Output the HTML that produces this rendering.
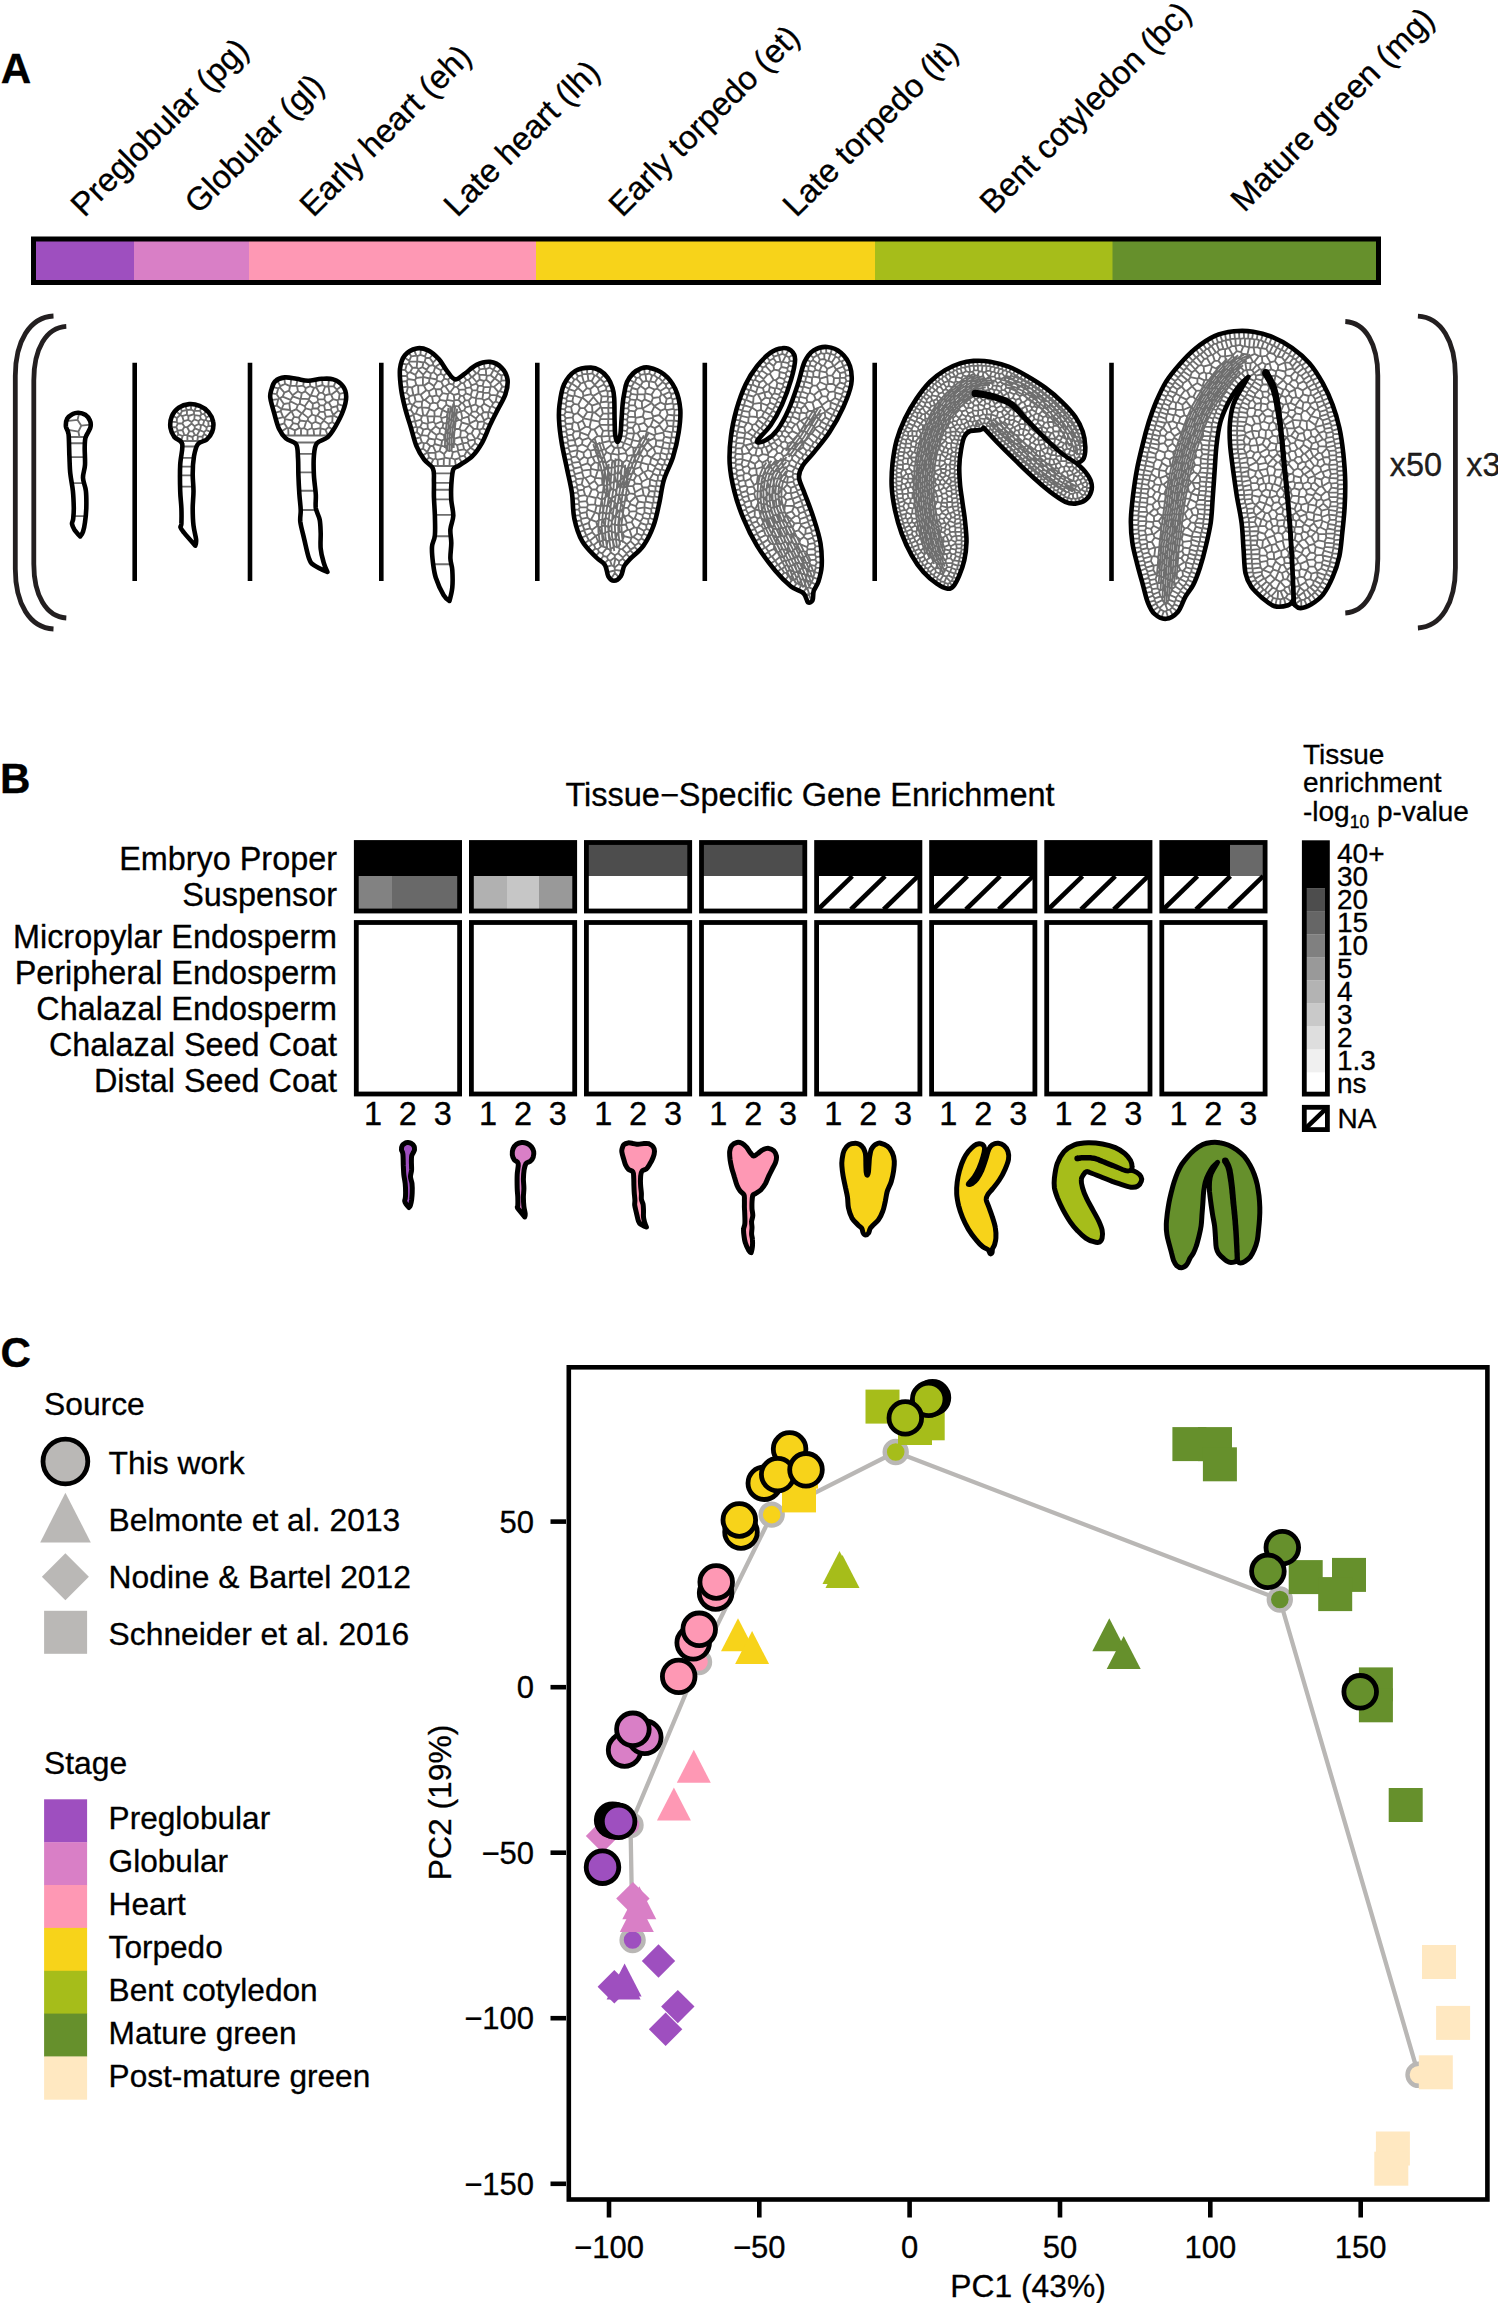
<!DOCTYPE html>
<html lang="en"><head><meta charset="utf-8"><title>Figure</title>
<style>html,body{margin:0;padding:0;background:#fff}svg{display:block}text{font-family:"Liberation Sans", sans-serif;stroke:#000;stroke-width:.3px}</style></head>
<body>
<svg width="1498" height="2303" viewBox="0 0 1498 2303" font-family='"Liberation Sans", sans-serif' fill="#000">
<g id="panelA">
<text x="0.8" y="82.5" font-size="42.2" text-anchor="start" font-weight="bold" >A</text>
<text font-size="32.8" transform="translate(84.3 218.3) rotate(-45)">Preglobular (pg)</text>
<text font-size="32.8" transform="translate(198.3 215.3) rotate(-45)">Globular (gl)</text>
<text font-size="32.8" transform="translate(313.3 218.3) rotate(-45)">Early heart (eh)</text>
<text font-size="32.8" transform="translate(457.3 218.3) rotate(-45)">Late heart (lh)</text>
<text font-size="32.8" transform="translate(622.3 218.3) rotate(-45)">Early torpedo (et)</text>
<text font-size="32.8" transform="translate(796.3 218.3) rotate(-45)">Late torpedo (lt)</text>
<text font-size="32.8" transform="translate(993.3 215.3) rotate(-45)">Bent cotyledon (bc)</text>
<text font-size="32.8" transform="translate(1244.3 213.3) rotate(-45)">Mature green (mg)</text>
<rect x="33.5" y="239" width="101.0" height="43.5" fill="#9e4fbf"/>
<rect x="134.0" y="239" width="115.5" height="43.5" fill="#d97fc6"/>
<rect x="249.0" y="239" width="287.5" height="43.5" fill="#fe98b4"/>
<rect x="536.0" y="239" width="339.5" height="43.5" fill="#f7d31a"/>
<rect x="875.0" y="239" width="238.0" height="43.5" fill="#a6bd1a"/>
<rect x="1112.5" y="239" width="266.5" height="43.5" fill="#66902c"/>
<rect x="33.5" y="239" width="1345" height="43.5" fill="none" stroke="#000" stroke-width="5"/>
<line x1="134.7" y1="362.8" x2="134.7" y2="581" stroke="#000" stroke-width="4.6"/>
<line x1="250.0" y1="362.8" x2="250.0" y2="581" stroke="#000" stroke-width="4.6"/>
<line x1="381.3" y1="362.8" x2="381.3" y2="581" stroke="#000" stroke-width="4.6"/>
<line x1="537.3" y1="362.8" x2="537.3" y2="581" stroke="#000" stroke-width="4.6"/>
<line x1="704.8" y1="362.8" x2="704.8" y2="581" stroke="#000" stroke-width="4.6"/>
<line x1="874.7" y1="362.8" x2="874.7" y2="581" stroke="#000" stroke-width="4.6"/>
<line x1="1111.5" y1="362.8" x2="1111.5" y2="581" stroke="#000" stroke-width="4.6"/>
<path d="M53.5 316.0C29.8 317.2 15.3 341.2 15.3 376.0L15.3 569.0C15.3 603.8 29.8 627.8 53.5 629.0" fill="none" stroke="#231f20" stroke-width="4.8"/>
<path d="M66.3 326.4C46.1 327.5 33.8 349.1 33.8 380.4L33.8 564.0C33.8 595.3 46.1 616.9 66.3 618.0" fill="none" stroke="#231f20" stroke-width="4.8"/>
<path d="M1345.3 321.5C1365.5 322.6 1377.8 344.2 1377.8 375.5L1377.8 559.0C1377.8 590.3 1365.5 611.9 1345.3 613.0" fill="none" stroke="#231f20" stroke-width="4.8"/>
<path d="M1417.9 316.2C1441.2 317.4 1455.4 341.4 1455.4 376.2L1455.4 568.0C1455.4 602.8 1441.2 626.8 1417.9 628.0" fill="none" stroke="#231f20" stroke-width="4.8"/>
<text x="1389.7" y="476.1" font-size="32.4" text-anchor="start" fill="#231f20">x50</text>
<text x="1466.3" y="476.1" font-size="32.4" text-anchor="start" fill="#231f20">x3</text>
<defs>
<pattern id="cells" width="6.4" height="5.6" patternUnits="userSpaceOnUse" patternTransform="rotate(8)"><rect width="6.4" height="5.6" fill="#fff"/><path d="M0 0.7H6.4M0.7 0V5.6" stroke="#6e6e6e" stroke-width="1.4" fill="none"/></pattern>
<path id="e1" d="M68.6 434.5C68.0 429.6 66.2 429.1 65.9 426.5C65.7 423.8 66.1 420.7 67.2 418.7C68.3 416.6 70.8 415.0 72.7 414.0C74.5 413.0 76.4 412.6 78.4 412.7C80.5 412.8 83.3 413.5 85.2 414.7C87.1 416.0 88.9 418.3 89.8 420.2C90.8 422.2 90.9 424.5 90.6 426.5C90.4 428.4 89.2 430.0 88.3 431.9C87.4 433.8 86.0 435.4 85.4 438.0C84.8 440.6 84.8 443.0 84.7 447.5C84.6 452.0 85.3 459.8 85.0 464.9C84.8 469.9 82.8 473.6 83.0 477.9C83.1 482.2 85.4 485.9 85.9 490.9C86.5 496.0 86.4 503.1 86.3 508.3C86.1 513.5 85.6 518.3 85.0 522.2C84.5 526.1 83.8 529.3 83.0 531.7C82.2 534.1 80.2 536.4 80.2 536.4C80.2 536.4 76.0 532.1 74.6 530.0C73.3 527.9 72.3 525.8 72.0 523.9C71.8 522.0 73.0 521.3 73.2 518.7C73.5 516.1 73.8 512.9 73.8 508.3C73.7 503.6 73.5 496.7 72.9 490.9C72.3 485.1 70.9 479.4 70.3 473.6C69.7 467.8 69.7 462.7 69.4 456.2C69.1 449.7 69.1 439.5 68.6 434.5Z"/>
<path id="e2" d="M182.2 444.1C181.3 439.4 176.4 439.9 174.4 437.1C172.5 434.4 170.9 431.0 170.4 427.6C170.0 424.1 170.4 419.6 171.8 416.3C173.2 413.0 175.9 409.6 178.8 407.6C181.7 405.6 185.7 404.4 189.2 404.1C192.7 403.8 196.4 404.6 199.6 405.9C202.8 407.2 206.0 409.3 208.3 411.9C210.5 414.6 212.5 418.2 213.1 421.5C213.8 424.8 213.2 428.9 212.1 431.9C211.0 434.9 208.9 437.7 206.5 439.7C204.2 441.7 199.9 441.3 197.9 444.1C195.8 446.8 194.9 451.3 194.0 456.2C193.2 461.1 192.7 467.8 192.7 473.6C192.6 479.4 193.5 485.1 193.5 490.9C193.5 496.7 192.7 502.5 192.7 508.3C192.7 514.1 192.9 520.4 193.5 525.6C194.1 530.8 195.8 536.2 196.1 539.5C196.4 542.8 195.3 545.6 195.3 545.6C195.3 545.6 186.4 535.6 184.0 532.6C181.5 529.5 180.9 528.8 180.5 527.4C180.1 525.9 181.2 527.1 181.4 523.9C181.5 520.7 181.6 513.8 181.4 508.3C181.2 502.8 180.4 498.2 180.2 490.9C180.0 483.7 179.8 472.7 180.2 464.9C180.5 457.1 183.2 448.7 182.2 444.1Z"/>
<path id="e3" d="M271.3 390.0C272.1 387.3 272.9 383.4 275.2 381.3C277.4 379.2 281.3 377.8 284.8 377.4C288.4 377.0 292.6 378.2 296.5 378.8C300.3 379.3 303.9 380.7 308.1 380.7C312.3 380.7 317.4 379.0 321.6 378.8C325.8 378.6 329.7 378.1 333.2 379.4C336.8 380.6 340.8 383.2 342.9 386.1C345.1 389.0 346.2 392.6 346.2 396.8C346.2 401.0 344.8 406.3 342.9 411.3C341.1 416.3 337.8 422.4 335.2 426.8C332.6 431.2 330.5 434.7 327.4 437.4C324.4 440.2 319.0 440.2 316.8 443.3C314.5 446.3 314.4 450.5 313.9 455.8C313.4 461.2 313.6 468.7 313.9 475.2C314.2 481.6 315.5 489.1 315.8 494.6C316.1 500.0 315.2 503.9 315.8 508.1C316.5 512.3 318.9 515.5 319.7 519.7C320.5 523.9 320.5 528.4 320.7 533.3C320.8 538.1 320.2 543.9 320.7 548.8C321.1 553.6 322.4 558.4 323.6 562.3C324.7 566.2 327.4 572.0 327.4 572.0C327.4 572.0 317.0 567.5 313.9 565.2C310.8 563.0 310.7 562.8 309.0 558.4C307.4 554.1 305.7 545.2 304.2 539.1C302.8 532.9 300.9 526.5 300.3 521.7C299.8 516.8 300.9 514.6 300.7 510.0C300.6 505.5 299.8 500.4 299.4 494.6C299.0 488.7 298.6 481.3 298.4 475.2C298.2 469.1 298.4 462.9 298.0 457.8C297.6 452.6 298.1 447.4 296.1 444.2C294.0 441.0 288.7 441.0 285.8 438.4C283.0 435.8 281.0 432.9 279.0 428.7C277.1 424.5 275.7 418.4 274.2 413.2C272.7 408.1 270.8 401.6 270.3 397.8C269.8 393.9 270.5 392.8 271.3 390.0Z"/>
<path id="e4" d="M400.0 368.7C400.7 363.2 402.1 358.6 404.9 355.2C407.6 351.8 412.6 349.2 416.5 348.4C420.4 347.6 424.4 348.6 428.1 350.3C431.8 352.1 435.5 355.5 438.8 359.0C442.0 362.6 444.7 368.2 447.5 371.6C450.2 375.0 452.3 379.0 455.2 379.4C458.1 379.7 461.3 376.0 464.9 373.6C468.4 371.1 472.3 366.8 476.5 364.8C480.7 362.9 485.9 361.5 490.1 361.9C494.2 362.4 498.8 364.8 501.7 367.8C504.6 370.7 506.8 375.0 507.5 379.4C508.1 383.7 507.2 388.9 505.5 393.9C503.9 398.9 500.4 404.2 497.8 409.4C495.2 414.5 492.6 419.4 490.1 424.9C487.5 430.3 485.2 437.1 482.3 442.3C479.4 447.4 476.5 452.0 472.6 455.8C468.8 459.7 462.3 463.3 459.1 465.5C455.9 467.8 454.6 466.2 453.3 469.4C452.0 472.6 451.7 479.7 451.3 484.9C451.0 490.0 451.0 495.2 451.3 500.4C451.7 505.5 453.4 511.0 453.3 515.8C453.1 520.7 450.7 524.9 450.4 529.4C450.0 533.9 451.3 538.1 451.3 543.0C451.3 547.8 450.2 553.9 450.4 558.4C450.5 563.0 452.0 565.2 452.3 570.1C452.6 574.9 452.8 582.3 452.3 587.5C451.8 592.6 449.4 601.0 449.4 601.0C449.4 601.0 445.9 599.1 443.6 595.2C441.3 591.3 437.6 583.3 435.8 577.8C434.1 572.3 433.6 567.5 432.9 562.3C432.3 557.1 431.7 551.3 432.0 546.8C432.3 542.3 434.4 540.4 434.9 535.2C435.4 530.0 435.0 522.3 434.9 515.8C434.7 509.4 434.1 502.3 433.9 496.5C433.8 490.7 434.1 485.7 433.9 481.0C433.8 476.3 434.6 472.0 432.9 468.4C431.3 464.9 427.0 463.4 424.2 459.7C421.5 456.0 418.7 451.6 416.5 446.2C414.2 440.7 412.6 433.2 410.7 426.8C408.7 420.3 406.5 413.9 404.9 407.4C403.3 401.0 401.8 394.5 401.0 388.1C400.2 381.6 399.4 374.2 400.0 368.7Z"/>
<path id="e5" d="M559.5 404.9C560.3 398.8 561.4 390.1 564.0 384.5C566.7 378.8 571.0 373.7 575.4 370.9C579.8 368.0 586.6 367.7 590.7 367.6C594.8 367.5 597.1 368.8 600.0 370.5C602.9 372.2 605.7 374.9 607.8 377.8C609.9 380.7 611.4 384.6 612.5 388.0C613.6 391.4 613.9 392.8 614.2 398.1C614.6 403.4 614.4 413.9 614.6 420.0C614.8 426.1 614.7 431.3 615.2 435.0C615.7 438.7 616.6 442.0 617.5 442.0C618.4 442.0 619.6 438.7 620.3 435.0C621.0 431.3 621.1 425.3 621.5 420.0C621.9 414.7 622.2 408.1 622.7 403.4C623.2 398.7 623.8 395.6 624.5 392.0C625.2 388.4 625.6 385.1 627.0 382.0C628.4 378.9 630.8 375.7 633.0 373.5C635.2 371.3 637.4 370.0 640.0 369.0C642.6 368.0 644.4 366.7 648.4 367.6C652.4 368.5 659.4 370.7 663.9 374.3C668.4 377.8 672.5 383.1 675.3 389.0C678.0 394.9 679.7 402.3 680.3 409.4C680.8 416.6 679.9 424.2 678.7 432.1C677.5 440.1 675.4 449.2 673.0 457.1C670.5 465.0 666.2 472.2 663.9 479.8C661.6 487.4 661.1 494.9 659.4 502.5C657.7 510.1 656.3 518.0 653.7 525.2C651.1 532.4 647.5 539.9 643.5 545.6C639.5 551.3 633.1 555.8 629.9 559.2C626.7 562.6 625.7 563.2 624.2 566.0C622.7 568.9 622.5 573.8 620.8 576.3C619.1 578.7 616.1 580.8 614.0 580.8C611.9 580.8 609.8 578.9 608.3 576.3C606.8 573.6 607.0 568.1 604.9 564.9C602.8 561.7 599.6 560.9 595.8 557.0C592.0 553.0 585.8 547.5 582.2 541.1C578.6 534.7 576.0 526.3 574.3 518.4C572.6 510.4 573.1 501.4 572.0 493.4C570.9 485.5 569.2 479.0 567.4 470.7C565.7 462.4 563.2 451.8 561.8 443.5C560.4 435.2 559.4 427.2 559.1 420.8C558.7 414.4 558.7 411.0 559.5 404.9Z"/>
<path id="e6" d="M781.9 348.2C785.3 347.8 788.8 348.5 791.0 350.4C793.2 352.3 795.1 354.6 795.1 359.5C795.1 364.4 793.2 372.4 791.0 379.9C788.8 387.5 785.3 397.3 781.9 404.9C778.5 412.5 774.7 419.3 770.6 425.3C766.4 431.4 757.7 438.8 757.0 441.2C756.2 443.7 762.6 442.0 766.0 440.1C769.5 438.2 773.6 435.0 777.4 429.9C781.2 424.8 785.3 417.0 788.7 409.4C792.1 401.9 795.2 392.4 797.8 384.5C800.5 376.5 802.0 367.4 804.6 361.8C807.3 356.1 809.9 352.9 813.7 350.4C817.5 348.0 822.8 346.6 827.3 347.0C831.9 347.4 837.2 349.5 840.9 352.7C844.7 355.9 848.3 361.0 850.0 366.3C851.7 371.6 852.3 377.7 851.2 384.5C850.0 391.3 846.8 399.2 843.2 407.2C839.6 415.1 834.5 424.6 829.6 432.1C824.7 439.7 818.3 446.9 813.7 452.6C809.2 458.2 804.8 462.0 802.4 466.2C799.9 470.3 798.6 473.0 799.0 477.5C799.3 482.1 802.2 486.6 804.6 493.4C807.1 500.2 811.1 510.1 813.7 518.4C816.4 526.7 819.2 535.4 820.5 543.4C821.8 551.3 822.0 559.6 821.7 566.0C821.3 572.5 819.6 577.8 818.3 581.9C816.9 586.1 814.7 588.0 813.7 591.0C812.8 594.0 813.5 598.2 812.6 600.1C811.6 602.0 809.6 603.5 808.0 602.4C806.5 601.2 806.3 595.9 803.5 593.3C800.7 590.6 795.7 590.3 791.0 586.5C786.3 582.7 780.8 577.4 775.1 570.6C769.5 563.8 762.3 554.3 757.0 545.6C751.7 536.9 747.1 527.5 743.4 518.4C739.6 509.3 736.5 500.2 734.3 491.1C732.0 482.1 730.3 473.0 729.7 463.9C729.2 454.8 729.7 445.8 730.9 436.7C732.0 427.6 734.1 418.1 736.5 409.4C739.0 400.7 742.2 391.7 745.6 384.5C749.0 377.3 752.8 371.6 757.0 366.3C761.1 361.0 766.4 355.7 770.6 352.7C774.7 349.7 778.5 348.5 781.9 348.2Z"/>
<path id="e7" d="M973.5 360.9C978.5 360.6 984.3 360.7 990.2 361.7C996.0 362.7 1002.4 364.4 1008.5 366.7C1014.6 369.1 1020.8 372.4 1026.9 375.9C1033.0 379.4 1039.4 383.3 1045.2 387.6C1051.1 391.9 1056.9 396.9 1061.9 401.8C1066.9 406.6 1071.8 411.8 1075.3 416.8C1078.8 421.8 1081.1 426.8 1082.8 431.8C1084.5 436.8 1085.1 442.4 1085.3 446.8C1085.4 451.3 1085.0 455.7 1083.6 458.5C1082.2 461.3 1076.9 463.5 1076.9 463.5C1076.9 463.5 1082.9 468.8 1085.3 471.9C1087.7 474.9 1090.2 478.5 1091.1 481.9C1092.1 485.2 1092.1 488.8 1091.1 491.9C1090.2 494.9 1087.9 498.3 1085.3 500.2C1082.6 502.2 1078.6 503.3 1075.3 503.6C1071.9 503.8 1069.4 503.8 1065.3 501.9C1061.1 499.9 1055.5 495.9 1050.2 491.9C1045.0 487.8 1039.4 483.0 1033.6 477.7C1027.7 472.4 1021.3 466.2 1015.2 460.2C1009.1 454.2 1002.1 447.2 996.8 441.8C991.6 436.4 983.5 427.6 983.5 427.6C983.5 427.6 982.4 429.6 980.1 430.1C977.9 430.7 972.8 429.9 970.1 431.0C967.5 432.1 965.8 433.6 964.3 436.8C962.8 440.0 961.8 445.2 961.0 450.2C960.1 455.2 959.4 461.0 959.3 466.8C959.1 472.7 959.6 479.1 960.1 485.2C960.7 491.3 961.8 497.4 962.6 503.6C963.5 509.7 964.5 515.5 965.1 521.9C965.8 528.3 966.6 535.6 966.5 541.9C966.3 548.3 965.5 554.7 964.3 560.3C963.1 565.9 961.1 571.0 959.3 575.3C957.5 579.6 955.4 583.9 953.4 586.2C951.5 588.4 950.4 589.1 947.6 588.7C944.8 588.3 940.8 586.5 936.8 583.7C932.7 580.9 927.6 576.7 923.4 572.0C919.2 567.3 915.3 561.7 911.7 555.3C908.1 548.9 904.5 541.1 901.7 533.6C898.9 526.1 896.7 518.0 895.0 510.2C893.4 502.5 892.1 494.7 891.7 486.9C891.3 479.1 891.7 471.3 892.5 463.5C893.4 455.7 894.6 447.7 896.7 440.1C898.8 432.6 901.7 425.4 905.0 418.5C908.4 411.5 912.6 404.5 916.7 398.4C920.9 392.3 925.4 386.5 930.1 381.7C934.8 377.0 940.1 373.1 945.1 370.1C950.1 367.0 955.4 364.9 960.1 363.4C964.8 361.8 968.5 361.2 973.5 360.9Z"/>
<path id="e8" d="M1233.9 331.3C1240.4 330.6 1246.8 330.7 1253.3 331.7C1259.7 332.7 1266.2 334.4 1272.6 337.1C1279.1 339.8 1285.8 343.4 1292.0 347.8C1298.1 352.1 1304.2 357.3 1309.4 363.2C1314.6 369.2 1319.1 376.6 1323.0 383.6C1326.8 390.5 1329.9 397.4 1332.6 404.9C1335.4 412.3 1337.6 420.0 1339.4 428.1C1341.2 436.2 1342.3 444.5 1343.3 453.3C1344.2 462.0 1345.0 471.3 1345.2 480.4C1345.4 489.4 1345.1 498.8 1344.6 507.5C1344.1 516.2 1343.2 524.6 1342.3 532.6C1341.4 540.7 1341.0 548.4 1339.4 555.9C1337.8 563.3 1335.4 570.7 1332.6 577.2C1329.9 583.6 1326.5 590.1 1323.0 594.6C1319.4 599.1 1315.0 602.0 1311.3 604.3C1307.6 606.5 1303.4 608.0 1300.7 608.1C1297.9 608.3 1296.2 606.5 1294.9 605.2C1293.6 603.9 1292.9 600.4 1292.9 600.4C1292.9 600.4 1291.2 604.3 1288.1 605.2C1285.0 606.2 1278.7 607.3 1274.6 606.2C1270.4 605.1 1266.8 601.7 1262.9 598.5C1259.1 595.2 1254.2 591.0 1251.3 586.8C1248.4 582.6 1246.8 579.4 1245.5 573.3C1244.2 567.2 1244.2 558.4 1243.6 550.1C1242.9 541.7 1242.8 532.0 1241.6 523.0C1240.5 513.9 1238.3 504.9 1236.8 495.8C1235.4 486.8 1234.1 477.5 1232.9 468.7C1231.8 460.0 1230.5 451.3 1230.0 443.6C1229.5 435.8 1229.4 429.1 1230.0 422.3C1230.7 415.5 1231.3 409.7 1233.9 402.9C1236.5 396.1 1243.1 386.0 1245.5 381.6C1247.9 377.3 1248.4 376.8 1248.4 376.8C1248.4 376.8 1241.2 383.1 1237.8 387.4C1234.4 391.8 1231.0 397.1 1228.1 402.9C1225.2 408.7 1222.3 415.2 1220.3 422.3C1218.4 429.4 1217.4 437.1 1216.5 445.5C1215.5 453.9 1215.2 463.6 1214.5 472.6C1213.9 481.7 1213.2 491.3 1212.6 499.7C1212.0 508.1 1211.8 515.2 1210.7 523.0C1209.5 530.7 1207.6 538.8 1205.8 546.2C1204.1 553.6 1202.1 561.0 1200.0 567.5C1197.9 573.9 1195.7 580.1 1193.2 584.9C1190.8 589.7 1188.1 592.0 1185.5 596.5C1182.9 601.0 1181.0 608.3 1177.8 612.0C1174.5 615.7 1170.0 618.5 1166.1 618.8C1162.3 619.1 1157.6 616.7 1154.5 613.9C1151.5 611.2 1149.7 607.2 1147.8 602.3C1145.8 597.5 1144.7 591.4 1142.9 584.9C1141.1 578.4 1138.9 570.7 1137.1 563.6C1135.3 556.5 1133.3 549.7 1132.3 542.3C1131.2 534.9 1130.7 527.1 1130.9 519.1C1131.1 511.0 1132.2 502.3 1133.2 493.9C1134.3 485.5 1135.5 477.1 1137.1 468.7C1138.7 460.4 1141.0 451.3 1142.9 443.6C1144.8 435.8 1146.5 429.4 1148.7 422.3C1151.0 415.2 1153.6 407.8 1156.5 401.0C1159.4 394.2 1162.3 387.8 1166.1 381.6C1170.0 375.5 1174.9 369.7 1179.7 364.2C1184.5 358.7 1189.4 353.4 1195.2 348.7C1201.0 344.0 1208.1 339.0 1214.5 336.1C1221.0 333.2 1227.4 332.0 1233.9 331.3Z"/>
</defs>
<use href="#e1" fill="#fff"/>
<path d="M67.1 429.6l11.3 2M79.5 437l-1.1-5.4M79.2 412.8l-1.6 7.1M90.7 424.6l-9.4 1.1M77.6 419.9l3.7 5.8M66.3 421.1l11.3-1.2M78.4 431.6l2.9-5.9M68.8 437l16.9 0M69.1 443.2l15.7 0M69.5 457.1l15.5 0M71.7 483.1l12.3 0M73.5 516.1l12.3 0" fill="none" stroke="#6e6e6e" stroke-width="1.85"/>
<use href="#e1" fill="none" stroke="#000" stroke-width="4.6" stroke-linejoin="round"/>
<use href="#e2" fill="#fff"/>
<path d="M206.8 410.5l-2.7 3.4M210.6 415.2l-4.2 2.3M206.4 417.5l-2.3-3.6M212.8 420.1l-4.6 1.4M206.4 417.5l-.6 2.4M208.2 421.5l-2.4-1.6M213.3 426.5l-4.7-.7M208.2 421.5l.4 4.3M202.1 407.1l-2.2 3.6M204.1 413.9l-2.5 .2M199.9 410.7l1.7 3.4M196.7 404.9l-2.2 5.9M199.9 410.7l-5.4 .1M170.5 427.7l5.8-.7M172.1 433.1l5.4-2.1M176.3 427l1.4 3.6M177.5 431l.2-.4M190.9 404.1l.2 5.4M194.5 410.8l-.5 .3M191.1 409.5l2.9 1.6M211.9 432.4l-5.6-2.3M208.6 425.8l-1.9 1.6M206.3 430.1l.4-2.7M205.8 419.9l-1.5 .6M204.3 420.5l-1.3 4.2M206.7 427.4l-3.7-2.7M200.1 415.9l-5.4-.7M200.1 415.9l.7 3.2M198.5 421l2.3-1.9M198.5 421l-4.2-1.6M194.3 419.4l.4-4.2M201.6 414.1l-1.5 1.8M194 411.1l0 3M194 414.1l.7 1.1M204.3 420.5l-3.5-1.4M203 424.7l-2 .7M198.7 424l2.3 1.4M198.7 424l-.2-3M179.8 406.9l2.2 4.2M185 404.9l1.8 5.1M186.8 410l-4.8 1.1M191.1 409.5l-4.1 .6M186.8 410l.2 .1M175.3 410.8l4.9 3.9M182 411.1l-1.8 3.6M178.4 434.4l4.2 1.6M178.4 434.4l-2.9 3.8M182.6 436l-1.4 5M177.5 431l.9 3.4M203.1 441l-.7-4.4M197.3 441l.7-4.6M198 436.4l4.4 .2M206.3 430.1l-2.2 1.9M201 425.4l-.9 4.9M200.1 430.3l4 1.7M208.9 437.3l-4.7-3.2M202.4 436.6l1.8-2.5M204.2 434.1l-.1-2.1M193 441l-.5-4M187.4 441l0-5.6M187.4 435.4l5.1 1.6M177.7 430.6l4.8-.6M182.6 436l1.7-1.2M182.5 430l1.8 4.8M187.4 435.4l-.1-.2M184.3 434.8l3 .4M172.2 415.6l4.7 2.4M180.2 414.7l.1 .2M180.3 414.9l-3.4 3.1M170.5 421.7l6.3 .5M176.9 418l-.1 4.2M176.3 427l1.5-3.5M176.8 422.2l1 1.3M197 435.2l2.7-4.8M197 435.2l-2.2-.4M194.8 434.8l-2-3.7M199.7 430.4l-4.8-2M194.9 428.4l-2.1 2.7M198 436.4l-1-1.2M200.1 430.3l-.4 .1M192.5 437l2.3-2.2M189.3 431.3l-2 3.9M189.3 431.3l3.5-.2M194.5 426.1l.4 2.3M198.7 424l-4.2 2.1M187 410.1l-.1 4.6M180.3 414.9l1.9 1.2M182.2 416.1l4.7-1.4M194 414.1l-5.6 1.9M188.4 416l-1.5-1.3M182.3 423.4l1.4-2.3M182.3 423.4l2.2 3.4M183.7 421.1l4.7-1.2M184.5 426.8l2.7 .5M187.2 427.3l4.4-3.8M188.4 419.9l3.1 2.2M191.5 422.1l.1 1.4M177.8 423.5l4.5-.1M182.2 416.1l1.5 5M182.5 430l2-3.2M188.4 416l0 3.9M189.3 431.3l-2.1-4M194.5 426.1l-2.9-2.6M194.3 419.4l-2.8 2.7M180.4 441l23.7 0M182.4 446.5l14.1 0M180.9 457.9l12.9 0M180.1 466.6l12.8 0M180 475.3l12.7 0M180.1 486.6l13.3 0" fill="none" stroke="#6e6e6e" stroke-width="1.85"/>
<use href="#e2" fill="none" stroke="#000" stroke-width="4.6" stroke-linejoin="round"/>
<use href="#e3" fill="#fff"/>
<path d="M342.4 385.6l-5.5 4M336.1 380.6l-2.4 5.7M333.7 386.3l3.2 3.3M270.7 400.2l7.6-1.1M272.4 406.8l4.3-1.3M276.7 405.5l1.6-6.4M345.8 392.4l-6.2 1.4M336.9 389.6l0 .8M339.6 393.8l-2.7-3.4M278.3 388.3l-1.7 5.9M278.3 388.3l-6.1-1.4M276.6 394.2l-6.2-1.1M278.3 399.1l1-.9M279.3 398.2l-2.7-4M284.3 377.5l.7 6.4M276.9 380l3.5 6.1M280.4 386.1l4.6-2.2M278.3 388.3l1.5-.9M280.4 386.1l-.6 1.3M295 430.4l-5.2-2.6M295 430.4l-.4 5.1M288.5 435.5l-.3-7.3M289.8 427.8l-1.6 .4M293 423.2l-3.2 4.6M293 423.2l5.1 1M295 430.4l4.4-2.5M299.4 427.9l-1.3-3.7M298.1 424.2l1.9-3.7M300 420.5l-1.1-2.9M293 423.2l-1.1-2.8M291.9 420.4l2.2-3.6M294.1 416.8l4.8 .8M291.6 411.4l2.5 5.4M291.6 411.4l-.5-.1M285 419.2l6.9 1.2M285 419.2l-.5-1.2M291.1 411.3l-6.6 6.7M274.2 413.1l6.5-1.9M275.8 419.2l7.3-2.1M283.1 417.1l-2.4-5.9M276.7 405.5l4.7 3.6M280.7 411.2l.7-2.1M284.3 423.3l2.9 4.5M284.3 423.3l-6.5 2.2M287.2 427.8l-6.5 4.1M285 419.2l-.7 4.1M288.2 428.2l-1-.4M283.1 417.1l1.4 .9M282.6 396.6l1.8-4M282.6 396.6l7.9 3.3M284.4 392.6l4.7-1.9M289.1 390.7l3.5 4.5M290.5 399.9l2.2-3.5M292.7 396.4l-.1-1.2M279.3 398.2l.6 0M279.9 398.2l2.7-1.6M279.8 387.4l4.6 5.2M285 383.9l5 2.3M290 386.2l-.9 4.5M300.8 398.6l8.1 .6M300.8 398.6l.9-5.3M308.9 399.2l1.4-3.4M310.3 395.8l-5.1-4.4M305.2 391.4l-3.5 1.9M292.6 395.2l5.3-4M300.3 399.1l.5-.5M300.3 399.1l-7.6-2.7M301.7 393.3l-3.8-2.1M301 428.8l3.1-.6M301 428.8l0 6.7M304.1 428.2l3.4 1.8M307.5 430l-.1 5.5M299.4 427.9l1.6 .9M306.3 421.3l-6.3-.8M306.3 421.3l-2.2 6.9M311.9 428.2l-4.4 1.8M311.9 428.2l-.1-4.4M311.8 423.8l-4.1-3.3M306.3 421.3l1.4-.8M314.2 435.5l-.7-6.2M320 435.5l.6-7.1M313.5 429.3l6.9-1.2M320.6 428.4l-.2-.3M311.9 428.2l1.6 1.1M315.6 421.8l-3.8 2M320.7 424.1l-.3 4M315.6 421.8l5.1 2.3M296.3 409.2l5.3 4.1M296.3 409.2l1.5-4.2M299.8 403.7l5 2.6M299.8 403.7l-2 1.3M304.8 406.3l.9 2.1M305.7 408.4l-3.4 4.7M302.3 413.1l-.7 .2M291.6 411.4l4.7-2.2M298.9 417.6l2.7-4.3M300.3 399.1l-.5 4.6M309 400.2l-.1-1M309 400.2l-4.2 6.1M290.5 401.3l7.3 3.7M290.5 401.3l0-1.4M307.7 420.5l.5-2.6M308.2 417.9l-5.9-4.8M289.3 403.2l.8 6.8M289.3 403.2l-5.5 .8M290.1 410l-8.5-1M283.8 404l-2.2 5M291.1 411.3l-1-1.3M290.5 401.3l-1.2 1.9M279.9 398.2l3.9 5.8M281.4 409.1l.2-.1M339.6 393.8l-.7 5.4M336.9 390.4l-5.7 4.3M331.2 394.7l1.8 4.5M333 399.2l4.6 1.2M338.9 399.2l-1.3 1.2M338.9 399.2l7.1 .3M290.5 385.9l5.7-.2M290.5 385.9l.8-8M296.2 385.7l1.5-6.7M290 386.2l.5-.3M297.9 391.2l-.8-4.8M297.1 386.4l-.9-.7M316.4 386.9l6.2-1.9M322.6 385l-.7-6.2M316.4 386.9l-.7-7.2M303.2 385.6l2.5 2.5M303.2 385.6l.7-5.3M305.7 388.1l4.5-2M309.7 380.6l.5 5.5M297.1 386.4l6.1-.8M305.2 391.4l.5-3.3M329.7 394l-1.2-7.6M329.7 394l-4.6 1.3M325.1 395.3l-2.4-2.5M322.7 392.8l2.5-6.3M325.2 386.5l3.1-.2M328.5 386.4l-.2-.1M333.7 386.3l-5.2 .1M331.2 394.7l-1.5-.7M322.6 385l2.6 1.5M329 378.6l-.7 7.7M319.3 392.8l-2.5 3.9M319.3 392.8l-3.2-5.5M314.1 387.8l-3.3 7.8M314.1 387.8l2-.5M310.8 395.6l6 1.1M316.4 386.9l-.3 .4M322.7 392.8l-3.4 0M310.2 386.1l3.9 1.7M310.3 395.8l.5-.2M325.5 429.7l3.3-2.6M325.5 429.7l2.3 5.8M328.8 427.1l4.5 2.8M320.6 428.4l4.9 1.3M316.8 396.7l1.3 2.7M325.1 395.3l-.8 3.9M324.3 399.2l-6.2 .2M309 400.2l3.9 3.5M312.9 403.7l4.6-1.9M317.5 401.8l.6-2.4M325.1 410.2l-1-4.8M325.1 410.2l5.7-.5M330.8 409.7l.9-2.2M331.7 407.5l-2.9-5M324.1 405.4l2.2-2.9M328.8 402.5l-2.5 0M324.3 399.2l2 3.3M319.8 405.3l-2.3-3.5M319.8 405.3l4.3 .1M333 399.2l-4.2 3.3M332.3 422.2l.3-6.2M332.3 422.2l-3.7 1.7M332.6 416l-6.7 .9M328.6 423.9l-4.7-3.2M325.9 416.9l-2 3M323.9 420.7l0-.8M333.2 415.4l-.6 .6M333.2 415.4l6.5 3.2M336.4 424.7l-4.1-2.5M328.8 427.1l-.2-3.2M324.3 411.6l1.6 5.3M325.1 410.2l-.8 1.4M333.3 415l-2.5-5.3M333.2 415.4l.1-.4M320.7 424.1l3.2-3.4M337 406.2l1.1 4.4M337 406.2l1.1-2M338.1 404.2l6.4 2.2M338.1 410.6l4.4 1.8M333.3 415l4.8-4.4M331.7 407.5l5.3-1.3M337.6 400.4l.5 3.8M315.6 415.9l-3.5-1.4M315.6 415.9l1.7-.4M317.3 415.5l2.5-3.7M312.1 414.5l-.9-4.6M317.9 408.5l1.9 3.3M317.9 408.5l-5.3-.1M312.6 408.4l-1.4 1.5M315.6 421.8l0-5.9M308.2 417.9l3.9-3.4M323.9 419.9l-6.6-4.4M324.3 411.6l-4.5 .2M305.7 408.4l5.5 1.5M319.8 405.3l-1.9 3.2M312.9 403.7l-.3 4.7M283.1 435.5l46.2 0M294.3 442.5l23.2 0M297.8 453.9l16.3 0M298.3 472.3l15.5 0M299.1 490.7l16.4 0M300.7 510l15.6 0" fill="none" stroke="#6e6e6e" stroke-width="1.85"/>
<use href="#e3" fill="none" stroke="#000" stroke-width="4.6" stroke-linejoin="round"/>
<use href="#e4" fill="#fff"/>
<path d="M413.9 349.2l2.4 6.4M408.4 352l2.8 4.3M416.3 355.6l-5.1 .7M403.6 356.9l5.6 3.9M411.2 356.3l-2 4.5M407.7 386.6l-6.8 1M407.7 386.6l.3 .3M408 386.9l-1.5 5.7M406.5 392.6l-4.7 .8M407.7 386.6l-.9-5.6M406.8 381l-6.5 .9M401 363.3l5.7 1.2M400 369.5l5.2 .7M405.2 370.2l1.5-5.7M503.4 398.9l-6.5-3.5M500.8 403.9l-5.1-2.4M495.7 401.5l1.2-6.1M483.1 440.8l-5.9-2.8M485.4 435.8l-5.5-2.8M479.9 433l-2.7 5M425.4 461l3.6-3.6M430.5 465.4l2.8-5.9M429 457.4l4.3 2.1M479.8 446.5l-4.7-3.3M476.3 451.6l-5.5-3.7M470.8 447.9l4.3-4.7M490.1 361.9l-.5 5.8M496.7 364.1l-3.3 5.6M493.4 369.7l-3.8-2M507.3 386.8l-5-.3M505.7 393.4l-5.9-2.2M502.3 386.5l-2.5 4.7M496.9 395.4l0 0M496.9 395.4l1.4-3.5M499.8 391.2l-1.5 .7M416.4 426.9l-5.3 1.3M416.4 426.9l-1.4-5.6M409.3 422.5l5.7-1.3M415 421.3l0-.1M407.7 417.3l5.8-2.5M415 421.2l-1.5-6.4M410.8 409.9l3 4.3M405.8 410.8l5-.9M413.8 414.2l-.3 .6M433.4 353.9l-3.7 4.1M437.7 357.9l-4.6 4.7M433.1 362.6l-3.4-4.6M406.8 381l1-2M399.9 376l7-.2M407.8 379l-.9-3.2M405.2 370.2l2.5 3M406.9 375.8l.8-2.6M415 380.1l1.2-2.1M415 380.1l-7.2-1.1M410.1 372.2l5.3 2.6M407.7 373.2l2.4-1M416.2 378l-.8-3.2M441.5 362.6l-6.3 4.4M435.2 367l0 0M433.1 362.6l-.1 2.4M435.2 367l-2.2-2M420.9 348.2l-.5 6.6M416.3 355.6l1.1 .6M420.4 354.8l-3 1.4M427.7 350.1l-2.8 6.3M420.4 354.8l4.5 1.6M429.7 358l-3.9-.2M424.9 356.4l.9 1.4M429.5 365.8l3.5-.8M429.5 365.8l-4.9-4.1M425.8 357.8l-1.2 3.9M422.4 367.2l1-4.7M422.4 367.2l4.2 2.4M426.6 369.6l2.9-3.8M423.4 362.5l1.2-.8M412.5 367.9l4.2-.4M412.5 367.9l-3.6-4.7M416.7 367.5l.5-6.1M409.5 361.7l7.7-.4M409.5 361.7l-.6 1.5M417.2 361.3l0 .1M418.5 370.1l-3.1 4.7M418.4 369l-1.7-1.5M418.4 369l.1 1.1M410.1 372.2l2.4-4.3M406.7 364.5l2.2-1.3M423.4 362.5l-6.2-1.1M422.4 367.2l-4 1.8M417.4 356.2l-.2 5.1M409.2 360.8l.3 .9M501.9 368l-4.3 4.1M493.4 369.7l.1 .3M497.6 372.1l-4.1-2.1M495.7 401.5l-2.6 1.6M497.7 409.5l-5.8-3.3M493.1 403.1l-1.2 3.1M422.9 385.1l1 .5M422.9 385.1l-4.8 .6M426.3 390.2l-2.4-4.6M420.7 394.8l5.6-4.6M420.7 394.8l-2.2-.8M418.5 394l-.4-8.3M415 380.1l1.3 4.8M408 386.9l3.9 .6M411.9 387.5l4.4-2.6M422.9 385.1l0-8M416.2 378l6.7-.9M416.3 384.9l1.8 .8M406.5 392.6l3.3 3.5M403 399.3l5.4-.9M409.8 396.1l-1.4 2.3M411.9 387.5l1.5 7.5M409.8 396.1l3.6-1.1M418.5 394l-4.1 1.3M413.4 395l1 .3M404.4 405.6l5.7-2.1M408.4 398.4l1.7 5.1M410.8 409.9l1.8-5M410.1 403.5l2.5 1.4M426.3 390.2l2.5 1M428.8 391.2l.9 4.2M420.7 394.8l2.6 5.2M429.7 395.4l-4.7 4.6M423.3 400l1.7 0M432 396.7l1.1 5.9M432 396.7l4.6-1.4M439.9 399.9l-2.7 3.4M439.9 399.9l-.6-2.8M437.2 403.3l-4.1-.7M439.3 397.1l-2.7-1.8M429.7 395.4l2.3 1.3M430.3 404l-5.3-4M430.3 404l2.8-1.4M438.5 407.7l-4.2 3.5M429.5 409.1l4.8 2.1M438.5 407.7l-1.3-4.4M429.5 409.1l-.5-1.1M429 408l1.3-4M464.1 410.4l-3.1 .9M461 411.4l0-.1M462.3 418.3l-1.3-6.9M462.3 418.3l6.1-1.7M464.1 410.4l5.4 4.5M469.5 414.9l-1.1 1.7M418.5 450.6l4.6-2M416.1 445.2l5.8-2.9M423.1 448.6l.8-5.2M421.9 442.3l2 1.1M414.1 439l6.1-1.6M421.9 442.3l-1.7-4.9M433 445.9l-2.7 .1M433 445.9l2.8 6.3M430.3 446l-3 6M435.8 452.2l-.3 .4M435.5 452.6l-7.4 .4M428.1 453l-.7-.5M427.4 452.5l-.1-.5M426.6 442.8l-2.7 .6M423.1 448.6l4.2 3.4M426.6 442.8l3.7 3.2M435.7 458.5l-.2-5.9M433.3 459.5l2.4-1M429 457.4l-.9-4.4M421.7 456.1l5.7-3.6M437.6 459.7l6.3-1.2M437.6 459.7l.3 6.3M443.9 458.5l-.2 7.5M435.7 458.5l1.9 1.2M461 411.4l-6.5 2.4M460.9 420.4l1.4-2.1M460.9 420.4l-2.1-.5M458.8 419.9l-4.3-6.1M454.7 421.9l4.1-2M454 427.3l1.7 1.5M455.7 428.8l3.7 .2M460.9 420.4l.8 2.1M454 427.3l.7-5.4M459.4 429l2.3-6.5M477.2 438l-2.1 .8M475.1 443.2l-.5-3.6M475.1 438.8l-.5 .8M435.2 367l5.6 3.2M440.8 370.2l3.9-2.5M426.6 369.6l.1 1.3M418.5 370.1l4.7 4.5M426.7 370.9l-3.5 3.7M422.9 377.1l.2-.3M423.2 374.6l-.1 2.2M429 382.4l-5.1 3.2M429 382.4l.5-3.9M423.1 376.8l6.4 1.7M494.9 378.4l3-5M494.9 378.4l4.8 3.7M501.4 380.7l-1.5 1.4M501.4 380.7l.2-5.1M501.6 375.6l-3.7-2.2M499.9 382.1l-.2 0M497.6 372.1l.3 1.3M493.5 370l-2.9 5.2M490.6 375.2l4.1 3.2M494.7 378.4l.2 0M507.6 380.4l-6.2 .3M502.3 386.5l-2.4-4.4M505.7 373.6l-4.1 2M498.3 391.9l-4.4-5M493.9 386.9l5.8-4.8M477.4 364.5l2.4 4.8M483.6 362.4l1.2 6.2M479.8 369.3l5-.7M489.6 367.7l-3.8 1.4M490.6 375.2l-3.8 .7M486.8 375.9l-.6-.8M486.2 375.1l-.4-6M484.8 368.6l1 .5M470.5 406.1l-1.8-5.7M470.5 406.1l-4.9 1.2M465.6 407.3l-2.8-4.3M468.7 400.4l-3.5-.1M465.2 400.3l-2.4 2.7M439.9 399.9l6.1 1.1M442.1 409.4l4.3-4.7M438.5 407.7l3.6 1.7M446 401l.4 3.7M442.6 393.2l-3.3 3.9M442.6 393.2l5.4 .9M448 394.1l-.9 5.8M446 401l1.1-1.1M413 404.9l2.6-3.6M413 404.9l5.1 3.1M415.6 401.3l6.5 .3M418.1 408l3.6-.8M421.7 407.2l.4-5.6M414.4 395.3l1.2 6M412.6 404.9l.4 0M415.9 413.5l-2.1 .7M415.9 413.5l2.2-5.5M423.3 400l-1.2 1.6M422 407.4l7 .6M422 407.4l-.3-.2M461.7 422.5l7.6 2.2M468.4 416.6l1.4 6.8M469.8 423.4l-.5 1.3M476 418.4l-5.7-3.9M476 418.4l3.4-3.9M479.4 414.5l-2.9-3.2M476.5 411.3l-4.5 .5M470.3 414.5l1.7-2.7M469.8 423.4l6.4-3.2M469.5 414.9l.8-.4M476.2 420.2l-.2-1.8M475.6 404.4l-4.9 1.8M475.6 404.4l2.8 2.2M478.4 406.6l-1.9 4.7M470.7 406.2l1.3 5.6M464.1 410.4l1.5-3.1M470.5 406.1l.2 .1M422 407.4l1.2 8.1M429.5 409.1l-3.2 6.4M426.3 415.5l-3.1 0M415.9 413.5l6 2.8M423.2 415.5l-1.3 .8M415 421.3l5.9-1.7M421.9 416.3l-1 3.3M439.5 451.1l4.5 3M439.5 451.1l-3.7 1.1M443.9 458.5l.8-.8M444 454.1l.7 3.6M449.5 466l.3-7.3M444.7 457.7l5.1 1M447.7 412.6l-1.1 4.1M447.7 412.6l4.1-1.5M451.8 411.1l2.4 2.7M454.2 413.8l-3.3 5.8M446.6 416.7l3.1 3.2M450.9 419.6l-1.2 .3M442.1 409.4l.2 .5M446.4 404.7l5.7 3.4M452.1 408.1l-.3 3M442.3 409.9l5.4 2.7M454.7 421.9l-3.8-2.3M454.5 413.8l-.3 0M464.9 430.5l-4 .1M464.9 430.5l3.4 3.3M460.9 430.6l-.7 6.4M468.3 433.8l-1.6 3.3M466.7 437.1l-5.4 .7M460.2 437l1.1 .8M469.3 424.7l0 0M459.4 429l1.5 1.6M469.3 424.7l-4.4 5.8M469.3 424.7l4.5 4.3M471.6 433.3l2.2-4.3M471.6 433.3l-3.3 .5M455.7 428.8l-3.4 6.6M452.8 437l-.5-1.6M454.6 438.7l-1.8-1.7M454.6 438.7l5.6-1.7M471.6 433.3l3.5 5.5M468.7 440.5l5.9-.9M468.7 440.5l-2-3.4M448.3 444.2l3.9 .4M448.3 444.2l-2.6 2.6M445.7 446.8l1.2 3.6M446.9 450.4l4.6 .3M452.2 444.6l-.7 6.1M446 439.7l6.8-2.7M448.3 444.2l-2.3-4.5M454.6 438.7l-.4 4.5M452.2 444.6l2-1.4M461.3 437.8l1.4 5.5M454.2 443.2l2.9 2M462.7 443.3l-5.6 1.9M448 379.6l1.3 4M448 379.6l3.3-3M454.9 379.3l-1.7 5.4M453.2 384.7l-3.9-1.1M461.2 383l-4.1 4.2M461.2 383l-3.1-4.4M454.4 386.7l2.7 .5M454.4 386.7l-1.2-2M450.1 392.5l4.3-5.8M445.3 386.3l4-2.7M449.7 392.6l-4.4-6.3M449.7 392.6l.4-.1M442.6 393.2l-1.7-4.2M448 394.1l1.7-1.5M445.3 386.3l-2-.3M440.9 389l2.4-3M436.6 395.3l-.9-6M440.9 389l-5.2 .3M428.8 391.2l5.2-3M429 382.4l4.9 3.6M433.9 386l.1 2.2M435.7 389.3l-1.7-1.1M426.7 370.9l4.2 2.6M429.5 378.5l.6-.4M430.1 378.1l.8-4.6M435.2 367l-1.5 5.1M433.7 372.1l-2.8 1.4M496.9 395.4l-6.6-.5M493.1 403.1l-4.3-4.8M488.8 398.3l1.5-3.4M465.2 400.3l-1.9-4.5M470.7 395.1l-4.8-1.8M471.7 397.1l-1-2M471.7 397.1l-3 3.3M463.3 395.8l2.6-2.5M457.1 387.2l1.9 2.6M459 389.8l-.3 3.9M450.1 392.5l3.7 2.5M453.8 395l4.9-1.3M459 389.8l6.2-.5M465.9 393.3l-.7-4M463.3 395.8l-3-.2M460.3 395.6l-1.6-1.9M479.4 429.9l-2.3-1.3M479.4 429.9l3.3-1.5M477.1 428.6l.9-6.6M482.7 428.4l1.8-5.6M478 422l5.8-.7M483.8 421.3l.7 1.5M479.9 433l-.5-3.1M473.8 429l3.3-.4M487.7 430.4l-5-2M476.2 420.2l1.8 1.8M490 425.1l-5.5-2.3M479.4 414.5l1.9 0M481.3 414.5l2.8 5.9M484.1 420.4l-.3 .9M492.4 419.9l-4.1-2.2M488.3 417.7l-4.2 2.7M483.6 412.2l4.6 0M483.6 412.2l-2.3-5.8M484 403.6l6.2 3.6M484 403.6l-2.7 2.8M490.2 407.2l-1.3 4.4M488.9 411.6l-.7 .6M481.3 414.5l2.3-2.3M488.3 417.7l-.1-5.5M478.4 406.6l2.9-.2M483.9 400.4l4.9-2.1M483.9 400.4l.1 3.2M491.9 406.2l-1.7 1M495.1 414.7l-6.2-3.1M426.6 442.8l2.3-4.3M428.9 438.5l-.9-2.6M420.2 437.4l.6-1.7M428 435.9l-6.4-.7M420.8 435.7l.8-.5M412.6 433.7l4.4-1.5M420.8 435.7l-3.8-3.5M416.4 426.9l1 .6M417 432.2l.4-4.7M445.7 446.8l-4.5-1.1M446.9 450.4l-2.9 3.7M439.5 451.1l1.5-5.2M441.2 445.7l-.2 .2M433 445.9l1.7-1.9M441 445.9l-6.3-1.9M428.9 438.5l6 1.1M434.7 444l.2-4.4M449.8 458.7l1.7-.7M451.5 450.7l1.3 1.5M452.8 452.2l-1.3 5.8M455.9 466l-1-6.5M462.4 463.4l-3.2-5.3M454.9 459.5l4.3-1.4M454.9 459.5l-3.4-1.5M468.7 440.5l-1.1 2.1M462.7 443.3l.1 .1M467.6 442.6l-4.8 .8M470.8 447.9l-.4 0M467.6 442.6l2.8 5.3M465.9 388.2l4.6-.9M465.9 388.2l-2.2-5.1M463.7 383.1l2.7-3.1M470.5 387.3l.9-2M471.4 385.3l-2.9-5.4M466.4 380l2.1-.1M472.3 390.3l-1.8-3M470.7 395.1l1.6-4.8M465.2 389.3l.7-1.1M461.2 383l2.5 .1M462.8 375.1l3.6 4.9M467.6 371.5l3.9 5.6M471.5 377.1l-3 2.8M441.4 381.9l-4.1-1M441.4 381.9l2.9-3.2M437.4 375.6l-.8 3.9M437.4 375.6l3.4-1.9M437.3 380.9l-.7-1.4M444.3 378.7l-.5-3.2M440.8 373.7l3 1.8M443.3 386l-1.9-4.1M433.9 386l3.4-5.1M448 379.6l-3.7-.9M430.1 378.1l6.5 1.4M433.7 372.1l3.7 3.5M440.8 370.2l0 3.5M448 372.3l-4.2 3.2M483.9 400.4l-1.5-1.5M489.2 392.9l-5.9-.1M490.3 394.9l-1.1-2M482.4 398.9l.9-6.1M475.6 404.4l.5-6M482.4 398.9l-6.3-.5M471.7 397.1l4.1 1M476.1 398.4l-.3-.3M454.1 405.9l-.3-4.8M454.1 405.9l4.4 .5M458.5 406.4l2.9-3.4M453.8 401.1l.6-.7M454.4 400.4l4.1-.5M461.4 403l-2.9-3.1M447.1 399.9l6.7 1.2M452.1 408.1l2-2.2M461 411.3l-2.5-4.9M462.8 403l-1.4 0M453.8 395l.6 5.4M460.3 395.6l-1.8 4.3M427.9 428.5l-.4-4.6M427.9 428.5l-4.6 1.1M427.5 423.9l-5.2-1.3M423.3 429.6l-3.3-2.6M422.3 422.6l-2.3 4.4M428 435.9l2.6-5.1M421.6 435.2l1.7-5.6M430.6 430.8l-2.7-2.3M426.3 415.5l1.1 .9M427.4 416.4l1 6.4M420.9 419.6l1.4 3M428.4 422.8l-.9 1.1M417.4 427.5l2.6-.5M441.7 421.3l-6.2 2.7M441.7 421.3l-.2-3.2M440.4 416.7l1.1 1.4M440.4 416.7l-5.7-.5M434.7 416.2l-.3 .2M434.4 416.4l-.6 5.5M433.8 421.9l1.7 2.1M442.3 409.9l-1.9 6.8M446.6 416.7l-5.1 1.4M434.3 411.2l.4 5M427.4 416.4l7 0M428.4 422.8l5.4-.9M458.2 450.4l5.9-1.1M458.2 450.4l-.5 .8M457.7 451.2l2.3 5.5M460 456.7l4.4-1M464.4 455.7l2.4-4.7M464.1 449.3l2.7 1.7M466.8 451l0 0M462.8 443.4l1.3 5.9M457.1 445.2l1.1 5.2M452.8 452.2l4.9-1M459.2 458.1l.8-1.4M467.3 460.2l-2.9-4.5M472.2 456.3l-5.4-5.3M470.4 447.9l-3.6 3.1M475.8 398.1l2.2-6.5M483.3 392.8l-.5-.6M482.8 392.2l-4.8-.6M472.3 390.3l4.8 0M476.4 383.7l1.8 2.1M471.4 385.3l5-1.6M478.2 385.8l-1.1 4.5M477.1 390.3l.9 1.3M450.1 427.1l-2.9 3.3M450.1 427.1l-2.2-4.1M447.2 430.4l-4.7-2.9M447.9 423l-4.5 .3M443.4 423.3l-.9 4.2M452.3 435.4l-5.1-3.3M454 427.3l-3.9-.2M447.2 432.1l0-1.7M449.7 419.9l-1.8 3.1M441.7 421.3l1.7 2M435.5 424l.1 2.4M442.5 427.5l-2.6 1.5M439.9 429l-4.3-2.6M430.6 430.8l.2-.1M430.8 430.7l4.8-4.3M490.4 383.3l.6 3.1M490.4 383.3l-4.1-3.6M486.3 379.7l-2.3 1.3M484 381l-1.4 4.8M483.8 387.2l-1.2-1.4M483.8 387.2l6.7-.2M491 386.4l-.5 .6M493.9 386.9l-2.9-.5M494.7 378.4l-4.3 4.9M486.8 375.9l-.5 3.8M482.8 392.2l1-5M478.2 385.8l4.4 0M489.2 392.9l1.3-5.9M479.7 379.6l-3.1 2.4M479.7 379.6l-.4-4.9M476.6 382l-4.3-5M472.3 377l4-3.7M479.3 374.7l-1.6-1.6M476.3 373.3l1.4-.2M476.4 383.7l.2-1.7M484 381l-4.3-1.4M486.2 375.1l-6.9-.4M471.5 377.1l.8-.1M471.6 368.1l4.7 5.2M479.8 369.3l-2.1 3.8M439.6 433.1l-3.1 1.9M439.6 433.1l4.4 2M444 435.1l.4 3.9M436.1 438.5l6 2.1M436.1 438.5l.4-3.5M444.4 439l-2.3 1.6M439.9 429l-.3 4.1M430.8 430.7l5.7 4.3M447.2 432.1l-3.2 3M446 439.7l-1.6-.7M434.9 439.6l1.2-1.1M441.2 445.7l.9-5.1M431.2 466l27.1 0M433.9 473.3l18.4 0M434 482.9l17.5 0M433.9 489.7l17.2 0M434 499.4l17.3 0M434.8 514.9l18.5 0M434.7 536.2l16 0M433.2 564.2l18.1 0M457.1 408.6l-3.1 27.5l-.3 11.9M455.2 406.1l-3.4 29.8l-.2 14.1M453.3 403.6l-3.7 32.1l-.2 16.3M450.8 405.7l-3.4 29.9l-.2 14.4M448.4 407.8l-3.2 27.6l-.3 12.7" fill="none" stroke="#6e6e6e" stroke-width="1.85"/>
<use href="#e4" fill="none" stroke="#000" stroke-width="4.6" stroke-linejoin="round"/>
<use href="#e5" fill="#fff"/>
<path d="M587.1 367.7l.1 6.2M580.7 368.7l1.8 5.7M587.2 373.9l-4.7 .5M610.7 579.3l4.1-6.4M619.4 577.9l-4.6-5M653.7 525.3l-5.5-1.9M651.5 530.8l-5.1-1.9M648.2 523.4l-2 1.5M646.4 528.9l-.2-4M610.9 459.5l-5 3.5M613.9 461.2l-3-1.7M607 468l-1.1-5M613.9 461.2l1 5.2M607 468l7.3-.8M614.3 467.2l.6-.8M618.8 459.1l4.4 3.4M618.8 459.1l-4.9 2.1M623.2 462.5l-.5 3.2M614.9 466.4l7.8-.7M578 376.1l3.9-.8M578 376.1l-1.5 3.1M581.9 375.3l2.1 7.1M576.5 379.2l4.3 4.3M584 382.4l-3.2 1.1M574.6 371.4l3.4 4.7M582.5 374.4l-.6 .9M650.3 368.1l-1.1 5.5M644.1 367.5l.7 6.6M644.8 374.1l.7 .4M649.2 373.6l-3.7 .9M644.8 374.1l-4.2 .8M640.6 374.9l-3.2-4.7M655.3 520.1l-5.5-2.1M648.2 523.4l.1-4.2M649.8 518l-1.5 1.2M661 452.8l5.8 1.9M661 452.8l1.1-5M662.1 447.8l6.5 1.1M668.6 448.9l0 4.3M668.6 453.2l-1.8 1.5M675.2 449.1l-6-.7M669.2 448.4l-.6 .5M673.6 455l-5-1.8M671.8 460.5l-5-1.6M666.8 458.9l0-4.2M676.4 444.1l-5.7-1.5M677.7 438l-6-.8M671.7 437.2l-.8 .8M670.9 438l-.2 4.6M669.2 448.4l.5-5M670.7 442.6l-1 .8M598.4 470l0-6.9M598.4 470l3.8 .9M605.9 463l-3.7-2.1M598.4 463.1l3.8-2.2M607 468l-.1 .3M602.2 470.9l4.7-2.6M614.3 467.2l1.5 6.2M615.8 473.4l-1.2 1.2M614.6 474.6l-4.6 0M606.9 468.3l3.1 6.3M598.4 463.1l-3.4-.8M597.8 470.3l-6.8-1.5M597.8 470.3l.6-.3M591 468.8l-.2-2.8M595 462.3l-4.2 3.7M592.7 457.3l-1.3-.5M592.7 457.3l2.3 5M590.8 466l-3.3-2.7M587.5 463.3l.4-4.8M587.9 458.5l3.5-1.7M587.5 447l.4 1.9M587.5 447l4-6.3M596 444.3l-4.3-3.5M591.5 440.7l.2 .1M595.7 449.3l-5.3 1.4M595.7 449.3l.3-5M590.4 450.7l-2.5-1.8M587.9 448.9l-4.5 3.8M587.9 458.5l-3.8-1.7M591.4 456.8l-1-6.1M584.1 456.8l-.7-4.1M579.6 460.2l4.5-3.4M587.5 463.3l-6.4 2.4M579.6 460.2l-.2 1.6M581.1 465.7l-1.7-3.9M615.8 473.4l3.8-.2M622.7 465.7l.2 .4M622.9 466.1l-3.3 7.1M606.6 452.1l-1.3-2.4M606.6 452.1l-4.7 6.9M601.9 459l-4.2-4M604.5 449.2l-6.3 2.2M604.5 449.2l.8 .5M597.7 455l.5-3.6M602.2 460.9l-.3-1.9M610.9 459.5l-.1-5.3M610.8 454.2l-4.2-2.1M592.7 457.3l5-2.3M602.4 442.9l-6.4 1.4M595.7 449.3l2.5 2.1M602.4 442.9l2.1 6.3M610.8 454.2l1-.5M611.3 444.9l-6 4.8M611.3 444.9l3.3 3.1M614.6 448l-2.8 5.7M618.8 459.1l-.3-4.3M611.8 453.7l6.7 1.1M618.5 454.8l.6-.6M619.1 454.2l6.7-1M623.2 462.5l3.2-2.5M626.4 460l1-4.2M625.8 453.2l1.6 2.6M567.2 393.1l-5.7-.6M567.2 393.1l1.8-3.9M569 389.2l-.1-.6M568.9 388.6l-5.5-2.6M584.4 382.5l4-2M584 382.4l.4 .1M587.2 373.9l.4 .3M588.4 380.5l-.8-6.3M593.2 367.8l-.8 5.6M592.4 373.4l-4.8 .8M573.3 396.4l-.9 4.9M573.3 396.4l-5.2-1.4M572.4 401.3l-5.4-.4M568.1 395l-1.9 3.6M567 400.9l-.8-2.3M567.2 393.1l.9 1.9M560.6 397.6l5.6 1M565.5 403.8l-5.7-.8M565.5 403.8l1.5-2.9M569 389.2l5.8 1.9M573.3 396.4l1.2-.9M574.5 395.5l.3-4.4M578 387.8l0 .2M580.8 383.5l-2.8 4.3M584.4 382.5l2.5 5.7M586.9 388.2l-4.1 4.1M578 388l4.8 4.3M662 372.9l-2.9 5M666.8 376.8l-4.3 4.5M662.5 381.3l-3.4-3.4M614.6 570.5l.3-.7M614.8 572.9l-.2-2.4M614.9 569.8l7.7 1.2M656.8 514.4l-5.4-1.5M658 508.9l-5.7-1.2M652.3 507.7l-1.1 1.1M651.4 512.9l-.2-4.1M649.8 518l.2-3.8M651.4 512.9l-1.4 1.3M626.4 460l5.9 3.2M633.9 455.1l1.5 6.1M633.9 455.1l-.3-.2M633.6 454.9l-6.2 .9M635.4 461.2l-3.1 2M626.5 468.7l5.5-1.6M622.9 466.1l3.6 2.6M632.3 463.2l-.3 3.9M626.5 468.7l1 6.1M634.1 473l-6.6 1.8M634.1 473l.1-3.6M632 467.1l2.2 2.3M636.4 475.5l-2.6 4.8M635 483.5l-1.2-3.2M639 475.6l-2.6-.1M639 475.6l3 6.2M635 483.5l6.1 .7M642 481.8l-.9 2.4M666.8 458.9l-2 1.4M669.3 466.6l-4.8-2.6M664.8 460.3l-.3 3.7M576.5 487l-5.4 .9M576.5 487l1.7 3.5M578.2 490.5l-.7 2M577.5 492.5l-5.5 .8M579.2 496.1l-1.7-3.6M579.2 496.1l6-.9M585.2 495.2l-1.7-5.5M583.5 489.7l-5.3 .8M577.9 498.5l1.3-2.4M577.9 498.5l-5.4 0M567.4 442.5l.9-1.8M568.3 440.7l-1.6-4M567.4 442.5l-5.7 .5M566.7 436.7l-5.8 1.1M568.9 446.4l-1.5-3.9M568.2 447.9l-5.4 1M568.2 447.9l.7-1.5M597.7 435.8l-6 5M594.3 429.5l-3.2-.2M597.7 435.8l-3.4-6.3M588.6 437.8l-.4-2.5M588.6 437.8l2.9 2.9M588.2 435.3l2.9-6M588.6 437.8l-6 2.4M587.5 447l-5.5-2.6M582 444.4l.6-4.2M576.4 456.3l1.3-5.8M576.4 456.3l-4.7 1.1M571.7 457.4l-2.1-4.1M577.4 450.2l.3 .3M577.4 450.2l-7.3 1.7M570.1 451.9l-.5 1.4M579.6 460.2l-3.2-3.9M583.4 452.7l-5.7-2.2M577.4 446.6l4.6-2.2M577.4 446.6l0 3.6M577.4 446.6l-1.7-1.6M568.9 446.4l6.8-1.4M568.2 447.9l1.9 4M581.1 465.7l-.2 1.1M590.4 469.7l.6-.9M590.4 469.7l-8 1M580.9 466.8l1.5 3.9M580.9 466.8l-6.9 1.7M582.4 470.7l-.3 1.5M582.1 472.2l-7.1 2M575 474.2l-1.8-4.1M573.2 470.1l.8-1.6M660.3 497.6l-5.9-1.3M659.3 503l-5.8-.6M654.4 496.3l-.9 .8M653.5 497.1l0 5.3M652.3 507.7l.3-4.6M652.6 503.1l.9-.7M571.9 383.5l-.5 .1M571.9 383.5l2.4-3.8M571.4 383.6l-5.2-3.1M574.3 379.7l-4-4.5M574.8 391.1l3.2-3.1M578 387.8l-6.1-4.3M568.9 388.6l2.5-5M576.5 379.2l-2.2 .5M623.5 487.5l2.9-.8M623.5 487.5l-4.2-1.8M626.7 486.3l.2-7.6M626.7 486.3l-.3 .4M623.7 477.2l2.3 .2M623.7 477.2l-5.8 5.1M617.9 482.3l1.4 3.4M626.9 478.7l-.9-1.3M629.6 493.4l-3 2.4M621.9 494.3l4.7 1.5M629.6 493.4l-3.2-6.7M621.9 494.3l1.6-6.8M619.3 495.6l2.6-1.3M617 494.9l2.3 .7M617 494.9l-1.5-4.7M615.5 490.2l3.8-4.5M633.8 480.3l-6.9-1.6M633.1 485.9l1.9-2.4M633.1 485.9l-6.4 .4M627.5 474.8l-1.5 2.6M619.6 473.2l4.1 4M614.6 474.6l1.2 6.8M615.8 481.4l2.1 .9M636.4 475.5l-2.3-2.5M582.8 392.3l.6 3.6M586.9 388.2l3.4 .8M590.3 389l.7 5.2M591 394.2l-7.6 1.7M574.5 395.5l7.3 2.6M581.8 398.1l.8-.4M583.4 395.9l-.8 1.8M602.4 442.9l.1-.3M597.7 435.8l3.6 .7M601.3 436.5l.1 .1M602.5 442.6l-1.1-6M591 394.2l2.4 1.7M593.4 395.9l0 1.1M582.6 397.7l5.9 5.1M593.4 397l-4.9 5.8M680.4 415.3l-6.2 .1M680.2 409.3l-5.7 .5M674.5 409.8l-.3 5.6M679.5 403.3l-5.9 1.2M673.6 404.5l-.2 4.3M674.5 409.8l-1.1-1M656.4 370.1l-2.3 5M659.1 377.9l-1.5 .1M657.6 378l-3.5-2.9M649.2 373.6l2.9 2M654.1 375.1l-2 .5M678.6 432.7l-5.7-1.3M671.7 437.2l0-4.8M672.9 431.4l-1.2 1M586.4 535.6l2.5 4.7M586.4 535.6l-5.8 2.4M588.9 540.3l-5 3.5M586.4 535.5l-2.3-5.1M584.1 530.4l-5.8 2.1M586.4 535.5l0 .1M646.2 541.4l-4.7-2.9M642.9 546.4l-4.4-3.5M638.5 542.9l.1-2.4M641.5 538.5l-2.9 2M634.7 547.1l-4.2 2.5M634.7 547.1l.2-1.7M634.9 545.4l-4.4-4.3M630.5 549.6l-3.7-4.8M630.5 541.1l-3.6 3.1M626.8 544.8l.1-.6M638.8 551l-4.1-3.9M634.6 554.9l-4.3-4.5M630.3 550.4l.2-.8M638.5 542.9l-3.6 2.5M631.2 538l-.7 3.1M631.2 538l-7.1-1.8M624.1 536.2l-1.9 4.5M622.2 540.7l4.7 3.5M586.4 535.5l6-3.2M584.3 529.9l-.2 .5M584.3 529.9l5.9-1.5M592.4 532.3l-.3-2.5M590.2 528.4l1.9 1.4M615.3 507.7l3.2 3.2M611.4 508.9l3.9-1.2M611.4 508.9l-.9 3.4M614.5 516.1l-4-3.8M614.5 516.1l1.2-.3M618.5 510.9l-2.8 4.9M646.2 524.9l-5.6-1.9M648.3 519.2l-5.4-1.4M642.9 517.8l-2.5 3.7M640.6 523l-.2-1.5M650 514.2l-5.5-1.5M651.2 508.8l-6.7-1.4M644.5 512.7l0-5.3M642.9 517.8l-.4-2.8M644.5 512.7l-2 2.3M662.1 447.8l0-.1M669.7 443.4l-6.1-1.2M663.6 442.2l-1.5 5.5M634.2 469.4l6-2.4M635.4 461.2l5.7 1.5M641.1 462.7l-.9 4.3M639.4 454l-5.5 1.1M639.4 454l3.7 3M643.1 457l-1.9 5.6M641.1 462.7l.1-.1M639 475.6l4.1-3.4M640.2 467l2.9 5.2M633.1 485.9l2 6.4M629.6 493.4l4.9 .6M635.1 492.3l-.6 1.7M661.2 492.4l-5.8-1.5M656.4 485.8l-.8 .8M656.4 485.8l5.8 1M655.6 486.6l-.2 4.3M654.4 496.3l.3-4.8M654.7 491.5l.7-.6M581.7 484.3l1.4-6M581.7 484.3l-4.3 .8M583.1 478.3l-6.8 .9M577.4 485.1l-2-3.9M576.3 479.2l-.9 2M584.5 487.4l-1 2.3M576.5 487l.9-1.9M584.5 487.4l-2.8-3.1M574.5 475.5l.5-1.3M583.8 477.6l-1.7-5.4M574.5 475.5l1.8 3.7M583.8 477.6l-.7 .7M570 482.3l5.4-1.1M574.5 475.5l-5.8 1.3M585.3 478l4.3 6.2M585.3 478l5.4-2.5M589.6 484.2l4.9-3.3M590.7 475.5l4.5 2.4M595.2 477.9l-.7 3M583.8 477.6l1.5 .4M584.5 487.4l4.7-1.3M589.2 486.1l.4-1.9M590.4 469.7l.3 5.8M597.8 470.3l-2.4 7.6M595.4 477.9l-.2 0M609.6 484.3l.7-1.1M609.6 484.3l-5.2 1.5M610.3 483.2l-2.5-5.5M604.4 485.8l-2-1.2M602.4 484.6l-.4-6.1M607.8 477.7l-4.7-.2M603.1 477.5l-1.1 1M615.8 481.4l-5.5 1.8M611.6 489l3.9 1.2M611.6 489l-2-4.7M604.2 492.1l.2-6.3M607.1 494.6l-2.9-2.5M611.6 489l-4.5 5.6M610 474.6l-2.2 3.1M595.4 477.9l6.6 .6M598.2 485.8l4.2-1.2M594.5 480.9l3.7 4.9M602.2 470.9l.9 6.6M598.2 485.8l-1.9 3.7M604.2 492.1l-5.7 .6M598.5 492.7l-2.2-3.2M589.2 486.1l2.6 3.3M591.8 489.4l4.5 .1M581.4 518.9l6.2-1.2M581.4 518.9l-.6 1.5M580.8 520.4l1.6 4.5M588.8 522.9l1.3-3.1M588.8 522.9l-6.1 2.2M582.7 525.1l-.3-.2M587.6 517.7l2.5 2.1M575 521.5l5.8-1.1M576.6 527.3l5.8-2.4M590.2 528.4l-1.4-5.5M584.3 529.9l-1.6-4.8M581.4 518.9l-1.8-3.7M573.8 515.9l5.8-.7M601.3 436.5l1.8-5.7M594.3 429.5l5.3-3.9M599.6 425.6l3.5 5.2M560.1 432.2l5.9-.8M566.7 436.7l.7-1.3M567.4 435.4l-1.4-4M565.1 426l-5.6 .7M565.1 426l.9-2.2M566 423.8l-1.2-3.1M564.8 420.7l-5.7 .4M566.8 429.6l-.8 1.8M566.8 429.6l-1.7-3.6M572.5 423.5l-6.5 .3M572.5 423.5l-.4 5.4M572.1 428.9l-5.3 .7M565.8 418.2l-1 2.5M564.1 415.2l1.7 3M558.8 414.9l5.3 .3M579.8 430.6l-2.1-7.5M585.5 426.7l-5.7 3.9M585.5 426.7l-3-6.2M577.7 423.1l4.8-2.6M565.8 418.2l6.9-.8M572.5 423.5l1.3-1.6M573.8 421.9l-1.1-4.5M579.5 437.4l-4.8 2.7M579.5 437.4l.8-5M572.5 434.7l1.8-3.4M572.5 434.7l2 5.3M574.5 440l.2 .1M574.3 431.3l5.3-.3M580.3 432.4l-.7-1.4M575.7 445l-1-4.9M582.6 440.2l-3.1-2.8M588.2 435.3l-7.9-2.9M572.1 428.9l2.2 2.4M567.4 435.4l5.1-.7M568.3 440.7l6.2-.7M577.7 423.1l-3.9-1.2M579.8 430.6l-.2 .4M591.1 429.3l-1.6-2M585.5 426.7l4 .6M572.4 462.8l-.5 1.2M572.4 462.8l-1.4-3.6M571.9 464l-5.5 2M571 459.2l-5.9 .6M579.4 461.8l-7 1M574 468.5l-2.1-4.5M571.7 457.4l-.7 1.8M573.2 470.1l-5.7 .9M569.6 453.3l-5.6 1.7M579.4 501.8l-.8 2M572.8 504.5l5.8-.7M577.9 498.5l1.5 3.3M572.4 401.3l1.5 2.5M581.8 398.1l-3.5 6.5M573.9 403.8l4.4 .8M588.6 403.1l-.1-.3M584.4 408.2l-4.4-.2M584.4 408.2l4.2-5.1M578.3 404.6l1.7 3.4M591.1 420l-1.6 7.3M591.1 420l-.1-.1M582.5 420.5l.9-2.2M591 419.9l-7.6-1.6M573.9 414.4l3.7-1.2M577.6 413.2l5.7 4.8M572.7 417.4l1.2-3M583.4 418.3l-.1-.3M577.6 413.2l2.4-5.2M584.4 408.2l2.8 3.7M583.3 418l3.9-6.1M611.3 444.9l0-2.2M602.5 442.6l7.1-1.6M611.3 442.7l-1.7-1.7M590.3 389l4.5-3.8M593.4 395.9l5.8-3.4M599.2 392.5l0-.3M599.2 392.2l-1.5-4.5M594.8 385.2l2.9 2.5M628.5 403.1l.8 2M629.3 405.1l5.5 .3M630.3 399.4l-1.8 3.7M630.3 399.4l5.2 .8M634.8 405.4l.7-5.2M633.6 454.9l-.3-7.1M639.4 454l.6-7M633.3 447.8l6.7-.8M680 421.6l-6-1.1M674.2 415.4l-.1 .1M674 420.5l.1-5M676.7 392.5l-5.4 1.5M673.9 386.3l-4.7 3M671.3 394l-2-2M669.2 389.3l.1 2.7M634.9 382.2l1.6-4M639.4 377.4l-2.9 .8M639.4 377.4l3.3 4.6M634.9 382.2l5.6 3.6M640.5 385.8l2.2-3.8M634.1 382.5l.8-.3M634.1 382.5l-2.5 4.2M637.4 389.5l3.2-3.6M637.4 389.5l-5.4-1.5M631.6 386.7l.4 1.3M640.5 385.8l.1 .1M640.6 374.9l-1.2 2.5M645.5 374.5l.8 6.3M642.7 382l3.6-1.2M631.2 393.8l-.9-2.2M631.2 393.8l6.1 1.1M632 388l-1.7 3.6M637.4 389.5l.3 4.8M637.3 394.9l.4-.6M629.3 397.4l1 2M631.2 393.8l-1.9 3.6M635.5 400.2l1.4-1.2M637.3 394.9l-.4 4.1M637.1 408.6l5-.5M642.1 408.1l-.2-6.5M634.8 405.4l2.3 3.2M636.9 399l5 2.6M626.8 544.8l-4.6 4.3M620.3 541.3l-1.7 6.2M618.6 547.5l1.3 1.6M622.2 540.7l-1.9 .6M619.9 549.1l2.3 0M630.3 550.4l-3.7 2.9M622.2 549.1l4.4 4.2M630.8 558.3l-4.3-4.2M626.5 554.1l.1-.8M588.9 540.3l1.1 .3M592.4 532.3l3.3 3.5M590 540.6l5.7-4.6M595.7 535.8l0 .2M642.5 515l-5.6-2.1M640.4 521.5l-5.7-3.1M634.7 518.4l2.2-5.5M620.9 502.5l.1 0M620.9 502.5l-1.6-6.9M626.6 495.8l.5 4.5M621 502.5l6.1-2.2M634.5 494l1.2 2.5M635.7 496.5l-5.9 5.7M627.1 500.3l2.7 1.9M616.6 504l-1.3 3.7M611.4 508.9l-3.3-3.8M616.6 504l-5.8-4.7M608.1 505.1l2.7-5.8M617 494.9l-6.2 3.8M607.1 494.6l.4 1.4M607.5 496l3.3 2.7M616.6 504l4.3-1.5M610.8 498.7l0 .6M648.9 536.3l-5.1-2.6M641.5 538.5l.2-3M643.8 533.7l-2.1 1.8M646.4 528.9l-2.5 1.9M643.8 533.7l.1-2.9M640.6 523l-2.6 4.4M643.9 530.8l-5.9-3.4M632 537.3l1.3-.3M632 537.3l-2.4-7.2M633.3 537l3.7-3.6M637 533.4l0-5.5M629.6 530.1l4.8-2.8M634.4 527.3l2.6 .6M638.6 540.5l-5.3-3.5M631.2 538l.8-.7M622.7 532.9l5.1-3.3M627.8 529.6l1.8 .5M624.1 536.2l-1.4-3.3M641.7 535.5l-4.7-2.1M638 527.4l-1 .5M633.2 519l1.5-.6M631.7 522.1l1.5-3.1M631.7 522.1l2.7 5.2M614.9 569.8l-.3-2.4M614.6 567.4l4.3-3.3M624 566.5l-5.1-2.4M611.7 565.3l-1.5-4.6M611.7 565.3l-5.8 1.7M603.9 563.7l4.2-3.8M610.2 560.7l-2.1-.8M595.7 535.8l5.1-2.4M595.7 536l2.4 5.5M599.7 542.1l-1.6-.6M603.9 539.7l-1.4-5.9M603.9 539.7l-4.2 2.4M600.8 533.4l1.7 .4M631.7 522.1l-4.9 .8M627.8 529.6l-1.9-5.1M626.8 522.9l-.9 1.6M635.9 506.1l1 2.5M635.9 506.1l2.4-4.6M636.9 508.6l7.6-1.2M638.3 501.5l6.4 1.1M644.7 502.6l-.2 4.8M629.8 502.2l.4 2M630.2 504.2l5.7 1.9M636 496.7l-.3-.2M636 496.7l2.3 4.8M644.5 507.4l0 0M636.9 512.9l-.7-1.7M636.2 511.2l.7-2.6M645.7 501.5l6.9 1.6M645.7 501.5l-1 1.1M661 452.8l-.9 .9M664.8 460.3l-4.5-2M660.1 453.7l.2 4.6M647.1 455.1l4.2 2.5M647.1 455.1l.2-3.4M647.3 451.7l5.4-4.1M651.3 457.6l.1 0M651.4 457.6l4.2-4.4M655.6 453.2l-2.3-5.5M653.3 447.7l-.6-.1M642.9 446.5l4.4 5.2M642.9 446.5l-2.2-.2M643.1 457l4-1.9M640 447l.7-.7M642.9 446.5l5-3.9M647.9 442.6l4.8 5M657.7 460.7l-6.3-3.1M660.3 458.3l-2.6 2.4M660.1 453.7l-4.5-.5M662.1 447.7l-6.4-1.9M655.7 445.8l-2.4 1.9M655.7 445.8l.5-5.5M663.6 442.2l-.7-1.7M656.2 440.3l6.7 .2M670.9 438l-6.5-1.4M662.9 440.5l1.5-3.9M664.5 430.8l7.2 1.6M663.9 431.1l.6-.3M663.9 431.1l-.7 1.5M663.2 432.6l1.2 4M649.8 485.5l5.8 1.1M649.8 485.5l.1-6.1M656.4 485.8l.1-4.5M649.9 479.4l6.6 1.9M663.4 481.5l-5.7-1.2M657.7 480.3l-1.2 1M647.9 487.5l1.7 3.5M647.9 487.5l-5.4-.2M642.5 487.3l-.2 .7M642.3 488l1.4 7.2M649.6 491l-2 5M643.7 495.2l2.4 1.6M647.6 496l-1.5 .8M649.8 485.5l-1.9 2M654.7 491.5l-5.1-.5M641.1 484.2l1.4 3.1M635.1 492.3l7.2-4.3M636 496.7l7.7-1.5M653.5 497.1l-5.9-1.1M645.7 501.5l.4-4.7M598.5 492.7l-1.4 4.5M607.5 496l-5.6 3.7M597.1 497.2l4.8 2.5M603.1 506.3l-.9-.6M603.1 506.3l5-1.2M601.9 499.7l.3 6M578.7 509.3l1.7 4M578.7 509.3l1.2-2.1M579.9 507.2l7.2 .1M580.4 513.3l6.1-1.1M586.5 512.2l1.1-2.5M587.6 509.7l-.5-2.4M573.2 510l5.5-.7M579.6 515.2l.8-1.9M578.6 503.8l1.3 3.4M587.6 517.7l-1.1-5.5M595 512.3l0 .1M595 512.3l-7.4-2.6M590.1 519.8l.8-.1M595 512.4l-4.1 7.3M599.6 425.6l.3-.8M608.5 425l-.3-.3M608.5 425l-.2 5.3M603.1 430.8l5.2-.5M608.2 424.7l-8.3 .1M591.1 420l8.1 1.6M599.2 421.6l.7 3.2M588.6 403.1l3.4 2.5M593.4 397l5.2 6.3M598.6 403.3l-6.6 2.3M587.2 411.9l5.3 .4M592 405.6l.5 6.7M591 419.9l1.7-7.4M592.5 412.3l.2 .2M571.1 406.9l1.1 5.8M571.1 406.9l-4.5-.5M572.2 412.7l-6.4-.8M566.6 406.4l-1.7 3M564.9 409.4l.9 2.5M573.9 403.8l-2.8 3.1M573.9 414.4l-1.7-1.7M565.5 403.8l1.1 2.6M564.1 415.2l1.7-3.3M559.1 408.7l5.8 .7M601.4 436.6l7.3-.8M609.6 441l-.1-4.4M608.7 435.8l.8 .8M608.3 430.3l.4 .5M608.7 435.8l0-5M600.2 379l-5.5 5.9M600.2 379l-3.8-3.5M596.4 375.5l-1.8 .1M594.6 375.6l-3 5.6M591.6 381.2l3.1 3.7M599.7 370.3l-3.3 5.2M592.4 373.4l2.2 2.2M588.4 380.5l3.2 .7M594.8 385.2l-.1-.3M606.2 390.2l-7 2M606.2 390.2l.1-3.2M597.7 387.7l6-3.2M606.3 387l-2.6-2.5M599.2 392.5l2.4 3.9M599.7 403.6l-1.1-.3M599.7 403.6l1.1-1.2M600.8 402.4l.8-6M607.6 391.5l.1 4.8M607.6 391.5l5.6-1.1M607.7 396.3l.5 .5M608.2 396.8l5.9-.2M601.6 396.4l6.1-.1M606.2 390.2l1.4 1.3M606.3 387l5-2.5M607.5 401.5l.7-4.7M607.5 401.5l-6.7 .9M631.6 386.7l-5.6-2.1M630.3 391.6l-5.6-.5M629.3 397.4l-5.6-.9M622.8 402.1l5.7 1M608.4 407.6l.2-5M608.4 407.6l6.1 .3M608.6 402.6l5.8-.6M607.5 401.5l1.1 1.1M659.4 425.4l-4.6 2.7M663.9 431.1l-4.5-5.7M663.2 432.6l-7.5 1.6M654.8 428.1l.9 6.1M611.3 442.7l5.1-2.2M614.6 448l3-.5M617.7 441.9l-.1 5.6M619.1 454.2l-.7-6.2M617.6 447.5l.8 .5M667.8 425.9l5.3 .5M667.8 425.9l-1.6-5.4M666.2 420.5l7.5 .2M673.7 420.7l-.5 5.6M673.2 426.3l-.1 .1M664.5 430.8l3.3-4.9M672.9 431.4l.2-5M679.4 426.7l-6.2-.4M674 420.5l-.3 .2M590 540.6l2.1 3.7M598.1 541.5l-4.1 3.4M592.1 544.3l1.9 .6M592.1 544.3l-4.6 4M627.8 507.9l-4.4 0M627.8 507.9l1.9 3.8M629.7 511.7l-1.3 3.3M621.4 510.6l3.2 6M621.4 510.6l2-2.7M624.6 516.6l3.8-1.6M621 502.5l2.4 5.4M630.2 504.2l-2.4 3.7M636.2 511.2l-6.5 .5M633.2 519l-4.8-4M618.5 510.9l2.9-.3M615.7 515.8l4.6 2.8M624.4 516.9l-4.1 1.7M624.4 516.9l.2-.3M624.4 516.9l2.4 6M619.1 561.1l3.7-2.3M619.1 561.1l-3.7-2.6M618.1 553.3l4.8 4.1M618.1 553.3l-3.2 1.9M622.9 557.4l-.1 1.4M614.9 555.2l-.2 2.4M615.4 558.5l-.7-.9M626.7 562.5l-3.9-3.7M618.9 564.1l.2-3M614.6 567.4l-.9-.9M613.7 566.5l1.7-8M626.5 554.1l-3.6 3.3M619.9 549.1l-1.8 4.2M609.8 549.7l1 2.8M609.8 549.7l4.5-3.3M618.6 547.5l-4.3-1.1M610.8 552.5l4.1 2.7M606.9 556.9l1.2 3M606.9 556.9l3.9-4.4M610.2 560.7l4.5-3.1M613.7 566.5l-2-1.2M592.1 529.8l5.1-3.7M590.9 519.7l5.4 2.2M597.2 526.1l-.9-4.2M600.8 533.4l-1.5-6.1M597.2 526.1l2.1 1.2M620.3 518.6l-1.7 6.8M614.5 516.1l-2.8 5.2M611.7 521.3l.4 2.8M612.1 524.1l6.5 1.3M622.7 532.9l-3-1.1M625.9 524.5l-7.2 1M619.7 531.8l-1-6.3M618.6 525.4l.1 .1M598.7 513.9l.5 5.7M598.7 513.9l4.4-2M603.1 511.9l2.8 2.2M605.9 514.1l0 3.6M605.9 517.7l-2.9 2.5M603 520.2l-3.8-.6M595 512.4l3.7 1.5M596.3 521.9l2.9-2.3M596.5 505.7l5.7 0M595 512.3l1.5-6.6M603.1 506.3l0 5.6M610.5 512.3l-4.6 1.8M611.7 521.3l-5.8-3.6M612.1 524.1l-3.1 3.3M604.5 525.3l4.5 2.1M604.5 525.3l-1.5-5.1M599.3 527.3l5.2-2M665 476.6l-5.2-2.1M657.7 480.3l.3-4.7M659.8 474.5l-1.8 1.1M642 481.8l5.7-3.1M643.1 472.2l1 .1M644.1 472.3l3.6 6.4M649.9 479.4l-.1-.1M647.7 478.7l2.1 .6M658 475.6l-4.9-1.9M649.8 479.3l3.3-5.6M595 504.3l.8-6.3M595 504.3l-7 .6M595.8 498l-6.8-1.9M586.7 501.1l1.3 3.8M586.7 501.1l.9-4.4M587.6 496.7l1.4-.6M597.1 497.2l-1.3 .8M596.5 505.7l-1.5-1.4M587.1 507.3l.9-2.4M591.8 489.4l-2.8 6.7M579.4 501.8l7.3-.7M585.2 495.2l2.4 1.5M627.9 422.3l7.4-.2M635.7 417.8l-.4 4.3M626.9 419.7l1 2.6M635.7 417.8l-.5-.6M626.9 419.7l1.5-3M628.4 416.7l6.8 .5M592.7 412.5l2 0M599.7 403.6l1 3.4M594.7 412.5l6-5.5M608.2 407.8l-6.6-.1M608.2 407.8l.2-.2M601.6 407.7l-.9-.7M608.3 413.7l.2 5.1M608.3 413.7l-5.4-.1M602.9 413.6l-2.6 3.5M608.5 418.8l-.3 .4M608.2 419.2l-7.8-.3M600.4 418.9l-.1-1.8M608.5 413.5l-.2 .2M608.5 413.5l6-.3M614.6 419.1l-6.1-.3M608.2 407.8l.3 5.7M601.6 407.7l1.3 5.9M594.7 412.5l5.6 4.6M614.7 424.7l-6.2 .3M608.2 424.7l0-5.5M599.2 421.6l1.2-2.7M609.5 436.6l5.8-1.1M608.7 430.8l6.2-.2M600.3 379l3.5 3.2M600.3 379l4.3-4.9M603.8 382.2l5.1-2.7M600.2 379l.1 0M603.7 384.5l.1-2.3M636.5 378.2l-4.2-3.9M634.1 382.5l-5.4-3.6M635.7 417.8l7.1-1.3M642.8 416.5l1.3-5.3M642.1 408.1l.6 .4M637.1 408.6l-2.2 2.8M635.2 417.2l-.3-5.8M642.7 408.5l1.4 2.7M666.2 420.5l-1-1M674.1 415.5l-6.4-.8M665.2 419.5l2.5-4.8M673.4 408.8l-6.8 1.4M667.7 414.7l-1.1-4.5M665.4 404.4l1.3-5.6M665.4 404.4l7.1-1M666.7 398.8l4.3-1.1M672.5 403.4l.2-4.1M672.7 399.3l-1.7-1.6M663.4 394.9l3.3 3.9M669.3 392l-5.9 2.9M671.3 394l-.3 3.7M678.3 397.7l-5.6 1.6M673.6 404.5l-1.1-1.1M660.5 402.4l4.7 2.2M660.5 402.4l-6.2 3.6M654.3 406l.1 .3M654.4 406.3l6.4 4.4M660.8 410.7l4.4-1.8M665.2 404.6l0 4.3M651.5 412.7l2.9-6.4M651.5 412.7l-7.4-1.5M642.7 408.5l8.8-5.5M651.5 403l2.8 3M666.6 410.2l-1.4-1.3M665.4 404.4l-.2 .2M663.4 394.9l-1.9-.5M660.5 402.4l-.9-5.3M659.6 397.1l1.9-2.7M653.2 419.4l-.4-1.5M653.2 419.4l6.4 4.3M659.2 415l4.8 4.6M659.2 415l-6 1.5M653.2 416.5l-.4 1.4M659.6 423.7l4.4-4.1M644.8 419.4l-.6 3.4M644.2 422.8l3.7 4.5M650.5 426.2l-2.6 1.1M650.5 426.2l2.7-6.8M644.8 419.4l8-1.5M659.4 425.4l.2-1.7M654.8 428.1l-4.3-1.9M660.8 410.7l-1.6 4.3M665.2 419.5l-1.2 .1M651.5 412.7l1.7 3.8M642.8 416.5l2 2.9M645.3 437.4l1.4-5.4M645.3 437.4l2.8 3.8M646.7 432l7.9 3.4M648.1 441.2l6.4-3M654.5 438.2l.1-2.8M647.9 442.6l.2-1.4M640.7 446.3l-1.6-4.9M639.1 441.4l1.4-2.8M640.5 438.6l4.8-1.2M646.4 431.2l.3 .8M646.4 431.2l1.5-3.9M655.7 434.2l-1.1 1.2M656.2 440.3l-1.7-2.1M625.8 453.2l.1-2M633.3 447.8l-2.3-1.5M625.9 451.2l5.1-4.9M618.4 448l3.9-.7M625.9 451.2l-3.6-3.9M618.7 440.5l5.3 2.6M622.3 447.3l1.7-4.2M644.6 394.3l.1 5M644.6 394.3l.8-1M645.4 393.3l6.2 1.5M644.7 399.3l6.7 3M651.6 394.8l1.3 3.2M651.4 402.3l1.5-4.3M637.7 394.3l6.9 0M641.9 401.6l2.8-2.3M640.6 385.9l4.8 3.7M645.4 389.6l0 3.7M651.5 403l-.1-.7M659.6 397.1l-6.7 .9M606.9 556.9l-3.5-.9M603.4 556l-3.5 4.5M614.6 570.5l-7.5 1.9M594 544.9l1.4 3.6M591.1 552.2l4.3-3.7M608.3 531.5l.6-.9M608.3 531.5l2 8.2M608.9 530.6l8.2 3M617.1 533.6l-1.3 5.1M615.8 538.7l-3 1.5M612.8 540.2l-2.5-.5M602.5 533.8l5.8-2.3M609 527.4l-.1 3.2M607.6 541.2l-3.7-1.5M607.6 541.2l2.7-1.5M619.7 531.8l-2.6 1.8M620.3 541.3l-4.5-2.6M614.3 546.4l-1.5-6.2M657.7 460.7l.1 2.6M664.5 464l-1.9 1.3M657.8 463.3l4.8 2M667.1 471.5l-5.2-2.2M662.6 465.3l-.7 4M659.8 474.5l.6-4.3M661.9 469.3l-1.5 .9M647.8 470.2l4.9 1.8M647.8 470.2l.5-5.5M650 463.7l5.1 2.7M650 463.7l-1.7 1M652.7 472l2.6-3.9M655.1 466.4l.2 1.7M644.1 472.3l3.7-2.1M653.1 473.7l-.4-1.7M641.2 462.6l7.1 2.1M657.8 463.3l-2.7 3.1M651.3 457.6l-1.3 6.1M660.4 470.2l-5.1-2.1M627.3 414.4l2-3.7M627.3 414.4l-5.4-.9M622.3 408.3l5.7 0M628 408.3l1.3 2.4M628.4 416.7l-1.1-2.3M634.9 411.4l-5.6-.7M626.9 419.7l-5.3-.5M629.3 405.1l-1.3 3.2M621.2 425.3l5.6-.3M620.9 430.1l5.7 1.1M626.6 431.2l1.5-3.7M626.8 425l1.3 2.5M627.9 422.3l-1.1 2.7M620.1 435.9l5.7 .8M627.4 433.1l-.8-1.9M625.8 436.7l1.6-3.6M669.2 389.3l-3-2.1M661.5 394.4l-1.2-3.4M660.3 391l5.9-3.8M670.7 381.4l-4.8 3M662.5 381.3l.1 .8M662.6 382.1l3.3 2.3M665.9 384.4l.3 2.8M654.7 389.6l2.6-1M654.7 389.6l-5.7-2.6M655 382.4l-4.8-1.1M655 382.4l2.5 4.4M657.5 386.8l-.2 1.8M649 387l0-5.1M650.2 381.3l-1.2 .6M660.3 391l-3-2.4M651.6 394.8l3.1-5.2M645.4 389.6l3.6-2.6M657.6 378l-2.6 4.4M652.1 375.6l-1.9 5.7M662.6 382.1l-5.1 4.7M646.3 380.8l2.7 1.1M634.3 433.4l3.2-.1M634.3 433.4l-1.6-5.6M637.5 433.3l2.7-2.5M640.2 430.8l-1.8-6.1M632.7 427.8l3.2-4.4M638.4 424.7l-2.5-1.3M628.1 427.5l4.6 .3M627.4 433.1l6.7 .5M634.1 433.6l.2-.2M640.5 438.6l-3-5.3M646.4 431.2l-6.2-.4M644.2 422.8l-5.8 1.9M635.3 422.1l.6 1.3M626.3 437.8l-2.1 5.2M626.3 437.8l6.1 2.2M624.2 443l6.6 2.5M630.8 445.5l1.6-5.3M632.4 440l0 .2M625.8 436.7l.5 1.1M624 443.1l.2-.1M634.1 433.6l-1.7 6.4M631 446.3l-.2-.8M639.1 441.4l-6.7-1.2M597.8 549.4l1.3 2.8M597.8 549.4l3.5-3.3M599.1 552.2l3.2 1.1M602.3 553.3l4.4-5.2M601.3 546.1l5.1 1.5M606.4 547.6l.3 .5M595.4 556.6l3.7-4.4M595.4 548.5l2.4 .9M599.7 542.1l1.6 4M603.4 556l-1.1-2.7M609.8 549.7l-3.1-1.6M607.6 541.2l-1.2 6.4M628.3 467.6l-1.7 22.8l-4 24.9l-1.2 10.3l.5 9.1l1.1 8M625.2 464.7l-1.9 25.3l-4 24.8l-1.2 10.7l.5 9.6l1.5 10.3M622.1 461.7l-2.1 27.7l-4 24.9l-1.2 11.1l.5 10l1.9 12.8M618.9 458.6l-2.1 30.4l-4 24.8l-1.3 11.4l.5 10.6l2.3 15.2M615.6 458.4l-2.1 30.3l-4 24.7l-1.3 11.7l.5 11.1l2.3 15.3M612.2 461.2l-2 27.1l-4 24.6l-1.2 11.9l.4 11.6l2 13.1M608.7 463.9l-1.8 24l-3.9 24.6l-1.3 12.1l.5 12l1.5 11M605.2 466.7l-1.6 20.8l-3.9 24.5l-1.3 12.3l0 7.2l1.7 14.1M599 442.2l7.7 23.3l2 10.2l2 13.5M594.7 438.9l6 17.2l3.1 10.1l2 10.1l2.5 17.1M593.3 444.1l7.6 22.8l3.9 23.3M649.1 438.2l-6.8 12l-5.2 10.4l-4.7 11.9l-6.2 17.7M649.2 432.1l-9.5 16.7l-5.3 10.6l-4.8 12.1l-7.7 21.9M643.9 435.4l-6.9 12l-5.4 10.8l-4.8 12.2l-6.2 17.8" fill="none" stroke="#6e6e6e" stroke-width="1.85"/>
<use href="#e5" fill="none" stroke="#000" stroke-width="4.6" stroke-linejoin="round"/>
<use href="#e6" fill="#fff"/>
<path d="M821.8 562.4l-4.9 .1M821.5 568.2l-5.6-.6M816.9 562.5l-1.7 3.3M815.9 567.6l-.7-1.8M850.5 387.5l-5.3-1.7M849.1 392.5l-5.5-1.2M845.2 385.8l-2.2 3.3M843.6 391.3l-.6-2.2M851.6 381.2l-5.1-.3M845.2 385.8l-.5-2M846.5 380.9l-1.8 2.9M811.8 601.3l-3.2-7.4M808.6 593.9l-3.3 2M846.3 358.7l-4.8 2.9M849.1 363.8l-5.8 2.4M843.3 366.2l-1.8-4.6M851.7 375.3l-5.5 .5M846.5 380.9l-1.4-3.1M846.2 375.8l-1.1 2M793.2 588l3.3-4.5M798.7 590.6l2.2-5.1M800.9 585.5l-1.5-1.9M796.5 583.5l2.9 .1M788.6 584.4l3.7-4.5M792.3 579.9l2 .4M796.5 583.5l-2.2-3.2M816.9 562.5l-1.6-2.8M815.3 559.7l.9-2.7M821.8 556.4l-5.6 .6M815.9 567.6l-1.3 3.5M820.5 573.9l-5.5-1.9M814.6 571.1l.4 .9M844.7 383.8l-4.9-1.3M839.8 382.5l-.1-4.3M845.1 377.8l-5 0M839.7 378.2l.4-.4M776.3 349.5l2.2 5.6M770.7 352.6l3.3 4.1M774 356.7l4.5-1.6M768.7 427.8l-4.5-3.7M772.2 423l-5.2-3M764.2 424.1l2.8-4.1M758.2 419.9l5.5 4.3M763.7 424.2l.5-.1M758.2 419.9l0-1.6M767 420l-.1-.3M758.2 418.3l3.8-1.7M766.9 419.7l-4.9-3.1M802.7 592.6l3.8-4.7M800.9 585.5l3.7 .5M804.6 586l1.9 1.9M808.6 593.9l.4-.4M809 593.5l-1.7-5.5M806.5 587.9l.8 .1M799.4 583.6l1.7-3.9M794.3 580.3l4.1-4.4M801.1 579.7l-2.7-3.8M808.4 570.6l-1.5 4.2M808.4 570.6l-.4-.9M806.9 574.8l-8.5-2M798 572.2l.4 .6M798 572.2l4.5-5.1M802.5 567.1l5.5 2.6M808.4 570.6l6.2 .5M815.2 565.8l-5-1M808 569.7l2.2-4.9M815.3 559.7l-4.9 .5M810.4 560.2l-1.1 2.6M810.2 564.8l-.9-2M794.4 572.3l-4.9-2.7M794.4 572.3l-3.8 4.7M789.5 569.6l-3.1 3.5M786.4 573.1l1.8 3.3M790.6 577l-2.4-.6M792.3 579.9l-1.7-2.9M798.4 572.8l0 3.1M798 572.2l-.8-.3M797.2 571.9l-2.8 .4M784.4 580.6l3.8-4.2M786.4 573.1l-2.1-.4M784.3 572.7l-3.8 4M839.8 382.5l-3.7 3.9M839.7 378.2l-5.7-.4M834 377.8l-.6 6.2M833.4 384l2.7 2.4M843 389.1l-6.9-2.3M836.1 386.8l0-.4M737.6 431.8l1.3-5.3M737.6 431.8l7.5 1.5M738.9 426.5l5.3 .9M744.2 427.4l1.3 5.3M745.1 433.3l.4-.6M737.2 437.5l7.1 .3M744.3 437.8l.8-4.5M736.5 436.1l.7 1.4M736.5 436.1l1.1-4.3M737.6 431.8l0 0M752.1 428.6l-4.5 3.8M747.6 432.4l-2.1 .3M746.9 423.1l1.3-.6M752.2 425l-4-2.5M746.9 423.1l-2.7 4.3M752.2 425l-.1 3.6M737.6 431.8l-5.7-1.8M738.9 426.5l-.4-.6M738.5 425.9l-5.7-.9M746.9 423.1l-6.9-2.4M738.5 425.9l1.5-5.2M751.9 455.4l-2.2 5.7M749.3 461.4l.4-.3M742.9 459.6l-.4-.7M742.9 459.6l6.4 1.8M749 452.8l2.9 2.6M749 452.8l-6.3 1.6M742.7 454.4l-.2 4.5M750.1 468.8l-2.2-2.9M747.9 465.9l1.4-4.5M750.1 468.8l5.2-.8M749.7 461.1l5.2 2.8M754.9 463.9l.4 4.1M756.7 474.7l-5.4 1.3M748.4 473.3l2.9 2.7M748.4 473.3l1.7-4.5M756.7 474.7l-.4-5.7M755.3 468l1 1M748.4 473.3l-3.9 0M744.5 473.3l-1.2 1.9M751.3 476l-.9 2.9M750.4 478.9l-5.1 2.3M743.3 475.2l.5 4.9M745.3 481.2l-1.5-1.1M754 485l-3.6-6.1M753.3 486.5l.7-1.5M747.7 487.3l5.6-.8M747.7 487.3l-1.9-1.7M745.3 481.2l.5 4.4M737.5 476l-.6 2.5M737.5 476l5.8-.8M736.9 478.5l2.2 2.8M743.8 480.1l-4.7 1.2M754.9 528.9l-5.7 2.5M754.9 528.9l.1-.7M747.2 527.1l4.7-3.1M751.9 524l3.1 4.2M742.6 497.3l-1.8-3M742.6 497.3l5.4-1.4M746.7 491l1.8 3.6M746.7 491l-5.4 1.6M741.3 492.6l-.5 1.7M748 495.9l.5-1.3M735.5 495.9l5.3-1.6M742.3 499l-5.1 2.4M742.3 499l.3-1.7M754.1 493.6l-5.6 1M755.4 490.9l-1.3 2.7M753.3 486.5l2.1 4.4M747.7 487.3l-1 3.7M751.5 506.2l-.5-4.9M751.5 506.2l-5.2 1.6M746.3 507.8l-2.1-3.2M749.6 500.7l1.4 .6M749.6 500.7l-4.8 1.7M744.8 502.4l-.6 2.2M755.3 509.5l-.5 .7M755.3 509.5l-.1-.2M754.8 510.2l-6.7 3.2M745.9 509.6l2.2 3.8M755.2 509.3l-3.7-3.1M745.9 509.6l.4-1.8M745.9 509.6l-5.3 1.7M738.7 506.1l5.5-1.5M754.1 493.6l1.6 5.4M755.7 499l-4.7 2.3M748 495.9l1.6 4.8M742.3 499l2.5 3.4M820.4 347.6l.7 5.5M826 347l.3 5.8M821.1 353.1l3.2 .9M826.3 352.8l-2 1.2M821.1 353.1l-3.4 2.3M824.3 354l.1 5M824.4 359l-4.5 .6M819.9 359.6l-2.2-4.2M826.3 352.8l4.1 1.2M830.4 354l.3-.1M830.7 353.9l1.3-5.9M836.1 369.4l3.9 3.8M836.1 369.4l7.1-2.9M840 373.2l4.9-1.2M843.2 366.5l2.2 4.2M845.4 370.7l-.5 1.3M840.1 377.8l-.1-4.6M832.1 375.6l4-6.2M832.1 375.6l1.9 2.2M836.1 369.4l0 0M843.3 366.2l-.1 .3M839.8 361l-5.9 5.1M836.1 369.4l-2.2-3.3M841.5 361.6l-1.7-.6M846.2 375.8l-1.3-3.8M850.9 369.6l-5.5 1.1M762.3 360.2l4.2 3.9M766.3 356.3l3.3 4.2M766.5 364.1l2.6-1.5M769.1 362.6l.5-2.1M762.7 367.6l-4.2-3.2M765.7 366.2l-3 1.4M765.7 366.2l.8-2.1M774 356.7l-.5 1.8M773.5 358.5l-3.9 2M771 371.9l3.1-2.2M773.5 366l.6 3.7M765.7 366.2l5.3 5.7M773.5 366l-4.4-3.4M773.5 366l2.8-3.9M776.3 362.1l-2.8-3.6M776.3 362.1l4.1-.4M778.5 355.1l.4 .1M780.4 361.7l-1.5-6.5M782.3 348.1l.1 5.7M778.9 355.2l3.5-1.4M782.4 353.8l3.3 1.5M785.7 355.3l3.3-6.1M778.8 370.5l2.6-3.5M774.1 369.7l4.7 .8M780.4 361.7l1 .6M781.4 367l0-4.7M785.7 355.3l.1 .3M785.8 355.6l-3.2 6.3M781.4 362.3l1.2-.4M774.5 393.3l4.6 1.3M774.5 393.3l-2.4 1.7M772.1 395l-.5 2.2M771.6 397.2l5.3 2.8M776.9 400l2.8-3.4M779.1 394.6l.6 2M769.9 386.8l-1.2 4.6M768.7 391.4l3.4 3.6M775.1 388.7l-5.2-1.9M775.1 388.7l-.6 4.6M784.2 379.2l.5 2.5M784.7 381.7l-1.8 2.4M779.1 377.3l-3.3 3M779.1 377.3l5.1 1.9M775.8 380.3l1.5 2.5M782.9 384.1l-5.6-1.3M779.7 372l-.6 5.3M779.7 372l5.9 1.4M784.2 379.2l2.3-3M785.6 373.4l.9 2.8M786.5 376.2l5.2 1.4M784.7 381.7l5.5 1.1M805.2 381.6l-.8 .6M806.1 376.9l-.9 4.7M800.5 375.2l5.6 1.7M799.1 380.4l5.3 1.8M772.8 410.6l-3.1 4.1M772.8 410.6l4.9 2.9M769.7 414.7l.1 .6M769.8 415.3l5.2 3.1M766.9 419.7l2.9-4.4M785.4 427.4l-4.6-2.7M785.4 427.4l2-1.4M783.6 419.8l4.5 3.2M788.1 423l-.7 3M792.9 441.4l.1-1.5M795.2 444.3l-2.3-2.9M795.2 444.3l8.1-2.5M803.3 441.8l-5.3-7.1M798 434.7l-5 5.2M777.7 429.5l4.5 2.5M785.4 427.4l-.5 3M782.2 432l2.7-1.6M774 457.4l2.4 3.5M782 460.4l-5.6 .5M782 460.4l1.2-1.3M783.4 456.3l-.2 2.8M783.4 456.3l-2.3-2.9M774 457.4l3.5-4.5M781.1 453.4l-3.6-.5M768.3 453.4l4.4-4.4M768.3 453.4l-2.5-6.2M772.7 449l-2.4-4.1M765.8 447.2l4.5-2.3M756.9 411.1l4.1-1.3M752 407.5l4.9 3.6M752 407.5l1.4-3.7M753.4 403.8l7.5-1M760.9 402.8l.1 .2M761 403l0 6.8M756.9 411.1l0 5.9M758.2 418.3l-1.3-1.3M762 416.6l2.1-4.6M761 409.8l3.1 2.2M769.7 414.7l-4.8-2.9M764.9 411.8l-.8 .2M769.9 402.7l-2.5 2.6M769.9 402.7l5.1 2.2M772.6 409.9l-4.9-2.7M772.6 409.9l2.5-4M767.7 407.2l-.3-1.9M775.1 405.9l-.1-1M777.3 401.7l-2.3 3.2M776.9 400l.4 1.7M769.9 398.6l0 4.1M769.9 398.6l1.7-1.4M764.9 411.8l2.8-4.6M772.8 410.6l-.2-.7M780.2 408.7l-5.1-2.8M761 403l6.4 2.3M807.3 588l1.7-.7M809 593.5l4.3 .1M809 587.3l5.3 2.3M813.6 577.7l-.3-.5M813.6 577.7l-2.1 4.7M813.3 577.2l-6.2-2.1M811.5 582.4l-.3 .1M811.2 582.5l-5.1-2.7M807.1 575.1l-1.3 4.2M806.1 579.8l-.3-.5M819.1 579.3l-5.5-1.6M815 572l-1.7 5.2M816.9 585l-5.4-2.6M806.9 574.8l.2 .3M809 587.3l2.2-4.8M804.6 586l1.5-6.2M801.1 579.7l4.7-.4M797.2 571.9l-2.5-7.6M789.5 569.6l-.6-3M794.7 564.3l-5.8 2.3M821.5 551.5l-5.7 .2M816.2 557l-1.4-2.5M815.8 551.7l-1 2.8M810.4 560.2l-2.3-5.2M814.8 554.5l-6.7 .5M751.7 536.3l5.4-2.4M754.9 528.9l2.3 4.5M757.2 533.4l-.1 .5M759.7 537.8l-2.6-3.9M759.7 537.8l-.1 .8M759.6 538.6l-5 3M759.6 538.6l2.8 4.5M762.4 543.1l-5.2 2.9M788.9 566.6l-2.1-1.7M784.3 572.7l-2.4-3.7M781.9 569l4.9-4.1M839.6 400.4l-4.5-2.4M839.6 400.4l2.5-4.3M842.1 396.1l-.5-1.7M841.6 394.4l-6.3-1.7M835.3 392.7l-.2 5.3M847.1 397.9l-5-1.8M843.6 391.3l-2 3.1M834.4 391.3l1.7-4.5M834.4 391.3l.9 1.4M807 376.3l-.9 .6M807 376.3l5.1 1.4M805.2 381.6l6.5 2M811.7 383.6l.4-5.9M819.8 371.1l-.8 6.4M819.8 371.1l-.2-.3M819.6 370.8l-4.1-1M815.5 369.8l-2.3 2.2M813.2 372l.2 4.6M819 377.5l-5.6-.9M807.5 371.5l.9-.8M813.2 372l-4.8-1.3M807 376.3l.5-4.8M812.1 377.7l1.3-1.1M797.5 385.5l5.4 1.8M804.4 382.2l-.8 4.5M802.9 387.3l.7-.6M820.9 546.1l-5.3 .3M815.8 551.7l-1.4-2.7M815.6 546.4l-1.2 2.6M834.9 410.2l.4-.2M834.9 410.2l-2 4.7M840.6 412.7l-5.3-2.7M838.1 417.6l-5.2-2.7M782 460.4l1 6.7M776.4 460.9l-.8 2.4M775.6 463.3l3.2 6M778.8 469.3l4.2-2.2M778.3 494.6l3.4-5.9M783.5 488.7l-1.8 0M783.5 488.7l2.9 4.2M786.4 492.9l-2.8 4M778.3 494.6l1.1 2.3M783.6 496.9l-4.2 0M755.7 499l2 .9M760.8 491.4l.8 5.7M755.4 490.9l5.4 .5M761.6 497.1l-3.9 2.8M755.2 509.3l3.3-7.2M757.7 499.9l.8 2.2M761.3 511.1l.8-.3M755.3 509.5l6 1.6M762.1 510.8l2-5.8M758.5 502.1l5.6 2.9M771.5 508.1l-.9 2.3M765.5 512.3l5.1-1.9M762.1 510.8l3.4 1.5M771.5 508.1l-5.4-4.2M764.1 505l2-1.1M772 499.9l-1-5.2M772 499.9l-5.3 2M766.7 501.9l-1.8-3.9M764.9 498l3.4-3.8M771 494.7l-2.7-.5M761.6 497.1l3.3 .9M766.1 503.9l.6-2M760.8 491.4l2.7-2.1M765.3 489.4l-1.8-.1M765.3 489.4l3 4.8M755.5 455l1.3-6.4M755.5 455l-3.6 .4M749.1 450.9l-.1 1.9M749.1 450.9l4-4M753.1 446.9l3.7 1.7M740 420.7l-.2-.3M739.8 420.4l-5.9-.8M736.2 459.6l-1.4-2.2M736.2 459.6l-.9 3.4M735.3 463l-5.6-.4M734.8 457.4l-5.3 .6M735.3 467.8l.9-3.3M735.3 467.8l1.9 2.8M736.2 464.5l5.2 0M737.2 470.6l5.2-.9M741.4 464.5l1.6 2.8M742.4 469.7l.6-2.4M735.3 463l.9 1.5M730.1 468.7l5.2-.9M736.1 473.5l-5.3 .4M736.1 473.5l1.1-2.9M742.9 459.6l-1.5 4.9M742.5 458.9l-6.3 .7M744.5 473.3l-2.1-3.6M736.1 473.5l1.4 2.5M747.9 465.9l-4.9 1.4M765.3 472.9l-.2-4M765.3 472.9l7 1.6M765.1 468.9l5.1-2.7M770.2 466.2l4 5.5M774.2 471.7l-1.9 2.8M770.4 465.6l5.2-2.3M770.2 466.2l.2-.6M778.8 469.3l-.5 1M774.2 471.7l4.1-1.4M783 467.1l3.2 .8M787.4 470.7l-1.2-2.8M785.7 474.8l1.7-4.1M785.7 474.8l-4.1 .8M778.3 470.3l3.3 5.3M769 486.4l-1.9-5.4M769 486.4l4.5 .5M773.5 486.9l.7-.6M774.2 486.3l-.9-8M767.1 481l5.9-3M773 478l.3 .3M765.3 489.4l3.7-3M773.9 492.6l-.4-5.7M773.9 492.6l-2.9 2.1M778.3 485.8l-4.1 .5M781.7 488.7l-3.4-2.9M778.3 494.6l-4.4-2M780.1 478.9l-6.8-.6M780.7 480.3l-.6-1.4M780.7 480.3l-2.4 5.5M780.1 478.9l1.5-3.3M772.3 474.5l.7 3.5M761.2 484.2l3.6-4.1M761.2 484.2l-4.4-.8M756.8 483.4l1.1-7.8M764.8 480.1l-1.9-4.3M762.9 475.8l-5-.2M763.5 489.3l-2.3-5.1M767.1 481l-2.3-.9M754 485l2.8-1.6M756.7 474.7l1.2 .9M765.3 472.9l-2.4 2.9M762.7 466.8l-6.4 2.2M765.1 468.9l-2.4-2.1M758.2 456.6l4.3-2.5M758.2 456.6l.9 3.7M759.1 460.3l3.3 2.3M762.4 462.6l5.2-2.9M762.5 454.1l5.4 .9M767.6 459.7l1.2-3M767.9 455l.9 1.7M761.4 448.5l-3.1-.7M761.4 448.5l1.1 5.6M756.8 448.6l1.5-.8M755.5 455l2.7 1.6M754.9 463.9l4.2-3.6M762.7 466.8l-.3-4.2M770.4 465.6l-2.8-5.9M764.3 446.7l1.5 .5M761.4 448.5l2.9-1.8M768.3 453.4l-.4 1.6M774 457.4l-5.2-.7M775.8 449.5l1.7 3.4M775.8 449.5l-3.1-.5M732.8 485l5.5-.8M734.1 490.5l5.4-1.1M738.3 484.2l1.9 2.8M739.5 489.4l.7-2.4M739.1 481.3l-.8 2.9M736.9 478.5l-5.1 1.6M741.3 492.6l-1.8-3.2M745.8 485.6l-5.6 1.4M744.7 521.7l5.6-1.7M742.8 516.9l5-2.4M747.8 514.5l2.8 3.7M750.3 520l.3-1.8M751.9 524l.2-.8M752.1 523.2l-1.8-3.2M748.1 513.4l-.3 1.1M754.8 510.2l-.1 6.4M754.7 516.6l-4.1 1.6M817.7 355.4l-.5-.1M817.2 355.3l-3-5.1M808.4 366.6l0 4.1M815.5 369.8l-.9-2.9M808.4 366.6l1.5-1.2M814.6 366.9l-4.7-1.5M821.7 365.8l-3.3-3M821.7 365.8l-2.1 5M818.4 362.8l-1.4 .3M814.6 366.9l2.4-3.8M834.7 355.2l3.1-4.7M834.7 355.2l.8 1.5M835.5 356.7l3 1.3M838.5 358l3.9-4M830.7 353.9l4 1.3M839.8 361l-1.3-3M833.5 365.9l-1.8-3.4M833.5 365.9l-6.2 2.9M831.7 362.5l-3.4-1.9M827.3 368.8l-3.2-3.4M824.1 365.4l2.5-4.6M826.6 360.8l1.7-.2M833.9 366.1l-.4-.2M835.5 356.7l-3.8 5.8M827.7 375.7l-1.4-3.3M827.7 375.7l4.4-.1M826.3 372.4l1-3.6M830.4 354l-2.1 6.6M826.3 372.4l-6.5-1.3M821.7 365.8l2.4-.4M819.9 359.6l-1.5 3.2M824.4 359l2.2 1.8M775.1 388.7l1.3-.8M776.4 387.9l.9-5.1M775.8 380.3l-2.1-.4M769.9 386.8l-1.1-2.2M768.8 384.6l4.9-4.7M779.7 372l-.9-1.5M771 371.9l-1 2M773.7 379.9l-3.7-6M762.7 367.6l-.7 3.1M762 370.7l5.5 3.9M770 373.9l-2.5 .7M738.2 403.8l5.7 1.5M736.8 408.5l5.5 2.2M742.3 410.7l1.6-5.4M744 405.2l-.1 .1M744 405.2l1.3-5M745.3 400.2l-5.2-2M749.3 411.8l-6.9-1M749.3 411.8l.3 4.5M749.6 416.3l-1 1.4M748.6 417.7l-7.4-1.9M742.4 410.8l-1.3 4.7M741.1 415.5l.1 .3M751.7 407.7l-2.4 4.1M751.7 407.7l-7.7-2.5M742.3 410.7l.1 .1M752 407.5l-.3 .2M756.9 417l-7.3-.7M758.2 419.9l-2.8 4M752.2 425l3.2-1.1M748.2 422.5l.4-4.8M739.8 420.4l1.4-4.6M735.3 414.1l5.8 1.4M745.3 400.2l.9-.4M753.4 403.8l-.3-.7M753.1 403.1l-6.9-3.3M769.9 398.6l-4.3-1M760.9 402.8l.5-2.1M765.6 397.6l-4.2 3.1M768.7 391.4l-4.4 1.1M765.6 397.6l-1.3-5.1M749.3 390.3l-1.4 4.7M749.3 390.3l-5.2-2.4M747.9 395l-.3 .2M747.6 395.2l-5.6-2.3M753.1 403.1l.5-6.4M753.6 396.7l-5.7-1.7M746.2 399.8l1.4-4.6M788.9 357.2l-3.1-1.6M788.9 357.2l.9 3.6M782.6 361.9l5.7 1.2M789.8 360.8l-1.5 2.3M783.4 386.6l-2.4 3.2M783.4 386.6l4.9 1.8M781.3 391.4l-.3-1.6M781.3 391.4l5.2 2.2M782.9 384.1l.5 2.5M776.4 387.9l4.6 1.9M779.1 394.6l2.2-3.2M784.6 398.7l-4.9-2.1M777.3 401.7l5.2 1.8M795.2 408l-4.8-2.4M792.2 401l5.6 1.5M795.2 408l1.6-1M797.8 402.5l-1 4.5M798 434.7l.1-.6M788.9 433.4l-.4 2.3M793 439.9l-4.5-4.2M788.9 433.4l3.4-2.2M798.1 434.1l-5.8-2.9M787.4 426l4.6 2.5M784.9 430.4l4 3M792 428.5l.3 2.7M770.3 444.9l.1-.4M770.4 444.5l4-2.2M775.8 449.5l2.1-3.4M777.9 446.1l-3.5-3.8M807.6 549.3l6.8-.3M808.1 555l-.8-.5M807.6 549.3l-.9 2.3M807.3 554.5l-.6-2.9M762.5 543.1l2.4 4.4M764.9 547.5l-4.5 3.4M762.4 543.1l.1 0M759.7 537.8l6-2.6M757.2 533.4l6.3-3.7M763.5 529.7l2.2 5.5M776.7 572.5l4.3-3.7M773.4 568.5l4.2-3.9M781 568.8l-2.7-4M777.6 564.6l.7 .2M781.9 569l-.9-.2M775.2 560.8l0 0M769.8 563.9l5.4-3.1M775.2 560.8l2.4 3.8M830.4 407.8l-4.7 3.5M834.9 410.2l-4.5-2.4M832.9 414.9l-.4 .2M832.5 415.1l-6.8-3.8M811.9 531l5.3-1.4M811.9 531l-.7 1.8M811.2 532.8l1.9 3.3M813.1 536.1l5.5-1.3M809.8 526.7l-4.1 1.9M805.4 533.8l.3-5.2M805.4 533.8l5.8-1M809.8 526.7l2.1 4.3M816.4 449.3l-4.6-3.2M819.6 445.5l-4.1-3.7M811.8 446.1l1.8-3.7M815.5 441.8l-1.9 .6M808.6 437.6l.7-2.6M808.6 437.6l5 4.8M817.5 438.1l-5.7-4.3M817.5 438.1l-2 3.7M809.3 435l2.5-1.2M811.8 446.1l-1 .4M808.6 437.6l-4.6 4.4M810.8 446.5l-6.8-4.5M800.1 431.8l-2 2.3M803.3 441.8l.5 .3M804.1 430.7l5.2 4.3M804.1 430.7l-4 1.1M803.8 442.1l.2-.1M792.2 476.5l-4.3 .7M787.9 477.2l-2.2-2.4M792.2 476.5l1.1-2.9M787.4 470.7l5.1 1.1M792.5 471.8l.8 1.8M837.6 405.1l.1 .1M837.6 405.1l2-4.7M837.7 405.2l5.2 2.6M839.6 400.4l5.5 2.5M830.4 407.8l.3-5.4M830.7 402.4l6.9 2.7M835.3 410l2.4-4.8M835.1 398l-4.9 3.4M839.6 400.4l0 0M830.2 401.4l.5 1M827.2 424.7l2.5-4.9M827.2 424.7l5.4 2.6M835.2 422.8l-5.2-3.1M829.7 419.8l.3-.1M827.2 424.7l-2.1 4.1M829.6 432.2l-4.5-3.4M827.2 424.7l0 0M832.5 415.1l-2.5 4.6M809.8 526.7l.2-.4M815.6 524.2l-5.6 2.1M806.6 516.9l1.6 3.9M806.6 516.9l-6.7 2.2M799.9 519.1l-.1 3.7M808.2 520.8l-.3 1.1M807.9 521.9l-7 2.3M799.8 522.8l1.1 1.4M812.3 514.1l-5.5 2.2M806.8 516.3l-.2 .6M814.1 519.5l-5.9 1.3M810 526.3l-2.1-4.4M805.7 528.6l-4.7-3.2M801 525.4l-.1-1.2M791.2 520.1l-4 3.4M791.2 520.1l3.3 3.4M792.5 527.5l2-4M792.5 527.5l-5.4-1.3M787.1 526.2l.1-2.7M794.5 523.5l5.3-.7M798.2 516.2l1.7 2.9M798.2 516.2l-3-.2M791.2 520.1l0-.9M795.2 516l-4 3.2M795.2 516l-3.2-4.6M791.2 519.2l-5.2-4.7M792 511.4l-6.2 2.2M785.8 513.6l.2 .9M787.2 523.5l-3.6-3.2M786 514.5l-2.4 5.8M793.1 534.3l7.2 5.3M793.1 534.3l1.5-2.7M794.6 531.6l3.8-1.2M798.4 530.4l5.6 5.1M800.3 539.6l3.5-2.5M804 535.5l-.2 1.6M798.9 543.7l1.4-4.1M797.2 545l1.7-1.3M791.9 535l1.2-.7M791.9 535l-.6 7.4M797.2 545l-5.9-2.6M792.5 527.5l2.1 4.1M801 525.4l-2.6 5M805.4 533.8l-1.4 1.7M785.8 513.6l-1.5-1.3M794 506.6l-.2-.6M793.8 506l-8.9-.4M794 506.6l-2 4.8M784.9 505.6l-.6 6.7M779.8 521.2l3.8-.9M777.9 514.7l1.5-1.7M777.9 514.7l1.9 6.5M784.3 512.3l-4.9 .7M764.7 520.2l-4.6-2.7M764.7 520.2l-3.4 5.6M761.3 525.8l-1.5-.3M759.8 525.5l-2.8-4.1M757 521.4l.6-2.8M757.6 518.6l2.5-1.1M763.6 529l-.1 .7M755 528.2l4.8-2.7M763.6 529l-2.3-3.2M752.1 523.2l4.9-1.8M754.7 516.6l2.9 2M761.3 511.1l-1.2 6.4M761.5 435.6l-4.6-3.6M764.8 432.2l-3.9-4.1M756.9 432l2.8-3.8M759.7 428.2l1.2-.1M764.3 446.7l-1.2-5.3M770.4 444.5l-3.2-5.1M774.4 442.3l.4-1.5M771.1 436.5l3.7 4.3M763.7 424.2l-2.8 3.9M755.4 423.9l4.3 4.3M752.1 428.6l3.8 3.6M755.9 432.2l1-.2M752.1 443.5l0 0M752.1 443.5l-1.4-3.9M752.1 443.5l4.9-1.7M750.7 439.6l2.6-3.3M753.6 436.2l-.3 .1M753.6 436.2l4.4 3.4M749.1 450.9l-3.7-5.5M745.4 445.4l6.7-1.9M753.1 446.9l-1-3.4M744.6 438.4l-1.1 5.2M744.6 438.4l6.1 1.2M744.1 444.9l-.6-1.3M745.4 445.4l-1.3-.5M758.3 447.8l0-5.4M744.3 437.8l.3 .6M747.6 432.4l5.7 3.9M755.9 432.2l-2.3 4M742.6 454.4l-6.6-.8M742.6 454.4l-1-6M741.6 448.4l-5.6-.1M736 448.3l-.7 4.2M735.3 452.5l.7 1.1M742.7 454.4l-.1 0M734.8 457.4l1.2-3.8M744.1 444.9l-2.5 3.5M729.6 452.3l5.7 .2M735.5 447.5l1.1-4.7M735.5 447.5l-5.6-.7M730.4 441.2l5.5 .6M735.9 441.8l.7 1M743.5 443.6l-6.9-.8M736 448.3l-.5-.8M737.2 437.5l-1.3 4.3M736.5 436.1l-5.5-.4M813.4 357.6l-4.2-3.2M813.4 357.6l-.4 2.6M813 360.2l-2.7 1.6M810.3 361.8l-4.3-2.8M817.2 355.3l-3.8 2.3M817 363.1l-4-2.9M809.9 365.4l.4-3.6M808.4 366.6l-5-1.6M789.8 360.8l5.2 .3M788.9 357.2l5.1-3M762 370.7l-2.5 1.5M759.5 372.2l-4.5-3.3M767.5 374.6l-3.9 4.4M768.8 384.6l-1.9-.4M766.9 384.2l-3.4-4M763.5 380.2l.1-1.2M759.5 372.2l-.6 3M763.6 379l-4.7-3.8M752 373.2l4.2 3.3M758.9 375.2l-2.7 1.3M766.9 384.2l-3.9 4M764.3 392.5l-.2-.1M763 388.2l1.1 4.2M761.4 400.7l-3.6-6.4M764.1 392.4l-6.3 1.9M753.6 396.7l2.9-2.9M756.5 393.8l1.3 .5M788.9 365.7l5.3 1.2M788.9 365.7l-1.6 2.5M787.3 368.2l.4 2.6M787.7 370.8l5.3 1.5M788.3 363.1l.6 2.6M781.4 367l5.9 1.2M785.6 373.4l2.1-2.6M807.5 371.5l-5.8-.9M794 395.9l5.2 1.9M797.8 402.5l1.1-.9M799.2 397.8l-.3 3.8M800.8 420.9l5 5M804.1 430.7l1.7-4.8M800.1 431.8l-3.3-7.8M800.8 420.9l-1.2-.3M799.6 420.6l-2.8 3.4M792 428.5l3.3-4.2M796.8 424l-1.5 .3M788.1 423l2.3-1.5M795.3 424.3l-4.9-2.8M785.7 415.8l5.3 1.9M791 417.7l-.6 3.8M825.1 428.8l-.8 .3M826.4 436.7l-4.5-3.4M824.3 429.1l-2.4 4.2M818.3 437.9l2.5-4.4M818.3 437.9l4.8 3.1M820.8 433.5l1.1-.2M817.5 438.1l.8-.2M811.8 433.8l3.2-4.9M820.8 433.5l-5.8-4.6M777.9 446.1l2.3-.7M781.1 453.4l2.5-4.6M780.2 445.4l3.4 3.4M795.2 444.3l-.1 4M795.1 448.3l-6.9 .8M788.2 449.1l-1-.9M792.9 441.4l-5.1 2.1M787.8 443.5l-.6 4.7M783.4 456.3l5.2-2.4M788.2 449.1l.4 4.8M787.2 448.2l-3.6 .6M794.7 564.3l.9-1.9M802.5 567.1l-.2-2.9M795.6 562.4l6.7 1.8M809.3 562.8l-5.8-.2M807.3 554.5l-4.2 3.6M803.1 558.1l.4 4.5M802.3 564.2l1.2-1.6M788.5 543.7l-.9 6.6M787.6 550.3l-5.7-1.5M785 542l3.5 1.7M785 542l-4.4 2.3M781.9 548.8l-1.3-4.5M803.1 558.1l-5.2-1.7M806.7 551.6l-6.7-.4M800 551.2l-2.1 5.2M807.6 549.3l-.5-2.2M798.9 543.7l8.2 3.4M797.2 545l-.2 1.9M800 551.2l-3-4.3M764.7 520.2l2.1-.6M763.6 529l6.6-2.3M770.2 526.7l-3.4-7.1M773.3 515.5l-2.7-5.1M765.5 512.3l1.7 6.8M773.3 515.5l-1.3 2.1M772 517.6l-4.8 1.5M766.8 519.6l.4-.5M767.9 539.6l2.8 4M767.9 539.6l.1-3.1M768 536.5l3.9-2M771.9 534.5l5 3.4M776.9 537.9l-.3 5M770.7 543.6l3.4 1.1M774.1 544.7l2.5-1.8M765.8 547.7l-.9-.2M765.8 547.7l4.9-4.1M762.5 543.1l5.4-3.5M765.7 535.2l2.3 1.3M834.4 391.3l-5.4 .8M828.6 400.6l1.6 .8M828.6 400.6l-1.6-3.9M829 392.1l-2 4.6M827.9 383.8l-1.3 1.2M827.9 383.8l-.7-7.3M826.6 385l-6.8-3M827.2 376.5l-7.2 2.2M820 378.7l-.2 3.3M833.4 384l-5.5-.2M829 392.1l-3-3.6M826 388.5l.6-3.5M827.7 375.7l-.5 .8M819 377.5l1 1.2M825.7 411.3l-.4 0M825.3 411.3l-.6 1.2M829.7 419.8l-4.3-2.4M825.4 417.4l-.7-4.9M808.4 544.1l-1.1-4.5M808.4 544.1l5.8-.9M807.3 539.6l5.3-1.9M812.6 537.7l2.2 4M814.2 543.2l.6-1.5M807.1 547.1l1.3-3M803.8 537.1l3.5 2.5M815.6 546.4l-1.4-3.2M813.1 536.1l-.5 1.6M819.9 539.9l-5.1 1.8M786.4 492.9l4.2 .2M786.4 500.1l-2.8-3.2M786.4 500.1l5.6-1.6M792 498.5l-1.1-5.2M790.6 493.1l.3 .2M799 496.1l-6.6 2.8M799 496.1l2.3 4.6M801.3 500.7l-.1 .2M801.2 500.9l-7 2.9M792.4 498.9l1.8 4.9M802.9 505.8l5.8-1.6M802.9 505.8l-1.7-4.9M806.6 498.7l-5.3 2M792 498.5l.4 .4M786.4 500.1l-1.5 5.5M784.9 505.6l0 0M793.8 506l.4-2.2M799.6 513.3l4.9-1.6M799.6 513.3l-2.4-5.2M797.2 508.1l5.6-1.9M802.8 506.2l1.9 5M804.5 511.7l.2-.5M798.2 516.2l1.4-2.9M806.8 516.3l-2.3-4.6M794 506.6l3.2 1.5M802.9 505.8l-.1 .4M810.4 508.9l-5.7 2.3M787.1 526.2l-1.6 1.7M791.9 535l-4.6-.8M785.5 527.9l1.8 6.3M791.3 542.4l-2.8 1.3M785 542l-.9-5.6M787.3 534.2l-3.2 2.2M780.6 544.3l-4-1.4M776.9 537.9l3.6-2.3M784.1 536.4l-3.6-.8M781.2 504.4l-5.1 2.7M781.2 504.4l-2.5-5.8M773.9 501l4.8-2.4M773.9 501l.4 5.6M774.3 506.6l1.8 .5M784.9 505.6l-3.7-1.2M779.4 513l-3.3-5.9M779.4 496.9l-.7 1.7M772 499.9l1.9 1.1M771.5 508.1l2.8-1.5M773.3 515.5l4.6-.8M763.5 380.2l-3.9 2.2M756.2 376.5l-1 3.2M759.6 382.4l-4.4-2.7M763 388.2l-4.7-1.3M759.6 382.4l-1.3 4.5M748.9 378.2l4.5 2.5M753.4 380.7l1.8-1M799.2 397.8l1-1M795.8 390.6l5 1.9M800.2 396.8l.6-4.3M802.9 387.3l-.7 4.3M800.8 392.5l1.4-.9M799.7 413.9l-.6 5.7M799.7 413.9l-5-2.2M799.1 419.6l-6.6-3M792.5 416.6l.4-3.4M792.9 413.2l1.8-1.5M801.3 412.5l5 .9M806.6 417.2l-.3-3.8M806.6 417.2l-5.8 3.7M801.3 412.5l-1.6 1.4M799.6 420.6l-.5-1M801 408.6l.3 3.9M796.8 407l4.2 1.6M795.2 408l-.5 3.7M791 417.7l1.5-1.1M788.1 410.8l4.8 2.4M819.2 425.8l-4.2 2.2M819.2 425.8l2.1-4.2M815 428l-3.7-4.1M815.8 416.5l5.4 4.8M815.8 416.5l-4.1 4.1M811.7 420.6l-.4 3.3M821.3 421.6l-.1-.3M824.3 429.1l-5.1-3.3M815 428.9l0-.9M827.2 424.7l-5.9-3.1M805.8 425.9l5.5-2M825.4 417.4l-4.2 3.9M824.7 412.5l-8.8 3.4M815.9 415.9l-.1 .6M806.6 417.2l5.1 3.4M785 441.3l-3.3 1M785 441.3l.5-3.8M781.7 442.3l-3-3.6M785.5 437.5l-3.6-2.3M781.9 435.2l-2.9 1.8M779 437l-.3 1.7M780.2 445.4l1.5-3.1M787.8 443.5l-2.8-2.2M788.5 435.7l-3 1.8M774.8 440.8l3.9-2.1M782.2 432l-.3 3.2M774.7 433.1l4.3 3.9M774 548.8l2.6 3.4M774 548.8l-5.5 2.7M776.6 552.2l-4.6 4.4M768.5 551.5l-.1 .5M768.4 552l2.7 4.4M771.1 556.4l.9 .2M778.2 552.7l-1.6-.5M778.2 552.7l3.7-3.9M774.1 544.7l-.1 4.1M765.8 547.7l2.7 3.8M775.2 560.8l5.3-4.4M775.2 560.8l-3.2-4.2M780.5 556.4l-2.3-3.7M763.4 555.3l5-3.3M766.8 559.9l4.3-3.5M794.5 558l0-.1M794.5 558l-8.8 2.9M794.5 557.9l-3-5.8M783.6 557.7l1.3 2.6M783.6 557.7l4.4-6.7M788 551l3.5 1.1M784.9 560.3l.8 .6M795.6 562.4l-1.1-4.4M797.9 556.4l-3.4 1.5M786.8 564.9l-1.1-4M797 546.9l-5.5 5.2M780.5 556.4l3.1 1.3M778.3 564.8l6.6-4.5M787.6 550.3l.4 .7M779.3 529.5l2-1.7M779.3 529.5l-6.1-.8M781.3 527.8l-1.6-6.3M773.2 528.7l-.7-1.2M772.5 527.5l2.5-5M779.7 521.5l-4.7 1M785.5 527.9l-4.2-.1M780.5 535.6l-1.2-6.1M771.9 534.5l1.3-5.8M779.8 521.2l-.1 .3M770.2 526.7l2.3 .8M772 517.6l3 4.9M826 388.5l-6.3 1.9M827 396.7l-4.9-.6M822.1 396.1l-2.4-5.7M795.1 448.3l1.7 2.4M803.8 442.1l-.7 5.1M796.8 450.7l1.5 0M803.1 447.2l-4.8 3.5M786.2 467.9l2.9-3.1M783.2 459.1l6.3 2.5M789.1 464.8l.4-3.2M792.5 471.8l2.4-4.2M789.1 464.8l5.8 2.8M788.6 453.9l3.8 2.4M796.8 450.7l-1.7 3.9M792.4 456.3l2.7-1.7M789.5 461.6l2.3-2M792.4 456.3l-.6 3.3M812.8 453.7l-3.7-3.8M809.5 457.4l-4.2-3.4M805.3 454l1.3-3.2M809.1 449.9l-2.5 .9M810.8 446.5l-1.7 3.4M803.1 447.2l3.5 3.6M798.3 450.7l5.1 4.1M803.4 454.8l1.9-.8M793.3 473.6l5.7 .7M794.9 467.6l0 0M800.2 470.2l-5.3-2.6M791.8 459.6l5 3.4M794.9 467.6l1.9-4.6M756.1 392.3l1.7-5.1M756.1 392.3l-5.7-2.5M757.8 387.2l-5.1-2.6M750.4 389.8l1-4.5M751.4 385.3l1.3-.7M756.5 393.8l-.4-1.5M758.3 386.9l-.5 .3M749.3 390.3l1.1-.5M753.4 380.7l-.7 3.9M746.2 383.4l5.2 1.9M811.7 383.6l1 1.8M803.6 386.7l6.7 1.9M810.3 388.6l2.4-3.2M819.8 382l-3.2 3.6M812.7 385.4l3.9 .2M819.7 390.4l-.1 0M816.6 385.6l3 4.8M800.2 396.8l6.3 1.6M802.2 391.6l6 2.4M806.5 398.4l1.7-4.4M819.6 390.4l-5.6 4.6M810.3 388.6l-.4 4.2M814 395l-4.1-2.2M808.2 394l1.7-1.2M801.8 458.2l3.7 3.8M801.8 458.2l-1.9 .5M799.9 458.7l-2.3 4M802.7 465.7l-5.1-3M803.4 454.8l-1.6 3.4M795.1 454.6l4.8 4.1M796.8 463l.8-.3M792.2 476.5l1.9 3.2M794.1 479.7l5.1-.8M796.9 491.6l.4-.9M796.9 491.6l2.2 4.2M797.3 490.7l5.4-2.2M799.1 495.8l5.4-2.6M790.9 493.3l6-1.7M799 496.1l.1-.3M798.9 401.6l6.2 2.5M806.5 398.4l.8 3.4M807.3 401.8l-2.2 2.3M801 408.6l4-3.3M805.1 404.1l-.1 1.2M806.3 413.4l2.3-2.4M805 405.3l3.6 5.7M815.9 415.9l-2.2-5M813.7 410.9l-5.1 .1M795 486.1l.1-.3M795 486.1l-4.1 1.8M795.1 485.8l-1.9-4.2M793.2 481.6l-6.1 1.2M790.9 487.9l-3.9-3M787 484.9l0-2M787 482.9l.1-.1M800.6 483.5l-5.5 2.3M797.3 490.7l-2.3-4.6M790.6 493.1l.3-5.2M794.1 479.7l-.9 1.9M787.9 477.2l-.8 5.6M783.5 488.7l3.5-3.8M780.7 480.3l6.3 2.6M812.5 402.5l1.9 6.8M812.5 402.5l3.2-3M818.4 399.9l-2.7-.4M818.4 399.9l3.7 5.2M814.4 409.3l7.5-2.9M822.1 405.1l-.2 1.3M807.3 401.8l5.2 .7M813.7 410.9l.7-1.6M814 395l1.7 4.5M822.1 396.1l-3.7 3.8M828.6 400.6l-6.5 4.5M825.3 411.3l-3.4-4.9M786.5 475.6l-3.4 5.9l-1.4 6.6l-.3 8.2l.3 4.2l1.7 8l3.8 9.2l23.7 47.7l3.8 9.3M786.2 471.1l-4.7 6.5l-2.1 6.2l-1 8.2l0 4.4l1 8.8l1.2 4.2l3.9 9.6l21.5 43.1l6.9 16.2M786.2 466.6l-5.1 6.2l-2.2 3.4l-2.5 7l-1 8.6l0 4.7l1.1 9.3l1.2 4.6l4.1 9.8l23.7 47.8l5.5 14M786.3 461.9l-7.7 9.1l-2.4 3.8l-1.6 3.7l-1.8 8.5l-.4 4.7l.3 9.8l.8 4.9l1.3 4.9l4.2 10.2l23.8 47.8l6.3 16.6M786.5 457.1l-10.3 12.2l-2.6 4.1l-1.9 4.1l-1.9 9.1l-.4 5l.4 10.3l.8 5.1l3.3 10.5l26.2 53.1l7.3 19.3M781.6 458.2l-7.9 9.5l-2.8 4.2l-2.1 4.9l-2 9.3l-.4 5.5l.4 10.5l.8 5.4l3.6 11.2l26.2 53.1l6 15.9M776.5 459.4l-5 6.2l-3.2 4.9l-2.2 5l-1.3 4.9l-1.4 11.2l.4 10.7l.9 5.7l1.7 6.3l4.5 10.9l23.7 47.9l4.9 12.4M771.4 460.7l-5.8 8.4l-2.4 5.5l-1.5 5.8l-1.3 10.4l0 5.9l1.3 11.8l1.9 6.9l4.5 11.1l21.7 43.5l5.7 13.1M766.4 462.4l-3.4 5.3l-2.6 5.9l-2.4 11l-.6 12.1l1.3 12.2l2 7.5l4.7 11.3l21.7 43.6l4.2 9.3M821.5 414.2l-15.4 24.9l-13.2 17.3M820.9 409.5l-17.3 28l-15 19.4M818.3 407.9l-17.2 27.9l-14.8 19.2M813.9 409.5l-15.3 24.6l-12.8 16.7" fill="none" stroke="#6e6e6e" stroke-width="1.85"/>
<use href="#e6" fill="none" stroke="#000" stroke-width="4.6" stroke-linejoin="round"/>
<use href="#e7" fill="#fff"/>
<path d="M981.7 360.8l-.2 4.5M981.5 365.3l-3.6 .4M977.9 365.7l-.1 0M977.1 360.8l.7 4.9M981.5 365.3l.9 .6M986 361.2l-.4 4.5M982.4 365.9l3.2-.2M1080.8 450.2l4.5-.1M1080.8 450.2l-.5-.7M1080.3 449.5l.4-3.4M1080.7 446.1l4.5-.7M1057.6 397.7l-2.6 3.7M1054.7 395.2l-3.3 3.2M1051.4 398.4l3 2.9M1055 401.4l-.6-.1M1091.5 483.2l-4.1 .5M1091.8 488l-4.7-.2M1087.4 483.7l-.8 3.3M1087.1 487.8l-.5-.8M1062 500.1l2.6-3.5M1058.5 497.9l2.6-4M1061.1 493.9l3.2 1.6M1064.6 496.6l-.3-1.1M898.8 525l4.4-1.4M900 528.8l4.5-1.1M904.5 527.7l-1.3-4.1M909.3 525.6l-4.5 2.3M909.3 525.6l2 2.3M911.3 527.9l.1 1.5M911.4 529.4l-5 2.1M904.8 527.9l1 3.2M905.8 531.1l.6 .4M904.5 527.7l.3 .2M901.6 533.4l4.2-2.3M902.8 536.5l5.1-1.1M907.9 535.4l-1.5-3.9M956 364.8l1.4 4.2M960.3 363.3l1.1 4.4M957.4 369l3.2-.3M961.4 367.7l-.8 1M983.3 427.9l-.9-4.2M984.3 422.9l-1.9 .8M984.6 428.9l2.6-3.2M984.3 422.9l2.2 1.1M987.2 425.7l-.7-1.7M1031.2 383.5l2.6 2.6M1031.2 383.5l3.1-3.2M1036.9 381.9l-1.9 4.1M1033.8 386.1l1.2-.1M1044.6 387.1l-2.9 3.6M1048.1 389.8l-3.1 3.5M1041.7 390.7l2.4 2.6M1045 393.3l-.9 0M1031.2 383.5l-.9 0M1030.1 377.8l-2 3.7M1030.3 383.5l-2.2-2M1069.9 410l-3.3 3.2M1072.7 413.3l-3.6 2.6M1069.1 415.9l-2.5-2.7M1084.9 441.6l-4.7 0M1080.7 446.1l-1-1.2M1080.2 441.6l-.5 3.3M1057.2 404l-2.2-2.6M1057.2 404l.3 .1M1057.5 404.1l3.8-3M1041.3 478.8l-2.7 3.4M1041.3 478.8l2.5 1.2M1041.6 484.9l2.7-3.2M1043.8 480l.5 1.7M1046.6 477.3l2.8 .9M1046.6 477.3l-2.8 2.7M1047.4 482.8l-3.1-1.1M1047.4 482.8l2.4-3.4M1049.8 479.4l-.4-1.2M1047.8 484.2l3 1.3M1047.4 482.8l.4 1.4M1052.9 481.1l-3.1-1.7M1052.9 481.1l.3 .9M1053.2 482l-2.4 3.5M1047.8 484.2l-2.7 3.6M1048.3 490.4l3.1-3.4M1050.8 485.5l.6 1.5M1067.8 497.8l-3.2-1.2M1066.6 502.5l1.2-4.7M1040.7 477.2l-2.1-1M1038.6 476.2l-3.1 3.2M1041.3 478.8l-.6-1.6M1087.1 487.8l-.6 3.1M1086.5 490.9l4.3 2M1080.8 450.2l-.7 3.5M1080.1 453.7l4.7 1M1074.4 490.7l2.1-5.2M1074.4 490.7l-4.5-2.4M1076.5 485.5l-5.5 .5M1071 486l-1.2 1.8M1069.8 487.8l.1 .5M903.2 523.6l.3-.5M903.5 523.1l-1.4-3.5M897.6 520.8l4.5-1.2M892.5 495.8l4.3-.4M893.2 500.2l4.4-1.1M897.6 499.1l.2-.5M896.8 495.4l1 3.2M964.4 362.2l1.1 4.8M961.4 367.7l3.5-.1M965.5 367l-.6 .6M957.4 369l-.9 1.1M956.5 370.1l-2.3 .3M951.7 366.6l2.5 3.8M956.5 370.1l1.5 3.8M960.6 368.7l1.3 4.4M958 373.9l3.9-.8M937.4 433.3l3 .6M940.4 433.9l3-4.3M937 432.1l2-3.8M939 428.3l3.8 .5M937.4 433.3l-.4-1.2M943.4 429.6l-.6-.8M974.8 430.3l.3-4.2M971.5 430.6l-1.3-4.1M975.1 426.1l-2.1-.9M973 425.2l-2.8 1.3M982.4 423.7l-.7-.1M984.7 419.1l-4.9-.8M979.8 418.3l-.4 1.4M984.7 419.1l-.4 3.8M979.4 419.7l2.3 3.9M962.8 429.8l2.7-1.9M966.3 428l-.8-.1M962.8 429.8l-.2 1.8M966.3 428l2 3.9M962.6 431.6l3.2 2.7M1007.2 444.7l.9 2.2M1004.6 449.7l3.5-2.8M1007.2 444.7l-2.1-.8M1005.1 443.9l-3.2 3.1M1012.9 435.6l-4.6 2.2M1012.9 435.6l2 4.1M1010 441.4l3.3 1.2M1014.9 439.7l-1.6 2.9M1010 441.4l-2-3.3M1008 438.1l.3-.3M1008.1 453.2l2.8-3.1M1008.1 446.9l2 .8M1010.9 450.1l-.8-2.4M1014.6 420.7l-2.3 4.4M1012.3 425.1l-3.1-1M1009.2 424.1l.3-3.8M1014.6 420.7l-.5-1M1014.1 419.7l-4.6 .6M1005.4 419.1l-1.9-2.8M1005.4 419.1l-1.1 2.8M1003.5 416.3l-4.3 1.8M999.2 418.1l1.5 5.5M1000.7 423.6l3.6-1.7M1007.6 424.8l-3.3-2.9M1007.6 424.8l1.6-.7M1009.5 420.3l-1.4-1.3M1008.1 419l-2.7 .1M1033.8 386.1l-1.9 2.5M1030.3 383.5l-2.3 4.7M1031.9 388.6l-3.9-.4M1037.7 394.5l3.1-3.9M1037.7 394.5l-3-2.8M1034.7 391.7l2.6-3.6M1040.8 390.6l-2.4-2.5M1038.4 388.1l-1.1 0M1031.9 388.6l1.6 3.1M1033.5 391.7l1.2 0M1035 386l2.3 2.1M1041.7 390.7l-.9-.1M1040.7 384.4l-2.3 3.7M1003.3 397.8l-.2-.3M1003.3 396l-.2 1.5M1003.3 397.8l6 .9M1007.5 393.1l-4.2 2.9M1007.5 393.1l.4 0M1007.9 393.1l1.4 5.6M1003 401.8l.3-4M1009.7 401.5l-3 1.7M1003 401.8l3.7 1.4M1009.7 401.5l.3-2.2M1009.3 398.7l.7 .6M1054.4 401.3l-4.1 3.7M1050.3 405l-1.7-3.3M1051.4 398.4l-.7-.1M1048.6 401.7l2.1-3.4M1051.2 392.2l-2.6 4M1050.7 398.3l-2.1-2.1M1045 393.3l2.8 2.8M1048.6 396.2l-.8-.1M1047.8 396.1l-4.2 4.4M1044.1 393.3l-2.6 3.7M1043.6 400.5l-2.1-3.5M1037.7 394.5l.2 1.6M1041.5 397l-3.6-.9M1079.7 424.4l-4 2.3M1077.8 420.8l-4 2.4M1073.8 423.2l-.2 1.1M1075.7 426.7l-2.1-2.4M1075.5 417.1l-3.9 2M1069.1 415.9l0 1M1069.1 416.9l2.5 2.2M1073.8 423.2l-2.3-2.5M1071.6 419.1l-.1 1.6M1067.1 407l-3.2 3.4M1066.6 413.2l-.5-.1M1063.9 410.4l2.2 2.7M1070.3 458l.4-2.4M1070.7 455.6l3.1-.8M1073.8 454.8l1.7 3.6M1070.3 458l2.7 2.2M1073 460.2l2.5-1.8M1074.9 452.6l-1.1 2.2M1079.5 454.3l-.3 2.3M1079.5 454.3l-4.6-1.7M1079.2 456.6l-2.8 1.9M1076.4 458.5l-.9-.1M1037.6 402.1l-1.5-4.2M1036.1 397.9l-.5 0M1035.6 397.9l-4.4 3.5M1037.6 402.1l-3 1.6M1034.6 403.7l-3.4-2.3M1057.2 404l-3.1 4M1050.3 405l0 .3M1054.1 408l-3.8-2.7M1028.8 433.2l-4.4 3.1M1028.8 433.2l3.5 2.7M1032.3 435.9l-2.9 4M1029.4 439.9l-4.6-1.4M1024.8 438.5l-.4-2.2M1007.6 424.8l-1 2.5M1006.6 427.3l3.4 2.4M1012.3 425.1l1 2M1010 429.7l3.3-2.6M1022.8 434.8l1.6 1.5M1022.8 434.8l1.1-5.5M1028.7 431l.1 2.2M1028.7 431l-4.5-1.9M1024.2 429.1l-.3 .2M1040.7 477.2l2.5-2.3M1046.6 477.3l-1.1-2.1M1045.5 475.2l-2.3-.3M1056.5 483.9l-3.3-1.9M1052.9 481.1l2.8-3.1M1059.4 480.9l-.2-1.2M1059.4 480.9l-2.9 3M1055.7 478l3.5 1.7M1051.3 475.2l3.5-.4M1051.3 475.2l-2.8-4.3M1053.5 469.7l2.1 4.1M1053.5 469.7l-2.2-.5M1055.6 473.8l-.8 1M1051.3 469.2l-2.8 1.7M1049.4 478.2l1.9-3M1055.7 478l-.9-3.2M1059.1 472.8l2.1 1M1061.8 475.5l-.6-1.7M1059.2 479.7l2.6-4.2M1059.1 472.8l-3.5 1M1055.3 495.7l2.7-3.7M1061.1 493.9l-.3-.6M1060.8 493.3l-2.8-1.3M947.3 507.7l.1 .1M947.3 507.7l-.5-4.9M952.4 503l-.1 3.5M952.4 503l-.6-1M946.8 502.8l.7-.9M947.5 501.9l4.3 .1M947.4 507.8l4.9-1.3M1086.5 490.9l-1.2 .8M1088.6 496.7l-3.8-2.5M1084.8 494.2l.5-2.5M1083.5 477.5l3.8-2.9M1083.5 477.5l0 .2M1089.7 478.4l-4 2.3M1083.5 477.7l2.2 3M1087.4 483.7l-1.7-2M1085.7 481.7l0-1M1077.4 485.5l3.8-2M1077.4 485.5l3 4.4M1083.6 486.8l-2.1 2.8M1083.6 486.8l-1.7-3.1M1081.9 483.7l-.7-.2M1081.5 489.6l-1.1 .3M1076.7 485.3l.7 .2M1076.7 485.3l-.2 .2M1079.2 492.2l1.2-2.3M1077 493l2.2-.8M1075 492.4l2 .6M1075 492.4l-.6-1.7M1086.6 487l-3-.2M1085.3 491.7l-3.8-2.1M1085.7 481.7l-3.8 2M1080.4 480.1l.8 3.4M1080.4 480.1l3.1-2.4M1084.8 494.2l-2.3 1.2M1082.5 495.4l-3.3-3.2M1069.9 493.7l-1.8 4M1069.9 493.7l3 .4M1072.9 494.1l.2 4.1M1068.1 497.7l3.5 1.5M1071.6 499.2l1.5-1M1067.8 497.8l.3-.1M1064.3 495.5l2.2-3.4M1068.4 491.8l-1.9 .3M1068.4 491.8l1.5 1.9M1068.4 491.8l1.5-3.5M1075 492.4l-2.1 1.7M1077 493l.6 5.1M1075.6 499l2-.9M1075.6 499l-2.5-.8M1071 503.6l.6-4.4M1075.6 503.5l0-4.5M1082.2 496.7l-3.5 1.7M1082.2 496.7l2.6 3.8M1078.7 498.4l1.6 4.2M1077.6 498.1l1.1 .3M1082.5 495.4l-.3 1.3M914.9 550.8l4-1.9M921 550.5l-2.1-1.6M916.2 554.2l1.4 .5M914.9 550.8l1.3 3.4M921 550.5l.3 1.6M921.3 552.1l-3.7 2.6M955.7 582.8l-3.6-2.2M957.8 578.6l-4.3-1.3M953.5 577.3l-.6 .4M952.1 580.6l.8-2.9M894.7 508.6l4.3-.9M895.5 512.4l4.5-.7M900 511.7l.3-.7M899 507.7l1.3 3.3M892 491.3l4.2-.4M896.8 495.4l.8-1.3M896.2 490.9l1.4 3.2M916.3 421l-1 .7M915.3 421.7l-5-2.5M910.2 418.6l.1 .6M910.2 418.6l2.1-3.3M916.3 421l1.1-2.9M912.3 415.3l4.9 2.5M917.4 418.1l-.2-.3M927.6 384.3l3.5 3.3M925.1 387.2l2.9 3.5M931.1 387.6l-1.9 3M928 390.7l1.2-.1M930.4 381.4l3.5 2.8M933.9 384.2l-1.6 3.1M932.3 387.3l-1.2 .3M935.5 390.3l-3.2-3M932.1 393.1l3.4-2.8M932.1 393.1l-2.9-2.5M921.8 391.4l3.8 2.3M928 390.7l-2.2 3M925.6 393.7l.2 0M940.6 373l2.6 3.7M937 375.7l2.9 3.5M939.9 379.2l1.8-.3M943.2 376.7l-1.5 2.2M935.2 384l2.8 3.3M935.2 384l1.6-2.2M936.8 381.8l1.3-.3M938.1 381.5l3.1 3.4M938 387.3l2.4-.7M941.2 384.9l-.8 1.7M935.5 390.3l.8 0M933.9 384.2l1.3-.2M936.3 390.3l1.7-3M934 378.1l2.8 3.7M939.9 379.2l-1.8 2.3M932.6 428.9l.7-1.4M937 432.1l-4.4-3.2M939 428.3l-1.2-2.3M933.3 427.5l4.5-1.5M968.5 361.4l.9 4.8M965.5 367l3.8-.7M969.4 366.2l-.1 .1M973.3 360.9l.1 4.8M969.4 366.2l4-.5M977.8 365.7l-4 .3M973.4 365.7l.4 .3M916.5 443.1l3.5 .6M920 443.7l2.3-4.3M915.6 441.6l.9 1.5M915.6 441.6l3.2-4M918.8 437.6l.5 0M919.3 437.6l3 1.8M931.9 436.4l.9 4M931.9 436.4l3.9-1.1M935.8 435.3l2.3 4.9M938.1 440.2l-2.7 1.6M935.4 441.8l-2.6-1.4M941.1 434.8l-.2 3.9M941.1 434.8l4.1 .6M940.9 438.7l4.4 1.7M945.2 435.4l1.3 2.2M945.3 440.4l1.2-2.8M938.1 440.2l.2 0M940.4 433.9l.7 .9M937.4 433.3l-1.6 2M938.3 440.2l2.6-1.5M946.3 432.5l-1.1 2.9M944.7 429.8l1.6 2.7M944.7 429.8l-1.3-.2M941.1 444.5l4.2-3.7M941.1 444.5l-2.8-4.3M945.3 440.8l0-.4M935.2 445.5l-1.2 1.2M936.4 450.6l-2.4-3.9M935.2 445.5l4.7 .5M936.4 450.6l3.1-1.2M939.5 449.4l.4-3.4M935.4 441.8l-.2 3.7M941.1 444.5l-.1 .7M939.9 446l1.1-.8M959.3 466.1l-4.3-.7M959.3 469.8l-4.3 .2M955 470l-1-1.2M954 468.8l1-3.4M942.1 493.9l3.9-.7M942.1 493.9l-2.1-3.4M940 490.5l3.8-3M946 493.2l.8-2M946.8 491.2l-.6-2.3M943.8 487.5l2.4 1.4M954.5 436.1l-3.7-1M954.5 436.1l-.1 3M952.1 440.7l2.3-1.6M952.1 440.7l-2.7-3.7M949.4 437l1.4-1.9M955.6 431.4l-4.9 .6M950.4 432.4l.3-.4M955.6 435.2l0-3.8M955.6 435.2l-1.1 .9M950.4 432.4l.4 2.7M946.5 437.6l2.9-.6M951 443.3l.7-.6M951 443.3l-3.7-.5M951.7 442.7l.4-2M947.3 442.8l-2-2M946.3 432.5l4.1-.1M1000.5 423.9l3.3 4.4M1000.5 423.9l.2-.3M1006.6 427.3l-2.2 1.1M1003.8 428.3l.6 .1M1010 429.7l-.1 1.7M1007.6 432.9l2.3-1.5M1007.6 432.9l-2.1-.7M1004.4 428.4l1.1 3.8M1007.2 444.7l2.8-3.3M1008 438.1l-.1 0M1005.1 443.9l-.9-2.2M1007.9 438.1l-3.7 3.6M999.1 444.2l2.7-3.3M1004.2 441.7l-2.4-.8M1018 439l-3.1 .7M1013.3 442.6l.4 .9M1021.2 441.9l-3.2-2.9M1021.2 441.9l-1.1 2.1M1020.1 444l-6.4-.5M1010.1 447.7l3.4-3.3M1013.7 443.5l-.2 .9M1013.3 450.9l2.7-2.5M1013.3 450.9l1 2.4M1014.3 453.3l1.5 .8M1015.8 454.1l3.4-2.9M1016 448.4l2.6 .3M1019.2 451.2l-.6-2.5M1010.9 450.1l2.4 .8M1013.5 444.4l2.5 4M1010.9 456l3.4-2.7M1020.4 446.6l-.3-2.6M1020.4 446.6l-1.8 2.1M982.3 410.1l2.2-1.7M982.3 410.1l-3.4 0M984 406.1l-4.9-2M984.5 408.4l-.5-2.3M979.1 404.1l-1.3 1.4M978.9 410.1l-1.1-4.6M979.1 404.1l.1-.8M979.2 403.3l3.4-3.2M984 406.1l1.5-2.7M985.5 403.4l-1-3.3M982.6 400.1l1.9 0M976.4 399.3l2.8 4M976.4 399.3l3.1-2.4M982.6 400.1l-3.1-3.2M1010.4 388.2l-4.1-.7M1010.4 388.2l-.9 4M1007.9 393.1l1.6-.9M1007.5 393.1l-3-3.1M1004.5 390l1.8-2.5M989.2 376.7l-3.7 2.5M989.2 376.7l-3.9-4.7M982.8 376.2l2.5 3M982.8 376.2l.5-3.9M985.3 379.2l.2 0M983.3 372.3l2-.3M989.8 376.7l2.2 5.2M991.5 382.8l.5-.9M989.8 376.7l-.6 0M987.4 384l4.1-1.2M987.4 384l-1.9-4.8M978.5 377.7l-.1 1.9M981.3 381.6l-2.9-2M981.3 381.6l4-2.4M978.5 377.7l4.3-1.5M982.4 385.6l5-1.5M987.4 384l0 .1M981.5 385.1l-.2-3.5M981.5 385.1l.9 .5M981.9 371.4l.5-5.5M981.9 371.4l1.4 .9M985.6 365.7l.8 .5M986.4 366.2l-.1 4.8M986.3 371l-1 1M979.2 416.4l.6 1.9M984.7 419.1l1.1-1M983.2 414.2l2.6 1M983.2 414.2l-4 2.2M985.8 418.1l0-2.9M986.5 424l3.8-3.8M985.8 418.1l4.5 2.1M982.3 410.1l.9 4.1M984.5 408.4l2.1 .8M986.6 409.2l.4 5.1M985.8 415.2l1.2-.9M989.1 403.9l1.5 2.5M985.5 403.4l3.6 .5M986.6 409.2l2.4-.6M990.6 406.4l-1.6 2.2M1003.5 416.3l.1-.1M1009.9 415.3l-1.8 3.7M1009.9 415.3l-1.8-2.1M1003.6 416.2l4.5-3M1003.8 428.3l-3.5 2.6M1000.3 430.9l-2.3-1.1M997.7 425l2.8-1.1M997.7 425l-.7 .9M998 429.8l-1-3.9M1010.4 388.2l1.2-1M1007.5 382.1l-.7 .1M1006.8 382.2l-1.8 1.6M1006.3 387.5l-1.3-3.7M1007.5 382.1l4.4 2.5M1011.9 384.6l-.3 2.6M1004.2 377.5l-3.5 1.3M999.5 378l1.2 .8M999.5 378l-.4-4M1004.6 376.5l-.4 1M1004.6 376.5l-2.5-3.2M999.1 374l3-.7M993.6 366.7l.8-4.2M993.6 366.7l-2.9 .3M990.4 361.8l-1 4M990.7 367l-1.3-1.2M986.4 366.2l3-.4M990.1 370.6l-3.8 .4M990.1 370.6l.6-3.6M1005.8 370.5l1.2-4.3M1005.8 370.5l-2.6-.1M1003.3 364.9l-1.4 4.1M1003.2 370.4l-1.3-1.4M1011.3 367.8l-2 3.9M1007.4 371.9l1.9-.2M1007.4 371.9l-1.6-1.4M1002.1 373.3l1.1-2.9M1004.6 376.5l1.5-.8M1006.1 375.7l1.3-3.8M1019.7 398.3l-3.9 1.6M1019.7 398.3l.2-2M1019.9 396.3l-4-3M1015.8 399.9l-3-2.1M1012.8 397.8l1.4-3.5M1015.9 393.3l-1.7 1M1009.5 392.2l4.7 2.1M1010 399.3l2.8-1.5M1011.6 387.2l4.9 3.2M1016.5 390.4l-.6 2.9M1024.4 379.7l1.8-4.2M1024.4 379.7l-1.6 0M1022.8 379.7l-2.1-1.9M1020.7 377.8l2.2-4.1M1028.1 381.5l-1.5 .1M1026.6 381.6l-2.2-1.9M1016.8 375.5l2.6-3.7M1019 377.8l-2.2-2.3M1019 377.8l1.7 0M1039.4 403l4.2-2.3M1039.4 403l.1 3.8M1039.5 406.8l2.9 2.1M1043.8 400.9l-.2-.2M1043.8 400.9l1.5 6.3M1045.3 407.2l-2.9 1.7M1037.9 396.1l-1.8 1.8M1043.6 400.5l0 .2M1037.6 402.1l1.8 .9M1048.6 401.7l-4.8-.8M1050.3 405.3l-3.1 2.2M1047.2 407.5l-1.9-.3M1081.6 428.5l-4.1 1.6M1075.7 426.7l0 1.7M1077.5 430.1l-1.8-1.7M1067.9 422.8l3.6-2.1M1073.6 424.3l-4.2 2.4M1067.9 422.8l.1 3.5M1068 426.3l1.4 .4M1075.7 428.4l-4 1.8M1069.4 426.7l2.3 3.5M1063.9 410.4l-.3-.1M1064.1 403.9l-3 3.3M1063.6 410.3l-2.5-3.1M1057.5 404.1l3 3.1M1060.5 407.2l.6 0M1060.2 416.7l.9 5.1M1060.2 416.7l.1-.3M1060.3 416.4l2.8-.1M1063.1 416.3l2.8 3M1065.8 420.5l.1-1.2M1065.8 420.5l-3.5 1.7M1062.3 422.2l-1.2-.4M1066.1 413.1l-3 3.2M1063.6 410.3l-4.5 3.4M1059.1 413.7l1.2 2.7M1069.1 416.9l-3.2 2.4M1067.9 422.8l-2.1-2.3M1060.6 441.6l3.9 1.7M1057 446l3.6-4.4M1057.6 447.2l-.6-1.2M1057.6 447.2l4.4-.2M1062 447l2.5-3.7M1069 453.8l1.7 1.8M1074.9 452.6l-.1-.5M1069 453.8l1.2-3.8M1070.2 450l4.6 2.1M1080.3 449.5l-4.1-.1M1080.1 453.7l-.6 .6M1076.2 449.4l-1.4 2.7M1062 447l2.2 3.4M1064.2 450.4l-.1 .1M1057.2 450l.4-2.8M1057.2 450l2.9 1.9M1060.1 451.9l4-1.4M1070.3 458l-3.7 1.6M1065.6 454.6l-.5 .8M1069 453.8l-3.4 .8M1066.6 459.6l-1.5-4.2M1021.8 454.1l3.6 2.7M1021.8 454.1l-2.5 2.7M1025.4 456.8l-3.3 3.1M1019.3 456.8l.6 2.1M1019.9 458.9l2.2 1M1021.7 453.1l.1 1M1021.7 453.1l-2.5-1.9M1016.5 455.8l-.7-1.7M1016.5 455.8l2.8 1M1016.8 461.8l3.1-2.9M1014.1 459.1l2.4-3.3M1025.3 462.8l2.8-3.9M1022.7 461.7l2.6 1.1M1022.7 461.7l-.6-1.8M1025.4 456.8l1.4 0M1026.8 456.8l1.3 2.1M1055.6 464.4l3.8-1.8M1055.6 464.4l.6 3.2M1059.4 462.6l2 3.8M1061.4 466.4l-2.8 2.5M1056.2 467.6l2.4 1.3M1051.5 465.1l-.2 4.1M1054.5 464l1.1 .4M1051.5 465.1l3-1.1M1053.5 469.7l2.7-2.1M1059.1 472.8l-.5-3.9M1028.5 392.7l2.7 1.2M1028.5 392.7l-3.5 2.6M1025 395.3l2.3 4.1M1031.2 393.9l.2 1.2M1031.4 395.1l-2.9 4.4M1027.3 399.4l1.2 .1M1028 388.2l-.6 .3M1027.4 388.5l1.1 4.2M1033.5 391.7l-2.3 2.2M1023 394.6l-3.1 1.7M1021.7 402l-2-3.7M1024.1 402.3l-2.4-.3M1023 394.6l2 .7M1024.1 402.3l3.2-2.9M1035.6 397.9l-4.2-2.8M1031 401.4l.2 0M1031 401.4l-2.5-1.9M1039.5 406.8l-2.3 .9M1034.6 403.7l-.2 2.6M1034.4 406.3l2.8 1.4M1034.4 406.3l-2.4 1.2M1037.2 407.7l-1.4 4.3M1035.8 412l-4-2.5M1031.8 409.5l.2-2M1031 401.4l-1.2 4.1M1032 407.5l-2.2-2M1024.1 402.3l1.8 4M1025.9 406.3l0 .1M1025.9 406.4l3.9-.9M1042.4 408.9l-.3 2.2M1042.1 411.1l-3 3.1M1035.8 412l.4 1.3M1036.2 413.3l2.9 .9M1031.8 409.5l-2.7 2.1M1036.2 413.3l-2.8 2.3M1033.4 415.6l-2-.2M1031.4 415.4l-2.3-3.8M1025.9 406.4l1.7 5M1029.1 411.6l-1.5-.2M1008.3 437.8l-.7-4.9M1012.9 435.6l.5-1.1M1009.9 431.4l3.4 2.6M1013.4 434.5l-.1-.5M1018 439l.7-3.6M1013.4 434.5l5.3 .9M1022.9 441.2l1.9-2.7M1022.9 441.2l-1.7 .7M1022.8 434.8l-3.1-.2M1018.7 435.4l1-.8M951.8 502l.6-3.5M948.1 496.3l-1.4 2.1M948.1 496.3l2.7 .2M946.7 498.4l.8 3.5M950.8 496.5l1.6 2M1048.5 470.9l-.1-.1M1051.5 465.1l-2.2-1.2M1046.6 464.8l2.7-.9M1046.6 464.8l-.3 .4M1048.4 470.8l-2.1-5.6M1045.5 475.2l2.4-4.2M1048.4 470.8l-.5 .2M1063.7 489.5l2.2-3.2M1063.7 489.5l-.7 .1M1063 489.6l-3.1-2.3M1059.9 487.3l3.3-4.3M1065.9 486.3l-.9-2.3M1065 484l-1.7-1M1063.3 483l-.1 0M1066.5 492.1l-2.8-2.6M1069.8 487.8l-3.9-1.5M1060.8 493.3l2.2-3.7M1070.2 481.3l.8 4.7M1070 481.2l.2 .1M1070 481.2l-5 2.8M1070 481.2l-2.3-4M1065.4 477.6l2.3-.4M1065.4 477.6l-2.1 5.4M1065.4 477.6l-3.6-2.1M1059.4 480.9l3.8 2.1M1057.4 490.7l1.9-3.3M1057.4 490.7l-3-.7M1054.4 490l-.9-2.2M1053.5 487.8l3.2-2.8M1056.7 485l2.6 2.4M1058 492l-.6-1.3M1059.9 487.3l-.6 .1M1052 493.2l2.4-3.2M1051.4 487l2.1 .8M1056.5 483.9l.2 1.1M966.1 532.5l-4.7 .1M966.4 536.5l-4.6 .5M961.4 532.6l-.5 3.1M961.8 537l-.9-1.3M964.9 519.6l-4.2 .6M960.7 520.2l-.6 2.8M960.1 523l.9 1.3M965.4 524.4l-4.4-.1M960.9 531.8l-5.6 0M960.9 531.8l.4-3M961.3 528.8l-.9-1.2M960.4 527.6l-4.9 .1M955.5 527.7l-.4 3.9M955.1 531.6l.2 .2M956.3 536.1l4.6-.4M955.8 535.7l-.5-3.9M956.3 536.1l-.5-.4M961.4 532.6l-.5-.8M965.7 528l-4.4 .8M961 524.3l-.6 3.3M964.3 515l-4.5 .8M960.7 520.2l-1.2-1.5M959.8 515.8l-.3 2.9M1079.2 456.6l3.5 3.2M1061.4 466.4l2.7 .7M1061.2 473.8l3.2-2.8M1064.4 471l-.3-3.9M1067.7 477.2l.6-1M1068.3 476.2l-1.5-4.4M1064.4 471l2.4 .8M914.3 550.5l-1.4-3.4M914.3 550.5l-3.9 2.4M908.3 548.8l4-2M912.3 546.8l.6 .3M914.9 550.8l-.6-.3M918.1 544.9l.8 4M918.1 544.9l-5.2 2.2M916.2 554.2l-3.9 2.2M906.2 544.5l4.5-1.7M911.3 543.1l-.6-.3M911.3 543.1l1 3.7M914.6 560.1l3.8-2.3M917.6 554.7l.8 3.1M917.2 564l3.2-2.6M918.4 557.8l1.1 .6M919.5 558.4l.9 3M923.1 564.9l-3.6 2.3M923.1 564.9l-1.1-2.9M922 562l-1.6-.6M921.3 552.1l3 2.1M919.5 558.4l4.4-2.1M924.3 554.2l-.4 2.1M922 562l3.4-2.5M923.9 556.3l1.5 3.2M953.1 586.6l-3.2-3.8M952.1 580.6l-1.7 1.1M949.9 582.8l.5-1.1M947.9 588.7l.1-4.8M949.9 582.8l-1.9 1.1M950.1 571.8l1.6-3.8M950.1 571.8l4.5 1.8M951.7 568l4.3 1.7M956 569.7l-.8 3.5M954.6 573.6l.6-.4M949.6 572.2l.5-.4M949.6 572.2l-4.2-2.8M951.5 567.3l.2 .7M951.5 567.3l-4.1-.5M947.4 566.8l-2 2.6M948.3 575.4l1.3-3.2M952.9 577.7l-4.6-2.3M953.5 577.3l1.1-3.7M957.2 569l-1.2 .7M961.1 570.9l-3.9-1.9M959.5 574.9l-4.3-1.7M908.5 422l-4.5-1.4M908.5 422l.3 1.4M908.8 423.4l-2.1 2.8M902.4 424.2l4.3 2M910.2 418.6l-4.1-2.2M910.3 419.2l-1.8 2.8M914 425.2l1.3-3.5M914 425.2l-.6 .4M913.4 425.6l-4.6-2.2M906.8 427l4.8 2.2M906.8 427l-.1-.8M913.4 425.6l-1.8 3.6M905 430.2l-4.2-2.1M905 430.2l1.8-3.2M905 430.2l.1 .4M899.2 432.3l4 1.3M903.2 433.6l1.9-3M911.6 429.2l.2 1M911.8 430.2l-3.7 2M905.1 430.6l3 1.6M916.5 435.8l-3.3 .5M916.5 435.8l.2-4.3M916.7 431.5l-4.3-.6M912.4 430.9l-.1 4.8M913.2 436.3l-.9-.6M915.6 441.6l-2.7-.6M912.9 441l.3-4.7M918.8 437.6l-2.3-1.8M918.6 430.1l.2 .1M918.8 430.2l2.3 3.4M921.1 433.6l-1.8 4M918.6 430.1l-1.9 1.4M917.8 427.5l.8 2.6M914 425.2l3.8 2.3M911.8 430.2l.6 .7M902 437.8l.4 1.1M902 437.8l1.6-2.9M902.4 438.9l3.7 1M903.6 434.9l4.6 1.2M906.1 439.9l1.8-1.4M907.9 438.5l.4-2.2M908.3 436.3l-.1-.2M897.8 436.3l4.2 1.5M896.7 440.3l4.2 1.4M900.9 441.7l1.5-2.8M903.2 433.6l.4 1.3M908.1 432.2l.1 3.9M912.3 435.7l-4 .6M912.9 441l-1 .5M911.9 441.5l-4-3M896 482.4l.6-1M891.6 482.7l4.4-.3M896.6 481.4l-.5-3M896.1 478.4l-4.5-.2M932.8 440.4l-3.6 3.2M931.5 436.3l-5.6 4.4M925.9 440.7l.5 1.2M931.5 436.3l.4 .1M926.4 441.9l2.8 1.7M933.2 446.8l-3.5-2M934 446.7l-.8 .1M929.2 443.6l.5 1.2M911.7 534.1l2.3 3.3M911.7 534.1l-3.7 1.3M908 535.4l.6 3.3M914 537.5l0-.1M914 537.5l-4.4 1.9M908.6 538.7l1 .7M911.4 529.4l1.3 1.8M907.9 535.4l.1 0M912.7 531.2l-1 2.9M904.6 540.9l4-2.2M911.3 543.1l4.2-2M910.7 542.8l-1.1-3.4M915.5 541.1l-1.5-3.6M912.7 531.2l3.2 .2M914 537.4l3.2-2M915.9 531.4l1.3 4M899 507.7l.6-1.4M893.8 504.1l4.6-.6M899.6 506.3l-1.2-2.8M897.6 499.1l1.2 3.7M898.4 503.5l.4-.7M891.7 486.7l4.5 .1M896.2 490.9l.7-1.3M896.9 489.6l-.7-2.8M896 482.4l1 3.2M896.2 486.8l.8-1.2M914.5 411l-4.4-2M914.5 411l0 .5M914.5 411.5l-2.3 3.3M908.2 412.3l4 2.5M912.3 415.3l-.1-.5M917.5 413.3l-.3 4.5M917.5 413.3l-3-1.8M916.2 408l-.1-.3M916.2 408l-1.7 3M912.4 405.1l3.7 2.6M922.8 407.9l-2.9 2.1M922.8 407.9l2.9 5M922.2 414.2l-2.5-2M922.2 414.2l2.7-.4M919.9 410l-.2 2.2M924.9 413.8l.8-.9M923 407.2l-.2 .7M923 407.2l-4.2-2.9M916.1 407.7l2.7-3.4M916.2 408l3.7 2M917.5 413.3l2.2-1.1M919.9 417.8l-2.5 .3M919.9 417.8l2.3-3.6M936.3 390.3l2.7 3.3M939 393.6l-.9 2.3M932.1 395.3l5.4 1.1M932.1 393.1l0 2.2M938.1 395.9l-.6 .5M926.3 412.8l-.6 .1M929.8 409.5l-3.5 3.3M923 407.2l1.8-1.4M929.8 409.5l-.1-1.1M924.8 405.8l4.9 2.6M933.5 412l2.4-3.9M933.5 412l-3.7-2.5M934.3 405.4l1.6 2.7M934.3 405.4l-3.1 .8M931.2 406.2l-1.5 2.2M932.1 395.3l-1.3 1.4M925.8 393.7l4 3M930.8 396.7l-1 0M944.2 370.6l2.3 4M943.2 376.7l2-.3M946.5 374.6l-1.3 1.8M941.7 378.9l2.4 3.7M941.2 384.9l2.5-1.2M943.7 383.7l.4-1.1M945.2 376.4l3.2 4.4M944.1 382.6l4.3-1.8M940.4 386.6l2.9 3.9M939 393.6l3.6-1.2M943.3 390.5l-.7 1.9M942.6 392.4l2.9 3.2M938.1 395.9l4.9 3.7M943 399.6l1.6-.5M944.6 399.1l.9-3.5M939.7 410.2l3.3-.2M938.5 408.4l1.2 1.8M940.6 404.2l-2.1 4.2M940.6 404.2l4.4 2.5M943 410l2-3.3M952.1 412.5l-3.5-1.7M949.6 416.4l2.5-3.9M949.6 416.4l-4-2.2M948.6 410.8l-3 3.4M934.9 422l1.1 .1M934.9 422l-2.3 2.4M932.6 424.4l.7 3.1M937.8 426l.2-.6M938 425.4l-2-3.3M938.6 418.1l1.7-2.7M938.6 418.1l-3.5-1.5M940.3 415.4l-1.6-2.8M938.7 412.6l-4.8 .5M935.1 416.6l-1.3-3.3M933.9 413.1l-.1 .2M932.8 419.4l2.3-2.8M934.9 422l-2.1-2.6M938.8 419.1l-2.8 3M938.8 419.1l-.2-1M943 410l1.8 4.2M944.2 414.9l.6-.7M939.7 410.2l-1 2.4M944.2 414.9l-3.9 .5M935.9 408.1l2.6 .3M933.5 412l.4 1.1M926.3 412.8l3.7 2.8M930 415.6l3.8-2.3M966.6 380.7l-4.3 .3M961.1 382.9l1.2-1.9M961.1 382.9l.3 2.6M961.4 385.5l4.6 1.8M966 387.3l.6-.4M966.6 380.7l.5 .4M967.1 381.1l-.5 5.8M925.6 430.4l2.6-1.8M925.6 430.4l-.3 2.8M925.3 433.2l.4 .7M925.7 433.9l5 1.3M930.7 435.2l.7-5.8M931.4 429.4l-3.2-.8M923 428.8l2.6 1.6M918.8 430.2l4.2-1.4M921.1 433.6l4.2-.4M924.1 439.4l1.6-5.5M922.3 439.4l1.8 0M925.9 440.7l-1.8-1.3M931.5 436.3l-.8-1.1M932.6 428.9l-1.2 .5M930 415.6l-.3 2.9M932.8 419.4l-2.4-.1M930.4 419.3l-.7-.8M932.6 424.4l-3.1-1.4M930.4 419.3l-.9 3.7M924.9 413.8l.5 4.8M929.7 418.5l-4.3 .1M928.2 428.6l-.9-4.3M929.5 423l-2.2 1.3M947.4 452.6l-4.8-.5M947.4 452.6l1-3.5M942.6 452.1l2-4.6M948.4 449.1l-2.8-1.8M945.6 447.3l-1 .2M939.5 449.4l2.9 2.8M941 445.2l3.6 2.3M942.4 452.2l.2-.1M951 443.3l.3 4.2M947.3 442.8l-1.7 4.5M951.3 447.5l-.5 .8M950.8 448.3l-2.4 .8M950.8 448.3l1.9 3.6M952.7 451.9l-2.3 2.7M947.4 452.6l.8 1.4M948.2 454l2.2 .6M952.7 451.9l2.7 .3M956.1 452.9l-.7-.7M955.4 456.6l-.2 .2M955.4 456.6l.7-3.7M955.2 456.8l-4-.8M950.4 454.6l.8 1.4M950.1 459.2l1.1-3.2M950.1 459.2l-4.4-.3M948.2 454l-2.6 3.6M945.7 458.9l-.1-1.3M942.4 452.2l-.8 2M945.6 457.6l-4-3.4M936.4 450.6l-.8 2.6M935.6 453.2l.8 1M941.6 454.2l-1.2 .7M936.4 454.2l4 .7M954.7 464.8l-5-.5M954.7 464.8l.7-3.6M955.4 461.2l-.5-.7M954.9 460.5l-3.9 .1M951 460.6l-1.3 3.7M959.6 461.3l-4.2-.1M955 465.4l-.3-.6M960 457.3l-4.6-.7M955.2 456.8l-.3 3.7M950.1 459.2l.9 1.4M950.7 468.8l-1.5-4.2M950.7 468.8l-1.2 1.5M949.5 470.3l-3.1-.1M949.2 464.6l-2.6-.2M946.6 464.4l-1.1 4.6M946.4 470.2l-.9-1.2M954 468.8l-3.3 0M949.7 464.3l-.5 .3M941.4 472.5l3.6 1M945 473.5l1.4-3.3M941.4 472.5l-.9-3.7M940.5 468.8l5 .2M949.8 485.5l.8 .5M949.6 484.8l.2 .7M955.1 485.1l-4.5 .9M951.5 481.4l3.2 .1M951.5 481.4l-1.9 3.4M955.1 485.1l.4-2.5M955.5 482.6l-.8-1.1M949.5 470.3l.9 2.9M955 470l-.6 3.4M950.4 473.2l4 .2M933.4 469.5l-3.9-2.2M933.4 469.5l1.6-4.2M935 465.3l-.3-.6M934.7 464.7l-3.7-1.2M929.5 467.3l-.2-2M929.3 465.3l1.7-1.8M929.7 444.8l-2.7 4.1M933.2 446.8l-2.7 5M930.5 451.8l-3.5-2.9M936.6 484.6l-3 3.6M936.6 484.6l1.7 .3M938.3 484.9l1 5.3M939.3 490.2l-3.5 1M933.6 488.2l2.2 3M946.2 488.9l3.6-3.4M949.6 484.8l-3.9-2.3M943.8 487.5l-.5-2.6M945.7 482.5l-2.4 2.4M939.3 490.2l.7 .3M938.3 484.9l1.7-.9M943.3 484.9l-3.3-.9M950.4 473.2l-1.9 3.2M945 473.5l.9 2M945.9 475.5l2.6 .9M945.7 482.5l0-.1M949.4 477.8l-.2-.1M951.5 481.4l-2.1-3.6M949.2 477.7l-3.5 4.7M926.1 470l3.4-2.7M926.1 470l2.3 3.6M933.4 469.5l.2 .8M928.4 473.6l5.2-3.3M939.4 475.1l3.4 2.9M939.4 475.1l-.7 .2M938.7 475.3l-1.4 3.8M937.3 479.1l2.8 1.6M940.1 480.7l2.6-1.8M942.8 478l-.1 .9M941.4 472.5l-2 2.6M945.9 475.5l-3.1 2.5M935.5 473.3l-.6-2M940.5 468.8l-5.6 2.5M940.5 468.8l0 0M935.5 473.3l3.2 2M945.7 482.4l-3-3.5M940 484l.1-3.3M949.2 477.7l-.7-1.3M930.7 480.4l1.8 2M930.7 480.4l1.2-3.4M931.9 477l1.1-.2M933 476.8l3 2.7M936 479.5l-1.1 2.8M934.9 482.3l-2.4 .1M933.6 470.3l1.3 1M928.4 474.5l0-.9M928.4 474.5l3.5 2.5M935.5 473.3l-2.5 3.5M937.3 479.1l-1.3 .4M936.6 484.6l-1.7-2.3M931.9 487.8l1.7 .4M930.9 485.4l1.6-3M930.9 485.4l1 2.4M897.8 498.6l4.9-.8M897.6 494.1l4.9-.4M902.7 497.8l.3-3.6M902.5 493.7l.5 .5M974.7 420.6l1.8 .6M974.7 420.6l-2.1 1.6M975.1 426.1l.3-.1M973 425.2l-.4-3M976.5 421.2l-.8 3.9M975.4 426l.3-.9M980.4 430l-1.6-3.7M981.7 423.6l-2.1 1.4M978.8 426.3l.8-1.3M962.8 429.8l-3-2.4M960.4 433l-4.1-2.4M962.6 431.6l-2.2 1.4M956.3 430.6l0-.3M956.3 430.3l3.5-2.9M956.7 421.3l2.5-2.8M959.2 418.5l1.9 1.3M956.7 421.3l.5 2.9M961.1 419.8l.8 4M961.9 423.8l-2.1 1.7M957.2 424.2l2.6 1.3M965.5 427.9l-1.7-3.7M963.8 424.2l-1.9-.4M959.8 427.4l0-1.9M950.1 428.2l3.7-1.6M950.1 428.2l-1.7-1M947.9 425.2l.5 2M947.9 425.2l2.6-2.8M950.5 422.4l1.4 0M951.9 422.4l2 3.8M953.9 426.2l-.1 .4M956.3 430.3l-2.5-3.7M956.3 430.6l-.7 .8M950.7 432l-.6-3.8M944.7 429.8l3.7-2.6M953.4 420.9l-.4-2.9M949.7 416.7l3.3 1.3M948.4 419.6l1.3-2.9M948.4 419.6l2.1 2.8M953.4 420.9l-1.5 1.5M957.2 424.2l-3.3 2M953.4 420.9l3.3 .4M958.5 439.8l4.4 .9M958.5 439.8l.3-3.5M958.8 436.3l1-.7M959.8 435.6l4.2 1.9M957.9 440.3l.6-.5M954.4 439.1l3.5 1.2M955.6 435.2l3.2 1.1M960.4 433l-.6 2.6M966.3 428l2.8-1.7M969.1 426.3l1.1 .2M957 444.2l.3-.2M957 444.2l-.8 3.5M957.3 444l4.6 1.1M956.4 448.2l-.2-.5M956.4 448.2l4.7 1.1M951.7 442.7l5.3 1.5M957.9 440.3l-.6 3.7M951.3 447.5l4.9 .2M955.4 452.2l1-4M956.1 452.9l4.4 0M1003.3 434.3l-2.6-1.2M1003.3 434.3l.4 2.1M1003.7 436.4l-2.7 2.4M1000.7 433.1l-2.6 2.6M1001 438.8l-2.1-1M998.9 437.8l-.8-2.1M1005.5 432.2l-2.2 2.1M1000.3 430.9l.4 2.2M1007.9 438.1l-4.2-1.7M1001.8 440.9l-.8-2.1M996.5 435.1l-1.2-2.8M996.5 435.1l1.6 .6M995.3 432.3l2.7-2.5M995.9 440.8l3-3M979.2 416.4l-1.1-.9M978.9 410.1l-.7 .8M978.1 415.5l.1-4.6M1000.7 378.8l0 2.8M1006.8 382.2l-2.6-4.7M1005 383.8l-1.7 .2M1000.7 381.6l2.6 2.4M996 378.7l-.8 1.9M995.2 380.6l2.4 2.7M999.5 378l-3.5 .7M1000.7 381.6l-3.1 1.7M1001.7 390.2l-.6-3.4M1001.7 390.2l-1.1 1.3M1000.1 391.6l.5-.1M1000.1 391.6l-3.7-2.1M1001.1 386.8l-3.9-1.3M996.4 389.5l.3-3.6M996.7 385.9l.5-.4M1004.5 390l-2.8 .2M1003.3 384l-2.2 2.8M1003.3 396l-2.7-4.5M997.7 394.5l1 3.1M997.7 394.5l2.4-2.9M998.7 397.6l4.4-.1M997.6 383.3l-.4 2.2M993.1 385.4l3.6 .5M993.1 385.4l-1.6-2.6M992 381.9l3.2-1.3M989.8 376.7l0 0M996 378.7l-1.4-2.2M994.6 376.5l-4.8 .2M990.1 370.6l1.4 1.4M989.8 376.7l1.7-4.7M1025.9 406.3l-4.4 2.6M1021.7 402l-3.6 3.5M1018.1 405.5l1.2 2.6M1021.5 408.9l-2.2-.8M1015.8 399.9l-.3 3.5M1018.1 405.5l-1.1-.3M1015.5 403.4l1.5 1.8M1009.7 401.5l1.3 1.4M1015.5 403.4l-4.5-.5M991.3 414.4l-.1 .1M991.3 414.4l5.6 2M991.2 414.5l-.5 5.7M997.1 417.1l-.2-.7M997.1 417.1l-2.5 3M994.6 420.1l-3.3 .4M991.3 420.5l-.6-.3M987 414.3l4.2 .2M989 408.6l2.9 3.8M991.9 412.4l-.6 2M991.9 412.4l4.3-2.8M998.1 411.9l-1.9-2.3M998.1 411.9l-1.2 4.5M990.3 420.2l.4 0M999.2 418.1l-2.1-1M1003.6 416.2l-1.9-4.3M998.1 411.9l3.6 0M997.7 425l-3.1-4.9M997 425.9l-1.2 .2M991.9 424.5l3.9 1.6M991.9 424.5l-.6-4M989.7 426.6l2.2-2.1M987.2 425.7l2.5 .9M996.2 408.3l-1.8-2.2M996.2 408.3l4.9-2.6M998.4 401.9l2.8 1.3M998.4 401.9l-3.6 2.2M994.8 404.1l-.4 2M1001.2 403.2l-.1 2.5M990.6 406.4l3.8-.3M996.2 409.6l0-1.3M1003 401.8l-1.8 1.4M997.7 399l1-1.4M997.7 399l.7 2.9M1004 408.6l-.1 .7M1004 408.6l2.3-1.7M1003.9 409.3l4.2 3.5M1006.3 406.9l4.7 1.3M1008.1 412.8l3.3-4M1011.4 408.8l-.4-.6M1001.1 405.7l2.9 2.9M1001.7 411.9l2.2-2.6M1006.7 403.2l-.4 3.7M1008.1 413.2l0-.4M1011 402.9l0 5.3M1017 405.2l-5.1 3.7M1011.9 408.9l-.5-.1M993.5 431.8l-1-2M993.5 431.8l-3 3.3M992.5 429.8l-2.1-.8M990.4 429l-3 2.9M995.3 432.3l-1.8-.5M995.8 426.1l-3.3 3.7M996.5 435.1l-3.7 2.5M989.7 426.6l.7 2.4M975.4 426l3.4 .3M1019 377.8l-2.3 4.4M1022.8 379.7l-1.7 3.1M1016.7 382.2l4.4 .6M1010.2 377.9l-.2-.6M1010.2 377.9l3.2 1.3M1010 377.3l1.7-3.6M1013.4 379.2l2.2-3.7M1015.6 375.5l-2.2-1.9M1013.4 373.6l-1.7 .1M1007.5 382.1l2.7-4.2M1006.1 375.7l3.9 1.6M1011.9 384.6l2.7-2.1M1014.6 382.5l-1.2-3.3M1009.3 371.7l2.4 2M1016.7 382.2l-.8 .4M1014.6 382.5l1.3 .1M1016.8 375.5l-1.2 0M1015 369.5l-1.6 4.1M1083.1 432.9l-4.2 1M1077.5 430.1l-.1 2M1078.9 433.9l-1.5-1.8M1062.3 422.2l1.4 4.2M1068 426.3l-2 1M1066 427.3l-2.3-.9M1054.1 408l.3 1.6M1060.5 407.2l-3.7 3.8M1054.4 409.6l2.4 1.4M1059.1 413.7l-1.5-1M1056.8 411l.8 1.7M1057.8 425.6l.9-2.5M1057.8 425.6l-3.9 .3M1058.7 423.1l-3.7-3.4M1053.9 425.9l-.8-3.9M1053.1 422l1.7-2.3M1055 419.7l-.2 0M1059.7 428.1l4-1.7M1061.1 421.8l-2.4 1.3M1059.7 428.1l-1.9-2.5M1060.2 416.7l-5.2 3M1052.9 416.8l4.7-4.1M1052.9 416.8l1.9 2.9M1054.8 444.7l2.2 1.3M1054.8 444.7l-.5-1.1M1054.3 443.6l.8-4.8M1055.1 438.8l.4-.3M1060.6 441.6l-.3-.7M1060.3 440.9l-4.7-2.4M1055.6 438.5l-.1 0M1064.5 443.3l1.1-.2M1064.2 450.4l2.9-1.8M1065.6 443.1l1.5 5.5M1064.1 450.5l1.5 4.1M1070.2 450l-.2-.6M1067.1 448.6l2.9 .8M1059.6 462l-3.5-3.6M1059.6 462l1.6-1.2M1061.2 460.8l-.1-4.7M1056.6 456.4l-.5 2M1056.6 456.4l3.9-.7M1060.5 455.7l.6 .4M1053.4 459.8l2.7-1.4M1054.5 464l-1.1-4.2M1059.4 462.6l.2-.6M1066.7 462.5l-.6 3.1M1066.7 462.5l-.6-1.4M1066.1 465.6l-2 1.5M1066.1 461.1l-4.9-.3M1066.1 461.1l.5-1.5M1065.1 455.4l-4 .7M1056.7 450.4l.5-.4M1055.7 455.1l.9 1.3M1056.7 450.4l-1 4.7M1060.1 451.9l.4 3.8M962.5 503l-4.2 .4M958.3 503.4l-.6 2.8M963.1 507.2l-4.6 .4M957.7 506.2l.8 1.4M952.5 506.8l5.2-.6M952.3 506.5l.2 .3M957.3 502.2l-4.9 .8M957.3 502.2l1 1.2M1056.7 450.4l-4.2 .4M1054.8 444.7l-4.6 3.6M1050.2 448.3l2.3 2.5M1055.7 455.1l-4.5-.3M1052.5 450.8l-1.3 4M1054.3 443.6l-5.2-1.2M1050.2 448.3l-1.8-.3M1048.4 448l.7-5.6M1049.4 438.5l5.7 .3M1049.4 438.5l-.8 3.2M1049.1 442.4l-.5-.7M1036.3 462.8l3.9 1.9M1036.3 462.8l0-2.2M1036.3 460.6l3.5-2.2M1040.2 464.7l1.7-3.7M1041.9 461l-2.1-2.6M1024.2 429.1l1.2-4.6M1028.7 431l1.8-1.9M1025.4 424.5l2.8-.1M1028.2 424.4l2.3 4.7M1035.8 432.2l-4.3-3.2M1032.5 435.9l3.3-3.7M1032.5 435.9l-.2 0M1030.5 429.1l1-.1M1014.3 427.5l1.3 2.6M1014.3 427.5l4.6-3.1M1015.6 430.1l2.8 .6M1018.4 430.7l2.1-2M1018.9 424.4l1.6 4.3M1013.3 427.1l1 .4M1013.3 434l2.3-3.9M1018.7 422.6l.4 1.3M1019.1 423.9l-.2 .5M1014.6 420.7l4.1 1.9M1019.7 434.6l-1.3-3.9M1023.9 429.3l-3.4-.6M1025.3 424.4l-6.2-.5M1025.4 424.5l-.1-.1M957.1 495.1l-.6 2.8M957.1 495.1l4.2-.7M957.6 499.3l-1.1-1.4M957.6 499.3l4.3-.6M957.3 502.2l.3-2.9M952.4 498.5l4.1-.6M1022.7 461.7l-2.7 3.1M1026.1 464.7l-.8-1.9M1026.1 464.7l-3.1 3.1M959.8 482l-4.3 .6M955.1 485.1l1 1.4M956.1 486.5l4.1-.2M955.9 493.5l-3.7 .5M955.9 493.5l.5-2.7M956.4 490.8l-1-1.3M955.4 489.5l-3.5 .2M952.2 494l-1.1-3.1M951.1 490.9l.8-1.2M950.8 496.5l1.4-2.5M957.1 495.1l-1.2-1.6M960.7 490.2l-4.3 .6M956.1 486.5l-.7 3M950.6 486l1.3 3.7M946.8 491.2l4.3-.3M948.1 496.3l-2.1-3.1M942.1 511.7l-.1 1.2M942.1 511.7l5.1-2.7M942 512.9l4 2.3M946 515.2l2.9-2.1M947.2 509l1.7 4.1M1040.3 465l-2.7 3.3M1040.3 465l2.5 1.6M1042.8 466.6l.1 3.5M1037.6 468.3l2.4 3.1M1042.9 470.1l-1.3 1.2M1041.6 471.3l-1.6 .1M1044.4 460.9l-2.5 .1M1040.2 464.7l.1 .3M1046.6 464.8l-2.2-3.9M1046.3 465.2l-3.5 1.4M1047.9 471l-5-.9M1043.2 474.9l-1.6-3.6M1038.6 476.2l-1-2.2M1037.6 474l2.4-2.6M959.3 511.8l-.4 2.8M959.3 511.8l-1.3-1.6M958 510.2l-4.1 .7M958.9 514.6l-3.4 .3M955.5 514.9l-2.1-3.1M953.4 511.8l.5-.9M963.7 510.8l-4.4 1M959.8 515.8l-.9-1.2M958.5 507.6l-.5 2.6M952.5 506.8l1.4 4.1M947.4 507.8l-.2 1.2M949.9 513.4l-1-.3M949.9 513.4l3.5-1.6M939.3 515.4l.6 2.9M936.3 514.1l3 1.3M933 515.8l3.3-1.7M933 515.8l.9 3.7M933.9 519.5l3.2 1.4M937.1 520.9l1.4-.4M939.9 518.3l-1.4 2.2M951.8 537.1l-2.5-3.1M955.8 535.7l-4 1.4M955.1 531.6l-4.8 .5M950.3 532.1l-1 1.9M923.8 547.7l-1.6-3.9M921 550.5l2.8-2.8M918.1 544.9l.1-.2M922.2 543.8l-4 .9M915.5 541.1l1.1 .6M918.2 544.7l-1.6-3M919.6 536.2l-2.4-.8M919.6 536.2l.8 1.6M916.6 541.7l3.8-3.9M936.3 545.8l1-5.8M937.3 540l-3.5-1.4M933.8 538.6l-1.7 .3M935.3 546l-4.1-2.9M935.3 546l1-.2M931.2 543.1l.9-4.2M926.7 553.2l2.8 1.1M926.7 553.2l.6-5M929.5 554.3l3.1-3.7M927.3 548.2l.9-.7M928.2 547.5l4.1 1.7M932.3 549.2l.3 1.4M926.6 560.1l-1.2-.6M931.1 556.8l-1.6-2.5M931.1 556.8l-4.5 3.3M924.3 554.2l2.4-1M923.8 547.7l3.5 .5M931.1 556.8l1.1 .5M932.2 557.3l2.8-2.2M935.1 552.3l-.1 2.8M935.1 552.3l-2.5-1.7M935.3 546l-3 3.2M931.2 543.1l-2.7 1.5M928.5 544.6l-.3 2.9M948.3 575.4l-2.1 1.2M950.4 581.7l-4.1-4.3M946.2 576.6l.1 .8M942.6 558l3.1 1.8M942.6 558l-2.7 1.1M939.9 559.1l.8 4.4M945.7 559.8l0 2.8M945.7 562.6l-3.5 1.7M940.7 563.5l1.5 .8M947.4 566.8l-1.5-4M945.9 562.8l-.2-.2M945.4 569.4l-.2 .1M942.2 564.3l-.1 3.2M942.1 567.5l3.1 2M917.9 474.2l-3.7 3.5M917.9 474.2l2.7 3.9M914.2 477.7l4.7 3.8M920.6 478.1l-1.7 3.4M918 473.3l-.1 .9M921.9 472.3l-3.9 1M924.2 476.9l-3.6 1.2M921.9 472.3l2.3 4.6M921.4 446.6l-1.4 1.8M921.4 446.6l1.9-.2M923.3 446.4l2.9 2.5M920.3 450.4l-.3-2M920.3 450.4l3.5 2.3M923.8 452.7l2.4-3.8M920 443.7l1.4 2.9M926.4 441.9l-3.1 4.5M927 448.9l-.8 0M905.7 518l.2-4.1M905.7 518l-3.4 1.2M905.9 513.9l-4.9 1.1M902.3 519.2l-1.4-3.8M900.9 515.4l.1-.4M896.6 516.8l4.3-1.4M902.1 519.6l.2-.4M900 511.7l1 3.3M903.5 523.1l4.1-.7M905.7 518l1.8 1.3M907.5 519.3l.1 3.1M909.3 525.6l-.2-1.9M909.1 523.7l-1.5-1.3M907.5 519.3l3.7-2.2M911.2 517.1l-.2-2.7M905.9 513.9l1-1.3M906.9 512.6l4.1 1.8M900.3 511l4.6-1.2M899.6 506.3l3.5-.2M903.1 506.1l1.8 3.7M906.9 512.6l-.5-2.1M904.9 509.8l1.5 .7M901.6 481.3l-5 .1M901.6 481.3l.9 2.3M897 485.6l4-.2M902.5 483.6l-1.5 1.8M896.9 489.6l4.6-.1M901 485.4l.5 4.1M902.5 493.7l-.4-3.6M901.5 489.5l.6 .6M918.8 404.3l0-.2M918.8 404.1l-4-2.8M933.4 400.7l3.3-1.6M933.4 400.7l1.3 3.9M936.7 399.1l2.5 3.8M934.7 404.6l4.5-1.7M930.8 396.7l1.4 3.6M932.2 400.3l1.2 .4M937.5 396.4l-.8 2.7M934.3 405.4l.4-.8M932.2 400.3l-2.8 2.3M931.2 406.2l-1.8-3.6M943 399.6l-2.9 3.6M940.1 403.2l-.9-.3M940.6 404.2l-.5-1M925.4 403.1l1.2-1M925.4 403.1l-4.3-2.3M926.6 402.1l0-2.4M926.6 399.7l-2.9-2.6M921.1 400.8l-.1-.6M921 400.2l1.9-2.9M922.9 397.3l.8-.2M924.8 405.8l.6-2.7M929.4 402.6l-2.8-.5M918.8 404.1l2.3-3.3M929.8 396.7l-3.2 3M925.6 393.7l-1.9 3.4M917 398l4 2.2M919.4 394.6l3.5 2.7M961.1 382.9l-5.5-1.6M962.3 381l-.8-2.6M956 376.9l5.5 1.5M956 376.9l-.1 .1M955.9 377l-.3 4.3M961.4 385.5l-2.8 2.9M955.6 381.3l-1.4 1.5M954.2 382.8l0 2.8M954.2 385.6l4.4 2.8M948.9 385.9l-2.6 1.3M948.9 385.9l2.9 1.4M951.8 387.3l-.4 3.1M946.3 387.2l-.6 1.9M945.7 389.1l3.5 2.1M949.2 391.2l2.2-.8M943.7 383.7l2.6 3.5M948.7 380.9l.2 5M948.4 380.8l.3 .1M954.2 385.6l-2.4 1.7M948.8 380.9l5.4 1.9M948.7 380.9l.1 0M943.3 390.5l2.4-1.4M945.5 395.6l2.4-.7M947.9 394.9l1.3-3.7M941.2 420.7l-.1 3.1M941.2 420.7l3.3-.9M945.2 420.3l-.7-.5M945.2 420.3l.6 3.8M945.8 424.1l-2.8 1.2M943 425.3l-1.9-1.5M938.8 419.1l2.4 1.6M938 425.4l3.1-1.6M944.2 414.9l.3 4.9M949.7 416.7l-.1-.3M948.4 419.6l-3.2 .7M945.6 414.2l-.8 0M947.9 425.2l-2.1-1.1M942.8 428.8l.2-3.5M977.1 375.8l-1.8-.2M977.1 375.8l2.1-4.3M975.3 375.6l-2.6-3.9M979.2 371.5l-1.2-1.1M978 370.4l-4 0M974 370.4l-1.3 1.3M975.8 381.7l2.6-2.1M978.5 377.7l-1.4-1.9M972.1 380.3l.1-2.1M975.8 381.7l-3.7-1.4M972.2 378.2l3.1-2.6M981.9 371.4l-2.7 .1M977.9 365.7l.1 4.7M973.8 366l.2 4.4M969.3 366.3l.9 5.6M970.2 371.9l2.5-.2M982.4 385.6l.8 4.2M983.2 389.8l-3.2 2.2M980 392l-3.1-4.5M981.5 385.1l-4.6 1.2M976.9 387.5l0-1.2M970.9 381.2l-3.8-.1M970.9 381.2l.3 4.8M966.6 386.9l3.8 0M971.2 386l-.8 .9M972.1 380.3l-1.2 .9M975.8 381.7l.6 4.1M971.2 386l5.2-.2M976.9 386.3l-.5-.5M980 392l-.4 1.4M979.6 393.4l-4.1 .1M976.9 387.5l-3.1 3.2M975.5 393.5l-1.7-2.8M970.4 386.9l1.4 3.5M973.8 390.7l-2-.3M962.5 373.5l.6 1.8M962.5 373.5l3.4-2.3M963.1 375.3l3.8 1.3M965.9 371.2l3.6 1.2M966.9 376.6l2.1-1.5M969.5 372.4l-.5 2.7M956 376.9l2-3M961.9 373.1l.6 .4M961.5 378.4l1.6-3.1M964.9 367.6l1 3.6M966.6 380.7l.3-4.1M970.2 371.9l-.7 .5M972.2 378.2l-3.2-3.1M927.2 424.3l-2.7-4.5M927.2 424.3l-4.4 1.1M922.8 425.4l-1.9-1.4M923.2 420l1.3-.2M923.2 420l-2.3 3.9M920.9 423.9l0 .1M927.3 424.3l-.1 0M925.4 418.6l-.9 1.2M923 428.8l-.2-3.4M917.8 427.5l3.1-3.5M919.9 417.8l3.3 2.2M916.3 421l4.6 2.9M920 448.4l-4.4-.8M916.5 443.1l-1.1 4.1M915.4 447.2l.2 .4M945.3 463.4l-5.1 3.5M945.3 463.4l-.8-2.4M944.5 461l-4.6-.7M939.2 465.8l.5-5.4M939.2 465.8l1 1.1M939.7 460.4l.2-.1M940.5 468.8l-.3-1.9M946.6 464.4l-1.3-1M945.7 458.9l-1.2 2.1M940.4 454.9l-.5 5.4M934.7 464.7l1.3-4.6M935 465.3l4.2 .5M936 460.1l3.7 .3M935 459.1l1 1M935 459.1l1.4-4.9M955.3 478.3l4.3-.3M955.3 478.3l-.9-1.3M954.4 477l.4-2.9M954.8 474.1l4.6 0M954.7 481.5l.6-3.2M949.4 477.8l5-.8M954.4 473.4l.4 .7M928.3 458.9l2.1 .2M928.3 458.9l-2.3-4.1M926 454.8l4.5-2.8M930.8 458.9l-.4 .2M930.8 458.9l.9-5.8M931.7 453.1l-1.2-1.1M924.8 463.4l-.1-1.9M924.7 461.5l3.6-2.6M929.3 465.3l-4.5-1.9M931 463.5l-.6-4.4M921.3 457l.6 2.5M924.7 461.5l-2.8-2M924.2 454.2l1.8 .6M924.2 454.2l-2.9 2.8M924.2 454.2l-.4-1.5M930.5 451.8l0 .2M935 459.1l-4.2-.2M935.6 453.2l-3.9-.1M924.3 464.1l-5.2 1.7M924.3 464.1l.6 5.6M924.9 469.7l-1.8 .6M923.1 470.3l-3.8-3.2M919.3 467.1l-.2-1.3M917.4 464.3l1.7 1.5M917.3 462.7l.1 1.6M924.8 463.4l-.5 .7M917.3 462.7l4.6-3.2M926.1 470l-1.2-.3M921.9 472.3l1.2-2M925.4 477.2l-1.2-.3M928.4 474.5l-3 2.7M916.6 471.4l2.7-4.3M918 473.3l-1.4-1.9M910.7 498.8l-2.2-1M910.7 498.8l-.4 4M908.5 497.8l-4.3 2.7M910.3 502.8l-2 1.3M908.3 504.1l-3.2-1.4M905.1 502.7l-.9-1.7M904.2 500.5l0 .5M903 494.2l4.5-.5M907.5 493.7l1 4.1M902.7 497.8l1.5 2.7M903.1 506.1l2-3.4M908.9 507.6l-2.5 2.9M908.9 507.6l-.6-3.5M898.8 502.8l5.4-1.8M912.6 497.9l-1.9 .9M912.6 497.9l-.1-4.9M907.5 493.7l1-1M908.5 492.7l4 .3M978 423.1l-1.8 1.5M978 423.1l.3 .4M978.3 423.5l-2.1 1.1M976.5 421.2l.7-.1M977.2 421.1l.8 2M975.7 425.1l.5-.5M979.4 419.7l-2.2 1.4M979.6 425l-1.3-1.5M953 418l3-2.4M959.2 418.5l-.1-.6M956 415.6l3.1 2.3M952.1 412.5l.8-.2M952.9 412.3l2.7 1.3M956 415.6l-.4-2M961.1 419.8l4.4-1M963.8 424.2l3.7-2.6M965.5 418.8l2 2.8M969.1 426.3l-1.5-4.6M972.6 422.2l-2.7-1.3M969.9 420.9l-2.3 .8M967.6 421.7l-.1-.1M955.6 413.6l3.9-3.7M959.1 417.9l3-3.7M959.5 409.9l2.3 1.6M962.1 414.2l-.3-2.7M965.5 418.8l.5-2.3M962.1 414.2l3.9 2.3M973.9 416.6l.3-.5M973.9 416.6l-2.8 .8M974.2 416.1l-1.8-4.2M971.1 417.4l-3.3-2.2M972.4 411.9l-4.2 1.4M968.2 413.3l-.4 1.9M974.7 420.6l-.8-4M978.1 415.5l-3.9 .6M969.9 420.9l1.2-3.5M978.2 410.9l-5.2-.5M973 410.4l-.6 1.5M966 416.5l1.8-1.3M966 410.2l2.2 3.1M966 410.2l-4.2 1.3M994.8 404.1l-2.4-4.4M989.1 403.9l1.6-3.6M990.7 400.3l1.7-.6M984.5 400.1l1.5-1.9M990.7 400.3l-4.7-2.1M997.7 399l-4.6-.4M993.1 398.6l-.7 1.1M983.2 389.8l2.6 .8M979.6 393.4l.4 .9M980 394.3l5.5 1.5M985.8 390.6l-.3 5.2M979.5 396.9l.5-2.6M986 398.2l.1-1.6M985.5 395.8l.6 .8M997.8 373.1l1.5-4.2M997.8 373.1l-1.9 .1M995.9 373.2l-1.7-1.5M994.2 371.7l.8-3.8M995 367.9l2.9-.4M997.9 367.5l1.4 1.4M999.1 374l-1.3-.9M1001.9 369l-2.6-.1M994.6 376.5l1.3-3.3M991.5 372l2.7-.3M993.6 366.7l1.4 1.2M998.9 363.6l-1 3.9M1031.4 415.4l-2.8 2.8M1027.6 411.4l-2.2 1.6M1028.6 418.2l-2.5-.5M1025.4 413l.7 4.7M1021.5 408.9l1.6 3.6M1025.4 413l-2.3-.5M1030.8 422.2l-2.6 2.2M1028.6 418.2l2.2 4M1025.3 424.4l-.9-5.4M1026.1 417.7l-1.7 1.3M1018.7 422.6l2.5-4M1024.4 419l-3.2-.4M1013.9 411.2l3.7-.3M1013.9 411.2l-.4 4.4M1017.6 410.9l1.7 4.4M1014.5 416.8l-1-1.2M1014.5 416.8l4.8-1.3M1019.3 415.5l0-.2M1011.9 408.9l2 2.3M1019.3 408.1l-1.7 2.8M1009.9 415.3l3.6 .3M1023.1 412.5l-3.8 2.8M1014.1 419.7l.4-2.9M1021.2 418.6l-1.9-3.1M1022.2 385.1l-3.7 2.7M1022.2 385.1l2.2 .7M1024.4 385.8l1.3 2.3M1025.7 388.1l-3 2.8M1022.7 390.9l-4.4-1.9M1018.3 389l.2-1.2M1015.9 382.6l2.6 5.2M1021.1 382.8l1.1 2.3M1026.6 381.6l-2.2 4.2M1027.4 388.5l-1.7-.4M1023 394.6l-.3-3.7M1016.5 390.4l1.8-1.4M1084.1 436.9l-4.4 1.4M1078.9 433.9l-.5 2.7M1078.4 436.6l1.3 1.7M1080.2 441.6l-.8-1.2M1079.4 440.4l.3-2.1M1052.3 416.5l-1.5-4.3M1052.3 416.5l-4.2 1.7M1048.1 418.2l-2-2.1M1049 411.7l1.8 .5M1049 411.7l-2.8 2.4M1046.2 414.1l-.1 2M1052.9 416.8l-.6-.3M1054.4 409.6l-3.6 2.6M1053.1 422l-5.5 0M1047.6 422l.5-3.8M1044.6 422.8l3-.7M1047.6 422l0 .1M1043.1 417.2l3-1.1M1043.1 417.2l-.8 3.2M1042.3 420.4l2.3 2.4M1047.2 407.5l1.8 4.2M1042.1 411.1l4.1 3M1039.2 414.4l-.1-.2M1039.2 414.4l3.9 2.8M1049.4 438.5l-.6-1M1048.8 437.5l2.3-4.3M1055.5 438.5l-2.9-5.9M1051.1 433.2l1.5-.6M1047.6 422.1l1.9 4.9M1053.9 425.9l-1.3 1.7M1052.6 427.6l-3.1-.6M1029.5 474l2.6-3.6M1032.2 476.5l3.4-3M1035.6 473.5l-1.2-2.5M1032.1 470.4l2.3 .6M1037.6 474l-2-.5M1036.6 468.3l1 0M1036.6 468.3l-2.2 2.7M1031 463l-2.7 2.3M1031 463l2.9 1.8M1033.9 464.8l.1 .8M1034 465.6l-2.8 3M1028.3 465.3l.9 2.6M1029.2 467.9l2 .7M1030.7 460l-2.6-1.1M1030.7 460l.3 3M1026.1 464.7l2.2 .6M1033.3 458.5l-2.6 1.5M1036.3 460.6l-3-2.1M1036.3 462.8l-2.4 2M1036.6 468.3l-2.6-2.7M1032.1 470.4l-.9-1.8M1026.2 470.8l3-2.9M1048.4 448l-.4 .2M1051.2 454.8l-.4 .3M1048 448.2l-.7 4.7M1050.8 455.1l-3.5-2.2M1053.4 459.8l-3.3-1.2M1050.8 455.1l-.7 3.5M1049.3 463.9l.7-5.2M1044.4 460.9l1.8-2.2M1050 458.7l-3.8 0M1050 458.7l.1-.1M1044.7 442.1l3.9-.4M1044.7 442.1l-.8 1.8M1048 448.2l-1.9-.5M1046.1 447.7l-2.2-3.8M1043.9 443.9l-3.8 1.1M1040.1 445l-1.2-.8M1044.7 442.1l-1.5-2.4M1043.2 439.7l-4.5 .9M1038.9 444.2l-.2-3.6M1038.7 440.6l-1.1-1.3M1036 439.2l1.6 .1M1036 439.2l-3.1 3.5M1038.9 444.2l-2.6 1.1M1036.3 445.3l-3.4-2.6M1032.5 435.9l3.5 3.3M1029.4 439.9l1.3 3.1M1030.7 443l2.2-.3M949 529.4l1.3 2.7M955.5 527.7l-1-1.7M949 529.4l1.1-2.5M950.1 526.9l4.4-.9M960.1 523l-5.2 1M954.5 526l.4-2M931.8 494l3.8-2.4M931.8 494l1.3 3.3M933.1 497.3l4.1-.9M935.6 491.6l1.6 4.8M932 499.8l1.1-2.5M932 499.8l-5.1-2.5M929 493.1l-2.1 4.2M929 493.1l2.8 .9M946.7 498.4l-4 .3M946.8 502.8l-5.4-.3M941.4 502.5l1.3-3.8M942.1 493.9l-.8 1.8M942.7 498.7l-1.4-3M935.8 491.2l-.2 .4M937.2 496.4l.3 .2M941.3 495.7l-3.8 .9M931.9 487.8l-3.8 3.2M929 493.1l-1-2.1M928.1 491l-.1 0M929.8 503.9l2.2-3.9M932 499.8l0 .2M929.8 503.9l-4.7-1.2M926.9 497.3l-.9 .4M926 497.7l-1.2 4.3M925.1 502.7l-.3-.7M966 549.6l-4.3-.3M966.3 545.3l-4.3-.1M961.7 549.3l-.6-1M962 545.2l-.9 3.1M965.4 554.4l-4.4-1.2M961.7 549.3l-.9 3.6M961 553.2l-.2-.3M920.5 515.2l.6-.8M924.4 514.3l-3.3 .1M922.3 520.5l-1.8-5.3M922.3 520.5l1.5 .1M924.4 514.3l2.2 3.7M923.8 520.6l2.8-2.6M930.2 513.1l-4.4-.8M924.4 514.3l1.4-2M931.1 515.2l-.9-2.1M931.1 515.2l-3.2 2.8M927.9 518l-1.3 0M938.5 520.5l2.3 3.5M937.1 520.9l-1.8 3.7M935.3 524.6l1.4 2.5M936.7 527.1l3.7-1.1M940.8 524l-.4 2M1066.8 471.8l2.6-1.5M1066.1 465.6l3.1 1.9M1069.2 467.5l.2 2.8M1068.3 476.2l4.7-2M1069.4 470.3l2.7 1.4M1073 474.2l-.9-2.5M933.8 538.6l1.5-4.7M932.6 532.1l2.7 1.8M932.6 532.1l-2.7 1.4M932.1 538.9l-.4-.3M931.7 538.6l-1.8-5.1M923 542.8l-1.7-4.5M923 542.8l2.8-.4M925.8 542.4l1.3-3.5M921.3 538.3l4.2-1.4M925.5 536.9l1.6 2M922.2 543.8l.8-1M920.4 537.8l.9 .5M928.5 544.6l-2.7-2.2M931.7 538.6l-4.6 .3M919.6 536.2l2-3.3M926.2 532.8l-.7 4.1M921.6 532.9l4.6-.1M926.2 532.8l.4-.3M929.9 533.5l-3.3-1M940.3 568.8l0 4.9M940.3 568.8l1.8-1.3M945.2 569.5l-2.3 5.2M940.3 573.7l2.6 1M946.2 576.6l-2.9-1.3M943.3 575.3l-.4-.6M891.9 470.4l4.2-.2M896.1 470.2l1.1-2M892.3 465.8l4.4 .4M897.2 468.2l-.5-2M896.1 478.4l.8-1.4M896.9 477l-.6-2.4M896.3 474.6l-4.6-.5M897.2 473l-.9 1.6M897.2 473l-1.1-2.8M897.6 464.5l-.9 1.7M897.6 464.5l-.5-2.5M892.8 461.1l4.3 .9M912.8 478.4l-4.4 .2M912.8 478.4l.7-.7M913.5 477.7l-2.1-4.4M908.4 478.6l-.4-4.3M908 474.3l3.4-1M904.1 458.2l-.9-2.3M904.1 458.2l-1.7 2.3M903.2 455.9l-4.5-.2M902.4 460.5l-3.9-.5M898.5 460l-.7-2.5M898.7 455.7l-.9 1.8M893.3 457.2l4.5 .3M897.1 462l1.4-2M898.7 455.7l-.6-2.1M898.1 453.6l-4.1-.8M911.9 441.5l-1.1 2.1M906.1 439.9l.1 3.6M906.2 443.5l4.6 .1M915.4 447.2l-3.9-.7M910.8 443.6l.7 2.9M898.1 453.6l1.2-2M894.7 448.6l4.2 1.3M899.3 451.6l-.4-1.7M903.2 455.9l1.2-3.5M899.3 451.6l5.1 .8M908 458.7l2-1.3M910 457.4l-2.9-4.5M908 458.7l-3.9-.5M907.1 452.9l-2.6-.5M904.4 452.4l.1 0M917 530.4l3.2 .2M917 530.4l-.1-3.6M920.2 530.6l1.9-3.4M916.9 526.8l3-1.5M919.9 525.3l2.2 1.9M915.9 531.4l1.1-1M921.6 532.9l-1.4-2.3M911.3 527.9l3.6-2.2M914.9 525.7l2 1.1M923.2 527.2l3.4 4.4M926.6 532.5l0-.9M923.2 527.2l-1.1 0M923.2 527.2l2.7-2.8M923.8 520.6l2.1 3.8M919.8 521.9l.1 3.4M922.3 520.5l-2.5 1.4M911.9 522.1l.5-3.8M911.9 522.1l2.8 1.2M912.4 518.3l3.9 .3M914.7 523.3l2.8-2.3M916.3 518.6l1.2 2.4M909.1 523.7l2.8-1.6M911.2 517.1l1.2 1.2M914.9 525.7l-.2-2.4M919.8 521.9l-2.3-.9M917.4 516.2l3.1-1M917.4 516.2l-1.1 2.4M955.2 376.7l-4.4 .8M955.2 376.7l-2.4-4.3M950.8 377.5l-1.9-3.4M952.8 372.4l-2.9 .1M949.9 372.5l-1 1.6M955.9 377l-.7-.3M948.8 380.9l2-3.4M954.2 370.4l-1.4 2M946.5 374.6l2.4-.5M948.2 368.3l1.7 4.2M948.6 410.8l-.6-3.4M945 406.7l.4-.1M945.4 406.6l2.6 .8M944.6 399.1l1.8 1.6M945.4 406.6l1-5.9M947.9 394.9l3.7 2M951.6 396.9l-2.4 3.9M946.4 400.7l2.8 .1M966.6 408.8l-2.9-3.6M963.7 405.2l-3.6 1.7M966 410.2l.6-1.4M959.5 409.9l-.3-1M960.1 406.9l-.9 2M971.8 390.4l-1.4 1.6M966 387.3l-.3 3.1M970.4 392l-3.7-.1M965.7 390.4l1 1.5M958.6 389.2l-4.7 3.4M958.6 389.2l2 3M960.6 392.2l0 1.5M960.6 393.7l-2 2.2M958.6 395.9l-4.5-.4M954.1 395.5l-.2-2.9M958.6 388.4l0 .8M951.4 390.4l2.5 2.2M965.7 390.4l-5.1 1.8M963.9 395.9l-3.3-2.2M963.9 395.9l2.2-1.1M966.1 394.8l.6-2.9M963.6 400.5l.3-4.6M963.6 400.5l-3.7-.1M959.9 400.4l-1.3-4.5M958 401.9l-2.4 .1M953.3 396.5l2.3 5.5M953.3 396.5l.8-1M959.9 400.4l-1.9 1.5M951.6 396.9l1.7-.4M902.5 483.6l2.5 .6M902.1 490.1l4.5-2.2M906.6 487.9l-1.6-3.7M908.5 492.7l-.9-4.3M906.6 487.9l1 .5M902.4 477.8l5.2 1.6M907.6 479.4l.1 2.6M901.6 481.3l.8-3.5M907.7 482l-2.7 2.2M973 410.4l-.6-2M966.6 408.8l1.9-1.2M972.4 408.4l-3.9-.8M977.8 405.5l-3.7-.1M972.4 408.4l1.7-3M963.7 405.2l.8-2.9M960.1 406.9l-2.1-5M963.6 400.5l.5 .4M964.1 400.9l.4 1.4M968.5 407.6l.1-3.6M964.5 402.3l4.1 1.7M988.6 389.5l0 0M988.6 389.5l3.1-.9M988.6 389.5l2.2 4.8M991.7 388.6l2.8 1.8M994.5 390.4l-.8 3.9M990.8 394.3l1.9 .7M993.7 394.3l-1 .7M987.4 384.1l1.2 5.4M985.8 390.6l2.8-1.1M993.1 385.4l-1.4 3.2M986.1 396.6l4.7-2.3M996.4 389.5l-1.9 .9M997.7 394.5l-4-.2M993.1 398.6l-.4-3.6M1079.4 440.4l-4.2 .9M1079.7 444.9l-3.8 .4M1075.2 441.3l.7 4M1076.2 449.4l-1.1-3.2M1075.9 445.3l-.8 .9M1070 449.4l1.8-3.1M1075.1 446.2l-3.3 .1M1065.7 443l-.1 .1M1065.7 443l5.1 1.4M1070.8 444.4l1 1.9M1074 437.1l-1.1 2.5M1074 437.1l-.9-3.1M1067.9 438.6l0-4.7M1067.9 438.6l5 1M1072.9 439.6l0 0M1067.9 433.9l3.4-1.3M1071.3 432.6l1.8 1.4M1075.2 441.3l-2.3-1.7M1078.4 436.6l-4.4 .5M1077.4 432.1l-4.3 1.9M1066.8 439.5l1.1-.9M1065.7 443l1.1-3.5M1070.8 444.4l2.1-4.8M1066 427.3l-.7 5.1M1065.3 432.4l2.6 1.5M1071.7 430.2l-.4 2.4M1064.7 432.6l-2.3 4.4M1064.7 432.6l-5.5-1.6M1058.7 435.2l-.1-3.7M1058.7 435.2l3.5 1.9M1062.2 437.1l.2-.1M1059.2 431l-.6 .5M1066.8 439.5l-4.4-2.5M1065.3 432.4l-.6 .2M1059.7 428.1l-.5 2.9M1052.6 432.6l1-1.3M1053.6 431.3l5 .2M1055.6 438.5l3.1-3.3M1060.3 440.9l1.9-3.8M1053.6 431.3l-1-3.7M1036 432.2l3.3 1.9M1035.8 432.2l.2 0M1037.6 439.3l2-4.4M1039.3 434.1l.3 .8M1043.2 439.7l.7-2.8M1039.6 434.9l4.3 2M1048.8 437.5l-3.5-1.3M1045.3 436.2l-1.4 .7M1031.2 422.2l3.3 2.9M1031.2 422.2l3.3-3.1M1034.5 419.1l3.5 1.1M1034.5 425.1l.3 .1M1034.8 425.2l2.9-2.3M1037.7 422.9l.5-2.4M1038 420.2l.2 .3M1030.8 422.2l.4 0M1031.5 429l3-3.9M1033.4 415.6l1.1 3.5M1039.2 414.4l-1.2 5.8M1036 432.2l1.4-3.4M1037.4 428.8l-2.6-3.6M1042.3 420.4l-4.1 .1M1039.9 450.8l.2 5.8M1039.9 450.8l1.3-.8M1041.5 450l-.3 0M1041.5 450l3.5 4M1040.1 456.6l4.3-1.1M1045 454l-.6 1.5M1046.1 447.7l-4.6 2.3M1040.1 445l1.1 5M1047.3 452.9l-2.3 1.1M1039.8 458.4l.1-1.5M1039.9 456.9l.2-.3M1046.2 458.7l-1.8-3.2M1022.9 441.2l4.1 4.3M1020.4 446.6l2.8 1.1M1023.2 447.7l3.8-2.2M1021.7 453.1l2.6-2.2M1023.2 447.7l1.1 3.2M1039.9 456.9l-4.3-1.7M1039.9 450.8l-3.1-.1M1036.8 450.7l-1.2 4.5M1036.3 445.3l-1.5 3.9M1036.8 450.7l-2-1.5M1033.3 458.5l.6-2.4M1033.9 456.1l1.7-.9M954.9 524l-.4-1M959.5 518.7l-3.9 .6M954.5 523l1.1-3.7M955.5 514.9l-1.2 2.6M955.6 519.3l-1.3-1.8M949.9 513.4l1.5 4M954.3 517.5l-2.9-.1M945.8 517.1l3.6 2.9M945.8 517.1l-2.4 1.9M943.4 519l1.5 3.8M949.4 520l0 .9M949.4 520.9l-2 2.5M944.9 522.8l1.5 .8M947.4 523.4l-1 .2M951.4 517.4l-2 2.6M946 515.2l-.2 1.9M939.3 515.4l2.7-2.5M939.9 518.3l3.5 .7M940.8 524l4.1-1.2M954.5 523l-5.1-2.1M950.1 526.9l-2.7-3.5M940.4 526l1.3 1.6M941.7 527.6l3 0M944.7 527.6l1.7-4M945.8 529.3l-1.1-1.7M949 529.4l-3.2-.1M930.2 513.1l.8-2.6M925.8 512.3l-.5-3.2M925.3 509.1l3.2-.9M928.5 508.2l2.5 2.3M925.3 509.1l-2.3-1.7M929.8 503.9l.1 .3M923 507.4l2.1-4.7M928.5 508.2l1.4-4M937.7 501.9l3.2 .9M937.7 501.9l-.9 .3M936.8 502.2l-2.4 4.6M940.9 502.8l.4 3M941.3 505.8l-1.3 2.5M940 508.3l-4.4 .7M934.4 506.8l.4 1.7M935.6 509l-.8-.5M937.5 496.6l.2 5.3M941.4 502.5l-.5 .3M932 500l4.8 2.2M929.9 504.2l4.5 2.6M947.3 507.7l-6-1.9M942.1 511.7l-2.1-3.4M936.3 514.1l-.7-5.1M931 510.5l3.8-2M933 515.8l-1.9-.6M921.8 483.4l.8 3M921.8 483.4l4.7-2.5M922.6 486.4l3.6 .2M926.2 486.6l1.5-2.1M927.7 484.5l-1-3.5M926.7 481l-.2-.1M917.9 488.4l-1.7-4M918.9 481.6l-2.7 2.8M918.4 488.6l-.5-.2M918.4 488.6l3.6-1.1M918.9 481.6l2.9 1.8M922 487.5l.6-1.1M918.9 481.5l0 .1M925.4 477.2l1.1 3.7M923.8 491.5l4.2-.5M923.8 491.5l-1.8-4M928.1 491l-1.9-4.4M930.9 485.4l-3.2-.9M930.7 480.4l-4 .6M922.6 492.9l.4 3M922.6 492.9l-3.2-.5M923 495.9l-3 1.8M919.4 492.4l-2.1 2M920 497.7l-2.4-1.6M917.3 494.4l.3 1.7M923.8 491.5l-1.2 1.4M926 497.7l-3-1.8M918.4 488.6l1 3.8M920.1 500.8l4.7 1.2M920.1 500.8l-.1-3.1M917.9 488.4l-4.1 2.4M913.4 492.4l.4-1.6M913.4 492.4l3.9 2M913.4 492.4l-.9 .6M914.7 498.8l2.9-2.7M914.7 498.8l-2.1-.9M908.9 507.6l3.7 .9M911 514.4l1.1-.8M912.1 513.6l.5-5.1M917.4 516.2l-2.2-2.7M912.1 513.6l3.1-.1M955.6 543.6l-.2-1.6M955.6 543.6l.5 .7M956.1 544.3l5.3-.1M955.4 542l1.3-1.7M956.7 540.3l4.6-.2M961.4 544.2l.4-3.3M961.8 540.9l-.5-.8M962 545.2l-.6-1M961.1 548.3l-4.3-.2M956.8 548.1l-.7-3.8M951.8 537.1l-.6 2.9M956.3 536.1l.4 4.2M951.2 540l4.2 2M961.8 537l-.5 3.1M966.5 541.1l-4.7-.2M956.8 548.1l-1.1 1.6M960.8 552.9l-4.7-.8M955.7 549.7l.4 2.4M964.7 558.4l-5-1M963.8 562.2l-4.8-1.1M959 561.1l.7-3.7M961 553.2l-1.4 4M959.7 557.4l-.1-.2M941.7 527.6l-1 4.3M945.8 529.3l-1.7 3.2M940.7 531.9l3.4 .6M936.7 527.1l-.4 1.2M936.3 528.3l2.7 4.4M940.7 531.9l-1.7 .8M936.3 528.3l-3.3 1.2M933 529.5l-.4 2.6M935.3 533.9l3.7-1.1M939 532.8l0-.1M937.5 539.9l2.3-3M937.3 540l.2-.1M939 532.8l.8 4.1M943.8 541.5l4.8-.3M943.8 541.5l-.6-3.9M943.2 537.6l2.8-2.3M948.7 541.1l-.1 .1M948.7 541.1l-2.6-5.8M946.1 535.3l-.1 0M937.5 539.9l5.2 2.8M942.7 542.7l1.1-1.2M939.8 536.9l3.4 .7M944.1 532.5l1.9 2.8M951.2 540l-2.5 1.1M949.3 534l-3.2 1.3M1077 463.5l-4.4-1M1078.5 464.9l-3.4 3M1072.3 466.1l2 1.8M1072.3 466.1l0-3.2M1075.1 467.9l-.8 0M1072.3 462.9l.3-.4M1073 460.2l-.4 2.3M1076.4 458.5l2.2 4.2M1072.1 471.7l2.2-3.8M1069.2 467.5l3.1-1.4M1066.7 462.5l5.6 .4M1073 474.2l.5 .3M1075.1 467.9l2.8 3.5M1073.5 474.5l4.4-3.1M1083.5 477.5l-2.8-3.1M1084.8 471.3l-4.1 2.8M1080.7 474.4l0-.3M1081.3 467.6l-2.7 3.9M1080.7 474.1l-2.1-2.6M1078.6 471.5l-.7-.1M940.3 568.8l-4.2-.9M940.7 563.5l-3.3 .6M936.1 567.9l1.3-3.8M938.8 558.7l-4.1 2.2M938.8 558.7l1.1 .4M937.4 564.1l-2.7-3.2M932.2 557.3l1.5 3.5M938 556l.8 2.7M935 555.1l3 .9M933.7 560.8l1 .1M923.1 564.9l1.7 .6M926.6 560.1l1.1 2.7M924.8 565.5l2.9-2.7M933.7 560.8l-2.7 3.2M927.7 562.8l3.3 1.2M939.1 585.1l1.8-3.8M942.8 587.1l2.2-4.2M940.9 581.3l3.6 .7M945 582.9l-.5-.9M937.6 579.2l2.7 .9M940.3 580.1l.6 1.2M935.1 582.5l2.5-3.3M948 583.9l-3-1M940.3 580.1l3-4.8M946.3 577.4l-1.8 4.6M936.9 577.5l3.2-3.8M936.9 577.5l-2.3-.9M934.6 576.6l-.8-1.8M933.8 574.8l2.1-2.8M935.9 572l4.2 1.7M937.6 579.2l-.7-1.7M940.3 573.7l-.2 0M931.7 579.8l2.9-3.2M928.4 577l2.6-3.1M931 573.9l2.8 .9M936.1 567.9l-1.1 .6M935 568.5l.9 3.5M910.1 457.4l.3 .1M910.1 457.4l2.8-4.9M910.4 457.5l5.6-.2M912.9 452.5l1.6-.2M914.5 452.3l2.6 1.9M916 457.3l1.5-1.9M917.1 454.2l.4 1.2M910.3 450.5l2.6 2M907.1 452.9l3.2-2.4M910 457.4l.1 0M912.5 461.4l-2.1-3.9M912.5 461.4l3.7 .1M916.2 461.5l-.2-4.2M911.5 446.5l-1.5 1.7M910.3 450.5l-.3-2.3M915.6 447.6l-1.1 4.7M920.3 450.4l-3.2 3.8M917.3 462.7l-1.1-1.2M921.3 457l-3.8-1.6M912.5 461.4l-2 3.5M917.4 464.3l-3.1 1.9M910.5 464.9l3.8 1.3M916.6 471.4l-2.3-.6M914.3 466.2l0 4.6M914.2 477.7l-.7 0M911.4 473.3l.9-1.8M914.3 470.8l-2 .7M897.2 468.2l5.6 1.4M897.2 473l3.6-.3M902.8 469.6l-2 3.1M907.6 479.4l.8-.8M908 474.3l-1.5-.7M902.4 477.8l-.1-.2M906.5 473.6l-4.2 4M896.9 477l5.2 .4M900.8 472.7l1.3 4.7M902.1 477.4l.2 .2M900.6 447.3l3.9 1.1M900.6 447.3l-.9-2M901.1 442.9l4.5 1.3M901.1 442.9l-1.4 2.4M905.6 444.2l-.1 3.1M905.5 447.3l-1 1.1M904.5 452.4l0-4M898.9 449.9l1.7-2.6M895.5 444.9l4.2 .4M906.2 443.5l-.6 .7M900.9 441.7l.2 1.2M910 448.2l-4.5-.9M927 524.5l2.3 3M927 524.5l3.2-2.9M932.7 524.4l-1.6-2.7M932.7 524.4l-1.9 3M930.8 527.4l-1.5 .1M931.1 521.7l-.9-.1M926.6 531.6l2.7-4.1M925.9 524.4l1.1 .1M927.9 518l2.3 3.6M933.9 519.5l-2.8 2.2M935.3 524.6l-2.6-.2M933 529.5l-2.2-2.1M950.9 402.9l-.9 3.6M950.9 402.9l4.5-.8M955.4 402.1l-.6 5.1M950 406.5l3.3 1.4M953.3 407.9l1.5-.7M949.2 400.8l1.7 2.1M948 407.4l2-.9M955.6 402l-.2 .1M959.2 408.9l-4.4-1.7M952.9 412.3l.4-4.4M910.5 486.9l-.4-3.7M910.5 486.9l1.6 .5M912.1 487.4l3.7-3M915.8 484.4l-3.4-2.3M912.4 482.1l-2.3 1.1M907.6 488.4l2.9-1.5M907.7 482l2.4 1.2M913.8 490.8l-1.7-3.4M916.2 484.4l-.4 0M912.8 478.4l-.4 3.7M971.3 396.3l-1.6 1M971.3 396.3l2.1 .1M973.4 396.4l2.2 2.8M969.7 397.3l-.5 1.3M969.2 398.6l2 3.8M975.6 399.2l-3 3.6M972.6 402.8l-1.4-.4M970.4 392l.9 4.3M966.1 394.8l3.6 2.5M975.5 393.5l-2.1 2.9M976.4 399.3l-.8-.1M964.1 400.9l5.1-2.3M968.6 404l2.6-1.6M974.1 405.4l-1.5-2.6M1042.1 431.3l3.4 1.4M1042.1 431.3l-.4-3.9M1041.7 427.4l.4-.7M1047.1 428.9l0 2.4M1047.1 428.9l-4.6-2.4M1042.5 426.5l-.4 .2M1047.1 431.3l-1.6 1.4M1039.3 434.1l2.8-2.8M1045.3 436.2l.2-3.5M1037.4 428.8l4.3-1.4M1037.7 422.9l4.4 3.8M1051.1 433.2l-4-1.9M1049.5 427l-2.4 1.9M1044.6 422.8l-2.1 3.7M1033.6 449.3l-3 3.7M1033.6 449.3l-4.3-3.8M1029.3 445.5l-.7 .3M1028.6 445.8l-1.3 5.7M1027.3 451.5l1.3 1.7M1028.6 453.2l2-.2M1034.8 449.2l-1.2 .1M1033.9 456.1l-3.3-3.1M1030.7 443l-1.4 2.5M1027 445.5l1.6 .3M1024.3 450.9l3 .6M1026.8 456.8l1.8-3.6M912.6 508.5l1.7-.9M910.3 502.8l3.5 .9M914.3 507.6l-.5-3.9M914.7 498.8l1.2 2.9M913.8 503.7l2.1-2M920.1 500.8l-1.8 1.4M915.9 501.7l2.4 .5M956.1 552.1l-1.2 1.9M959.6 557.2l-3.7-1M954.9 554l1 2.2M947.3 558.3l3.1-.2M947.3 558.3l-.8-3.9M946.5 554.4l3.4-1.9M949.9 552.5l1.7 1.7M951.6 554.2l-1.2 3.9M952.6 564l5.1 1.6M952.6 564l-.2-.9M952.4 563.1l.6-2.3M958.8 561.2l-4.9-.8M958.8 561.2l-.5 4M953 560.8l.9-.4M958.3 565.2l-.6 .4M957.2 569l.5-3.4M951.5 567.3l1.1-3.3M945.9 562.8l6.5 .3M945.7 559.8l1.6-1.5M950.4 558.1l2.6 2.7M959 561.1l-.2 .1M955.9 556.2l-2 4.2M962.7 566.1l-4.4-.9M954.9 554l-3.3 .2M942.6 558l.1-4.3M946.5 554.4l-2.8-1.2M942.7 553.7l1-.5M938 556l2.4-2.9M942.7 553.7l-2.3-.6M935.1 552.3l3.6-1.7M940.4 553.1l-1.7-2.5M936.3 545.8l2.7 1.7M938.7 550.6l.3-3.1M942.7 542.7l-.3 3.5M939 547.5l3.4-1.3M951 548.6l-1.3 1.9M951 548.6l-.3-2.4M949.7 550.5l-4.7-1.2M950.7 546.2l-1.7-1.4M949 544.8l-5 2.3M944 547.1l1 2.2M955.7 549.7l-4.7-1.1M949.9 552.5l-.2-2M955.6 543.6l-4.9 2.6M943.7 553.2l1.3-3.9M948.6 541.2l.4 3.6M942.4 546.2l1.6 .9M1074 475.4l3.8 1.4M1074 475.4l-.6 5.1M1075.4 481.7l2.9-2.4M1075.4 481.7l-2-1.2M1078.3 479.3l-.5-2.5M1073.5 474.5l.5 .9M1080.7 474.4l-2.9 2.4M1070.2 481.3l3.2-.8M1076.7 485.3l-1.3-3.6M1080.4 480.1l-2.1-.8M935 568.5l-.8-.1M931 573.9l-.7-2M930.3 571.9l3.9-3.5M931 564l.3 1.6M934.2 568.4l-2.9-2.8M907.7 463.7l1.9 1.5M907.7 463.7l-4.3 .5M909.6 465.2l-.6 3M909 468.2l-3.9 2.2M903.4 464.2l-.5 .7M902.9 464.9l0 4.7M902.9 469.6l2.2 .8M908 458.7l-.3 5M910.5 464.9l-.9 .3M902.4 460.5l1 3.7M912.3 471.5l-3.3-3.3M906.5 473.6l-1.4-3.2M897.6 464.5l5.3 .4M902.8 469.6l.1 0M917 510.8l-1.7-2.9M917 510.8l3 .4M915.3 507.9l3.9-2.1M920 511.2l2.4-3.6M922.4 507.6l-3.2-1.8M915.2 513.5l1.8-2.7M914.3 507.6l1 .3M921.1 514.4l-1.1-3.2M918.3 502.2l.9 3.6M923 507.4l-.6 .2M928.5 571l-.7-2.3M928.5 571l-3.6 2.6M927.8 568.7l-2.3-1.1M922.5 570.9l3-3.3M930.3 571.9l-1.8-.9M931.3 565.6l-3.5 3.1M924.8 565.5l.7 2.1M925.4 554l-4.6-15.3l-2.7-12l-2-11.8l-1.9-17.5l-.5-11.8l1-17.5l1.7-12.3l2.5-11.6l3.4-11.4l4.3-11l5.1-10.2l5.8-8.7l9.2-10.3l10.3-8.9l8.3-5.6l8.6-4.2M929.7 559.1l-3.7-10l-4.5-16.9l-3.2-17.4l-1.9-17.3l-.5-11.9l1-17.3l1.6-12.1l2.5-11.4l5.3-16.5l4.5-10.4l5.2-9.1l5.9-7.9l9.8-9.9l10.4-8.3l8.3-4.9l4.4-1.8l4.4-1.2M934.1 564l-5.9-15.3l-3.1-11.2l-3.7-17.3l-2.3-17.3l-1-17l.5-11.8l2-17.2l2.5-11.6l5.2-16.2l4.5-10.2l5.1-9l5.9-7.9l6.1-6.3l6.4-5.8l10.7-7.8l8.4-4l4.3-1.1l4.7-.6M938.5 568.7l-6.4-15.3l-4.9-16.4l-3.6-17.2l-2.3-17l-1-17l.4-11.4l2.1-17.2l2.4-11.3l5.2-16.1l4.5-10.2l5-8.7l8.5-10.7l6.2-5.9l6.5-5.5l10.8-6.8l4-1.8l4-1l9.6-.8M943 573.2l-8.8-20.5l-3.4-10.7l-4-16.9l-2.7-17l-1.4-16.7l-.1-11.3l1.5-17l3.3-16.6l5.1-15.9l6.6-14.3l5.2-7.9l8.7-9.6l9.6-8.3l10.4-6.6l7.2-2.6l7.8-.7l6.4 .1M945 572.3l-8.7-20.4l-3.4-10.5l-4-16.7l-2.7-16.8l-1.3-16.6l-.1-11.1l1.5-16.7l3.2-16.4l5-15.7l6.5-14.1l5-7.5l8.5-9.4l9.4-8.1l10-6.4l6.7-2.4l7.5-.7l6.4 .1M944.8 566.5l-6.4-15.3l-4.8-15.8l-3.5-16.8l-2.3-16.5l-.9-16.3l.4-11l2-16.5l2.3-10.7l5-15.4l4.1-9.6l4.6-8l7.9-9.8l12-10.8l9.7-6.2l6.1-2.1l9-.7M944.7 560.8l-4.3-10.4l-4.7-15.5l-3.5-16.6l-2.2-16.4l-.9-16.1l.4-10.8l2-16.4l2.2-10.4l4.9-15.2l4.1-9.4l4.4-7.8l5-6.5l8.4-8.5l9.2-7.3l8.9-4.9l7.1-1.2M944.7 555.3l-3.9-10.7l-4.2-15.7l-2.2-11l-2.2-16.2l-.7-10.7l-.1-10.5l1.4-16.1l1.9-10.6l2.6-10.1l5.3-14.7l4.2-8.4l4.5-6.8l7.8-8.7l8.8-7.6l8.9-5.7l4.8-1.7M945 550l-3.6-11l-3.8-16l-1.9-10.9l-1.8-15.9l-.4-10.5l.4-10.4l1.1-10.6l1.8-10.4l2.6-9.9l3.3-9.9l3.9-8.9l4.2-7.3l4.6-6.1l8-8.1l8.8-7l5.7-3.4M1010.3 375.4l7.8 2.6l4.7 2.1l9.2 5.3l9.1 6.5l12.4 10.4l10.7 11.3l8.8 11.4l6.3 11.4l2.9 7.3M1003.4 376.8l13.6 4.2l8.9 4.4l13.2 8.9l12.1 10.2l10.7 11.3l8.5 11.2l4.3 7.3l3.2 6.9l2 5.4l.5 3.8M996.8 378.4l14.6 4l8.8 3.5l12.7 7.9l8.4 6.4l7.7 6.6l7.1 7.3l6.4 7.5l7.4 10.7l3.7 7l3.2 8.2l.4 3.9l-.3 3.8M1001.2 382.9l13.5 4.1l8 4l12.6 8.5l11.5 9.7l10.2 10.7l8 10.5l4 6.9l3 6.4l1.7 4.5l.3 2.4M1005.3 387.2l8.3 2.7l7.5 3.8l12.2 8.3l11.3 9.5l6.8 6.9l8.7 10.5l4.3 6.6l5.3 10.9M999.4 419.8l33.8 31.7l11.6 10.3l14 10.8l6.7 4.4l7.7 4.1M993.1 418.3l37.9 35.6l11.8 10.4l17.5 13.2l15.6 8.6M986.8 416.8l42 39.4l15.6 13.6l14.2 10.4l7.5 4.5l12.5 6.3M988.8 423l41.9 39.4l11.7 9.9l14.5 10.6l16 8.8M990.9 429.3l33.6 31.6l12.2 10.8l14.8 11.4l7.4 4.8l8.2 4.5" fill="none" stroke="#6e6e6e" stroke-width="1.85"/>
<use href="#e7" fill="none" stroke="#000" stroke-width="4.6" stroke-linejoin="round"/>
<use href="#e8" fill="#fff"/>
<path d="M1131.4 510.3l7.3 .9M1131.8 506.1l7.4 .7M1139.2 506.8l-.5 4.4M1138.7 511.2l.2 .5M1138.9 511.7l8.1 .2M1147 511.9l-.7-4.6M1139.2 506.8l.1-.1M1146.3 507.3l-7-.6M1272.1 336.9l-2.8 6.7M1269.3 343.6l-.9 .2M1267.8 335.3l-3 6.5M1264.8 341.8l3.6 2M1226.1 340l-1.3-7.2M1219.7 334.2l2.6 6.8M1226.1 340l-.5 .4M1222.3 341l3.3-.6M1164.2 400.5l-6.5-2.4M1164.2 400.5l-.3 3M1155.9 402.2l6.5 2.7M1163.9 403.5l-1.5 1.4M1165.6 399l.5-2.7M1165.6 399l-1.4 1.5M1166.1 396.3l-6.3-2.8M1138.3 515.2l.4 .8M1138.3 515.2l-7.3 .3M1138.7 516l-.6 4.1M1130.9 520l7.2 .1M1138.9 511.7l-.6 3.5M1130.9 524.9l7.2 .1M1138.1 525l.6-3.8M1138.7 521.2l-.6-1.1M1138.7 521.2l7.7-.1M1138.7 516l7.4 1M1146.1 517l.3 4.1M1147 511.9l.9 1.3M1146.1 517l1.8-3.8M1133.3 548.1l7-.7M1132.6 544.4l6.8-2.2M1140.3 547.4l.5-2.6M1139.4 542.2l1.4 2.6M1131.8 538.6l7.2 .1M1139 538.7l.5 1.1M1139.4 542.2l.1-2.4M1131.1 529.9l7.2-.5M1138.1 525l.5 1.1M1138.3 529.4l.3-3.3M1146.6 521.3l-.2-.2M1146.6 521.3l-1.1 4.4M1138.6 526.1l6.9-.4M1156.5 615.5l4-6.1M1161.4 618l2.4-6.7M1160.5 609.4l3.3 1.9M1140.3 547.4l1 2.1M1141.2 550.9l.1-1.4M1141.2 550.9l-6.6 2.8M1244.1 338.2l-3.7 .6M1244.1 338.2l-.4-7.3M1239 330.9l.3 7.4M1240.4 338.8l-1.1-.5M1263 333.8l-2 6.5M1264.8 341.8l-1.1 .1M1261 340.3l2.7 1.6M1269.3 343.6l3.6 2M1276.6 338.9l-2.9 6.7M1273.7 345.6l-.8 0M1281.1 341.1l-4 6.6M1273.7 345.6l3.4 2.1M1215.6 335.7l2.4 6.8M1222.3 341l-1 .9M1218 342.5l3.3-.6M1151.5 439.2l-7.1-1.6M1151.5 439.2l-.8 4.1M1143.5 441.4l6.8 2.3M1150.7 443.3l-.4 .4M1148.9 448.1l-6.7-1.6M1148.9 448.1l.9-1.1M1149.8 447l.5-3.3M1158.3 440.5l1.3-4.4M1158.3 440.5l-6.4-1.8M1159.6 436.1l-6.9-1.6M1151.9 438.7l.6-4M1152.7 434.5l-.2 .2M1151.5 439.2l.4-.5M1145.6 433.2l6.9 1.5M1147 428.1l6.6 2.6M1153.6 430.7l-.9 3.8M1147.7 452.7l-.5 4.3M1147.7 452.7l-6.7-1.5M1147.2 457l-7.2-1.5M1148.9 448.1l-.2 3.4M1148.7 451.5l-1 1.2M1153.9 463.1l-.4 4.1M1153.9 463.1l-7.3-2.3M1153.5 467.2l-8-1.5M1145.5 465.7l.7-4.5M1146.6 460.8l-.4 .4M1139 459.9l7.2 1.3M1145.4 465.8l-7.4-1.6M1145.4 465.8l.1-.1M1148.7 451.5l7.1 2.4M1147.3 457.2l-.1-.2M1147.3 457.2l8.3 .5M1155.8 453.9l-.2 3.8M1147.3 457.2l-.7 3.6M1153.9 463.1l2.5-3.7M1155.6 457.7l.8 1.7M1132.9 496.7l7.4 .5M1132.4 501l7.1 1.5M1139.5 502.5l.3-.4M1140.3 497.2l.2 .4M1139.8 502.1l.7-4.5M1160.5 435.4l-.9 .7M1153.6 430.7l1.1-1.2M1160.5 435.4l-.7-3.8M1159.8 431.6l-5.1-2.1M1148.1 424.1l7.1 1.7M1155.2 425.8l-.5 3.7M1141.2 550.9l1.6 3M1135.6 557.6l6.8-1.5M1142.8 553.9l-.4 2.2M1138.3 529.4l.6 1.3M1131.4 534.5l7.1-1.1M1138.9 530.7l-.4 2.7M1139 538.7l.5-2.9M1138.5 533.4l1 2.4M1152.2 611.3l6-4.2M1149.8 607.2l6.4-3.6M1156.2 603.6l2 3.5M1160.5 609.4l-.7-1.6M1159.8 607.8l-1.6-.7M1226.1 340l3.9-.5M1229.6 331.9l.7 7.3M1230.3 339.2l-.3 .3M1234.2 331.3l.7 7.3M1230.3 339.2l4.6-.6M1239.3 338.3l-3.9 .5M1234.9 338.6l.5 .2M1257.8 332.5l-1 6.7M1261 340.3l-1.8 .1M1256.8 339.2l2.4 1.2M1158.9 469.7l3.2-6.7M1158.9 469.7l-5-1.3M1153.9 468.4l-.4-1.2M1156.4 459.4l5 1.3M1162.1 463l-.7-2.3M1140.3 497.2l.6-4.2M1140.9 493l-7.5-.7M1139.3 506.7l.2-4.2M1164.4 443.2l3.3 3.9M1164.4 443.2l-5 .8M1167.7 447.1l.1 3.3M1159.4 444l-.4 .6M1159 444.6l-.8 5M1158.2 449.6l.1 .6M1158.3 450.2l6.5 2.4M1167.8 450.4l-3 2.2M1166.2 439.5l-1.8 3.7M1166.2 439.5l6.3 .4M1172.6 443.6l-.1-3.7M1172.6 443.6l-4.9 3.5M1164.9 436l1.3 3.5M1164.9 436l-4.4-.6M1158.3 440.5l1.1 3.5M1150.7 443.3l8.3 1.3M1149.8 447l8.4 2.6M1155.8 453.9l2.5-3.7M1164.8 457.5l-3.4 3.2M1164.8 457.5l0-4.9M1176 446.7l4.6-3.8M1176 446.7l.1 2.8M1180.6 442.9l4.3 3.1M1184.9 446l-3.2 5.4M1181.7 451.4l-5.6-1.9M1167.8 450.4l5.2 1.8M1172.6 443.6l3.4 3.1M1173 452.2l3.1-2.7M1207.4 473l-.2 .2M1214.4 474l-7-1M1206.8 478l7.4-.1M1206.8 478l-.2-.5M1206.6 477.5l.6-4.3M1207.6 468.1l0 .1M1207.4 473l.2-4.8M1201 468l6.6 .1M1201 468l-1.4 4.3M1207.2 473.2l-7.6-.9M1164.1 508.3l-4.1-1.2M1164.1 508.3l-.6 6.5M1160 507.1l-3 2.9M1157 510l1.2 3.7M1158.2 513.7l4.2 2M1163.5 514.8l-1.1 .9M1171.5 514.5l-8 .3M1171.5 514.5l.7-1.1M1172.2 513.4l-.1-3M1169.2 505.8l2.9 4.6M1168.4 505.7l-4.3 2.6M1169.2 505.8l-.8-.1M1149.2 513.2l4.7 3.4M1149.2 513.2l4.7-4.2M1153.9 516.6l4.3-2.9M1153.9 509l3.1 1M1243.2 486.5l7.3-1.6M1243.2 486.5l0 3M1243.2 489.5l.7 1.1M1243.9 490.6l7.6-1M1250.5 484.9l1 4.7M1206.8 478l-.2 3.7M1206.6 481.7l-.3 .3M1206.6 477.5l-6.8-.7M1206.3 482l-6-.6M1200.3 481.4l-.5-4.6M1196.5 504.3l8.3 .6M1204.8 504.9l.2 .3M1195.7 507l.8-2.7M1197.8 509.3l6.8 0M1195.7 507l2.1 2.3M1205 505.2l-.4 4.1M1197.8 509.3l.3 4.4M1204.6 514.1l-.3 .5M1204.6 514.1l.1-4.5M1204.6 509.3l.1 .3M1204.3 514.6l-6.2-.9M1192.9 514.9l-2.2-5.6M1192.9 514.9l4 .6M1190.7 509.3l5-2.3M1196.9 515.5l1.2-1.8M1246.1 507.1l.2-2.4M1246.1 507.1l-6.8 2.2M1238.4 504.7l6.7-1.6M1245.1 503.1l1.2 1.6M1212.2 505.5l-7.2-.3M1204.7 509.6l7.2 .3M1204.6 514.1l7 .9M1307.4 361.1l-5.5 4.3M1310.5 364.6l-5.5 4.6M1305 369.2l-1.7-.9M1301.9 365.4l1.4 2.9M1289.2 345.8l-4.3 6M1284.7 343.1l-3.1 6.6M1284.9 351.8l-3.3-2.1M1277.1 347.7l0 0M1277.1 347.7l4 2.1M1281.6 349.7l-.5 .1M1160.1 539.3l.4-.2M1159.6 546.7l.5-7.4M1159.6 546.7l7.7-.3M1167.3 546.4l1.3-3M1168.6 543.4l-.8-2.5M1160.5 539.1l7.3 1.8M1160.1 539.3l-5.5-1.6M1160.5 539.1l2.7-6.8M1154.6 537.7l-1.1-3.2M1153.5 534.5l6.3-5.1M1159.8 529.4l3.4 2.9M1170.2 535.1l-2.4 5.8M1170.2 535.1l-3.2-3M1163.2 532.3l3.8-.2M1174.1 543.5l-5.5-.1M1174.1 543.5l1.9-4.6M1170.2 535.1l2.4-.1M1176 538.9l-3.4-3.9M1148.5 552.6l2.7 3.7M1148.5 552.6l-5.7 1.3M1142.4 556.1l1.4 2.3M1151.2 556.3l-7.4 2.1M1136.7 562.1l7-1.5M1143.7 560.6l.1-2.2M1146.9 543.6l1-1.6M1146.9 543.6l.4 4.5M1147.9 542l3.8-.2M1151.7 541.8l3.1 5.5M1154.8 547.3l-6 2.2M1147.3 548.1l1.5 1.4M1139.5 539.8l6.7-.4M1140.8 544.8l6.1-1.2M1146.2 539.4l1.7 2.6M1141.3 549.5l6-1.4M1159.4 546.9l-4.1 .7M1155.3 547.6l-.5-.3M1159.6 546.7l-.2 .2M1154.6 537.7l-2.9 4.1M1148.5 552.6l.3-3.1M1146.4 535.1l6.1-1.2M1146.4 535.1l-.4-.4M1146 534.7l-1.1-4.1M1151 528.9l1.5 5M1151 528.9l-4.6-1M1146.4 527.9l-1.5 2.7M1146.2 539.4l.2-4.3M1153.5 534.5l-1-.6M1139.5 535.8l6.5-1.1M1138.9 530.7l6-.1M1145.5 525.7l.9 2.2M1344 460.8l-6.6 1.4M1343.7 457l-7.1-.3M1337.4 462.2l-1.3-2.5M1336.6 456.7l-.5 3M1343.1 451.9l-6.6 .9M1336.5 452.8l-.5 2.3M1336.6 456.7l-.6-1.6M1339.5 428.5l-7 2.2M1338.5 424.3l-6.9 1.5M1332.5 430.7l-1.2-3M1331.6 425.8l-.3 1.9M1274.2 559l-.5-6.2M1279.7 550.4l-6 2.4M1275.3 559.9l-1.1-.9M1275.3 559.9l6.2-3.5M1279.7 550.4l1.5 .6M1281.2 551l.3 5.4M1279.7 550.4l-4.1-6.6M1281.2 551l3.5-2M1276.7 542.3l-1.1 1.5M1276.7 542.3l5.9-1.6M1284.7 549l-2.1-8.3M1337.6 507.3l7 1.4M1337.6 507.3l-.9 3.9M1344.3 512.2l-7.3 0M1336.7 511.2l.3 1M1335.7 525.8l7.2 1.2M1335.7 525.8l-1 4M1342.5 530.7l-7.4 0M1334.7 529.8l.4 .9M1335.5 525.2l.9-3.8M1343.5 521.8l-7.1-.4M1335.5 525.2l.2 .6M1342 535.8l-7.1-1.4M1335.1 530.7l-.5 2.8M1334.9 534.4l-.3-.9M1317.5 589.6l-2.5 2.2M1317.9 588.1l-.4 1.5M1313.1 584.5l4.8 3.6M1313.1 584.5l-3.1 2.7M1310 587.2l5 4.6M1317.5 589.6l5.9 4.4M1320.2 597.7l-5.3-5.4M1315 591.8l-.1 .5M1316.2 601l-4.3-6M1314.9 592.3l-3 2.7M1312 603.8l-3.7-6M1308.3 597.8l2.6-2.7M1311.9 595l-1 .1M1307.4 606.3l-3.2-6.6M1308.3 597.8l-2.1 .2M1304.2 599.7l2-1.7M1301.3 608.1l-.1-8.1M1304.2 599.7l-3 .3M1253.3 331.7l-1.2 6.8M1256.8 339.2l-2.3 .4M1252.1 338.5l2.4 1.1M1230 339.5l1.9 6.6M1225.6 340.4l2.2 7.7M1227.8 348.1l1.1 .1M1231.9 346.1l-3 2.1M1221.3 341.9l2.1 6.9M1227.8 348.1l-2.7 1.2M1223.4 348.8l1.7 .5M1211 337.9l3 6M1210.9 346.3l.6-.1M1206.2 340.7l4.7 5.6M1211.5 346.2l2.5-2.3M1218 342.5l-1.5 1.2M1214 343.9l2.5-.2M1223.4 348.8l-4.4 1.2M1216.5 343.7l2.5 6.3M1180.6 442.9l-.2-1.1M1172.5 439.9l1.8-2M1180.4 441.8l-6.1-3.9M1164.8 457.5l4.8 2M1173 452.2l.9 4.2M1169.6 459.5l4.3-3.1M1168.7 480.1l-2.3-4.5M1168.7 480.1l-5.1 4.4M1166.4 475.6l-6.4 2.5M1160 478.1l1.8 6M1163.6 484.5l-1.8-.4M1167.8 466.6l2.7-1.1M1167.8 466.6l-2.2 4.5M1165.6 471.1l1.3 2.9M1166.9 474l7.5-1M1175.5 470.4l-1.1 2.6M1175.5 470.4l-2.9-4.2M1172.6 466.2l-2.1-.7M1169.6 459.5l.9 6M1162.1 463l5.7 3.6M1158.9 469.7l.4 .5M1159.3 470.2l6.3 .9M1159.3 470.2l-.5 7M1158.8 477.2l1.2 .9M1166.4 475.6l.5-1.6M1170.8 480.7l-2.1-.6M1170.8 480.7l4.6-2.9M1175.4 477.8l-1-4.8M1164.8 501.1l-6.2 .6M1164.8 501.1l1.4-5.1M1166.2 496l-2-2.2M1158.6 501.7l-.8-.6M1157.8 501.1l2.9-7.5M1164.2 493.8l-3.5-.2M1160 507.1l-1.4-5.4M1168.4 505.7l-3.6-4.6M1169.2 505.8l4.5-4.8M1169.6 496l4.1 5M1169.6 496l-3.4 0M1152.4 504.6l3.7-3.6M1152.4 504.6l-4.6-.4M1156.1 501l-3.5-4.2M1147.8 504.2l-.6-1.3M1147.2 502.9l.2-4.5M1152.6 496.8l-3.9-.1M1148.7 496.7l-1.3 1.7M1157.8 501.1l-1.7-.1M1153.9 509l-1.5-4.4M1146.3 507.3l1.5-3.1M1147.9 513.2l1.3 0M1139.8 502.1l7.4 .8M1140.5 497.6l6.9 .8M1140.9 493l.1-.1M1147.5 493.8l-6.5-.9M1147.5 493.8l1.2 2.9M1154.8 484.4l-3 3.9M1154.8 484.4l5.5 .8M1160.3 485.2l-1.9 6.5M1151.8 488.3l3.6 3.6M1155.4 491.9l3-.2M1166.6 488.2l-2.4 5.6M1166.6 488.2l-3-3.7M1160.7 493.6l-2.3-1.9M1161.8 484.1l-1.5 1.1M1152.6 496.8l2.8-4.9M1167.4 432.5l-4.3-4.9M1164.9 436l2.5-3.5M1159.8 431.6l3.2-3.9M1163.1 427.6l-.1 .1M1155.2 425.8l.6-.7M1163 427.7l-7.2-2.6M1149.7 419.3l6.9 2.8M1150.9 415.6l6.8 2M1157.7 417.6l-.3 3.5M1156.6 422.1l.8-1M1155.8 425.1l.8-3M1152.7 410.5l6.5 2.6M1159.2 413.1l-.4 3.1M1158.8 416.2l-1.1 1.4M1158.8 416.2l7.1 2.6M1165.5 423l-8.1-1.9M1166.8 422.1l-1.3 .9M1165.9 418.8l.9 3.3M1165.5 423l-2.4 4.6M1165.9 418.8l1.1-4.4M1159.2 413.1l.9-.9M1167 414.4l-6.9-2.2M1154.3 406.3l6.8 2.5M1160.1 412.2l1-3.4M1162.4 404.9l-.5 3M1161.9 407.9l-.8 .9M1173.9 456.4l1.9 1.1M1172.6 466.2l4.1-4.2M1176.7 462l-.9-4.5M1234.6 481.2l7.2-.3M1235.3 486l7-1M1242.3 485l.1-3.1M1242.4 481.9l-.6-1M1206.6 481.7l7.2 1.3M1205.8 486.6l.5-4.6M1206.2 487.2l-.4-.6M1206.2 487.2l7.4-.6M1206 491.2l7.2 .9M1206 491.2l.2-4M1236 491l7.2-1.5M1243.2 486.5l-.9-1.5M1270.2 490.8l1.4-.8M1271.6 490l5.2 2.1M1269.5 497l.7-6.2M1269.5 497l1.5 .6M1271 497.6l6-2.3M1276.8 492.1l.2 3.2M1192.6 482.7l6.5 .3M1192.6 482.7l2.5 6M1199.1 483l1.1 3.2M1200.2 486.2l-1.6 2.8M1198.6 489l-3.5-.3M1205.8 486.6l-5.6-.4M1200.3 481.4l-1.2 1.6M1199.6 472.3l-1.8 1.8M1199.8 476.8l-2-2.4M1197.8 474.1l0 .3M1195.1 464.9l-2.5 3.8M1192.6 468.7l1.4 3.3M1199.9 465.3l1.1 2.7M1199.9 465.3l-4.8-.4M1197.8 474.1l-3.8-2.1M1192.6 482.7l-.7-.5M1197.8 474.4l-5.9 7.8M1243.9 490.6l.2 4.2M1236.7 495l7.4-.2M1204.8 504.9l.4-3.9M1205.2 501l7.3 0M1255.8 505l0-.2M1255.8 504.8l-2.8-1.9M1253 502.9l-6.7 1.8M1246.1 507.1l1.1 1.7M1255.8 505l-2 3.3M1247.2 508.8l6.6-.5M1240 513l7-.4M1247.2 508.8l-.2 3.8M1259.2 501.7l6.4 2M1259.2 501.7l.4-4.7M1261.8 494.7l-2.2 2.3M1261.8 494.7l5.8 2.9M1267.6 497.6l-2 6.1M1265.9 489.4l4.3 1.4M1269.5 497l-1.9 .6M1261.7 492.1l.1 2.6M1261.7 492.1l4.2-2.7M1251.6 498.9l-6.7 .8M1251.6 498.9l.9-3.6M1252.5 495.3l-.5-1M1252 494.3l-7.7 .8M1244.3 495.1l0 3.8M1244.9 499.7l-.6-.8M1245.1 503.1l-.2-3.4M1253 502.9l-1.4-4M1259.6 497l-7.1-1.7M1255.8 504.8l3.4-3.1M1252.5 490.8l-.5 3.5M1252.5 490.8l6.2-1.7M1258.7 489.1l3 3M1244.1 494.8l.2 .3M1251.5 489.6l1 1.2M1237.6 500.2l6.7-1.3M1321.2 395.9l0 .1M1321.2 396l1.7 4.5M1321.2 395.9l6.8-2.4M1322.9 400.5l6.8-2.9M1333.2 406.4l-6.6 2.3M1326.6 408.7l-1.9-3.9M1324.7 404.8l6.7-3.1M1325.7 388.9l-6.3 3.3M1319.4 392.2l1.8 3.7M1323.6 384.8l-6.4 3.8M1319.4 392.2l-.8-.5M1317.2 388.6l1.4 3.1M1316.6 402.7l6.3-1.8M1316.6 402.7l1.6 5.1M1318.2 407.8l6.3-3.2M1322.9 400.9l1.6 3.7M1324.7 404.8l-.2-.2M1326.4 409.9l-6.7 1.9M1326.6 408.7l-.2 1.2M1317.7 409.4l2 2.4M1317.7 409.4l.5-1.6M1322.9 400.5l0 .4M1326.4 409.9l1.3 2.8M1327.7 412.7l7.2-1.3M1151 528.9l2.5-3.2M1159.8 529.4l-.1-.5M1159.7 528.9l-6.2-3.2M1146.6 521.3l6.5 .8M1153.5 525.7l-.4-3.6M1153.9 516.6l.2 4.3M1153.1 522.1l1-1.2M1178.8 521l.9-6.4M1178.8 521l-6.2-1.2M1172.2 513.4l7.5 1.2M1171.5 514.5l.4 4.4M1172.6 519.8l-.7-.9M1175.3 527.8l1 3.4M1175.3 527.8l4.9-5.1M1176.3 531.2l6.2 1.2M1180.2 522.7l.4 .1M1180.6 522.8l3.9 5.8M1184.5 528.6l-2 3.8M1172.1 526l-3.4 1.3M1167 532.1l1.7-4.8M1172.6 535l3.7-3.8M1172.1 526l3.2 1.8M1172.1 526l.5-6.2M1178.8 521l1.4 1.7M1176 538.9l5.6 0M1181.6 538.9l1.4-4.9M1183 534l-.5-1.6M1190.9 522.3l-3.4 5.4M1190.9 522.3l-1.8-2.8M1189.1 519.5l-2.1-.9M1187.5 527.7l-3 .9M1187 518.6l-6.4 4.2M1193 532.1l-1.2 4.4M1187.5 527.7l5.5 4.4M1191.8 536.5l-8.8-2.5M1199.2 542.2l-7.7-2.5M1199.2 542.2l.7-.8M1191.5 539.7l.3-3M1191.8 536.7l8.4 .5M1200.2 537.2l-.3 4.2M1337.4 462.2l-.5 2.2M1336.9 464.4l.7 1.9M1337.6 466.3l6.9 .4M1341.2 437.9l-7.1 1.7M1340.6 434l-7.2 .2M1334.1 439.6l-1.3-2.7M1332.8 436.9l.6-2.7M1332.5 430.7l-.1 1.1M1332.4 431.8l1 2.4M1265.6 503.7l0 0M1271 497.6l2.7 5.4M1273.7 503l-2.3 3.4M1271.4 506.4l-5.8-2.7M1283.6 525.9l.9-6.1M1284.5 519.8l-6.9 .9M1278.8 526.7l4.8-.8M1278.8 526.7l-1.7-1.4M1277.6 520.7l-.5 4.6M1273.7 503l4.9-.8M1277 495.3l2.6 2.4M1278.6 502.2l1-4.5M1264.7 533.9l1.6 4M1264.7 533.9l3.1-4.5M1266.7 538.1l-.4-.2M1266.7 538.1l7.3-2.6M1271.2 529.1l-3.4 .3M1271.2 529.1l3.5 4.8M1274.7 533.9l-.7 1.6M1272.7 526.4l4.4-1.1M1272.7 526.4l-1.5 2.7M1278.8 526.7l-.4 6M1278.4 532.7l-3.7 1.2M1258 539.6l-.8-4.3M1258 539.6l4.9 .8M1262.9 540.4l3.4-2.5M1264.7 533.9l-5.9-1.9M1257.2 535.3l1.6-3.3M1258.3 526.9l.1 4.1M1259.7 525.9l-1.4 1M1265.5 526.2l2.3 3.2M1265.5 526.2l-5.8-.3M1258.4 531l.4 1M1260.7 567.5l-8 1.2M1260.7 567.5l1.9 2.4M1262.6 569.9l-.8 1.9M1261.8 571.8l-8.4 1.4M1252.7 568.7l0 3.4M1252.7 572.1l.7 1.1M1245.5 573.2l7.2-1.1M1252.3 568.1l.4 .6M1244.8 568.5l7.5-.4M1271.9 551.3l-4.5 1.7M1271.9 551.3l-.3-6.2M1267.4 553l-3.3-5.1M1264.1 547.9l6.4-3.2M1271.6 545.1l-1.1-.4M1275.6 543.8l-4 1.3M1273.7 552.8l-1.8-1.5M1266.7 538.1l3.8 6.6M1262.3 547.6l1.8 .3M1262.3 547.6l.6-7.2M1276.7 542.3l-2.7-6.8M1156.2 603.6l0-.5M1147.8 602.4l6.8-1.8M1156.2 603.1l-1.6-2.5M1146.4 598.3l6.6-2.6M1153 595.7l1.7 2.6M1154.6 600.6l.1-2.3M1191.8 536.5l0 .2M1181.6 538.9l1.3 2.9M1191.5 539.7l-.6 1.1M1190.9 540.8l-8 1M1345.3 488.6l-7.4 .7M1345.3 484.4l-7.2 .2M1337.9 489.3l-.4-.8M1338.1 484.6l-.6 3.9M1345.2 493.8l-7.2-.1M1337.9 489.3l-.4 3.3M1338 493.7l-.5-1.1M1286.2 549.1l-1.5-.1M1289 552.7l-1.2 4M1289 552.7l-2.8-3.6M1281.5 556.4l2.4 1.6M1283.9 558l3.9-1.3M1299.3 519.5l5 4M1299.6 516.6l-.3 2.9M1299.6 516.6l6.5-2.4M1306.1 514.2l1.1 4.8M1307.2 519l-2.9 4.5M1293.4 552.6l-4.4 .1M1286.2 549.1l3.9-3.2M1293.4 552.6l1.9-2.3M1290.1 545.9l4.9 2.2M1295.3 550.3l-.3-2.2M1308.9 566.7l-2.1-5.8M1308.9 566.7l5.7-.1M1316 562.4l-1.4 4.2M1316 562.4l-1.7-3M1314.3 559.4l-7.2 .7M1306.8 560.9l.3-.8M1329 514.7l7.4 .8M1329 514.7l.9 5.1M1329.9 519.8l5.8 0M1335.7 519.8l.9-3.7M1336.6 516.1l-.2-.6M1337 512.2l-.6 3.3M1328.8 514.4l.1-4.5M1336.7 511.2l-7.8-1.3M1328.8 514.4l.2 .3M1336.4 521.4l-.7-1.6M1343.9 517.3l-7.3-1.2M1341.6 539.7l-7.2 .4M1334.9 534.4l-1.1 4.4M1334.4 540.1l-.6-1.3M1341.1 545l-7.1-1M1334 544l-.2-.7M1334.4 540.1l-.6 3.2M1167.3 546.4l1.2 3M1159.4 546.9l2.1 6.3M1168.5 549.4l-3.7 4.7M1161.5 553.2l3.3 .9M1137.7 566.1l7.1-1.3M1143.7 560.6l1.4 2.2M1144.8 564.8l.3-2M1253.4 573.2l0 2.7M1253.4 575.9l-6.5 2.5M1283.9 558l.8 5.1M1284.7 563.1l-1.1 1.6M1275.3 559.9l.4 1.6M1275.7 561.5l5 3.8M1283.6 564.7l-2.9 .6M1275 579.1l.4 0M1275 579.1l-4.5-4.3M1275.4 579.1l3.2-7.4M1270.5 574.8l0-1.9M1270.5 572.9l2.8-3.3M1273.3 569.6l5 1.6M1278.3 571.2l.3 .5M1272.6 567.1l-4.7-1.5M1272.6 567.1l.7 2.5M1263 569.8l7.5 3.1M1267.9 565.6l-4.9 4.2M1275.7 561.5l-3.1 5.6M1280.7 565.3l-2.4 5.9M1264.1 578.2l-2.1-3.4M1264.1 578.2l-6.5 4.5M1262 574.8l-6.7 3.8M1257.6 582.7l-.3-.1M1257.3 582.6l-1.9-2.5M1255.3 578.6l.1 1.5M1265.2 578.8l5.3-4M1265.2 578.8l-1.1-.6M1261.8 571.8l.2 3M1263 569.8l-.4 .1M1253.4 575.9l1.9 2.7M1248.8 582.9l6.6-2.8M1252 587.8l5.3-5.2M1307.1 570.6l-3.2 6.8M1307.1 570.6l4.4 3.1M1303.9 577.4l2.1 2.7M1306 580.1l4.4-1M1310.4 579.1l1.1-5.4M1310 587.2l-1.4 .1M1310.9 595.1l-4-5.2M1308.6 587.3l-1.7 2.6M1306 580.1l-.5 2.2M1313.1 584.5l.6-3.5M1310.4 579.1l3.3 1.9M1308.6 587.3l-3.1-5M1306.2 598l-2.5-5.8M1303.7 592.2l.4-1.3M1306.9 589.9l-2.8 1M1304.1 590.9l-4.1-3.4M1300 587.5l-3.2 6.7M1303.7 592.2l-5.2 3.8M1298.5 596l-1.7-1.8M1244.1 338.2l.9 .4M1248.5 331.1l-.3 7.2M1245 338.6l3.2-.3M1252.1 338.5l-2.3 .5M1248.2 338.3l1.6 .7M1215.3 459.6l-7.4-.2M1207.9 459.4l.6-4.8M1208.5 454.6l7.1 1.1M1208.8 450.5l7.2-.1M1208.8 450.5l-.5 3.7M1208.5 454.6l-.2-.4M1172.4 372.9l5.8 4.6M1175.5 369.1l5.6 5M1181.1 374.1l-.2 .7M1178.2 377.5l2.7-2.7M1178.3 365.8l5.6 4.4M1181.1 374.1l2.5-2.6M1183.9 370.2l-.3 1.3M1163.9 403.5l5.1 2.1M1165.6 399l6.2 3M1171.8 402l-2.8 3.6M1194 472l-5 3.5M1191.5 482.2l.4 0M1191.5 482.2l-2.2-2.2M1189.3 480l-.3-4.5M1179.1 507.4l2.6 5.9M1179.1 507.4l0-.1M1179.1 507.3l4.6-2.3M1184.7 513.6l-3-.3M1184.7 513.6l3.8-4.6M1183.7 505l3.4 1.4M1188.5 509l-1.4-2.6M1172.1 510.4l7-3M1179.7 514.6l2-1.3M1173.7 501l2-.3M1175.7 500.7l3.4 6.6M1182.4 500.2l-5.9-.2M1182.4 500.2l1.3 4.8M1175.7 500.7l.8-.7M1187 518.6l-2.3-5M1190.7 509.3l-2.2-.3M1192.9 514.9l-3.8 4.6M1184.2 498.3l5.7 .6M1190.1 499.4l-.2-.5M1190.1 499.4l-3 7M1182.4 500.2l1.8-1.9M1190.1 499.4l6.1 3M1196.5 504.3l-.3-1.9M1145.4 465.8l-.9 4.3M1153.9 468.4l-2.2 3.5M1144.5 470.1l7.2 1.8M1141 492.9l.2-4.1M1141.2 488.8l-7.1-1.5M1149.4 480.3l.8-4.7M1149.4 480.3l4.3 1M1156.8 477.5l-3.1 3.8M1156.8 477.5l-5.2-3.4M1151.6 474.1l-1.4 1.5M1158.8 477.2l-2 .3M1154.8 484.4l-1.1-3.1M1151.7 471.9l-.1 2.2M1174.3 437.9l.2-1.8M1167.4 432.5l3.2-.6M1174.5 436.1l-3.9-4.2M1168.1 422.5l-1.3-.4M1168.1 422.5l3.2 7.2M1170.6 431.9l.7-2.2M1187.8 486.8l1.1 4.6M1187.8 486.8l-4.6-.8M1188.9 491.4l-6.1 1.8M1183.2 486l-2.5 6.1M1182.8 493.2l-2.1-1.1M1191.3 493.2l3.8-4.5M1191.3 493.2l-2.4-1.8M1191.5 482.2l-3.7 4.6M1189.9 498.9l1.5-5.5M1191.3 493.2l.1 .2M1184.2 498.3l-1.4-5.1M1196.2 502.4l1.8-2.4M1191.4 493.4l6.6 2.1M1198 500l0-4.5M1205.2 501l-.4-1M1198 500l6.8 0M1212.8 496.9l-7.4-.9M1204.8 500l.6-4M1209 445.5l-.4 4.6M1209 445.5l-7.1-.7M1208.6 450.1l-7.1-1.1M1201.5 449l.4-4.2M1181.7 451.4l1.3 4.1M1175.8 457.5l7.1-1.9M1183 455.5l-.1 .1M1184.9 446l1-.1M1190.5 451.2l-4.6-5.3M1190.5 451.2l-3.3 4.7M1183 455.5l4.2 .4M1207.7 463.3l.1-3.7M1207.7 463.3l-6.8 .3M1207.8 459.6l-7.2-1.2M1200.9 463.6l-.3-5.2M1208 463.8l7.1 .2M1208 463.8l-.3-.5M1207.9 459.4l-.1 .2M1207.6 468.1l.4-4.3M1199.9 465.3l1-1.7M1202.5 454.2l-2.2 3.7M1202.5 454.2l-1.5-4.5M1194.9 450.7l6.1-1M1194.9 450.7l1.5 6.5M1196.4 457.2l3.9 .7M1200.6 458.4l-.3-.5M1208.3 454.2l-5.8 0M1201.5 449l-.5 .7M1208.8 450.5l-.2-.4M1194.7 450.5l.2 .2M1190.5 451.2l4.2-.7M1187.2 455.9l2.9 3.7M1193.1 459.9l-3-.3M1193.1 459.9l3.3-2.7M1193.1 459.9l2 5M1276.8 492.1l4-4.4M1271.6 490l1.1-5.5M1274.3 483.9l-1.6 .6M1274.3 483.9l5.7 2.4M1280 486.3l.8 1.4M1283 496.6l-3.4 1.1M1284.7 492.4l-1.7 4.2M1284.7 492.4l-3.4-4.5M1281.3 487.9l-.5-.2M1194 531.4l-1 .7M1194 531.4l1.9-4.7M1190.9 522.3l3.8 .7M1195.9 526.7l-1.2-3.7M1197.6 518.4l-.7-2.9M1197.6 518.4l-2.5 4.4M1194.7 523l.4-.2M1203.6 519.2l.3-.3M1203.6 519.2l-.4 4.3M1203.9 518.9l7.2 1M1203.2 523.5l.2 .3M1203.4 523.8l7.1 .5M1204.3 514.6l-.4 4.3M1197.6 518.4l6 .8M1195.1 522.8l8.1 .7M1195.9 526.7l6.3 1.8M1202.2 528.5l.5-.5M1202.7 528l.7-4.2M1247 512.6l.7 1.1M1253.8 508.3l.1 4.2M1247.7 513.7l6.2-1.2M1241 518.5l6.6-1.7M1247.7 513.7l-.1 3.1M1249 521.9l-7.4 .9M1249 521.9l-.3-3.6M1248.7 518.3l-1.1-1.5M1321.2 380.6l-5.8 3.8M1317.2 388.6l-.2-.2M1315.4 384.4l1.6 4M1321.2 396l-6.1 3M1318.6 391.7l-5.8 4M1312.8 395.7l2.3 3.3M1316.6 402.7l-1.5-1.1M1315.1 401.6l0-2.6M1331.6 425.8l-1.4-2.8M1337.3 419.3l-7 2.3M1330.2 423l.1-1.4M1241.8 480.9l-.2-4.5M1234 477.1l7.4-1M1241.4 476.1l.2 .3M1304.9 453.7l5-4.5M1304.9 453.7l4.6 6M1309.9 449.2l3.5 7.4M1313.4 456.6l-3.7 3.1M1309.5 459.7l.2 0M1280.5 417.6l.9-5.8M1273.3 418.4l7.2-.8M1272.2 416l1.1 2.4M1272.2 416l.7-4.3M1275.3 410l-2.4 1.7M1275.3 410l5.5 1M1280.8 411l.6 .8M1265.7 416.5l-3.1-3.7M1272.2 416l-6.5 .5M1262.6 412.8l0-.8M1272.9 411.7l-5.1-2.9M1267.8 408.8l-5.2 3.2M1255.7 409.9l4.6 0M1255.7 409.9l-1.4 5.6M1254.3 415.5l4.5 1.2M1258.8 416.7l3.8-3.9M1262.6 412l-2.3-2.1M1301.9 365.4l-1.6-.9M1300.3 364.5l-1-1.7M1303.6 357.3l-4.3 5.5M1300.7 354.6l-5 4.8M1299.3 362.8l-2.5-1.4M1295.7 359.4l1.1 2M1303.3 368.3l-5.9 4.7M1297.4 373l-2.4-1.3M1300.3 364.5l-6 5.5M1295 371.7l-.7-1.7M1280.8 411l2.9-6.3M1275.3 410l.2-8.1M1275.5 401.9l2.2-.5M1277.7 401.4l6 3.3M1273.7 394.4l1.9-2.1M1274.9 401.6l-1.2-7.2M1275.5 401.9l-.6-.3M1277.7 401.4l3.9-5.8M1281.6 395.6l-.2-.4M1281.4 395.2l-5.8-2.9M1269.4 387.7l-1.6 3.7M1269.4 387.7l6 .9M1273.7 394.4l-4.2-.1M1269.5 394.3l-1.7-2.9M1275.4 388.6l.2 3.7M1274.2 381.8l1.4-6.5M1274.2 381.8l-5.1 .5M1275.6 375.3l-7.4 1.5M1268.2 376.8l.9 5.5M1161.3 525l-2.6-3.9M1161.3 525l4.1-1.5M1166 521.6l-.6 1.9M1166 521.6l-3.6-5.6M1162.4 516l-3.7 5.1M1159.7 528.9l1.6-3.9M1154.1 520.9l4.6 .2M1168.7 527.3l-3.3-3.8M1171.9 518.9l-5.9 2.7M1162.4 515.7l0 .3M1200.2 537.2l.5-.7M1194 531.4l6.8 1.8M1200.7 536.5l.1-3.3M1202.2 528.5l-.6 3.6M1200.8 533.2l.8-1.1M1209.6 529.5l-6.9-1.5M1201.6 532.1l7.1 1.8M1328.8 457l-5.5 .5M1328.8 457l1.4 3.3M1330.2 460.3l-1.2 4.6M1322.7 458.7l.6-1.2M1322.7 458.7l2.1 5.3M1324.8 464l4.2 .9M1336 455.1l-6.5 .5M1336.1 459.7l-5.9 .6M1329.5 455.6l-.7 1.4M1329.1 465.1l-.1-.2M1336.9 464.4l-7.8 .7M1334.1 439.6l-.3 1.6M1342 442.8l-7 1M1333.8 441.2l1.2 2.6M1329.5 469.3l1.4 4.8M1329.5 469.3l7.4 .1M1330.9 474.1l6.2-.7M1337.1 473.4l.4-2.4M1336.9 469.4l.6 1.6M1329.5 469.3l-.4-4.2M1329.5 469.3l0 0M1337.6 466.3l-.7 3.1M1345 474.9l-6.9 .7M1338.1 475.6l-1-2.2M1344.8 470.6l-7.3 .4M1329.3 478.1l.1 4M1329.3 478.1l.2-.2M1329.5 477.9l7.9 .6M1329.4 482.1l1.6 1.5M1331 483.6l6.2-.8M1337.2 482.8l.7-2.9M1337.9 479.9l-.5-1.4M1322.3 486.2l7.1-4.1M1322.3 486.2l-.8-6.7M1321.5 479.5l2.9-2.8M1324.4 476.7l4.9 1.4M1330.9 474.1l-1.4 3.8M1329.5 469.3l-6.9 2.8M1322.6 472.1l1.8 4.6M1338.1 475.6l-.7 2.9M1338.1 484.6l-.9-1.8M1337.5 488.5l-6-.9M1331.5 487.6l-.5-4M1345.2 480.3l-7.3-.4M1255.8 505l6.5 5.8M1265.6 503.7l-3.1 7.1M1262.3 510.8l.2 0M1253.9 512.5l2.2 2.7M1262.3 510.8l-6.2 4.4M1257.1 526.2l1.2 .7M1254.7 521.9l2.4 4.3M1254.7 521.9l1.7-4.7M1259.7 525.9l1.7-6.2M1261.4 519.7l-5-2.5M1248.7 518.3l7.3-2M1256.1 515.2l-.1 1.1M1249.1 522.2l-.1-.3M1249.1 522.2l5.6-.3M1256.4 517.2l-.4-.9M1283.3 509.1l4.9 .3M1283.3 509.1l-2-2.9M1281.3 506.2l0-.8M1281.3 505.4l7.4-4.1M1288.7 501.3l.3 0M1289 501.3l.7 6.5M1289.7 507.8l-1.5 1.6M1275.3 510.7l2.1 3.4M1277.4 514.1l4.8 .1M1275.3 510.7l6-4.5M1282.2 514.2l1.1-5.1M1275.3 510.7l-3.3-1.1M1271.4 506.4l.6 3.2M1278.6 502.2l2.7 3.2M1283 496.6l5.7 4.7M1284.7 492.4l5.9-.3M1292.2 495.7l-1.6-3.6M1289.5 501l-.5 .3M1289.5 501l2.7-5.3M1294.6 509.1l-4.9-1.3M1296.7 503.9l-2.1 5.2M1289.5 501l7.2 2.9M1249.7 531.3l-7.3 0M1249.7 531.3l-.1-4M1249.3 526.8l-7.2 .4M1249.3 526.8l.3 .5M1249.8 531.4l8.6-.4M1257.1 526.2l-7.5 1.1M1249.8 531.4l-.1-.1M1249.1 522.2l.2 4.6M1250.4 540.1l.1-3.8M1250.4 540.1l-7.4 .6M1242.8 536.1l7-.9M1250.5 536.3l-.7-1.1M1257.2 535.3l-6.7 1M1257.2 540.5l-6.6-.2M1250.6 540.3l-.2-.2M1258 539.6l-.8 .9M1200.7 536.5l7 1.7M1249.8 531.4l0 3.8M1252.3 568.1l-.1-4.2M1260.7 567.5l-.8-4.1M1252.2 563.9l7.7-.5M1197.6 550.1l-.9 1.3M1197.6 550.1l.4-3.6M1196.7 551.4l-6.9-2.1M1198 546.5l-6.5-1.7M1191.5 544.8l-2.1 3.6M1189.8 549.3l-.4-.9M1196.5 554.6l6.7 1.8M1196.5 554.6l.2-3.2M1204.4 551.9l-6.8-1.8M1196.5 554.6l-.8 .9M1195.7 555.5l-6.5-1.8M1189.2 553.7l.6-4.4M1190.9 540.8l.6 4M1198.5 545.9l-.5 .6M1198.5 545.9l.7-3.7M1311.1 469.9l-5.3-4M1311.1 469.9l-6.7 4.3M1305.8 465.9l-4.5 4.2M1301.3 470.1l2.1 4M1303.4 474.1l1 .1M1308.4 478.1l-.8 3.9M1307.6 482l3.6 2M1315.5 477.8l-1-1.9M1308.4 478.1l6.1-2.2M1315.5 477.8l-1 4.7M1314.5 482.5l-3.3 1.5M1292.6 473.5l1.3-3.1M1292.6 473.5l1.5 2.4M1293.9 470.4l3.8-1.9M1297.7 468.5l3.6 1.6M1303.4 474.1l-2.7 3.4M1294.1 475.9l6.6 1.6M1345 499l-7.2-1M1338 493.7l-.6 3.4M1337.8 498l-.4-.9M1321.5 479.5l-6-1.7M1322.3 486.2l-.1 .2M1314.5 482.5l4.8 4.5M1322.2 486.4l-2.9 .6M1314.3 514.2l-.7-1.2M1313.6 513l-5.8-1.1M1313.4 520.4l-6.2-1.4M1306.1 514.2l.6-1.4M1313.4 520.4l.9-6.2M1306.7 512.8l1.1-.9M1296.1 512.7l.1-.5M1296.2 512.2l4.9-2.6M1299.6 516.6l-3.5-3.9M1306.7 512.8l-5.6-3.2M1335.5 525.2l-7.3-1.2M1329.9 519.8l-2.2 3.2M1328.2 524l-.5-1M1334.7 529.8l-7.2-1.3M1328.2 524l-.7 4.5M1334.6 533.5l-8.5 .1M1326.1 533.6l.1-3.4M1327.5 528.5l-1.3 1.7M1307.3 532.6l-4.3-1.1M1307.3 532.6l2.8-3.3M1310.1 529.3l-.6-2.7M1309.5 526.6l-5.2-2.4M1303 531.5l-.7-4.7M1302.3 526.8l2-2.6M1295.9 533.5l-1.6-1.8M1294.3 531.7l.4-4M1294.7 527.7l1.2-1M1295.9 526.7l6.4 .1M1300.9 534.1l2.1-2.6M1300.9 534.1l-5-.6M1299.3 519.5l-3.1 1.6M1296.2 521.1l-.3 5.6M1304.3 523.5l0 .7M1323.3 560.1l6.8 1.7M1323.3 560.1l-1.5 2.6M1322.3 564.4l-.5-1.7M1322.3 564.4l6.6 2.1M1329.3 566.1l.9-4.1M1329.3 566.1l-.4 .4M1330.2 562l-.1-.2M1335.9 568.4l-6.6-2.3M1337.4 563.6l-7.2-1.6M1334.4 572.7l-6.7-2.4M1327.7 570.3l1.2-3.8M1330.1 561.8l1.3-4.5M1323.3 560.1l-.6-4.6M1322.7 555.5l8.7 1.8M1338.5 559.6l-6.9-2.5M1339.8 554l-7.4-.7M1332.4 553.3l-.8 3.8M1331.6 557.1l-.2 .2M1283.5 539.6l5.2 0M1283.5 539.6l-1.4-5.5M1288.7 539.6l1.4-6.3M1282.1 534.1l3.6-3.5M1285.7 530.6l4.4 2.7M1282.6 540.7l.9-1.1M1290.1 545.9l-.1-5.3M1290 540.6l-1.3-1M1278.4 532.7l3.7 1.4M1290 540.6l4.7-.7M1294.3 531.7l-4.2 1.6M1294.7 539.9l1.2-6.4M1285.7 528.4l-2.1-2.5M1285.7 528.4l0 2.2M1285.7 528.4l5.1-2.6M1290.8 525.8l3.9 1.9M1322.7 555.5l-.4-.7M1316 562.4l5.8 .3M1314.3 559.4l1.8-4.1M1322.3 554.8l-6.2 .5M1306.1 557.1l1 3M1310.2 552.5l4.4 .7M1310.2 552.5l-4.1 4.6M1316.1 555.3l-1.5-2.1M1302 554.1l4.1 3M1310.2 552.5l-2.4-5.3M1301.7 553l.3 1.1M1301.7 553l1.9-4.2M1307.8 547.2l-4.2 1.6M1301.7 553l-6.4-2.7M1295 548.1l3.6-4.7M1303.6 548.8l-5-5.4M1300.9 534.1l1.7 5.5M1294.7 539.9l3.9 2.7M1302.6 539.6l-4 3M1298.6 542.6l0 .8M1293.4 552.6l1.2 5.3M1287.8 556.7l3.4 2.5M1294.6 557.9l-3.4 1.3M1302 554.1l-5.1 4.8M1294.6 557.9l2.3 1M1284.7 563.1l5.4-.2M1291.2 559.2l-1.1 3.7M1191.3 571.9l-1.5 1.6M1191.3 571.9l.4-3M1189.8 573.5l-6.4-2.9M1191.7 568.9l-5.6-1.6M1186.1 567.3l-2.7 3.3M1197.6 574.6l-6.3-2.7M1196.1 578.5l-6.7-2.5M1189.4 576l.4-2.5M1199.2 569.9l-6.7-2.1M1192.5 567.8l-.8 1.1M1182.5 570.9l.9-.3M1182.5 570.9l.5 4.7M1189.4 576l-1.2 1.5M1183 575.6l5.2 1.9M1194.2 582.9l-6.2-3.1M1188 579.8l.2-2.3M1166.3 557.3l3.6 1.1M1164.8 554.1l1.5 3.2M1168.5 549.4l4.9 2.3M1173.4 551.7l-3.5 6.7M1161.9 562.2l4.4-4.9M1161.9 562.2l-1.8 0M1161.5 553.2l-4.3 3.7M1160.1 562.2l-2.9-5.3M1145.1 562.8l5.8-1.7M1151.2 556.3l.8 .4M1150.9 561.1l1.1-4.4M1155.3 547.6l-1 8.4M1157.2 556.9l-2.9-.9M1154.3 556l-2.3 .7M1257.6 582.7l2.8 3.5M1266.5 581.8l-5.3 4.7M1266.5 581.8l-1.3-3M1261.2 586.5l-.8-.3M1260.4 586.2l-5.3 5.1M1269.8 583.8l-4.8 6.4M1269.8 583.8l.2 0M1270 583.8l2.7 3.8M1272.7 587.6l-4.8 5.1M1265 590.2l1.7 2.1M1267.9 592.7l-1.2-.4M1261.2 586.5l2.3 3.1M1263.5 589.6l1.5 .6M1266.5 581.8l3.3 2M1275 579.1l-5 4.7M1266.7 592.3l-4.7 5.3M1270 595.5l-4.4 5.2M1270 595.5l-2.1-2.8M1263.5 589.6l-5 5M1283.4 598.4l.6 0M1286 605.8l-2-7.4M1283.4 598.4l-2.9 1M1280.5 599.4l-.3 7.2M1286.7 569.9l-.2 .8M1286.7 569.9l-3.1-5.2M1278.6 571.7l3.4 1.3M1286.5 570.7l-4.5 2.3M1305.5 582.3l-6.1 3.7M1299.7 576.7l-2.5 1.6M1303.9 577.4l-4.2-.7M1297.2 578.3l2.2 7.7M1300 587.5l-.6-1.5M1299.4 586l0 0M1280.6 591.2l3.4-1.3M1280.6 591.2l-2.5-.3M1284 589.9l1.2-2.5M1285.2 587.4l-4.7-5.6M1280 581.8l-3.6 7.3M1280 581.8l.5 0M1278.1 590.9l-1.2-.9M1276.4 589.1l.5 .9M1287.8 594.4l-2.2 3.3M1287.8 594.4l-3.8-4.5M1285.6 597.7l-1.6 .7M1283.4 598.4l-2.8-7.2M1280.5 599.4l-2.9-.8M1277.6 598.6l.5-7.7M1275.4 579.1l4.6 2.7M1272.7 587.6l3.7 1.5M1283.5 579.3l-1.5-6.3M1283.5 579.3l-3 2.5M1273.2 597.9l3.6 1M1271.6 596l1.6 1.9M1277.6 598.6l-.8 .3M1271.6 596l5.3-6M1270 595.5l1.6 .5M1314.6 566.6l2.8 4.3M1322.3 564.4l-1.1 4.1M1317.4 570.9l3.8-2.4M1308.9 566.7l-1.9 3.8M1307.1 570.6l-.1-.1M1311.5 573.7l5.6-1.5M1317.4 570.9l-.3 1.3M1327.7 570.3l-.9 .8M1321.2 568.5l5.6 2.6M1313.7 581l1.1-.4M1317.1 572.2l0 .1M1317.1 572.3l.5 4.3M1314.8 580.6l2.8-4M1292 601.9l.1 0M1292 601.9l.5-1.1M1292.5 600.8l.4-.2M1293 600.5l5.7-3.6M1294.5 604.8l6.4-5M1300.9 599.8l-2.2-2.9M1285.6 597.7l6.4 4.2M1301.2 600l-.3-.2M1298.5 596l.2 .9M1237.7 421.4l0-.1M1237.7 421.3l8.2 .9M1237.5 425.8l6.9 .5M1244.4 426.3l1.9-2.7M1237.5 425.8l.2-4.4M1246.3 423.6l-.4-1.4M1244.4 426.3l-.1 4.7M1237.1 426.2l.4-.4M1237.1 426.2l.1 4.1M1244.3 431l-7.1-.7M1241 352.1l-4.2-.9M1241 352.1l2.2-5.5M1236.8 351.2l-1.4-5.1M1240.1 344.8l-4.4 1M1240.1 344.8l3.1 1.8M1235.7 345.8l-.3 .3M1231.9 346.1l3.5 0M1228.9 348.2l3.9 6.9M1232.8 355.1l4-3.9M1235.4 338.8l.3 7M1240.4 338.8l-.3 6M1244.8 346.2l.2-7.6M1244.8 346.2l-1.6 .4M1169.4 376.9l5.7 4.1M1178.2 377.5l-.3 1.1M1175.1 381l2.8-2.4M1181.3 362.4l5.6 4.3M1183.9 370.2l2.7-2.5M1186.9 366.7l-.3 1M1202.5 343.2l3.8 5.8M1210.9 346.3l-2.8 2.5M1206.3 349l1.8-.2M1211.6 354.7l-3.5-5.9M1211.6 354.7l1.2 .2M1211.5 346.2l4.4 6.2M1212.8 354.9l3.1-2.5M1219 350l-1.7 2.2M1215.9 352.4l1.4-.2M1231.1 454.6l6.9-1.6M1230.5 449.4l7.2-.4M1237.7 449l.3 .4M1238 453l0-3.6M1183.9 480.2l-2.2-2.9M1183.9 480.2l-1.8 4.2M1181.7 477.3l-5.2 1.2M1176.5 478.5l1.6 5.4M1182.1 484.4l-4-.5M1183.8 471.8l5.2 3.7M1183.8 471.8l-2.1 5.5M1189.3 480l-5.4 .2M1183.2 486l-1.1-1.6M1177.6 492.8l-5.2-.4M1177.6 492.8l.5-.5M1178.1 492.3l-1.9-6.3M1172.4 492.4l-2.3-4.2M1176.2 486l-4-.3M1170.1 488.2l2.1-2.5M1169.6 496l2.8-3.6M1176.5 500l1.1-7.2M1180.7 492.1l-2.6 .2M1178.1 483.9l-1.9 2.1M1166.6 488.2l3.5 0M1170.8 480.7l1.4 5M1175.4 477.8l1.1 .7M1148.1 484.8l-6-.9M1148.1 484.8l1.6 3.4M1149.7 488.2l-.9 .9M1148.8 489.1l-7.5-.5M1141.3 488.6l.8-4.7M1151.8 488.3l-2.1-.1M1149.3 480.4l.1-.1M1149.3 480.4l-1.2 4.4M1147.5 493.8l1.3-4.7M1141.2 488.8l.1-.2M1143.4 474.8l.8-4.4M1143.4 474.8l-.2 .3M1143.2 475.1l-7-1.3M1144.2 470.4l-7.1-1.6M1144.5 470.1l-.3 .3M1150.2 475.6l-6.8-.8M1143.1 478.9l.1-3.8M1149.3 480.4l-6.2-1.5M1142 483.8l.8-4.5M1142 483.8l-7.3-1M1135.4 478.8l7.4 .5M1143.1 478.9l-.3 .4M1142.1 483.9l-.1-.1M1185.9 445.9l3.6-3.9M1194.7 450.5l-.4-6.1M1189.5 442l4.8 2.4M1201.9 444.8l-1.9-3.8M1194.3 444.4l5.7-3.4M1171.3 429.7l5.3-2.7M1174.5 436.1l6-3.7M1180.5 432.4l-3.9-5.4M1168.1 422.5l4.6-1.3M1172.7 421.2l4.4 2.2M1176.6 427l.5-3.6M1199.5 490.7l-.8 4.2M1199.5 490.7l6.5 .5M1198.7 494.9l6.6 .8M1206 491.2l-.7 4.5M1198.6 489l.9 1.7M1198 495.5l.7-.6M1206 491.2l0 0M1205.4 496l-.1-.3M1181.8 463.6l0-.1M1181.8 463.6l-.8 6M1181.8 463.5l5.8-.1M1181 469.6l2.7 2M1183.7 471.6l5.3-3.8M1189 467.8l-1.4-4.4M1176.7 462l5.1 1.6M1182.9 455.6l-1.1 7.9M1175.5 470.4l5.5-.8M1190.1 459.6l-2.5 3.8M1183.8 471.8l-.1-.2M1192.6 468.7l-3.6-.9M1319.1 377l-6.4 3.2M1315.4 384.4l-1.2-.7M1312.7 380.2l1.5 3.5M1281.6 395.6l3.6 1.5M1283.7 404.7l3-.9M1285.2 397.1l1.5 6.7M1322.5 420.4l6.2-2M1322.5 420.4l-2.9-2.6M1320.1 416.3l-.5 1.5M1320.1 416.3l7.4-2.1M1327.5 414.2l1.4 3.3M1328.9 417.5l-.2 .9M1330.3 421.6l-1.6-3.2M1323.4 424.9l-.9-4.5M1323.4 424.9l6.8-1.9M1327.7 412.7l-.2 1.5M1319.7 411.8l.4 4.5M1336 415l-7.1 2.5M1207.6 468.2l7.2 .7M1237.8 418l-.1 3.3M1237.8 418l.8-1.1M1245.9 422.2l1-4.5M1246.9 417.7l-8.3-.8M1247 413l-7.6-1.2M1247 413l1 3.3M1248 416.3l-1.1 1.4M1238.6 416.9l0-3.9M1238.6 413l.8-1.2M1246.3 423.6l5.6 2.6M1252.1 416.8l-4.1-.5M1252.1 416.8l2.9 6.7M1255 423.5l-3.1 2.7M1244.3 431l1.4 2.1M1251.9 430.9l-6.2 2.2M1251.9 430.9l.2-.3M1252.1 430.6l-.2-4.4M1254.3 415.5l-2.2 1.3M1254.1 408.2l-5-.3M1254.1 408.2l1.6 1.7M1247 413l.8-3.4M1247.8 409.6l1.3-1.7M1260.8 399.2l2.2-2.3M1260.8 399.2l.2 3.8M1263 396.9l4.5 1M1261 403l.4 .4M1261.4 403.4l5.8 .9M1267.5 397.9l1.8 3.9M1269.3 401.8l-2.1 2.5M1262.2 391.9l.8 5M1267.8 391.4l-5.6 .5M1269.5 394.3l-2 3.6M1254.1 408.2l1.6-4.3M1255.7 403.9l5.3-.9M1260.3 409.9l1.1-6.5M1267.8 408.8l-.6-4.5M1274.9 401.6l-5.6 .2M1292.9 348.5l-3.7 5.8M1284.9 351.8l.2 .4M1289.2 354.3l-4.1-2.1M1277.5 356.7l3.6-6.9M1277.5 356.7l4.5 .8M1285.1 352.2l-3.1 5.3M1296.8 361.4l-4.3 4.9M1294.3 370l-1.6-1.5M1292.5 366.3l.2 2.2M1285.4 388.8l-1.9 .9M1285.4 388.8l1.5-4.7M1283.5 389.7l-6.3-3.2M1286.9 384.1l-3.7-3.9M1283.2 380.2l-5.9 5.2M1277.3 385.4l-.1 1.1M1281.4 395.2l2.1-5.5M1275.4 388.6l1.8-2.1M1283.1 379.7l-7.4-4.5M1275.6 375.3l.1-.1M1283.1 379.7l.1 .5M1274.2 381.8l3.1 3.6M1269.4 387.7l-1.8-3.2M1267.6 384.5l1.5-2.2M1232.8 355.1l0 0M1234.4 358.8l-1.6-3.7M1234.4 358.8l5.7-1.2M1241 352.1l.9 1.5M1240.1 357.6l1.8-4M1310.5 448.6l-.6 .5M1309.9 449.1l0 .1M1314.2 456.6l-.8 0M1314.2 456.6l4.4-3.9M1310.5 448.6l6.9 .8M1317.4 449.4l1.2 3.3M1323.3 457.5l-1.7-3.8M1314.2 456.6l4 3.9M1318.2 460.5l4.5-1.8M1318.6 452.7l3 1M1320.3 467.3l1 4M1320.3 467.3l-3.2-1.9M1321.3 471.3l-6.7 4M1317.1 465.4l-2.9 .6M1314.2 466l-3 3.9M1311.2 469.9l3.4 5.4M1324.8 464l-4.5 3.3M1322.6 472.1l-1.3-.8M1318.2 460.5l-1.1 4.9M1314.5 475.9l.1-.6M1309.7 459.7l4.5 6.3M1305.5 462.5l.3 3.4M1305.5 462.5l4-2.8M1311.1 469.9l.1 0M1308.4 478.1l-4-3.9M1332.8 436.9l-6.3 .9M1332.4 431.8l-6.1 1.4M1326.3 433.2l.2 4.6M1326.3 443l7.5-1.8M1326.3 443l-1.3-3.2M1326.5 437.8l-1.5 2M1317.2 442.5l5.7-3.2M1317.2 442.5l1.7 3.7M1326 446.5l-7.1-.3M1326.3 443l-.3 3.5M1325 439.8l-2.1-.5M1289.8 521.7l3.4-2.2M1289.8 521.7l-5-2.3M1284.8 519.4l.1-2.1M1284.9 517.3l4.1-2.9M1289 514.4l3.8 .7M1293.2 519.5l-.4-4.4M1296.2 521.1l-3-1.6M1290.8 525.8l-1-4.1M1284.5 519.8l.3-.4M1277.4 514.1l-1.8 4.5M1277.6 520.7l-2-2.1M1282.2 514.2l2.7 3.1M1288.2 509.4l.8 5M1294.6 509.1l1.6 3.1M1296.1 512.7l-3.3 2.4M1268.5 513.1l-3.2 0M1268.5 513.1l2.9 6M1265.3 513.1l-2.4 6M1262.9 519.1l4.1 2.7M1267 521.8l3.3-1M1270.3 520.8l1.1-1.7M1272 509.6l-3.5 3.5M1262.5 510.8l2.8 2.3M1275.6 518.6l-4.2 .5M1261.4 519.7l1.5-.6M1265.5 526.2l1.5-4.4M1272.7 526.4l-2.4-5.6M1260.3 562.1l-1.1-3.4M1260.3 562.1l6.8-1.2M1266.4 555.7l1.9 3.4M1266.4 555.7l-6.4-.2M1260 555.5l-.8 3.2M1267.1 560.9l1.2-1.8M1259.9 563.4l.4-1.3M1267.9 565.6l-.8-4.7M1267.4 553l-1 2.7M1274.2 559l-5.9 .1M1252 559.1l-.2 4.2M1252 559.1l-.5-.8M1251.5 558.3l-7.4 1.2M1251.8 563.3l-7.4 .4M1252.2 563.9l-.4-.6M1259.2 558.7l-7.2 .4M1202 560.8l-7-1.9M1195 558.9l.7-3.4M1143.9 588.8l6.8-2.3M1144.9 592.8l6.8-1M1151.7 591.8l.4-2.6M1150.7 586.5l1.4 2.7M1153 595.7l.1-1.4M1153.1 594.3l-1.4-2.5M1150.9 585.2l-.2 1.3M1150.9 585.2l-1.3-2.5M1142.7 584.1l6.9-1.4M1195 558.9l-.6 .7M1200.7 565.4l-6.8-2.2M1194.4 559.6l-.5 3.6M1192.5 567.8l.4-3.5M1192.9 564.3l1-1.1M1305.5 462.5l-2.8-.9M1297.7 468.5l.4-4.1M1302.7 461.6l-4.6 2.8M1281.3 487.9l6.4-2.9M1290.6 492.1l.8-2.3M1291.4 489.8l-3.7-4.8M1289.1 474.3l-3 5.2M1286.1 479.5l2.1 3M1292.6 473.5l-3.5 .8M1294.1 475.9l-.7 5.5M1293.4 481.4l-5.2 1.1M1282.1 479.3l4 .2M1280 486.3l2.1-7M1287.7 485l.5-2.5M1307.6 482l-4.8 2M1300.7 477.5l.6 5M1302.8 484l-1.5-1.5M1293.4 481.4l1.8 1.8M1301.3 482.5l-6.1 .7M1291.4 489.8l2.8-1.6M1294.2 488.2l1-5M1344.9 503l-7 .6M1337.8 498l-.8 3.7M1337.9 503.6l-.9-1.9M1337.6 507.3l-.3-.9M1337.9 503.6l-.6 2.8M1337.5 492.6l-9 0M1337.4 497.1l-7.9-.1M1329.5 497l-1-4.4M1331.5 487.6l-3.2 4.7M1322.2 486.4l3.8 5.1M1326 491.5l2.3 .8M1328.3 492.3l.2 .3M1314.3 514.2l6.6 1.1M1313.6 513l3.3-6M1320.9 515.3l.7-4.6M1316.9 507l1.8 .4M1318.7 507.4l2.9 3.3M1321.9 517l6.9-2.6M1321.9 517l-1-1.7M1328.9 509.9l-.5-1M1321.6 510.7l6.8-1.8M1296.7 503.9l1.6-.7M1301.1 509.6l0-4.8M1298.3 503.2l2.8 1.6M1318.2 540.4l.2-6.4M1318.2 540.4l6.4 1.3M1318.4 534l7.4 .2M1324.6 541.7l1.7-4M1325.8 534.2l.5 3.5M1333.8 538.8l-7.5-1.1M1333.8 543.3l-8.8-.6M1325 542.7l-.4-1M1326.1 533.6l-.3 .6M1320.3 527.2l2.2-6.2M1320.3 527.2l-2.6 1.2M1317.7 528.4l-3.8-5.2M1321.7 519.9l.8 1.1M1321.7 519.9l-7.6 1.6M1314.1 521.5l-.2 1.7M1327.7 523l-5.2-2M1326.2 530.2l-5.9-3M1316.3 531.8l1.4-3.4M1316.3 531.8l2.1 2.2M1309.5 526.6l4.4-3.4M1315.8 532l.5-.2M1315.8 532l-5.7-2.7M1321.9 517l-.2 2.9M1313.4 520.4l.7 1.1M1324.8 546.9l8.6 .8M1324.8 546.9l-1 1.9M1323.8 548.8l.1 1.9M1323.9 550.7l8.4 2.4M1332.3 553.1l1.2-5.1M1333.5 548l-.1-.3M1334 544l-.6 3.7M1325 542.7l-.2 4.2M1315.8 546.8l-1.2 6.4M1315.8 546.8l8 2M1322.3 554.8l1.6-4.1M1332.4 553.3l-.1-.2M1340.5 549.7l-7-1.7M1308.9 545.3l-4-5.4M1308.9 545.3l5.1-1.3M1314 544l.7-1.5M1314.7 542.5l-3.2-5.8M1304.9 539.9l3.9-3.7M1308.8 536.2l2.7 .5M1307.8 547.2l1.1-1.9M1302.6 539.6l2.3 .3M1315.8 546.8l-1.8-2.8M1318.2 540.4l-3.5 2.1M1315.8 532l-4.3 4.7M1307.3 532.6l1.5 3.6M1300.3 563.9l-2.1-1.1M1300.3 563.9l.8 4.9M1298.2 562.8l-5.7 3.6M1301.1 568.8l-1.9 1.9M1299.2 570.7l-4.7-.6M1294.5 570.1l-2.1-3.5M1292.4 566.6l.1-.2M1306.8 560.9l-6.5 3M1296.9 558.9l1.3 3.9M1307 570.5l-5.9-1.7M1290.1 562.9l2.4 3.5M1299.7 576.7l-.5-6M1286.7 569.9l5.7-3.3M1174.1 551.6l2.1 1.2M1174.1 551.6l2.1-5.6M1176.2 552.8l6-1.7M1176.2 546l6-.8M1182.2 551.1l1.2-3.6M1182.2 545.2l1.2 2.3M1174.1 543.5l2.1 2.5M1173.4 551.7l.7-.1M1182.9 541.8l-.7 3.4M1189.4 548.4l-6-.9M1147.6 571.7l-1.8-3.2M1147.6 571.7l5.7-1.6M1153.3 570.1l.5-4.4M1146 567.6l7.4-2.1M1146 567.6l-.2 .9M1153.4 565.5l.4 .2M1140.2 575.3l7.2-1.7M1139.1 571.3l6.7-2.8M1147.4 573.6l.2-1.9M1150.9 561.1l2.5 4.4M1144.8 564.8l1.2 2.8M1160.1 562.2l-2.2 2.7M1157.9 564.9l-4.1 .8M1273.2 597.9l-3 6.3M1287 579.2l2.1-5.1M1287 579.2l3.5 2.9M1290.5 582.1l5.2-4M1295.7 578.1l-3-4.1M1292.7 574l-3.6 .1M1283.5 579.3l3.5-.1M1286.5 570.7l2.6 3.4M1294.5 570.1l-1.8 3.9M1297.2 578.3l-1.5-.2M1294.6 586.8l-4-2.4M1294.6 586.8l-1.1 6.3M1293.5 593.1l-1.9 .6M1288.7 586.4l1.9-2M1288.7 586.4l2.1 7.2M1290.8 593.6l.8 .1M1290.5 582.1l.1 2.3M1299.4 586l-4.8 .8M1296.8 594.2l-3.3-1.1M1292.5 600.8l-.9-7.1M1285.2 587.4l3.5-1M1287.8 594.4l3-.8M1320.1 586.1l.4-2.2M1320.1 586.1l6 3.9M1328.6 585.7l-6.3-3.4M1320.5 583.9l1.8-1.6M1317.9 588.1l2.2-2M1314.8 580.6l5.7 3.3M1317.6 576.6l5.3 3.1M1322.9 579.7l-.6 2.6M1330.8 581.2l-6.5-2.7M1332.5 577.4l-6.3-3.5M1324.3 578.5l.7-3.4M1326.2 573.9l-1.2 1.2M1322.9 579.7l1.4-1.2M1326.8 571.1l-.6 2.8M1317.1 572.3l7.9 2.8M1166.4 381.2l6.5 3.4M1175.1 381l-.2 1.2M1172.9 384.6l2-2.4M1184.6 358.7l5.4 5M1186.9 366.7l3.1-3M1190 363.7l0 0M1171.8 402l1.2-.5M1173 401.5l3 1.3M1176 402.8l-.4 6.4M1169 405.6l.5 2.9M1175.6 409.2l-6.1-.7M1172.7 421.2l1.2-5.9M1167 414.4l.8-.8M1173.9 415.3l-6.1-1.7M1161.9 407.9l6.1 2.5M1167.8 413.6l.2-3.2M1168 410.4l1.5-1.9M1212.8 354.9l1.9 5.7M1217.3 352.2l3.2 4.1M1214.7 360.6l3.6 .2M1218.3 360.8l2.2-4.5M1225.1 349.3l0 6.9M1220.5 356.3l4.6-.1M1232.8 355.1l-7.6 1.2M1225.2 356.3l-.1-.1M1237.7 421.4l-7.6 .1M1237.1 426.2l-7.3-.7M1245.7 433.1l-.5 1.8M1237.2 430.4l0-.1M1237 435.4l.2-5M1237 435.4l.4 .5M1245.2 434.9l-7.8 1M1216.9 441.7l-7.2-1.2M1209.2 445.2l7.2 .7M1209.2 445.2l.1-4.3M1209.3 440.9l.4-.4M1209 445.5l.2-.3M1207.3 416.7l-1.7 4.5M1207.3 416.7l5.8 2M1205.6 421.2l6.4 1.9M1213.1 418.7l-.2 3.2M1212 423.1l.9-1.2M1211.5 426.9l-7.3-.2M1203.1 423l1.1 3.7M1203.1 423l2.5-1.8M1211.5 426.9l.5-3.8M1189.1 438.9l1.8-3.4M1189.1 438.9l-6-1.1M1190.9 435.5l-5.9-5.5M1183.1 437.8l-2.3-5.4M1180.8 432.4l4.2-2.4M1180.4 441.8l2.7-4M1189.5 442l-.4-3.1M1180.5 432.4l.3 0M1177.1 423.4l1.6-.8M1185.8 425.3l-7.1-2.7M1185.8 425.3l.4 .9M1186.2 426.2l-1.2 3.8M1194.4 426.7l-8.2-.5M1194.4 426.7l1.4 4M1190.9 435.5l3.1-1.2M1195.8 430.7l-1.8 3.6M1200 441l.2-.4M1194 434.3l6.2 6.3M1209.3 440.9l-8-1.2M1201.3 439.7l-1.1 .9M1187.8 418.3l6.2 1.2M1187.8 418.3l-2 7M1194.4 426.7l.8-1.8M1194 419.5l1.2 5.4M1274.3 483.9l1.9-6.7M1282.1 479.3l-2-2.1M1276.2 477.2l3.9 0M1289.1 474.3l-6.1-4.1M1280.1 477.2l2.9-7M1288.6 464.1l-5.6 4.3M1283 468.4l-.3 .9M1293.9 470.4l-5.3-6.3M1282.7 469.3l.3 .9M1316.4 372.6l-5.9 4.1M1312.7 380.2l-.9-.7M1310.5 376.7l1.3 2.8M1311 416l-4.6-5.1M1311 416l4.2-6.1M1306.4 410.9l4-4.5M1315.2 409.9l-4.8-3.5M1317.7 409.4l-2.5 .5M1315.1 401.6l-4.8 2.3M1310.3 403.9l.1 2.5M1317 388.4l-6.3 2.2M1314.2 383.7l-6.1 3.8M1308.1 387.5l2.6 3.1M1312.8 395.7l-2.1-.8M1310.7 390.6l0 4.3M1294.9 389.6l1.4 7.5M1294.9 389.6l-5.5 2.6M1289.4 392.2l-.5 2.8M1288.9 395l3.6 3.2M1292.5 398.2l3.8-1.1M1285.2 397.1l3.7-2.1M1285.4 388.8l4 3.4M1290.5 402.9l-3.1 1.2M1286.7 403.8l.7 .3M1290.5 402.9l2-4.7M1311 416.1l-2.4 4.2M1311 416.1l7.5 2.1M1308.6 420.3l6.8 4.8M1318.5 418.2l-3.1 6.9M1301.7 420l-.7-5.7M1303.3 410.8l-2.3 3.5M1303.3 410.8l3.1 .1M1306.7 421.3l1.9-1M1306.7 421.3l-5-1.3M1311 416l0 .1M1319.6 417.8l-1.1 .4M1301.7 420l-1 .7M1300.7 420.7l-1.4 5.7M1299.3 426.4l5.4 4.4M1306.7 421.3l.3 8.2M1307 429.5l-2.3 1.3M1287.6 413.2l1.7-3M1287.6 413.2l.8 2.3M1288.4 415.5l3.8 2.6M1289.3 410.2l5-.3M1292.2 418.1l3.6-4.7M1295.8 413.4l-1.5-3.5M1281.4 411.8l6.2 1.4M1287.4 404.1l1.9 6.1M1280.5 417.6l2.6 2.8M1283.1 420.4l5.3-4.9M1300.7 420.7l-7.9-.8M1301 414.3l-5.2-.9M1292.8 419.9l-.6-1.8M1258.2 478.8l-1.2 4.3M1258.2 478.8l-3.2-3M1255 475.8l-4.9 2.8M1257 483.1l-5.8-.1M1251.2 483l-1.2-2.8M1250 480.2l.1-1.6M1258.7 489.1l.3-3.9M1259 485.2l-2-2.1M1250.5 484.9l.7-1.9M1242.4 481.9l7.6-1.7M1241.6 476.4l6.9 .1M1248.5 476.5l1.6 2.1M1258.2 478.8l4.4-1.2M1259 485.2l5-2M1262.6 477.6l1.4 5.6M1265.9 489.4l-.1-5.4M1272.7 484.5l-3.6-1.7M1269.1 482.8l-3.3 1.2M1265.8 484l-1.8-.8M1254 438.1l-3.4 1.4M1254 438.1l1.9 .6M1255.9 438.7l1.4 6.4M1250.6 439.5l-1.8 4.9M1257.3 445.1l-7 .8M1248.8 444.4l1.5 1.5M1251.9 430.9l2.1 7.2M1245.4 435.5l-.2-.6M1245.4 435.5l5.2 4M1258.9 431.3l-6.8-.7M1258.9 436.8l-3 1.9M1258.9 436.8l0-5.5M1292.5 420.6l.3-.7M1292.5 420.6l-7.4 4.2M1283.1 420.4l.2 2.2M1283.3 422.6l1.8 2.2M1303.6 441.4l-7.2-1.9M1303.6 441.4l1.7-1.8M1305.3 439.6l-1.8-6.6M1303.5 433l-4.9 .9M1296.4 439.5l2.2-5.6M1239.4 408.6l-6.8-1.8M1239.4 408.6l1.3-1.8M1240.7 406.8l.1-2M1240.8 404.8l-6.6-2.6M1239.4 411.8l0-3.2M1247.8 409.6l-7.1-2.8M1248.4 404.9l.7 3M1248.4 404.9l-5.9-2.4M1242.5 402.5l-1.7 2.3M1289.6 362.8l-4.6-.5M1289.6 362.8l3.7-4.6M1289.6 355.2l-4.8 5.9M1289.6 355.2l3 1.8M1284.8 361.1l.2 1.2M1292.6 357l.7 1.2M1292.5 366.3l-2.9-3.5M1295.7 359.4l-2.4-1.2M1282 357.5l2.8 3.6M1289.2 354.3l.4 .9M1296.8 351.4l-4.2 5.6M1284.9 362.5l1.4 7.4M1284.9 362.5l-6.6 2.8M1278.3 365.3l-.5 4.5M1277.8 369.8l7.3 1.7M1286.3 369.9l-1.2 1.6M1285 362.3l-.1 .2M1292.7 368.5l-6.4 1.4M1283.1 379.7l2.8-4.3M1285.9 375.4l-.8-3.9M1275.7 375.2l.4-3.9M1276.1 371.3l1.7-1.5M1295 371.7l-4.4 4.4M1290.6 376.1l-4.7-.7M1254.5 339.6l-1.1 7.9M1249.8 339l-.6 8.2M1253.4 347.5l-4.2-.3M1259.2 340.4l-1.9 6.8M1257.3 347.2l-3.6 .4M1253.4 347.5l.3 .1M1244.8 346.2l4.3 1.1M1249.1 347.3l.1-.1M1241.9 353.6l5.5 .9M1249.1 347.3l-1.7 7.2M1276.1 371.3l-4.7-1.9M1267.1 376.1l1.1 .7M1267.1 376.1l.4-4.9M1267.5 371.2l3.9-1.8M1263.7 341.9l-2.2 6.2M1257.3 347.2l3.2 1.4M1261.5 348.1l-1 .5M1268.4 343.8l-2.1 5.2M1261.5 348.1l4.8 .9M1274.9 361.1l-4.6 1.3M1274.9 361.1l1.5-4.1M1270.3 362.4l-3.8-6.7M1276.4 357l-2.6-3M1273.8 354l-4.4-1.1M1266.5 355.7l2.2-2.7M1269.4 352.9l-.7 .1M1269.6 363.4l1.8 6M1278.3 365.3l-3.4-4.2M1269.6 363.4l.7-1M1277.5 356.7l-1.1 .3M1277.1 347.7l-3.3 6.3M1272.9 345.6l-3.5 7.3M1266.3 349l2.4 4M1266.5 355.7l-4.5 1M1260.5 348.6l-.1 7.3M1262 356.7l-1.6-.8M1253.7 347.6l.9 6.3M1254.6 353.9l4.2 2.2M1258.8 356.1l1.6-.2M1250.6 363.3l2.4-1.4M1250.6 363.3l-5.3-.5M1253 361.9l-3.1-5.8M1245.3 362.8l-.9-.7M1244.4 362.1l3.7-6.5M1249.9 356.1l-1.8-.5M1254.6 353.9l-4.7 2.2M1254.2 362.1l4.6-6M1254.2 362.1l-1.2-.2M1247.4 354.5l.7 1.1M1243.8 362.1l.6 0M1240.1 357.6l3.7 4.5M1243.8 362.1l-4.2 3.2M1234.4 358.8l-.5 2.1M1239.6 365.3l-5.7-4.4M1226 362l-.8-5.7M1226 362l5.7 .8M1233.9 360.9l-2.2 1.9M1326.6 448.7l-.2-1.4M1326.6 448.7l2.2 2.5M1326.4 447.3l8.2-1.6M1328.8 451.2l6.6-.9M1334.6 445.7l1.2 2.7M1335.4 450.3l.4-1.9M1326 446.5l.4 .8M1321.6 453.7l5-5M1318.9 446.2l-1.5 3.2M1329.5 455.6l-.7-4.4M1335 443.8l-.4 1.9M1336.5 452.8l-1.1-2.5M1342.6 447.1l-6.8 1.3M1257.2 540.5l-.3 4.3M1262.3 547.6l-2.2 .9M1256.9 544.8l3.2 3.7M1251.4 554.3l-.1-.1M1251.4 554.3l7.9-.3M1251.3 554.2l0-4.2M1251.3 550l8.4-.9M1259.3 554l.4-4.9M1251.5 558.3l-.1-4M1243.9 554.4l7.4-.2M1260 555.5l-.7-1.5M1260.1 548.5l-.4 .6M1153.3 570.1l2.5 3.9M1147.4 573.6l1.2 2.3M1155.8 574l-7.2 1.9M1149.6 582.7l.2-2.6M1141.5 580l7-2M1149.8 580.1l-1.3-2.1M1148.6 575.9l-.1 2.1M1183 575.6l-3.1 3.3M1188 579.8l-1.8 2.2M1179.9 578.9l6.3 3.1M1191.8 587.5l-5.9-3.7M1185.9 583.8l.3-1.8M1150.9 585.2l6.2-2.1M1149.8 580.1l5.7-1M1157.1 583.1l-1.6-4M1186.1 567.3l-.5-4.8M1192.9 564.3l-6.9-2M1185.6 562.5l.4-.2M1194.4 559.6l-6.1-1.7M1186 562.3l2.3-4.4M1182.2 551.1l1.7 3.4M1189.2 553.7l-1.5 1.6M1183.9 554.5l3.8 .8M1187.7 555.3l.6 2.6M1279.3 462.2l2.5-3.6M1283 468.4l-3.7-6.2M1288.6 464.1l.3-1.6M1288.9 462.5l-7.1-3.9M1303.5 444.7l-3.7 3.8M1309.9 449.1l-6.4-4.4M1304.9 453.7l-1.5 0M1303.4 453.7l-3.6-5.2M1302.7 461.6l-1.9-4.7M1303.4 453.7l-2.6 3.2M1303.6 441.4l-.1 3.3M1296.4 439.5l0 0M1294.6 442.9l1.8-3.4M1294.6 442.9l3 5.7M1297.6 448.6l2.2-.1M1330.7 501.8l-.7 4.5M1330.7 501.8l-1.7-3M1329 498.8l-5.6 2.1M1330 506.3l-1.5 2M1328.5 508.3l-5.2-4.7M1323.4 500.9l-.1 2.7M1337 501.7l-6.3 .1M1337.3 506.4l-7.3-.1M1329.5 497l-.5 1.8M1326 491.5l-4.9 4.2M1321.3 499.2l-.2-3.5M1321.3 499.2l2.1 1.7M1328.4 508.9l.1-.6M1318.7 507.4l4.6-3.8M1178.7 565.7l-.9-.5M1178.7 565.7l5.5-3.5M1177.8 565.2l-1.7-5M1184.2 562.2l-2.9-4.1M1181.3 558.1l-3.4-.1M1177.9 558l-1.8 2.2M1180.3 570.1l2.2 .8M1185.6 562.5l-1.4-.3M1180.3 570.1l-1.6-4.4M1183.9 554.5l-2.6 3.6M1176.2 552.8l1.7 5.2M1169.9 558.4l1.1 1.6M1171 560l5.1 .2M1173.1 616.1l-3.2-6.5M1168.4 618.3l-2.3-7.2M1169.9 609.6l-2.4 .4M1166.1 611.1l1.4-1.1M1276.8 598.9l-1.7 7.4M1177.9 611.8l-5.8-4.2M1172.1 607.6l-2.2 2M1163.8 611.3l2.3-.2M1164.5 384.4l5.7 4.1M1172.9 384.6l-.2 1.5M1170.2 388.5l2.5-2.4M1174.9 382.2l6.4 4.7M1172.7 386.1l4.6 3.3M1177.3 389.4l4-2.5M1187.8 355.4l5 5.3M1190 363.7l2.7-2.9M1192.8 360.7l-.1 .1M1191.4 352l4.7 5.4M1192.8 360.7l3.3-3.3M1183.6 371.5l6.8 4.8M1186.6 367.7l5.2 4.7M1191.8 372.4l-1.4 3.9M1175.2 414.4l.8-4.5M1175.2 414.4l5.2 2.9M1176 409.9l6.9-.2M1184.6 415.2l-4.2 2.1M1184.6 415.2l-1.4-5.2M1183.2 410l-.3-.3M1175.6 409.2l.4 .7M1173.9 415.3l1.3-.9M1178.7 422.6l1.7-5.3M1186.7 416.4l1.1 1.9M1186.7 416.4l-2.1-1.2M1191.6 407l2 2.9M1186.7 416.4l6.9-6.5M1190.7 406.7l.9 .3M1190.7 406.7l-7.5 3.3M1218.3 360.8l2.8 3.3M1226 362l-2.9 2.6M1223.1 364.6l-2-.5M1234.9 391.3l-6-4.1M1237.5 387.8l-6-4.2M1228.9 387.2l2.6-3.6M1210.1 381.1l.2 .2M1210.1 381.1l3.2-5.5M1210.3 381.3l5.3 1.9M1213.3 375.6l.9-.1M1215.6 383.2l2.4-2.1M1218 381.1l.1-2.5M1218.1 378.6l-3.9-3.1M1194.4 410.2l5.1-3M1194.4 410.2l3.2 5.6M1202.8 413.8l.1-4.4M1202.8 413.8l-4 2.2M1199.5 407.2l3.4 2.2M1197.6 415.8l1.2 .2M1191.6 407l4.3-7.3M1193.6 409.9l.8 .3M1200.3 401.4l-.8-.9M1195.9 399.7l3.6 .8M1200.3 401.4l-.8 5.8M1194 419.5l3.6-3.7M1206.4 407.3l2.7 1.1M1209.1 412.3l0-3.9M1206.7 415.1l2.4-2.8M1206.7 415.1l-3.9-1.3M1206.4 407.3l-3.5 2.1M1206.7 415.1l.6 1.6M1203 422.9l-4.2-6.9M1203.1 423l-.1-.1M1200.3 401.4l4.7 1.3M1206.4 407.3l-1.4-4.6M1203 422.9l-7.8 2M1208.7 388l1.6-6.7M1208.7 388l1 1M1215.6 383.2l.2 4.3M1215.8 387.5l-6.1 1.5M1226 378.9l5.6 4M1231.5 383.6l.1-.7M1228.9 387.2l-.2 0M1226 378.9l-2.1 3.8M1228.7 387.2l-4.8-4.5M1219.1 427.5l-7.5-.5M1218.2 432.5l-6.7-1.1M1211.5 431.4l.1-4.4M1220 423.8l-7.1-1.9M1211.5 426.9l.1 .1M1237.2 430.4l-7.6 .5M1229.6 435.2l7.4 .2M1221.1 419.7l-6.7-2.5M1222.6 415.4l-6.7-2.5M1214.4 417.2l.4-3M1214.8 414.2l1.1-1.3M1213.1 418.7l1.3-1.5M1237.8 418l-7.1-1.8M1209.1 412.3l5.7 1.9M1209.9 408l-.8 .4M1216.2 410.2l-.3 2.7M1216.2 410.2l-6.3-2.2M1224.1 411.6l-6.3-3.5M1226.2 406.8l-6.5-2.2M1219.7 404.6l-1.8 2.1M1217.8 408.1l.1-1.4M1238.6 413l-7.2-1.3M1216.2 410.2l1.6-2.1M1221.5 399.9l-1.7 2.2M1221.5 399.9l6.5 3.2M1219.8 402.1l-.1 2.5M1209.9 408l2.4-4.3M1212.3 403.7l5.6 3M1210.6 432.6l-7.6-2.1M1210.6 432.6l-.2 3.4M1210.4 436l-.1 .2M1210.3 436.2l-7-.4M1203.3 435.8l-.5-5.1M1203 430.5l-.2 .2M1211.5 431.4l-.9 1.2M1204.2 426.7l-1.2 3.8M1217.5 437.4l-7.1-1.4M1209.7 440.5l.6-4.3M1201.3 439.7l2-3.9M1195.8 430.7l7 0M1244.8 444.1l-7.2 .7M1244.8 444.1l-1.3-3.8M1243.5 440.3l-6.2-.5M1237.6 444.8l-.1-.2M1237.5 444.6l-.2-4.7M1237.3 439.9l0-.1M1245.3 444.5l-.5-.4M1245.3 444.5l-1.6 4.3M1237.7 449l-.1-4.2M1243.7 448.8l-5.7 .6M1245.3 444.5l3.5-.1M1245.4 435.5l-1.9 4.8M1237.4 435.9l-.1 3.9M1230.1 444.7l7.4-.1M1229.9 440.5l7.4-.6M1313.6 368.5l-5.6 4.5M1310.5 376.7l-1.3-.9M1309.2 375.8l-1.2-2.8M1305 369.2l1.3 2.7M1308 373l-1.7-1.1M1311.8 379.5l-5.6 4M1308.1 387.5l-.8-.3M1306.2 383.5l1.1 3.7M1310.3 403.9l-2.5-1.9M1310.7 394.9l-2 1.1M1307.8 402l.9-6M1302.6 390.4l4.7-3.2M1302.6 390.4l.5 3.9M1308.7 396l-5.6-1.7M1240.7 467.6l8-.1M1240.7 467.6l-.2 4M1241.4 472.9l6.8-1.9M1241.4 472.9l-.9-1.3M1248.2 471l1-2M1249.2 469l-.5-1.5M1240.3 467l.4 .6M1232.9 468.2l7.4-1.2M1233.4 472.3l7.1-.7M1241.4 476.1l0-3.2M1248.5 476.5l-.3-5.5M1256.1 471.3l-1.1 4.5M1256.1 471.3l-6.9-2.3M1232.2 463.4l7.2-1M1240.3 467l-.2-3.6M1239.4 462.4l.7 1M1256.1 471.3l2.2-1.3M1262.6 477.6l.5-.9M1263.1 476.7l-4.1-6.4M1258.3 470l.7 .3M1273.6 467l-5.2-1.2M1273.6 467l1.8 2.6M1275.4 469.6l-1.6 5.6M1268.4 465.8l-1.5 3M1266.9 468.8l1.4 6.3M1273.8 475.2l-4.6 .4M1269.2 475.6l-.9-.5M1277 462.4l2.3-.2M1277 462.4l-3.4 4.6M1282.7 469.3l-7.3 .3M1276.2 477.2l-2.4-2M1259 470.3l7.9-1.5M1263.1 476.7l5.2-1.6M1269.1 482.8l.1-7.2M1258.3 464.4l0 5.6M1258.3 464.4l7.9-1.5M1268.4 465.8l-.6-1.6M1266.2 462.9l1.6 1.3M1277 462.4l-3.9-4.1M1267.8 464.2l5.3-5.9M1272.8 435.6l4.6 1M1272.8 435.6l-1.4-4.6M1279.6 434.2l-2.2 2.4M1279.6 431.2l0 3M1279.6 431.2l-3-2.4M1271.4 431l5.2-2.2M1279.6 431.2l5.7-4M1283.3 422.6l-7.4 1.7M1285.3 427.2l-.2-2.4M1276.6 428.8l-.7-4.5M1273.3 418.4l-.3 3.3M1273 421.7l2.9 2.6M1268.4 439.2l2.2 3.4M1268.4 439.2l-2.9-.9M1264.9 438.6l-2.5 5.4M1264.9 438.6l.6-.3M1270.6 442.6l-3.5 5.8M1267.1 448.4l-4.7-4.4M1277.9 442.9l-.5-6.3M1276.4 444.1l1.5-1.2M1276.4 444.1l-5.8-1.5M1272.8 435.6l-4.4 3.6M1257.9 445.5l4.5-1.5M1257.3 445.1l.6 .4M1258.9 436.8l6 1.8M1257.9 445.5l.4 6.2M1258.3 451.7l1.6 1.1M1259.9 452.8l7.2-3.9M1267.1 448.9l0-.5M1286.9 437.2l3.6 6.4M1286.9 437.2l0 0M1286.9 437.2l-5 6.2M1289 445.8l-5.1-.1M1289 445.8l1.5-2.2M1283.9 445.7l-2-2.3M1277.9 442.9l4 .5M1279.6 434.2l7.3 3M1294.9 430.4l-3.9 5.3M1294.9 430.4l-.3-1.8M1294.2 428.3l.4 .3M1294.2 428.3l-7.5 0M1286.7 428.3l1.4 7.8M1288.1 436.1l2.9-.4M1296.4 439.5l-5.4-3.8M1298.6 433.9l-3.7-3.5M1303.5 433l1.2-2.2M1299.3 426.4l-4.7 2.2M1292.5 420.6l1.7 7.7M1285.3 427.2l1.4 1.1M1286.9 437.2l1.2-1.1M1294.6 442.9l-4.1 .7M1246.9 394.4l-2.1 2.9M1246.9 394.4l6.9 2.9M1250.1 401.3l2.8-1.3M1250.1 401.3l-5.3-3.8M1244.8 397.5l0-.2M1252.9 400l.9-2.7M1238.7 393.2l6.1 4.1M1240.8 389.6l6.2 2.9M1247 392.5l-.1 1.9M1255.7 403.9l-2.8-3.9M1248.4 404.9l1.7-3.6M1242.5 400.6l2.3-3.1M1242.5 402.5l0-1.9M1260.8 399.2l-6.1-2.6M1254.7 396.6l-.9 .7M1267.6 384.5l-4.9 0M1262.2 391.9l-2.4-2.1M1262.7 384.5l-1.5 1.5M1259.8 389.8l1.4-3.8M1255.9 378.8l5.9 1.5M1255.9 378.8l0-3.1M1255.9 375.7l5.5-1.2M1261.8 380.3l1.8-3.6M1263.6 376.7l-2.2-2.2M1267.1 376.1l-3.5 .6M1262.7 384.5l-.9-4.2M1239.6 365.3l-.1 .5M1231.8 370.1l-.1-7.3M1231.8 370.1l4.9-1M1236.7 369.1l2.8-3.3M1246.5 370.1l-2.6 .6M1245.3 362.8l1.2 7.3M1239.5 365.8l4.4 4.9M1231.6 382.9l2.9-3.1M1234.5 379.8l5.3 5.3M1250.1 369.6l2.1 .7M1250.1 369.6l-3.1 .6M1247 370.2l1.2 6.8M1248.2 377.1l0 .1M1248.2 377.2l6.1-3.6M1252.2 370.3l2 3M1254.3 373.6l-.1-.3M1256.6 365l-4.4 5.3M1254.2 362.1l2.4 2.9M1250.6 363.3l-.5 6.3M1246.5 370.1l.5 .1M1216.1 368.5l5-4.4M1217.1 371.1l4.5 1.4M1216.1 368.5l1 2.6M1223.1 364.6l1.5 4.2M1224.6 368.8l-3 3.7M1222.2 383.4l1.7-.7M1226 378.9l-.1-1.2M1218 381.1l4.2 2.3M1218.1 378.6l4.2-3M1225.9 377.7l-3.6-2.1M1214.2 375.5l2.9-4.4M1222.3 375.6l-.7-3.1M1319 433.1l-3.7-4.7M1319 433.1l5.2-2M1323.3 425.2l-7.5 1.6M1323.3 425.2l1.4 3.7M1315.8 426.8l-.5 1.6M1324.7 428.9l-.5 2.2M1318.9 433.8l.1-.7M1322.9 439.3l-4-5.5M1326.3 433.2l-2.1-2.1M1323.4 424.9l-.1 .3M1315.4 425.1l.4 1.7M1331.3 427.7l-6.6 1.2M1307 429.5l3.5 1M1310.5 430.5l4.8-2.1M1307.5 439.5l4-3.4M1307.5 439.5l4.6 4.1M1311.5 436.1l3.7 1.4M1315.2 437.5l.9 4.5M1312.1 443.6l4-1.6M1305.3 439.6l2.2-.1M1310.5 430.5l1 5.6M1310.5 448.6l1.6-5M1318.9 433.8l-3.7 3.7M1317.2 442.5l-1.1-.5M1250.9 549.4l0-4M1250.9 549.4l-7.3 .6M1250.7 545.1l.2 .3M1250.7 545.1l-7.4 .2M1256.9 544.8l-6 .6M1251.3 550l-.4-.6M1250.6 540.3l.1 4.8M1199.9 541.4l6.7 1.4M1198.5 545.9l7.1 1.4M1179.9 578.9l-.4 .1M1179.5 579l-1.2 3.1M1185.9 583.8l-2.6 2.7M1178.3 582.1l5 4.4M1189 591.4l-5.8-4.4M1183.2 587l.1-.5M1152.1 589.2l5.5-.9M1157.1 583.1l.4 .2M1157.5 583.3l.1 5M1155.8 574l.6 .3M1155.5 579.1l1.4-3.7M1156.4 574.3l.5 1.1M1157.9 564.9l2.2 5M1156.4 574.3l3.7-4.4M1157.5 583.3l4.7-.9M1162.2 582.4l1.9-4.8M1156.9 575.4l7.2 2.2M1153.1 594.3l6.1-2.3M1154.7 598.3l5.7-1.8M1160.4 596.5l-1.2-4.5M1162.2 582.4l2.8 4.7M1157.6 588.3l2.1 2.1M1165 587.1l-1.2 2.1M1163.8 589.2l-4.1 1.2M1159.2 592l.5-1.6M1296.6 456.8l-1.8-5.7M1296.6 456.8l-2.6 3.2M1294 460l-3.2 .5M1290.8 460.5l-2.4-7.2M1294.8 451.1l-4 0M1290.8 451.1l-2.4 2.2M1300.8 456.9l-4.2-.1M1297.6 448.6l-2.8 2.5M1298.1 464.4l-4.1-4.4M1288.9 462.5l1.9-2M1286.2 453.2l2.2 .1M1286.2 453.2l-4.4 4.8M1281.8 458l0 .6M1289 445.8l1.8 5.3M1283.3 450.2l.6-4.5M1283.3 450.2l2.9 3M1302.8 484l.1 3.8M1294.2 488.2l5.5 1.8M1302.9 487.8l-3.2 2.2M1292.2 495.7l6.4 .5M1299.7 490l-1.1 6.2M1298.3 503.2l.7-6.5M1301.1 504.8l6.2-1.7M1307.3 503.1l-2.6-5.9M1304.7 497.2l-5.7-.5M1298.6 496.2l.4 .5M1316.9 500.6l-3.5-3.3M1316.9 500.6l-1.1 5M1313.4 497.3l-5.5 6.2M1315.8 505.6l-7.3-1.2M1308.5 504.4l-.6-.9M1316.9 507l-1.1-1.4M1321.3 499.2l-4.4 1.4M1307.8 511.9l.7-7.5M1307.3 503.1l.6 .4M1168.2 392.4l1.6-1.6M1168.2 392.4l-.5 2.4M1169.8 390.8l6.4 2.6M1167.7 394.8l5.1 2.6M1172.8 397.4l3.5-3.7M1176.3 393.7l-.1-.3M1162.1 388.7l6.1 3.7M1170.2 388.5l-.4 2.3M1166.1 396.3l1.6-1.5M1177.3 389.4l-1.1 4M1173 401.5l-.2-4.1M1190.7 406.7l-4.3-5.4M1182.9 409.7l-.5-5M1186.4 401.3l-4 3.4M1176 402.8l1.7-.6M1177.7 402.2l4.7 2.5M1190.4 377.2l0-.9M1180.9 374.8l6.6 5.5M1190.4 377.2l-2.1 3M1188.3 380.2l-.8 .1M1177.9 378.6l5.4 4.7M1187.5 380.3l-4.2 3M1181.3 386.9l.6-.1M1183.3 383.3l-1.4 3.5M1198.4 346.2l4.9 5.7M1206.3 349l-2.5 2.8M1203.3 351.9l.5-.1M1211.6 354.7l-3.6 1.8M1203.8 351.8l4.2 4.7M1190.4 377.2l7.1 1.4M1192.1 386.2l-3.8-6M1192.1 386.2l5.2-3.2M1197.5 378.6l-.2 4.4M1190 363.7l5.3 5.8M1192.7 360.8l6 5.1M1195.3 369.5l3.4-3.6M1191.8 372.4l3.4-2.4M1195.3 369.5l-.1 .5M1205 402.7l4.2-2.8M1212.3 403.7l-.6-2.8M1209.2 399.9l2.5 1M1202.9 394.9l-3.4 5.6M1202.9 394.9l4.6 .5M1209.2 399.9l-1.7-4.5M1219.8 402.1l-5.9-2.6M1211.7 400.9l2.2-1.4M1200.7 390.4l2.2 4.5M1202.6 387.2l-1.9 3.2M1202.6 387.2l6.1 .8M1209.7 389l.2 3.4M1207.5 395.4l2.4-3M1242.5 400.6l-6.3-2.8M1215.8 387.5l2.3 1.9M1222.2 383.4l-1.1 4.2M1218.1 389.4l3-1.8M1228.7 387.2l-2.2 2.7M1221.1 387.6l5.4 2.3M1232.2 395.5l-5.8-3.9M1226.5 389.9l-.1 1.7M1294.9 389.6l.4-.8M1286.9 384.1l2.3-.2M1289.2 383.9l6.1 4.9M1290.6 376.1l1.8 3.9M1289.2 383.9l3.2-3.9M1296.3 397.1l3.2 1.6M1302.6 390.4l-5.1-2.8M1303.1 394.3l-3.6 4.4M1295.3 388.8l2.2-1.2M1303.7 379.4l-2.4-3.5M1303.7 379.4l-.1 1.9M1303.6 381.3l-5.3 2.5M1298.5 374.9l-2.5 5.6M1298.5 374.9l2.8 1M1296 380.5l2.3 3.3M1309.2 375.8l-5.5 3.6M1306.3 371.9l-5 4M1306.2 383.5l-2.6-2.2M1297.5 387.6l.8-3.8M1292.4 380l3.6 .5M1297.4 373l1.1 1.9M1299.8 399.5l3.6 3.1M1299.8 399.5l-4.2 5.8M1303.4 402.6l-1.1 6.3M1302.3 408.9l-6.2-1.9M1296.1 407l-.5-1.7M1307.8 402l-4.4 .6M1299.5 398.7l.3 .8M1290.5 402.9l5.1 2.4M1303.3 410.8l-1-1.9M1294.3 409.9l1.8-2.9M1231.6 458.6l7.1-.8M1238 453l.7 1M1238.7 457.8l0-3.8M1239.4 462.4l.2-3.3M1238.7 457.8l.9 1.3M1239.6 459.1l7.3-1.7M1238.7 454l7.3-.6M1246.9 457.4l-.9-4M1258.3 451.7l-3.7 1.1M1250.3 445.9l0 4.4M1250.3 450.3l4.3 2.5M1243.7 448.8l2.3 4.5M1250.3 450.3l-4.3 3M1246 453.3l0 .1M1248.9 465.8l-1.6-3.4M1248.9 465.8l7.7-3.7M1247.3 462.4l.4-4.2M1247.7 458.2l4.6-.6M1252.3 457.6l4.3 4.2M1256.6 462.1l0-.3M1248.7 467.5l.2-1.7M1240.1 463.4l7.2-1M1258.3 464.4l-1.7-2.3M1246.9 457.4l.8 .8M1254.6 452.8l-2.3 4.8M1261 455.9l-1.1-3.1M1261 455.9l-4.4 5.9M1261 455.9l3.6 1.8M1264.6 457.7l1.6 5.2M1273.1 458l-4.2-3.2M1273.1 458l4.2-4M1277.3 454l0-2.2M1269.2 450.9l-.3 3.9M1269.2 450.9l6.5-1.2M1277.3 451.8l-1.6-2.1M1264.6 457.7l4.3-2.9M1273.1 458.3l0-.3M1281.8 458l-4.5-4M1283.3 450.2l-6 1.6M1267.1 448.9l2.1 2M1276.4 444.1l-.7 5.6M1265.9 430.7l2.5-1.2M1265.9 430.7l-4.6-1.8M1268.4 429.5l1.2-5.6M1269.6 423.9l-5.8-2.4M1261.3 428.9l-1.4-5.3M1263.8 421.5l-3.3 1.3M1260.5 422.8l-.6 .8M1265.5 438.3l.4-7.6M1271.4 431l-3-1.5M1258.9 431.3l2.4-2.4M1273 421.7l-3.4 2.2M1265.7 416.5l-1.9 5M1255 423.5l4.9 .1M1258.8 416.7l1.7 6.1M1247 392.5l2.2-2.8M1254.7 396.6l.6-2.8M1255.3 393.8l-6.1-4.1M1259.8 389.8l-1 .3M1255.3 393.8l3.5-3.7M1255.9 375.7l-1.6-2.1M1255.9 378.8l-1.5 2.1M1248.2 377.2l-.3 .6M1247.9 377.8l6.5 3.1M1261.2 386l-6.8-4.2M1254.4 380.9l0 .9M1257.8 365.4l2.1 3.6M1257.8 365.4l4.5-3.2M1265.7 364.6l-1.4 4.3M1265.7 364.6l-3.4-2.4M1264.3 368.9l-2.9 .9M1261.4 369.8l-1.5-.8M1256.6 365l1.2 .4M1254.2 373.3l5.7-4.3M1262 356.7l.3 5.5M1269.6 363.4l-3.9 1.2M1267.5 371.2l-3.2-2.3M1261.4 374.5l0-4.7M1236.7 369.1l3.7 4.6M1243.9 370.7l-2.2 2.6M1240.4 373.7l1.3-.4M1247.9 377.8l-.3 .3M1241.7 373.3l4.5 5.4M1237.3 376.8l-2.8 2.9M1237.3 376.8l-5.7-6.5M1234.5 379.7l-5.4-4.6M1229.1 375.1l1.5-4.3M1231.6 370.3l-1 .5M1231.8 370.1l-.2 .2M1237.8 376.6l2.6-2.9M1237.8 376.6l-.5 .2M1234.5 379.8l0-.1M1225.9 377.7l3.2-2.6M1224.6 368.8l6 2M1175.4 586.4l5.2 3.6M1175.4 586.4l-3.3 2.6M1172.1 589l.1 1.5M1172.2 590.5l6.1 3.3M1178.3 593.8l2.2-2.5M1180.5 591.3l.1-1.3M1175.9 583.7l2.4-1.6M1175.9 583.7l-.5 2.7M1183.2 587l-2.6 3M1184.1 599.4l-5.9-4.4M1186.6 594.7l-6.1-3.4M1178.2 595l.1-1.2M1168.2 586.4l-3.2 .7M1168.2 586.4l2.1-5.6M1164.1 577.6l.6-.3M1164.7 577.3l5.6 3.5M1175.9 583.7l-4.9-3.1M1179.5 579l-4.6-4.3M1171 580.6l3.9-5.9M1168.2 586.4l3.9 2.6M1171 580.6l-.7 .2M1180.3 570.1l-5.5 4.1M1174.8 574.2l.1 .5M1172.2 590.5l-2.6 4.4M1178.2 595l-2.3 2.6M1169.6 594.9l6.3 2.7M1182.8 602.3l-7-2.2M1175.8 600.1l.1-2.5M1156.2 603.1l6.1-3M1160.4 596.5l1.7 1.1M1162.3 600.1l-.2-2.5M1159.8 607.8l4.9-4.7M1162.3 600.1l2.4 3M1163.8 589.2l2.9 5.5M1162.1 597.6l4.6-2.9M1169.6 594.9l-.8 .4M1166.7 594.7l2.1 .6M1167.5 610l-2.7-6.9M1164.7 603.1l.1 0M1306.1 490.2l.8 3.8M1306.1 490.2l4.8-2.2M1306.9 494l6.4 1.4M1310.9 488l4.7 3.3M1313.3 495.4l2.2-2.8M1315.6 491.3l-.1 1.3M1302.9 487.8l3.2 2.4M1304.7 497.2l2.2-3.2M1311.2 484l-.3 4M1313.4 497.3l-.1-1.9M1319.3 487l-3.7 4.3M1321.1 495.7l-5.6-3.1M1176.3 393.7l4 2.6M1181.9 386.8l3 3.5M1184.9 390.3l-4.6 6M1186.4 401.3l.2-1.6M1177.7 402.2l2.7-5.5M1186.6 399.7l-6.2-3M1180.3 396.3l.1 .4M1199.5 354.7l.9-.2M1199.5 354.7l-2.8 2.6M1200.4 354.5l3.8 4.5M1196.7 357.3l4.7 5.8M1201.4 363.1l2.8-4.1M1195.5 348.5l4 6.2M1203.3 351.9l-2.9 2.6M1196.1 357.4l.6-.1M1207.1 358.3l-2.9 .7M1208 356.5l-.9 1.8M1198.7 365.9l2.7-1M1201.4 364.9l0-1.8M1197.3 383l5.1 3.3M1202.4 386.3l2.1-5.9M1197.5 378.6l1.2-1M1198.7 377.6l5.8 2.8M1195.2 370l4.3 4.2M1198.7 377.6l.8-3.4M1210.1 381.1l-3.9-1.5M1202.6 387.2l-.2-.9M1206.2 379.6l-1.7 .8M1203.7 366.5l.3 5.6M1203.7 366.5l6.9-1.9M1212 366.7l-2.3 6.2M1212 366.7l-1.2-2M1209.7 372.9l-3.5 .7M1210.8 364.7l-.2-.1M1206.2 373.6l-2.2-1.5M1201.4 364.9l2.3 1.6M1199.5 374.2l4.5-2.1M1207.1 358.3l3.5 6.3M1216.1 368.5l-4.1-1.8M1213.3 375.6l-3.6-2.7M1214.7 360.6l-3.9 4.1M1206.2 379.6l0-6M1218.1 390.4l5.6 4.2M1218.1 390.4l-2.5 4.4M1215.7 395.1l-.1-.3M1215.7 395.1l6 2.9M1221.7 398l1.8-2M1223.5 396l.2-1.4M1226.4 391.6l-2.7 3M1218.1 389.4l0 1M1209.9 392.4l5.7 2.4M1213.9 399.5l1.8-4.4M1221.5 399.9l.2-1.9M1229.9 399.4l-6.4-3.4M1245.9 381l5.9 4.5M1243.5 385.2l5.8 3.8M1249.3 389l2.5-3.2M1251.8 385.8l0-.3M1237.8 376.6l5.4 5M1254.4 381.8l-2.6 3.7M1249.2 389.7l.1-.7M1258.8 390.1l-7-4.3M1164.3 570.6l1.3 4.2M1164.3 570.6l2.5-4.2M1165.6 574.8l7.2-2.1M1172.8 572.7l-1.4-5.2M1171.4 567.5l-2.1-1.5M1166.8 566.4l2.5-.4M1160.1 569.9l4.2 .7M1164.7 577.3l.9-2.5M1161.9 562.2l4.9 4.2M1174.8 574.2l-2-1.5M1177.8 565.2l-6.4 2.3M1171 560l-1.7 6M1167.1 602.3l1.9-2.4M1167.1 602.3l5.2 4.4M1169 599.9l5.6 1.9M1172.3 606.7l2.1-2.4M1174.4 604.3l.2-2.5M1164.8 603.1l2.3-.8M1168.8 595.3l.2 4.6M1172.1 607.6l.2-.9M1175.8 600.1l-1.2 1.7M1180.8 607l-6.4-2.7M1187 390.8l3 5.7M1187 390.8l5.1-4.5M1196.3 390.9l-3 6M1196.3 390.9l-4.2-4.6M1193.3 396.9l-3.3-.4M1184.9 390.3l2.1 .5M1186.6 399.7l3.4-3.2M1192.1 386.2l0 .1M1195.9 399.7l-2.6-2.8M1200.7 390.4l-4.4 .5M1156.8 576.2l3-35.4l5.9-45.3l5.2-26.6l7.1-26.4l9-24.9l5.2-11.6l5.7-10.1l6.4-9.8l9.5-12.7l7-8.2l6.3-6.6M1158.7 583.5l2.6-36.1l6.6-51.5l2.3-13.2l4.4-19.9l7.5-25.8l4.5-12.5l4.8-11.6l8.5-16.2l6.2-9.3l9.5-12.8l10.3-11.7l6.5-6.2M1160.5 590.7l1.2-21.6l1.7-21.4l6.6-51.4l2.4-13.2l4.4-19.7l7.4-25.7l4.4-12.4l4.9-11.7l5.3-10.5l5.9-9.8l9.4-13.1l10-12.1l7-7.2l7-5.6M1162.4 597.7l2.6-43.3l2.9-25.5l4.3-32.2l2.3-13.1l4.4-19.7l7.4-25.6l6.7-18l5-11l5.6-10.1l6-9.2l9.4-12.6l10.2-11.6l6.6-6.2l3.3-2.4l5-2.6M1164.2 604.7l3-50l6.2-51.3l2.1-12.9l4-19.6l5-19.5l3.9-12.4l6.6-17.8l5-11l5.5-9.9l9-13.3l9.5-12.2l10-10.7l6.2-5l10-4.5M1166.4 604.8l3-49.9l6.2-51.2l2-12.8l4-19.5l5-19.4l3.9-12.3l6.6-17.7l4.9-10.8l5.4-9.8l8.8-13.1l9.5-12.1l9.8-10.4l5.8-4.8l9.8-4.4M1168.9 598.3l2.7-43.2l2.8-25.4l4.3-32l2.3-12.8l4.3-19.5l7.3-25l6.5-17.6l4.8-10.7l5.4-9.5l5.7-8.8l9.1-12.2l9.8-11.2l5.9-5.6l7-4.2M1171.5 592l2.3-36.7l6.2-50.9l2-12.8l3.9-19.2l6.8-25.2l8.4-23.5l4.8-10.6l5.2-9.4l8.7-12.8l9.3-11.8l6.4-7.1l7.5-6.7M1174 585.7l2.6-36.7l6.5-50.7l5-25.4l6.7-25.1l8.4-23.3l4.7-10.4l5.1-9.3l5.6-8.5l9-12l12.2-13.5M1176.5 579.6l2.3-30.4l5.5-44.2l4.5-25.2l6.3-25.3l7.9-23.6l4.5-10.8l4.8-9.7l5.3-8.7l5.7-8.2l6-7.8l7.8-9" fill="none" stroke="#6e6e6e" stroke-width="1.85"/>
<use href="#e8" fill="none" stroke="#000" stroke-width="4.6" stroke-linejoin="round"/>
<path d="M974.6 397.0L975.5 397.1L976.7 397.2L978.0 397.4L979.4 397.5L980.9 397.7L982.5 397.9L984.2 398.2L985.9 398.5L987.6 398.9L989.3 399.3L991.1 399.8L993.0 400.3L995.0 400.8L997.0 401.4L999.0 402.0L1001.0 402.7L1003.0 403.4L1004.9 404.3L1006.7 405.2L1008.4 406.2L1010.0 407.3L1011.6 408.6L1013.2 410.0L1014.8 411.5L1016.4 413.1L1018.1 414.8L1019.7 416.6L1021.4 418.4L1023.2 420.2L1025.0 421.9L1026.9 423.7L1028.7 425.5L1030.6 427.3L1032.4 429.2L1034.3 431.1L1036.2 433.0L1038.1 434.9L1040.0 436.7L1041.8 438.5L1043.6 440.2L1045.4 441.8L1047.1 443.5L1048.8 445.1L1050.5 446.7L1052.2 448.2L1053.9 449.7L1055.6 451.2L1057.3 452.6L1058.9 453.9L1060.6 455.2L1062.2 456.5L1064.0 457.8L1065.8 459.0L1067.6 460.2L1069.3 461.3L1071.0 462.3L1072.5 463.2L1073.8 464.0L1074.9 464.7L1075.8 465.3L1078.1 461.7L1077.2 461.2L1076.0 460.4L1074.7 459.6L1073.2 458.7L1071.6 457.6L1070.0 456.5L1068.2 455.4L1066.5 454.2L1064.9 453.0L1063.3 451.8L1061.7 450.5L1060.2 449.2L1058.6 447.8L1057.0 446.3L1055.3 444.8L1053.7 443.3L1052.0 441.7L1050.3 440.1L1048.6 438.4L1046.9 436.8L1045.1 435.1L1043.3 433.3L1041.5 431.5L1039.6 429.6L1037.8 427.7L1035.9 425.8L1034.1 423.9L1032.2 422.0L1030.4 420.1L1028.7 418.3L1027.1 416.5L1025.5 414.7L1024.0 412.8L1022.4 410.9L1020.8 409.1L1019.2 407.3L1017.6 405.5L1015.8 403.7L1014.0 402.1L1012.0 400.7L1009.9 399.4L1007.8 398.2L1005.6 397.2L1003.4 396.4L1001.1 395.6L999.0 394.9L996.9 394.2L994.8 393.6L992.9 393.1L991.1 392.6L989.2 392.1L987.3 391.6L985.4 391.3L983.6 390.9L981.9 390.7L980.3 390.5L978.8 390.3L977.5 390.1L976.5 390.0L975.7 389.9Z" fill="#000"/><circle cx="975.1" cy="393.4" r="3.6"/><circle cx="1076.9" cy="463.5" r="2.1"/>
<path d="M1262.5 374.7L1263.1 375.8L1263.8 377.1L1264.7 378.5L1265.6 380.0L1266.6 381.7L1267.6 383.5L1268.6 385.5L1269.6 387.6L1270.4 389.8L1271.2 392.2L1271.9 394.9L1272.7 397.8L1273.3 401.0L1274.0 404.4L1274.7 407.9L1275.3 411.6L1275.9 415.3L1276.5 419.1L1277.1 422.8L1277.6 426.5L1278.1 430.2L1278.6 433.9L1279.0 437.8L1279.4 441.6L1279.8 445.5L1280.1 449.4L1280.5 453.4L1280.9 457.3L1281.2 461.2L1281.6 465.1L1282.0 469.0L1282.4 472.9L1282.8 476.8L1283.3 480.6L1283.7 484.5L1284.1 488.4L1284.5 492.2L1284.9 496.1L1285.2 500.0L1285.6 503.8L1285.9 507.7L1286.3 511.5L1286.6 515.4L1286.9 519.3L1287.2 523.1L1287.5 527.0L1287.8 530.9L1288.1 534.7L1288.3 538.6L1288.6 542.5L1288.8 546.4L1289.1 550.4L1289.3 554.5L1289.5 558.7L1289.7 562.8L1289.9 566.8L1290.1 570.7L1290.3 574.4L1290.4 577.9L1290.6 581.1L1290.7 584.2L1290.9 587.1L1291.0 590.0L1291.1 592.6L1291.2 595.2L1291.3 597.5L1291.4 599.6L1291.5 601.4L1291.6 603.0L1291.6 604.4L1296.2 604.2L1296.2 602.9L1296.1 601.3L1296.0 599.4L1296.0 597.3L1295.9 595.0L1295.8 592.5L1295.7 589.8L1295.6 586.9L1295.4 584.0L1295.3 580.9L1295.2 577.7L1295.0 574.2L1294.8 570.4L1294.7 566.5L1294.5 562.5L1294.3 558.4L1294.1 554.3L1293.9 550.2L1293.7 546.1L1293.4 542.2L1293.2 538.3L1293.0 534.4L1292.7 530.5L1292.4 526.6L1292.2 522.8L1291.9 518.9L1291.6 515.0L1291.3 511.1L1290.9 507.2L1290.6 503.4L1290.3 499.5L1289.9 495.6L1289.6 491.7L1289.2 487.8L1288.8 484.0L1288.4 480.1L1288.0 476.2L1287.6 472.3L1287.2 468.5L1286.8 464.6L1286.5 460.7L1286.1 456.8L1285.8 452.9L1285.4 449.0L1285.1 445.0L1284.7 441.1L1284.3 437.2L1283.9 433.4L1283.5 429.5L1283.1 425.8L1282.7 422.1L1282.3 418.3L1281.8 414.5L1281.3 410.7L1280.9 407.0L1280.3 403.3L1279.8 399.8L1279.2 396.5L1278.6 393.3L1277.9 390.4L1277.1 387.6L1276.2 385.0L1275.2 382.5L1274.1 380.3L1273.1 378.2L1272.1 376.3L1271.1 374.7L1270.3 373.3L1269.7 372.1L1269.2 371.2Z" fill="#000"/><circle cx="1265.8" cy="372.9" r="3.8"/><circle cx="1293.9" cy="604.3" r="2.3"/>
</g>
<g id="panelB">
<text x="0.0" y="793.1" font-size="42.2" text-anchor="start" font-weight="bold" >B</text>
<text x="810.0" y="806.0" font-size="32.5" text-anchor="middle" >Tissue−Specific Gene Enrichment</text>
<text x="337.0" y="869.5" font-size="32.4" text-anchor="end" >Embryo Proper</text>
<text x="337.0" y="905.5" font-size="32.4" text-anchor="end" >Suspensor</text>
<text x="337.0" y="948.0" font-size="32.4" text-anchor="end" >Micropylar Endosperm</text>
<text x="337.0" y="984.0" font-size="32.4" text-anchor="end" >Peripheral Endosperm</text>
<text x="337.0" y="1020.0" font-size="32.4" text-anchor="end" >Chalazal Endosperm</text>
<text x="337.0" y="1056.0" font-size="32.4" text-anchor="end" >Chalazal Seed Coat</text>
<text x="337.0" y="1092.0" font-size="32.4" text-anchor="end" >Distal Seed Coat</text>
<rect shape-rendering="crispEdges" x="357.7" y="842.5" width="34.1" height="33.8" fill="#000"/>
<rect shape-rendering="crispEdges" x="357.7" y="876.1" width="34.1" height="34" fill="#828282"/>
<text x="373.1" y="1125.0" font-size="32.5" text-anchor="middle" >1</text>
<rect shape-rendering="crispEdges" x="391.5" y="842.5" width="33.1" height="33.8" fill="#000"/>
<rect shape-rendering="crispEdges" x="391.5" y="876.1" width="33.1" height="34" fill="#696969"/>
<text x="407.9" y="1125.0" font-size="32.5" text-anchor="middle" >2</text>
<rect shape-rendering="crispEdges" x="424.4" y="842.5" width="34.1" height="33.8" fill="#000"/>
<rect shape-rendering="crispEdges" x="424.4" y="876.1" width="34.1" height="34" fill="#696969"/>
<text x="442.8" y="1125.0" font-size="32.5" text-anchor="middle" >3</text>
<rect x="356.3" y="842.5" width="103.3" height="68.5" fill="none" stroke="#000" stroke-width="4.8"/>
<rect x="356.3" y="922.5" width="103.3" height="171.5" fill="none" stroke="#000" stroke-width="4.8"/>
<rect shape-rendering="crispEdges" x="472.8" y="842.5" width="34.1" height="33.8" fill="#000"/>
<rect shape-rendering="crispEdges" x="472.8" y="876.1" width="34.1" height="34" fill="#b1b1b1"/>
<text x="488.1" y="1125.0" font-size="32.5" text-anchor="middle" >1</text>
<rect shape-rendering="crispEdges" x="506.6" y="842.5" width="33.1" height="33.8" fill="#000"/>
<rect shape-rendering="crispEdges" x="506.6" y="876.1" width="33.1" height="34" fill="#c6c6c6"/>
<text x="523.0" y="1125.0" font-size="32.5" text-anchor="middle" >2</text>
<rect shape-rendering="crispEdges" x="539.4" y="842.5" width="34.1" height="33.8" fill="#000"/>
<rect shape-rendering="crispEdges" x="539.4" y="876.1" width="34.1" height="34" fill="#999"/>
<text x="557.9" y="1125.0" font-size="32.5" text-anchor="middle" >3</text>
<rect x="471.4" y="842.5" width="103.3" height="68.5" fill="none" stroke="#000" stroke-width="4.8"/>
<rect x="471.4" y="922.5" width="103.3" height="171.5" fill="none" stroke="#000" stroke-width="4.8"/>
<rect shape-rendering="crispEdges" x="587.8" y="842.5" width="34.1" height="33.8" fill="#4d4d4d"/>
<rect shape-rendering="crispEdges" x="587.8" y="876.1" width="34.1" height="34" fill="#fff"/>
<text x="603.2" y="1125.0" font-size="32.5" text-anchor="middle" >1</text>
<rect shape-rendering="crispEdges" x="621.7" y="842.5" width="33.1" height="33.8" fill="#4d4d4d"/>
<rect shape-rendering="crispEdges" x="621.7" y="876.1" width="33.1" height="34" fill="#fff"/>
<text x="638.1" y="1125.0" font-size="32.5" text-anchor="middle" >2</text>
<rect shape-rendering="crispEdges" x="654.5" y="842.5" width="34.1" height="33.8" fill="#4d4d4d"/>
<rect shape-rendering="crispEdges" x="654.5" y="876.1" width="34.1" height="34" fill="#fff"/>
<text x="673.0" y="1125.0" font-size="32.5" text-anchor="middle" >3</text>
<rect x="586.4" y="842.5" width="103.3" height="68.5" fill="none" stroke="#000" stroke-width="4.8"/>
<rect x="586.4" y="922.5" width="103.3" height="171.5" fill="none" stroke="#000" stroke-width="4.8"/>
<rect shape-rendering="crispEdges" x="702.9" y="842.5" width="34.1" height="33.8" fill="#4d4d4d"/>
<rect shape-rendering="crispEdges" x="702.9" y="876.1" width="34.1" height="34" fill="#fff"/>
<text x="718.3" y="1125.0" font-size="32.5" text-anchor="middle" >1</text>
<rect shape-rendering="crispEdges" x="736.7" y="842.5" width="33.1" height="33.8" fill="#4d4d4d"/>
<rect shape-rendering="crispEdges" x="736.7" y="876.1" width="33.1" height="34" fill="#fff"/>
<text x="753.2" y="1125.0" font-size="32.5" text-anchor="middle" >2</text>
<rect shape-rendering="crispEdges" x="769.6" y="842.5" width="34.1" height="33.8" fill="#4d4d4d"/>
<rect shape-rendering="crispEdges" x="769.6" y="876.1" width="34.1" height="34" fill="#fff"/>
<text x="788.1" y="1125.0" font-size="32.5" text-anchor="middle" >3</text>
<rect x="701.5" y="842.5" width="103.3" height="68.5" fill="none" stroke="#000" stroke-width="4.8"/>
<rect x="701.5" y="922.5" width="103.3" height="171.5" fill="none" stroke="#000" stroke-width="4.8"/>
<rect shape-rendering="crispEdges" x="818.0" y="842.5" width="34.1" height="33.8" fill="#000"/>
<path d="M818.0 909.5L852.3 876.1" stroke="#000" stroke-width="4.6" fill="none"/>
<text x="833.3" y="1125.0" font-size="32.5" text-anchor="middle" >1</text>
<rect shape-rendering="crispEdges" x="851.8" y="842.5" width="33.1" height="33.8" fill="#000"/>
<path d="M850.8 909.5L885.1 876.1" stroke="#000" stroke-width="4.6" fill="none"/>
<text x="868.2" y="1125.0" font-size="32.5" text-anchor="middle" >2</text>
<rect shape-rendering="crispEdges" x="884.6" y="842.5" width="34.1" height="33.8" fill="#000"/>
<path d="M883.6 909.5L918.0 876.1" stroke="#000" stroke-width="4.6" fill="none"/>
<text x="903.1" y="1125.0" font-size="32.5" text-anchor="middle" >3</text>
<rect x="816.6" y="842.5" width="103.3" height="68.5" fill="none" stroke="#000" stroke-width="4.8"/>
<rect x="816.6" y="922.5" width="103.3" height="171.5" fill="none" stroke="#000" stroke-width="4.8"/>
<rect shape-rendering="crispEdges" x="933.0" y="842.5" width="34.1" height="33.8" fill="#000"/>
<path d="M933.0 909.5L967.4 876.1" stroke="#000" stroke-width="4.6" fill="none"/>
<text x="948.4" y="1125.0" font-size="32.5" text-anchor="middle" >1</text>
<rect shape-rendering="crispEdges" x="966.9" y="842.5" width="33.1" height="33.8" fill="#000"/>
<path d="M965.9 909.5L1000.2 876.1" stroke="#000" stroke-width="4.6" fill="none"/>
<text x="983.3" y="1125.0" font-size="32.5" text-anchor="middle" >2</text>
<rect shape-rendering="crispEdges" x="999.7" y="842.5" width="34.1" height="33.8" fill="#000"/>
<path d="M998.7 909.5L1033.0 876.1" stroke="#000" stroke-width="4.6" fill="none"/>
<text x="1018.2" y="1125.0" font-size="32.5" text-anchor="middle" >3</text>
<rect x="931.6" y="842.5" width="103.3" height="68.5" fill="none" stroke="#000" stroke-width="4.8"/>
<rect x="931.6" y="922.5" width="103.3" height="171.5" fill="none" stroke="#000" stroke-width="4.8"/>
<rect shape-rendering="crispEdges" x="1048.1" y="842.5" width="34.1" height="33.8" fill="#000"/>
<path d="M1048.1 909.5L1082.5 876.1" stroke="#000" stroke-width="4.6" fill="none"/>
<text x="1063.5" y="1125.0" font-size="32.5" text-anchor="middle" >1</text>
<rect shape-rendering="crispEdges" x="1082.0" y="842.5" width="33.1" height="33.8" fill="#000"/>
<path d="M1081.0 909.5L1115.3 876.1" stroke="#000" stroke-width="4.6" fill="none"/>
<text x="1098.4" y="1125.0" font-size="32.5" text-anchor="middle" >2</text>
<rect shape-rendering="crispEdges" x="1114.8" y="842.5" width="34.1" height="33.8" fill="#000"/>
<path d="M1113.8 909.5L1148.1 876.1" stroke="#000" stroke-width="4.6" fill="none"/>
<text x="1133.3" y="1125.0" font-size="32.5" text-anchor="middle" >3</text>
<rect x="1046.7" y="842.5" width="103.3" height="68.5" fill="none" stroke="#000" stroke-width="4.8"/>
<rect x="1046.7" y="922.5" width="103.3" height="171.5" fill="none" stroke="#000" stroke-width="4.8"/>
<rect shape-rendering="crispEdges" x="1163.2" y="842.5" width="34.1" height="33.8" fill="#000"/>
<path d="M1163.2 909.5L1197.5 876.1" stroke="#000" stroke-width="4.6" fill="none"/>
<text x="1178.5" y="1125.0" font-size="32.5" text-anchor="middle" >1</text>
<rect shape-rendering="crispEdges" x="1197.0" y="842.5" width="33.1" height="33.8" fill="#000"/>
<path d="M1196.0 909.5L1230.4 876.1" stroke="#000" stroke-width="4.6" fill="none"/>
<text x="1213.4" y="1125.0" font-size="32.5" text-anchor="middle" >2</text>
<rect shape-rendering="crispEdges" x="1229.9" y="842.5" width="34.1" height="33.8" fill="#696969"/>
<path d="M1228.9 909.5L1263.2 876.1" stroke="#000" stroke-width="4.6" fill="none"/>
<text x="1248.3" y="1125.0" font-size="32.5" text-anchor="middle" >3</text>
<rect x="1161.8" y="842.5" width="103.3" height="68.5" fill="none" stroke="#000" stroke-width="4.8"/>
<rect x="1161.8" y="922.5" width="103.3" height="171.5" fill="none" stroke="#000" stroke-width="4.8"/>
<text x="1303.0" y="764.0" font-size="28.0" text-anchor="start" >Tissue</text>
<text x="1303.0" y="792.0" font-size="28.0" text-anchor="start" >enrichment</text>
<text x="1303" y="820.8" font-size="28">-log<tspan font-size="17.5" dy="7.5">10</tspan><tspan dy="-7.5"> p-value</tspan></text>
<rect x="1303" y="842.0" width="25" height="23.3" fill="#000"/>
<text x="1337.0" y="862.5" font-size="28.0" text-anchor="start" >40+</text>
<rect x="1303" y="865.0" width="25" height="23.3" fill="#000"/>
<text x="1337.0" y="885.6" font-size="28.0" text-anchor="start" >30</text>
<rect x="1303" y="888.1" width="25" height="23.3" fill="#4d4d4d"/>
<text x="1337.0" y="908.6" font-size="28.0" text-anchor="start" >20</text>
<rect x="1303" y="911.1" width="25" height="23.3" fill="#666"/>
<text x="1337.0" y="931.7" font-size="28.0" text-anchor="start" >15</text>
<rect x="1303" y="934.2" width="25" height="23.3" fill="#808080"/>
<text x="1337.0" y="954.7" font-size="28.0" text-anchor="start" >10</text>
<rect x="1303" y="957.2" width="25" height="23.3" fill="#999"/>
<text x="1337.0" y="977.8" font-size="28.0" text-anchor="start" >5</text>
<rect x="1303" y="980.3" width="25" height="23.3" fill="#b3b3b3"/>
<text x="1337.0" y="1000.8" font-size="28.0" text-anchor="start" >4</text>
<rect x="1303" y="1003.3" width="25" height="23.3" fill="#c9c9c9"/>
<text x="1337.0" y="1023.8" font-size="28.0" text-anchor="start" >3</text>
<rect x="1303" y="1026.4" width="25" height="23.3" fill="#dedede"/>
<text x="1337.0" y="1046.9" font-size="28.0" text-anchor="start" >2</text>
<rect x="1303" y="1049.4" width="25" height="23.3" fill="#f0f0f0"/>
<text x="1337.0" y="1069.9" font-size="28.0" text-anchor="start" >1.3</text>
<rect x="1303" y="1072.5" width="25" height="23.3" fill="#fff"/>
<text x="1337.0" y="1093.0" font-size="28.0" text-anchor="start" >ns</text>
<rect x="1304.3" y="842.7" width="23.1" height="251.4" fill="none" stroke="#000" stroke-width="4.8"/>
<rect x="1304.3" y="1107.3" width="23.1" height="22.3" fill="#fff" stroke="#000" stroke-width="4.8"/>
<path d="M1304.3 1129.6L1327.4 1107.3" stroke="#000" stroke-width="4.6"/>
<text x="1337.5" y="1128.0" font-size="28.0" text-anchor="start" >NA</text>
<path d="M402.9 1154.0C402.6 1151.3 401.6 1151.1 401.5 1149.7C401.4 1148.3 401.6 1146.7 402.2 1145.6C402.7 1144.5 404.1 1143.7 405.0 1143.2C406.0 1142.6 407.0 1142.4 408.1 1142.5C409.2 1142.6 410.6 1142.9 411.6 1143.6C412.6 1144.2 413.6 1145.4 414.1 1146.4C414.6 1147.5 414.6 1148.7 414.5 1149.7C414.4 1150.8 413.7 1151.6 413.3 1152.6C412.8 1153.6 412.1 1154.4 411.7 1155.8C411.4 1157.1 411.4 1158.4 411.4 1160.8C411.3 1163.2 411.7 1167.3 411.6 1169.9C411.4 1172.6 410.4 1174.5 410.5 1176.8C410.5 1179.0 411.7 1180.9 412.0 1183.6C412.3 1186.3 412.3 1190.0 412.2 1192.7C412.1 1195.5 411.8 1198.0 411.6 1200.0C411.3 1202.1 410.9 1203.8 410.5 1205.0C410.0 1206.3 409.0 1207.5 409.0 1207.5C409.0 1207.5 406.8 1205.2 406.1 1204.1C405.4 1203.0 404.8 1201.9 404.7 1200.9C404.6 1199.9 405.2 1199.6 405.3 1198.2C405.5 1196.8 405.6 1195.2 405.6 1192.7C405.6 1190.3 405.5 1186.6 405.2 1183.6C404.9 1180.6 404.1 1177.5 403.8 1174.5C403.5 1171.4 403.5 1168.8 403.3 1165.4C403.2 1161.9 403.2 1156.6 402.9 1154.0Z" fill="#9e4fbf" stroke="#000" stroke-width="5.0" stroke-linejoin="round"/>
<path d="M518.2 1163.5C517.7 1161.1 515.3 1161.3 514.3 1159.9C513.3 1158.4 512.5 1156.7 512.3 1154.8C512.1 1153.0 512.3 1150.7 513.0 1148.9C513.7 1147.1 515.0 1145.4 516.5 1144.3C517.9 1143.3 520.0 1142.7 521.7 1142.5C523.4 1142.3 525.3 1142.7 526.9 1143.4C528.5 1144.1 530.1 1145.2 531.3 1146.6C532.4 1148.0 533.4 1149.9 533.7 1151.6C534.0 1153.4 533.7 1155.5 533.2 1157.1C532.6 1158.7 531.6 1160.2 530.4 1161.2C529.2 1162.3 527.1 1162.1 526.0 1163.5C525.0 1165.0 524.6 1167.3 524.1 1169.9C523.7 1172.5 523.5 1176.0 523.4 1179.1C523.4 1182.1 523.9 1185.2 523.9 1188.2C523.9 1191.3 523.4 1194.3 523.4 1197.3C523.4 1200.4 523.6 1203.7 523.9 1206.5C524.2 1209.2 525.0 1212.0 525.2 1213.8C525.3 1215.6 524.7 1217.0 524.7 1217.0C524.7 1217.0 520.3 1211.7 519.1 1210.1C517.9 1208.5 517.6 1208.2 517.3 1207.4C517.1 1206.6 517.7 1207.2 517.8 1205.6C517.9 1203.9 517.9 1200.2 517.8 1197.3C517.7 1194.5 517.3 1192.0 517.2 1188.2C517.1 1184.4 517.0 1178.6 517.2 1174.5C517.3 1170.4 518.7 1166.0 518.2 1163.5Z" fill="#d97fc6" stroke="#000" stroke-width="5.0" stroke-linejoin="round"/>
<path d="M622.2 1148.3C622.6 1147.2 622.9 1145.5 623.9 1144.6C624.9 1143.7 626.5 1143.1 628.1 1142.9C629.6 1142.7 631.4 1143.2 633.1 1143.5C634.7 1143.7 636.3 1144.3 638.1 1144.3C639.9 1144.3 642.1 1143.6 643.9 1143.5C645.7 1143.4 647.4 1143.2 648.9 1143.7C650.4 1144.3 652.2 1145.4 653.1 1146.7C654.0 1147.9 654.5 1149.5 654.5 1151.3C654.5 1153.1 653.9 1155.4 653.1 1157.5C652.3 1159.7 650.9 1162.4 649.7 1164.2C648.6 1166.1 647.7 1167.7 646.4 1168.8C645.1 1170.0 642.8 1170.0 641.8 1171.4C640.8 1172.7 640.8 1174.5 640.6 1176.8C640.4 1179.1 640.4 1182.4 640.6 1185.2C640.7 1187.9 641.3 1191.2 641.4 1193.5C641.5 1195.9 641.1 1197.6 641.4 1199.4C641.7 1201.2 642.7 1202.6 643.1 1204.4C643.4 1206.2 643.4 1208.2 643.5 1210.3C643.6 1212.4 643.3 1214.9 643.5 1217.0C643.7 1219.1 644.3 1221.1 644.7 1222.8C645.2 1224.5 646.4 1227.0 646.4 1227.0C646.4 1227.0 641.9 1225.0 640.6 1224.1C639.2 1223.1 639.2 1223.0 638.5 1221.1C637.8 1219.3 637.0 1215.4 636.4 1212.8C635.8 1210.1 635.0 1207.3 634.7 1205.2C634.5 1203.2 635.0 1202.2 634.9 1200.2C634.8 1198.3 634.5 1196.0 634.3 1193.5C634.1 1191.0 634.0 1187.8 633.9 1185.2C633.8 1182.5 633.9 1179.9 633.7 1177.6C633.6 1175.4 633.8 1173.2 632.9 1171.8C632.0 1170.4 629.7 1170.4 628.5 1169.3C627.2 1168.1 626.4 1166.9 625.6 1165.1C624.7 1163.3 624.1 1160.6 623.5 1158.4C622.8 1156.1 622.0 1153.4 621.8 1151.7C621.6 1150.0 621.9 1149.5 622.2 1148.3Z" fill="#fe98b4" stroke="#000" stroke-width="5.0" stroke-linejoin="round"/>
<path d="M729.7 1151.4C730.0 1149.0 730.6 1146.9 731.8 1145.5C733.0 1144.0 735.2 1142.9 736.9 1142.5C738.5 1142.1 740.3 1142.6 741.9 1143.3C743.5 1144.1 745.1 1145.6 746.5 1147.1C747.9 1148.7 749.1 1151.2 750.3 1152.6C751.5 1154.1 752.4 1155.9 753.7 1156.0C754.9 1156.2 756.3 1154.5 757.9 1153.5C759.4 1152.4 761.1 1150.5 762.9 1149.7C764.8 1148.8 767.0 1148.2 768.8 1148.4C770.7 1148.6 772.6 1149.7 773.9 1150.9C775.1 1152.2 776.1 1154.1 776.4 1156.0C776.7 1157.9 776.3 1160.2 775.6 1162.3C774.9 1164.5 773.3 1166.8 772.2 1169.1C771.1 1171.4 769.9 1173.5 768.8 1175.9C767.7 1178.2 766.7 1181.2 765.5 1183.5C764.2 1185.7 762.9 1187.7 761.3 1189.4C759.6 1191.1 756.8 1192.6 755.4 1193.6C754.0 1194.6 753.4 1193.9 752.8 1195.3C752.3 1196.7 752.1 1199.8 752.0 1202.0C751.9 1204.3 751.9 1206.5 752.0 1208.8C752.1 1211.0 752.9 1213.4 752.8 1215.5C752.8 1217.7 751.7 1219.5 751.6 1221.5C751.4 1223.4 752.0 1225.3 752.0 1227.4C752.0 1229.5 751.5 1232.2 751.6 1234.1C751.6 1236.1 752.3 1237.1 752.4 1239.2C752.6 1241.3 752.6 1244.5 752.4 1246.8C752.2 1249.0 751.2 1252.7 751.2 1252.7C751.2 1252.7 749.6 1251.9 748.6 1250.2C747.7 1248.5 746.0 1245.0 745.3 1242.6C744.5 1240.2 744.3 1238.1 744.0 1235.8C743.7 1233.6 743.4 1231.0 743.6 1229.1C743.7 1227.1 744.6 1226.2 744.8 1224.0C745.1 1221.7 744.9 1218.4 744.8 1215.5C744.8 1212.7 744.5 1209.6 744.4 1207.1C744.4 1204.6 744.5 1202.4 744.4 1200.3C744.4 1198.3 744.7 1196.4 744.0 1194.9C743.3 1193.3 741.4 1192.7 740.2 1191.1C739.0 1189.4 737.8 1187.5 736.9 1185.1C735.9 1182.8 735.2 1179.5 734.3 1176.7C733.5 1173.9 732.5 1171.1 731.8 1168.3C731.1 1165.4 730.5 1162.6 730.1 1159.8C729.8 1157.0 729.4 1153.8 729.7 1151.4Z" fill="#fe98b4" stroke="#000" stroke-width="5.0" stroke-linejoin="round"/>
<path d="M842.1 1159.3C842.5 1156.7 842.9 1152.9 844.1 1150.5C845.2 1148.0 847.0 1145.8 849.0 1144.6C850.9 1143.4 853.8 1143.2 855.6 1143.2C857.4 1143.2 858.4 1143.7 859.6 1144.4C860.8 1145.2 862.1 1146.3 863.0 1147.6C863.9 1148.8 864.5 1150.5 865.0 1152.0C865.5 1153.4 865.6 1154.0 865.7 1156.3C865.9 1158.6 865.8 1163.1 865.9 1165.8C866.0 1168.4 866.0 1170.6 866.2 1172.2C866.4 1173.8 866.8 1175.2 867.2 1175.2C867.5 1175.2 868.1 1173.8 868.4 1172.2C868.7 1170.6 868.7 1168.0 868.9 1165.8C869.1 1163.5 869.2 1160.6 869.4 1158.6C869.6 1156.6 869.9 1155.2 870.2 1153.7C870.5 1152.2 870.7 1150.7 871.3 1149.4C871.9 1148.1 872.9 1146.7 873.9 1145.7C874.8 1144.8 875.8 1144.2 876.9 1143.8C878.0 1143.4 878.8 1142.8 880.5 1143.2C882.3 1143.6 885.3 1144.5 887.2 1146.1C889.2 1147.6 891.0 1149.9 892.1 1152.4C893.3 1154.9 894.1 1158.1 894.3 1161.2C894.5 1164.3 894.1 1167.6 893.6 1171.0C893.1 1174.4 892.2 1178.3 891.2 1181.7C890.1 1185.2 888.2 1188.3 887.2 1191.5C886.3 1194.8 886.0 1198.0 885.3 1201.3C884.5 1204.5 884.0 1208.0 882.8 1211.1C881.7 1214.2 880.1 1217.4 878.4 1219.9C876.7 1222.3 873.9 1224.2 872.5 1225.7C871.1 1227.2 870.7 1227.4 870.1 1228.6C869.4 1229.9 869.3 1232.0 868.6 1233.0C867.9 1234.1 866.5 1235.0 865.6 1235.0C864.7 1235.0 863.8 1234.2 863.2 1233.0C862.5 1231.9 862.6 1229.5 861.7 1228.2C860.8 1226.8 859.4 1226.4 857.8 1224.7C856.2 1223.0 853.5 1220.7 851.9 1217.9C850.4 1215.1 849.2 1211.5 848.5 1208.1C847.7 1204.7 848.0 1200.8 847.5 1197.4C847.0 1194.0 846.3 1191.2 845.5 1187.6C844.8 1184.0 843.7 1179.5 843.1 1175.9C842.5 1172.3 842.1 1168.9 841.9 1166.1C841.7 1163.3 841.7 1161.9 842.1 1159.3Z" fill="#f7d31a" stroke="#000" stroke-width="5.0" stroke-linejoin="round"/>
<path d="M979.0 1143.7C980.4 1143.5 981.9 1143.9 982.8 1144.7C983.8 1145.5 984.6 1146.5 984.6 1148.6C984.6 1150.7 983.8 1154.2 982.8 1157.4C981.9 1160.7 980.4 1165.0 979.0 1168.2C977.5 1171.5 975.9 1174.5 974.1 1177.1C972.4 1179.7 968.6 1182.9 968.3 1184.0C968.0 1185.0 970.7 1184.3 972.2 1183.5C973.6 1182.7 975.4 1181.3 977.0 1179.1C978.6 1176.8 980.4 1173.5 981.9 1170.2C983.3 1166.9 984.6 1162.8 985.7 1159.4C986.9 1156.0 987.5 1152.0 988.7 1149.6C989.8 1147.1 990.9 1145.7 992.5 1144.7C994.1 1143.6 996.4 1143.0 998.3 1143.2C1000.3 1143.4 1002.5 1144.3 1004.1 1145.7C1005.8 1147.0 1007.3 1149.3 1008.0 1151.5C1008.7 1153.8 1009.0 1156.5 1008.5 1159.4C1008.0 1162.4 1006.6 1165.8 1005.1 1169.2C1003.6 1172.7 1001.4 1176.8 999.3 1180.0C997.2 1183.3 994.5 1186.4 992.5 1188.9C990.6 1191.3 988.7 1193.0 987.7 1194.8C986.6 1196.6 986.1 1197.7 986.2 1199.7C986.4 1201.6 987.6 1203.6 988.7 1206.6C989.7 1209.5 991.4 1213.8 992.5 1217.4C993.7 1221.0 994.9 1224.7 995.4 1228.2C996.0 1231.6 996.1 1235.2 995.9 1238.0C995.8 1240.8 995.0 1243.1 994.5 1244.9C993.9 1246.7 992.9 1247.5 992.5 1248.8C992.1 1250.1 992.4 1251.9 992.0 1252.7C991.6 1253.5 990.7 1254.2 990.1 1253.7C989.5 1253.2 989.4 1250.9 988.2 1249.8C987.0 1248.6 984.9 1248.5 982.8 1246.8C980.8 1245.2 978.5 1242.9 976.1 1239.9C973.6 1237.0 970.6 1232.9 968.3 1229.1C966.1 1225.4 964.1 1221.3 962.5 1217.4C960.9 1213.4 959.6 1209.5 958.6 1205.6C957.7 1201.6 956.9 1197.7 956.7 1193.8C956.5 1189.9 956.7 1185.9 957.2 1182.0C957.7 1178.1 958.6 1174.0 959.6 1170.2C960.7 1166.4 962.0 1162.5 963.5 1159.4C964.9 1156.3 966.5 1153.8 968.3 1151.5C970.1 1149.3 972.4 1147.0 974.1 1145.7C975.9 1144.3 977.5 1143.9 979.0 1143.7Z" fill="#f7d31a" stroke="#000" stroke-width="5.0" stroke-linejoin="round"/>
<path d="M1054.4 1178.1C1054.9 1174.1 1055.6 1168.1 1057.2 1163.6C1058.8 1159.2 1061.2 1154.8 1064.0 1151.6C1066.9 1148.5 1070.4 1146.3 1074.4 1144.8C1078.5 1143.4 1083.4 1143.0 1088.1 1142.8C1092.7 1142.7 1097.9 1143.2 1102.5 1144.0C1107.0 1144.8 1111.6 1146.0 1115.3 1147.6C1119.0 1149.2 1122.4 1151.5 1124.9 1153.6C1127.4 1155.8 1129.3 1158.2 1130.5 1160.4C1131.7 1162.6 1132.0 1165.2 1132.1 1166.8C1132.3 1168.5 1131.3 1170.1 1131.3 1170.1C1131.3 1170.1 1135.3 1171.4 1136.9 1172.5C1138.5 1173.5 1140.2 1175.0 1140.9 1176.5C1141.7 1177.9 1141.9 1179.7 1141.3 1181.3C1140.8 1182.9 1139.3 1185.1 1137.7 1186.1C1136.2 1187.1 1134.4 1187.4 1132.1 1187.3C1129.9 1187.1 1127.4 1186.3 1124.1 1185.3C1120.8 1184.3 1116.1 1182.7 1112.1 1181.3C1108.1 1179.8 1103.8 1177.9 1100.1 1176.5C1096.3 1175.0 1091.9 1173.3 1089.7 1172.5C1087.4 1171.7 1087.5 1171.3 1086.5 1171.7C1085.4 1172.1 1084.1 1173.5 1083.3 1174.9C1082.4 1176.2 1081.4 1177.5 1081.3 1179.7C1081.1 1181.8 1081.6 1184.6 1082.5 1187.7C1083.3 1190.7 1084.7 1194.4 1086.5 1198.1C1088.2 1201.8 1090.9 1206.4 1092.9 1210.1C1094.9 1213.8 1096.9 1217.2 1098.5 1220.5C1100.0 1223.9 1101.5 1227.2 1102.1 1230.1C1102.7 1233.1 1102.6 1236.1 1102.1 1238.1C1101.6 1240.1 1100.7 1241.5 1099.3 1242.1C1097.9 1242.8 1095.9 1242.4 1093.7 1241.7C1091.4 1241.1 1088.3 1239.9 1085.7 1238.1C1083.0 1236.3 1080.2 1233.6 1077.7 1230.9C1075.1 1228.3 1072.8 1225.6 1070.4 1222.1C1068.0 1218.7 1065.4 1214.1 1063.2 1210.1C1061.1 1206.1 1059.1 1201.8 1057.6 1198.1C1056.2 1194.4 1055.0 1191.0 1054.4 1187.7C1053.9 1184.3 1054.0 1182.1 1054.4 1178.1Z" fill="#a6bd1a" stroke="#000" stroke-width="5.0" stroke-linejoin="round"/>
<path d="M1077.6 1161.2L1078.1 1161.2L1078.7 1161.1L1079.3 1161.0L1080.0 1160.9L1080.8 1160.7L1081.6 1160.6L1082.5 1160.5L1083.3 1160.5L1084.1 1160.4L1084.9 1160.4L1085.7 1160.4L1086.6 1160.4L1087.5 1160.4L1088.4 1160.4L1089.4 1160.5L1090.3 1160.6L1091.2 1160.7L1092.1 1160.8L1093.0 1160.9L1093.9 1161.1L1094.7 1161.3L1095.5 1161.5L1096.4 1161.8L1097.2 1162.1L1098.1 1162.5L1099.0 1162.9L1100.0 1163.3L1101.0 1163.7L1102.0 1164.1L1103.1 1164.5L1104.2 1164.9L1105.4 1165.4L1106.6 1165.9L1107.8 1166.4L1109.1 1166.9L1110.3 1167.4L1111.6 1167.9L1112.8 1168.3L1114.0 1168.8L1115.1 1169.3L1116.3 1169.7L1117.4 1170.1L1118.5 1170.6L1119.7 1171.0L1120.8 1171.5L1121.9 1171.9L1123.0 1172.3L1124.0 1172.7L1125.1 1173.0L1126.0 1173.2L1127.0 1173.3L1128.0 1173.4L1128.8 1173.3L1129.6 1173.1L1130.3 1172.9L1130.8 1172.7L1131.3 1172.5L1131.6 1172.4L1131.8 1172.3L1131.9 1172.3L1130.7 1167.8L1130.3 1167.9L1129.9 1168.1L1129.5 1168.2L1129.2 1168.4L1128.9 1168.5L1128.6 1168.6L1128.2 1168.6L1127.9 1168.6L1127.5 1168.6L1127.0 1168.5L1126.4 1168.3L1125.6 1168.1L1124.7 1167.7L1123.7 1167.4L1122.7 1166.9L1121.6 1166.4L1120.5 1165.9L1119.4 1165.4L1118.2 1164.9L1117.1 1164.4L1115.9 1164.0L1114.7 1163.5L1113.5 1163.0L1112.3 1162.5L1111.0 1162.0L1109.8 1161.5L1108.5 1161.0L1107.3 1160.5L1106.2 1160.0L1105.1 1159.6L1104.0 1159.2L1103.0 1158.7L1102.1 1158.3L1101.1 1157.9L1100.1 1157.5L1099.2 1157.1L1098.2 1156.7L1097.2 1156.4L1096.1 1156.1L1095.1 1155.8L1094.0 1155.6L1092.9 1155.4L1091.8 1155.2L1090.8 1155.1L1089.7 1155.0L1088.7 1155.0L1087.7 1154.9L1086.7 1154.9L1085.8 1154.9L1084.8 1154.9L1083.9 1154.9L1082.9 1154.9L1081.9 1155.0L1081.0 1155.1L1080.1 1155.2L1079.3 1155.3L1078.5 1155.4L1077.9 1155.5L1077.3 1155.6L1076.9 1155.7Z" fill="#000"/><circle cx="1077.2" cy="1158.4" r="2.8"/><circle cx="1131.3" cy="1170.1" r="2.3"/>
<path d="M1211.2 1142.5C1214.0 1142.2 1216.9 1142.2 1219.7 1142.7C1222.5 1143.1 1225.3 1143.9 1228.1 1145.0C1230.9 1146.2 1233.9 1147.8 1236.6 1149.7C1239.2 1151.6 1241.9 1153.8 1244.2 1156.4C1246.4 1159.0 1248.4 1162.2 1250.1 1165.3C1251.8 1168.3 1253.1 1171.3 1254.3 1174.5C1255.5 1177.8 1256.5 1181.1 1257.3 1184.7C1258.0 1188.2 1258.5 1191.8 1259.0 1195.6C1259.4 1199.4 1259.7 1203.5 1259.8 1207.4C1259.9 1211.4 1259.8 1215.4 1259.5 1219.2C1259.3 1223.0 1258.9 1226.7 1258.5 1230.2C1258.2 1233.7 1258.0 1237.1 1257.3 1240.3C1256.6 1243.5 1255.5 1246.8 1254.3 1249.6C1253.1 1252.4 1251.6 1255.2 1250.1 1257.2C1248.5 1259.1 1246.6 1260.4 1245.0 1261.4C1243.4 1262.4 1241.6 1263.0 1240.4 1263.1C1239.2 1263.1 1238.4 1262.4 1237.8 1261.8C1237.3 1261.2 1237.0 1259.7 1237.0 1259.7C1237.0 1259.7 1236.2 1261.4 1234.9 1261.8C1233.5 1262.2 1230.8 1262.7 1229.0 1262.2C1227.1 1261.7 1225.6 1260.3 1223.9 1258.8C1222.2 1257.4 1220.1 1255.6 1218.8 1253.8C1217.6 1252.0 1216.9 1250.6 1216.3 1247.9C1215.7 1245.2 1215.7 1241.4 1215.5 1237.8C1215.2 1234.1 1215.1 1229.9 1214.6 1226.0C1214.1 1222.0 1213.1 1218.1 1212.5 1214.2C1211.9 1210.2 1211.3 1206.2 1210.8 1202.4C1210.3 1198.6 1209.8 1194.8 1209.5 1191.4C1209.3 1188.0 1209.3 1185.1 1209.5 1182.1C1209.8 1179.2 1210.1 1176.6 1211.2 1173.7C1212.4 1170.7 1215.2 1166.3 1216.3 1164.4C1217.4 1162.5 1217.6 1162.3 1217.6 1162.3C1217.6 1162.3 1214.4 1165.1 1212.9 1166.9C1211.4 1168.8 1210.0 1171.2 1208.7 1173.7C1207.4 1176.2 1206.2 1179.0 1205.3 1182.1C1204.5 1185.2 1204.1 1188.6 1203.6 1192.2C1203.2 1195.9 1203.1 1200.1 1202.8 1204.0C1202.5 1208.0 1202.2 1212.2 1201.9 1215.8C1201.7 1219.5 1201.6 1222.6 1201.1 1226.0C1200.6 1229.3 1199.8 1232.9 1199.0 1236.1C1198.2 1239.3 1197.4 1242.5 1196.5 1245.4C1195.5 1248.2 1194.6 1250.8 1193.5 1252.9C1192.4 1255.1 1191.2 1256.0 1190.1 1258.0C1189.0 1260.0 1188.1 1263.1 1186.7 1264.7C1185.3 1266.4 1183.4 1267.6 1181.7 1267.7C1180.0 1267.8 1177.9 1266.8 1176.6 1265.6C1175.3 1264.4 1174.5 1262.6 1173.6 1260.5C1172.8 1258.4 1172.3 1255.8 1171.5 1252.9C1170.8 1250.1 1169.8 1246.8 1169.0 1243.7C1168.2 1240.6 1167.3 1237.6 1166.9 1234.4C1166.4 1231.2 1166.2 1227.8 1166.3 1224.3C1166.4 1220.8 1166.9 1217.0 1167.3 1213.3C1167.8 1209.7 1168.3 1206.0 1169.0 1202.4C1169.7 1198.7 1170.7 1194.8 1171.5 1191.4C1172.4 1188.0 1173.1 1185.2 1174.1 1182.1C1175.1 1179.0 1176.2 1175.8 1177.4 1172.9C1178.7 1169.9 1180.0 1167.1 1181.7 1164.4C1183.4 1161.8 1185.5 1159.2 1187.6 1156.8C1189.7 1154.4 1191.8 1152.1 1194.3 1150.1C1196.9 1148.1 1200.0 1145.9 1202.8 1144.6C1205.6 1143.3 1208.4 1142.8 1211.2 1142.5Z" fill="#66902c" stroke="#000" stroke-width="5.0" stroke-linejoin="round"/>
<path d="M1222.3 1162.1L1222.6 1162.6L1222.9 1163.2L1223.3 1163.9L1223.7 1164.5L1224.1 1165.2L1224.5 1166.0L1224.9 1166.8L1225.3 1167.6L1225.6 1168.5L1225.9 1169.5L1226.2 1170.6L1226.5 1171.8L1226.8 1173.2L1227.0 1174.6L1227.3 1176.2L1227.5 1177.7L1227.8 1179.3L1228.0 1181.0L1228.3 1182.6L1228.5 1184.2L1228.7 1185.8L1228.9 1187.4L1229.1 1189.1L1229.3 1190.7L1229.4 1192.4L1229.6 1194.1L1229.8 1195.8L1229.9 1197.5L1230.1 1199.3L1230.3 1201.0L1230.4 1202.7L1230.6 1204.3L1230.8 1206.0L1231.0 1207.7L1231.2 1209.4L1231.4 1211.1L1231.5 1212.8L1231.7 1214.4L1231.9 1216.1L1232.0 1217.8L1232.2 1219.5L1232.4 1221.1L1232.5 1222.8L1232.6 1224.5L1232.8 1226.2L1232.9 1227.9L1233.0 1229.5L1233.2 1231.2L1233.3 1232.9L1233.4 1234.6L1233.5 1236.3L1233.6 1238.0L1233.7 1239.8L1233.8 1241.6L1233.9 1243.4L1234.0 1245.1L1234.1 1246.8L1234.2 1248.4L1234.3 1250.0L1234.3 1251.4L1234.4 1252.7L1234.5 1254.0L1234.5 1255.2L1234.6 1256.4L1234.6 1257.5L1234.7 1258.5L1234.7 1259.4L1234.8 1260.2L1234.8 1260.9L1234.8 1261.5L1240.0 1261.3L1240.0 1260.7L1240.0 1260.0L1239.9 1259.2L1239.9 1258.3L1239.9 1257.3L1239.8 1256.2L1239.8 1255.0L1239.8 1253.8L1239.7 1252.5L1239.6 1251.1L1239.6 1249.7L1239.5 1248.2L1239.5 1246.6L1239.4 1244.9L1239.3 1243.1L1239.2 1241.3L1239.2 1239.5L1239.1 1237.7L1239.0 1236.0L1238.9 1234.2L1238.8 1232.5L1238.7 1230.8L1238.6 1229.1L1238.5 1227.5L1238.4 1225.8L1238.2 1224.1L1238.1 1222.4L1238.0 1220.7L1237.9 1219.0L1237.7 1217.3L1237.6 1215.6L1237.4 1213.9L1237.3 1212.2L1237.1 1210.5L1236.9 1208.8L1236.8 1207.1L1236.6 1205.4L1236.4 1203.7L1236.3 1202.1L1236.1 1200.4L1236.0 1198.7L1235.8 1197.0L1235.7 1195.3L1235.5 1193.6L1235.4 1191.9L1235.2 1190.1L1235.1 1188.4L1234.9 1186.7L1234.7 1185.1L1234.5 1183.4L1234.3 1181.8L1234.1 1180.1L1233.9 1178.5L1233.7 1176.8L1233.5 1175.2L1233.2 1173.6L1232.9 1172.0L1232.7 1170.5L1232.4 1169.1L1232.0 1167.8L1231.6 1166.5L1231.2 1165.3L1230.7 1164.1L1230.2 1163.1L1229.7 1162.1L1229.3 1161.3L1228.9 1160.6L1228.5 1160.0L1228.2 1159.5L1228.1 1159.1Z" fill="#000"/><circle cx="1225.2" cy="1160.6" r="3.2"/><circle cx="1237.4" cy="1261.4" r="2.6"/>
</g>
<g id="panelC">
<text x="0.5" y="1367.0" font-size="42.2" text-anchor="start" font-weight="bold" >C</text>
<text x="44.0" y="1414.7" font-size="31.8" text-anchor="start" >Source</text>
<circle cx="65.4" cy="1461.5" r="22.4" fill="#bab8b6" stroke="#000" stroke-width="4.8"/>
<path d="M65.4 1492.7L90.8 1542.4H40.2Z" fill="#bab8b6"/>
<path d="M65.4 1553.3L88.9 1576.8L65.4 1600.3L41.9 1576.8Z" fill="#bab8b6"/>
<rect x="44.1" y="1610.8" width="43" height="43" fill="#bab8b6"/>
<text x="108.6" y="1473.7" font-size="31.8" text-anchor="start" >This work</text>
<text x="108.6" y="1531.0" font-size="31.8" text-anchor="start" >Belmonte et al. 2013</text>
<text x="108.6" y="1588.0" font-size="31.8" text-anchor="start" >Nodine &amp; Bartel 2012</text>
<text x="108.6" y="1645.0" font-size="31.8" text-anchor="start" >Schneider et al. 2016</text>
<text x="44.0" y="1774.0" font-size="31.8" text-anchor="start" >Stage</text>
<rect x="44.1" y="1799.3" width="43" height="43.2" fill="#9e4fbf"/>
<text x="108.6" y="1829.3" font-size="31.6" text-anchor="start" >Preglobular</text>
<rect x="44.1" y="1842.2" width="43" height="43.2" fill="#d97fc6"/>
<text x="108.6" y="1872.2" font-size="31.6" text-anchor="start" >Globular</text>
<rect x="44.1" y="1885.0" width="43" height="43.2" fill="#fe98b4"/>
<text x="108.6" y="1915.1" font-size="31.6" text-anchor="start" >Heart</text>
<rect x="44.1" y="1927.9" width="43" height="43.2" fill="#f7d31a"/>
<text x="108.6" y="1957.9" font-size="31.6" text-anchor="start" >Torpedo</text>
<rect x="44.1" y="1970.8" width="43" height="43.2" fill="#a6bd1a"/>
<text x="108.6" y="2000.8" font-size="31.6" text-anchor="start" >Bent cotyledon</text>
<rect x="44.1" y="2013.6" width="43" height="43.2" fill="#66902c"/>
<text x="108.6" y="2043.7" font-size="31.6" text-anchor="start" >Mature green</text>
<rect x="44.1" y="2056.5" width="43" height="43.2" fill="#ffe8c1"/>
<text x="108.6" y="2086.6" font-size="31.6" text-anchor="start" >Post-mature green</text>
<polyline points="632.6,1940.0 630.5,1825.0 699.0,1662.0 771.7,1514.6 895.7,1452.0 1279.8,1599.5 1418.5,2074.8" fill="none" stroke="#b9b7b5" stroke-width="4.3" stroke-linejoin="round"/>
<circle cx="632.6" cy="1940.0" r="11" fill="#9e4fbf" stroke="#b9b7b5" stroke-width="4.4"/>
<circle cx="630.5" cy="1825.0" r="11" fill="#d97fc6" stroke="#b9b7b5" stroke-width="4.4"/>
<circle cx="699.0" cy="1662.0" r="11" fill="#fe98b4" stroke="#b9b7b5" stroke-width="4.4"/>
<circle cx="771.7" cy="1514.6" r="11" fill="#f7d31a" stroke="#b9b7b5" stroke-width="4.4"/>
<circle cx="895.7" cy="1452.0" r="11" fill="#a6bd1a" stroke="#b9b7b5" stroke-width="4.4"/>
<circle cx="1279.8" cy="1599.5" r="11" fill="#66902c" stroke="#b9b7b5" stroke-width="4.4"/>
<circle cx="1418.5" cy="2074.8" r="11" fill="#ffe8c1" stroke="#b9b7b5" stroke-width="4.4"/>
<path d="M738.0 1618.3L755.0 1651.3H721.0Z" fill="#f7d31a"/>
<path d="M752.1 1631.1L769.1 1664.1H735.1Z" fill="#f7d31a"/>
<path d="M839.5 1551.0L856.5 1584.0H822.5Z" fill="#a6bd1a"/>
<path d="M842.5 1555.0L859.5 1588.0H825.5Z" fill="#a6bd1a"/>
<path d="M693.8 1749.8L710.8 1782.8H676.8Z" fill="#fe98b4"/>
<path d="M673.9 1787.5L690.9 1820.5H656.9Z" fill="#fe98b4"/>
<path d="M1109.3 1618.3L1126.3 1651.3H1092.3Z" fill="#66902c"/>
<path d="M1123.7 1635.9L1140.7 1668.9H1106.7Z" fill="#66902c"/>
<path d="M636.8 1899.1L653.8 1932.1H619.8Z" fill="#d97fc6"/>
<path d="M639.3 1886.3L656.3 1919.3H622.3Z" fill="#d97fc6"/>
<path d="M623.6 1966.5L640.6 1999.5H606.6Z" fill="#9e4fbf"/>
<path d="M624.6 1963.5L641.6 1996.5H607.6Z" fill="#9e4fbf"/>
<rect x="784.0" y="1454.6" width="34" height="34" fill="#f7d31a"/>
<rect x="782.0" y="1478.4" width="34" height="34" fill="#f7d31a"/>
<rect x="865.5" y="1389.6" width="34" height="34" fill="#a6bd1a"/>
<rect x="910.7" y="1406.3" width="34" height="34" fill="#a6bd1a"/>
<rect x="898.0" y="1411.0" width="34" height="34" fill="#a6bd1a"/>
<rect x="1172.4" y="1427.1" width="34" height="34" fill="#66902c"/>
<rect x="1198.0" y="1427.1" width="34" height="34" fill="#66902c"/>
<rect x="1202.9" y="1447.3" width="34" height="34" fill="#66902c"/>
<rect x="1288.7" y="1560.1" width="34" height="34" fill="#66902c"/>
<rect x="1332.0" y="1557.9" width="34" height="34" fill="#66902c"/>
<rect x="1318.2" y="1577.1" width="34" height="34" fill="#66902c"/>
<rect x="1358.9" y="1667.4" width="34" height="34" fill="#66902c"/>
<rect x="1358.9" y="1688.3" width="34" height="34" fill="#66902c"/>
<rect x="1388.7" y="1788.0" width="34" height="34" fill="#66902c"/>
<rect x="1422.0" y="1945.0" width="34" height="34" fill="#ffe8c1"/>
<rect x="1436.1" y="2005.9" width="34" height="34" fill="#ffe8c1"/>
<rect x="1418.8" y="2055.3" width="34" height="34" fill="#ffe8c1"/>
<rect x="1375.9" y="2131.5" width="34" height="34" fill="#ffe8c1"/>
<rect x="1374.3" y="2151.7" width="34" height="34" fill="#ffe8c1"/>
<path d="M602.5 1819.3L619.2 1836.0L602.5 1852.7L585.8 1836.0Z" fill="#d97fc6"/>
<path d="M632.9 1881.9L649.6 1898.6L632.9 1915.3L616.2 1898.6Z" fill="#d97fc6"/>
<path d="M658.5 1944.3L675.2 1961.0L658.5 1977.7L641.8 1961.0Z" fill="#9e4fbf"/>
<path d="M614.3 1970.0L631.0 1986.7L614.3 2003.4L597.6 1986.7Z" fill="#9e4fbf"/>
<path d="M677.8 1989.9L694.5 2006.6L677.8 2023.3L661.1 2006.6Z" fill="#9e4fbf"/>
<path d="M665.6 2012.6L682.3 2029.3L665.6 2046.0L648.9 2029.3Z" fill="#9e4fbf"/>
<circle cx="764.3" cy="1483.2" r="16.3" fill="#f7d31a" stroke="#000" stroke-width="4.8"/>
<circle cx="789.6" cy="1449.0" r="16.3" fill="#f7d31a" stroke="#000" stroke-width="4.8"/>
<circle cx="777.7" cy="1474.6" r="16.3" fill="#f7d31a" stroke="#000" stroke-width="4.8"/>
<circle cx="806.0" cy="1469.8" r="16.3" fill="#f7d31a" stroke="#000" stroke-width="4.8"/>
<circle cx="741.0" cy="1532.0" r="16.3" fill="#f7d31a" stroke="#000" stroke-width="4.8"/>
<circle cx="739.3" cy="1520.0" r="16.3" fill="#f7d31a" stroke="#000" stroke-width="4.8"/>
<circle cx="715.6" cy="1593.0" r="16.3" fill="#fe98b4" stroke="#000" stroke-width="4.8"/>
<circle cx="716.2" cy="1582.0" r="16.3" fill="#fe98b4" stroke="#000" stroke-width="4.8"/>
<circle cx="693.2" cy="1642.8" r="16.3" fill="#fe98b4" stroke="#000" stroke-width="4.8"/>
<circle cx="699.2" cy="1629.3" r="16.3" fill="#fe98b4" stroke="#000" stroke-width="4.8"/>
<circle cx="678.7" cy="1676.4" r="16.3" fill="#fe98b4" stroke="#000" stroke-width="4.8"/>
<circle cx="624.6" cy="1750.0" r="16.3" fill="#d97fc6" stroke="#000" stroke-width="4.8"/>
<circle cx="644.8" cy="1737.3" r="16.3" fill="#d97fc6" stroke="#000" stroke-width="4.8"/>
<circle cx="632.9" cy="1729.3" r="16.3" fill="#d97fc6" stroke="#000" stroke-width="4.8"/>
<circle cx="612.6" cy="1820.1" r="16.3" fill="#9e4fbf" stroke="#000" stroke-width="4.8"/>
<circle cx="615.0" cy="1820.7" r="16.3" fill="#9e4fbf" stroke="#000" stroke-width="4.8"/>
<circle cx="618.6" cy="1821.4" r="16.3" fill="#9e4fbf" stroke="#000" stroke-width="4.8"/>
<circle cx="602.5" cy="1867.2" r="16.3" fill="#9e4fbf" stroke="#000" stroke-width="4.8"/>
<circle cx="932.5" cy="1397.7" r="16.3" fill="#a6bd1a" stroke="#000" stroke-width="4.8"/>
<circle cx="928.7" cy="1399.3" r="16.3" fill="#a6bd1a" stroke="#000" stroke-width="4.8"/>
<circle cx="905.3" cy="1417.9" r="16.3" fill="#a6bd1a" stroke="#000" stroke-width="4.8"/>
<circle cx="1282.3" cy="1547.6" r="16.3" fill="#66902c" stroke="#000" stroke-width="4.8"/>
<circle cx="1267.9" cy="1571.3" r="16.3" fill="#66902c" stroke="#000" stroke-width="4.8"/>
<circle cx="1360.2" cy="1691.8" r="16.3" fill="#66902c" stroke="#000" stroke-width="4.8"/>
<rect x="568.8" y="1367.3" width="918.6" height="832.2" fill="none" stroke="#000" stroke-width="4.6"/>
<line x1="550.5" x2="566" y1="1521.6" y2="1521.6" stroke="#000" stroke-width="4.6"/>
<text x="534.0" y="1532.6" font-size="31.0" text-anchor="end" >50</text>
<line x1="550.5" x2="566" y1="1687.2" y2="1687.2" stroke="#000" stroke-width="4.6"/>
<text x="534.0" y="1698.2" font-size="31.0" text-anchor="end" >0</text>
<line x1="550.5" x2="566" y1="1852.7" y2="1852.7" stroke="#000" stroke-width="4.6"/>
<text x="534.0" y="1863.7" font-size="31.0" text-anchor="end" >−50</text>
<line x1="550.5" x2="566" y1="2018.2" y2="2018.2" stroke="#000" stroke-width="4.6"/>
<text x="534.0" y="2029.2" font-size="31.0" text-anchor="end" >−100</text>
<line x1="550.5" x2="566" y1="2183.8" y2="2183.8" stroke="#000" stroke-width="4.6"/>
<text x="534.0" y="2194.8" font-size="31.0" text-anchor="end" >−150</text>
<line y1="2201" y2="2217.5" x1="609.0" x2="609.0" stroke="#000" stroke-width="4.6"/>
<text x="609.0" y="2257.5" font-size="31.0" text-anchor="middle" >−100</text>
<line y1="2201" y2="2217.5" x1="759.3" x2="759.3" stroke="#000" stroke-width="4.6"/>
<text x="759.3" y="2257.5" font-size="31.0" text-anchor="middle" >−50</text>
<line y1="2201" y2="2217.5" x1="909.6" x2="909.6" stroke="#000" stroke-width="4.6"/>
<text x="909.6" y="2257.5" font-size="31.0" text-anchor="middle" >0</text>
<line y1="2201" y2="2217.5" x1="1060.0" x2="1060.0" stroke="#000" stroke-width="4.6"/>
<text x="1060.0" y="2257.5" font-size="31.0" text-anchor="middle" >50</text>
<line y1="2201" y2="2217.5" x1="1210.3" x2="1210.3" stroke="#000" stroke-width="4.6"/>
<text x="1210.3" y="2257.5" font-size="31.0" text-anchor="middle" >100</text>
<line y1="2201" y2="2217.5" x1="1360.7" x2="1360.7" stroke="#000" stroke-width="4.6"/>
<text x="1360.7" y="2257.5" font-size="31.0" text-anchor="middle" >150</text>
<text x="1028.0" y="2297.0" font-size="31.8" text-anchor="middle" >PC1 (43%)</text>
<text font-size="31.8" text-anchor="middle" transform="translate(450.5 1802.5) rotate(-90)">PC2 (19%)</text>
</g>
</svg>
</body></html>
